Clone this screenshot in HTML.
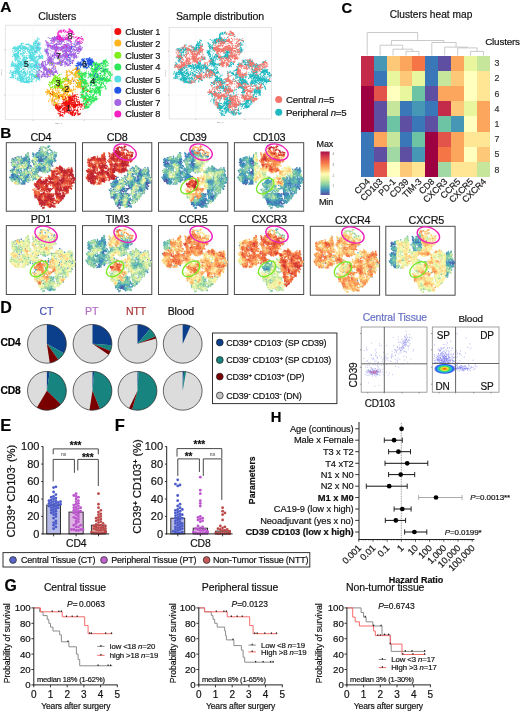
<!DOCTYPE html><html><head><meta charset="utf-8"><title>Figure</title><style>html,body{margin:0;padding:0;background:#fff}svg{display:block}text{font-family:"Liberation Sans",sans-serif;stroke-width:.18px}</style></head><body>
<svg width="520" height="712" viewBox="0 0 520 712">
<rect width="520" height="712" fill="#fff"/>
<text x="0.2" y="11.6" font-size="15.5" font-weight="bold" fill="#000" stroke="#000">A</text>
<text x="57.2" y="20" font-size="10.6" text-anchor="middle" letter-spacing="-0.1" fill="#111" stroke="#111">Clusters</text>
<text x="220" y="19.6" font-size="10.6" text-anchor="middle" letter-spacing="-0.1" fill="#111" stroke="#111">Sample distribution</text>
<rect x="5.3" y="25.2" width="106.7" height="94.5" fill="#fff" stroke="#dedede" stroke-width="0.8"/>
<line x1="33" y1="25.2" x2="33" y2="119.7" stroke="#f1f1f1" stroke-width="0.6"/>
<line x1="5.3" y1="49.8" x2="112.0" y2="49.8" stroke="#f1f1f1" stroke-width="0.6"/>
<line x1="58.6" y1="25.2" x2="58.6" y2="119.7" stroke="#f1f1f1" stroke-width="0.6"/>
<line x1="5.3" y1="72.5" x2="112.0" y2="72.5" stroke="#f1f1f1" stroke-width="0.6"/>
<line x1="84.3" y1="25.2" x2="84.3" y2="119.7" stroke="#f1f1f1" stroke-width="0.6"/>
<line x1="5.3" y1="95.1" x2="112.0" y2="95.1" stroke="#f1f1f1" stroke-width="0.6"/>
<line x1="33" y1="119.7" x2="33" y2="120.9" stroke="#999" stroke-width="0.5"/>
<line x1="4.1" y1="49.8" x2="5.3" y2="49.8" stroke="#999" stroke-width="0.5"/>
<line x1="84.3" y1="119.7" x2="84.3" y2="120.9" stroke="#999" stroke-width="0.5"/>
<line x1="4.1" y1="95.1" x2="5.3" y2="95.1" stroke="#999" stroke-width="0.5"/>
<text x="58.6" y="123.9" font-size="2.2" text-anchor="middle" fill="#777">tsne_1</text>
<text x="2.3" y="72.5" font-size="2.2" text-anchor="middle" transform="rotate(-90 2.3 72.5)" fill="#777">tsne_2</text>
<rect x="169.1" y="27.5" width="102.3" height="91.4" fill="#fff" stroke="#dedede" stroke-width="0.8"/>
<line x1="195.7" y1="27.5" x2="195.7" y2="118.9" stroke="#f1f1f1" stroke-width="0.6"/>
<line x1="169.1" y1="51.3" x2="271.4" y2="51.3" stroke="#f1f1f1" stroke-width="0.6"/>
<line x1="220.2" y1="27.5" x2="220.2" y2="118.9" stroke="#f1f1f1" stroke-width="0.6"/>
<line x1="169.1" y1="73.2" x2="271.4" y2="73.2" stroke="#f1f1f1" stroke-width="0.6"/>
<line x1="244.8" y1="27.5" x2="244.8" y2="118.9" stroke="#f1f1f1" stroke-width="0.6"/>
<line x1="169.1" y1="95.1" x2="271.4" y2="95.1" stroke="#f1f1f1" stroke-width="0.6"/>
<line x1="195.7" y1="118.9" x2="195.7" y2="120.10000000000001" stroke="#999" stroke-width="0.5"/>
<line x1="167.9" y1="51.3" x2="169.1" y2="51.3" stroke="#999" stroke-width="0.5"/>
<line x1="244.8" y1="118.9" x2="244.8" y2="120.10000000000001" stroke="#999" stroke-width="0.5"/>
<line x1="167.9" y1="95.1" x2="169.1" y2="95.1" stroke="#999" stroke-width="0.5"/>
<text x="220.2" y="123.1" font-size="2.2" text-anchor="middle" fill="#777">tsne_1</text>
<text x="166.1" y="73.2" font-size="2.2" text-anchor="middle" transform="rotate(-90 166.1 73.2)" fill="#777">tsne_2</text>
<g transform="scale(0.1)" fill="none" stroke-linecap="round" stroke-linejoin="round"><path d="M376 378zm6 8zm10 5zm-1-1zm-14 21zm-4-8zm0 7zm-1-16zm0 7zm-3 0zm-7 11zm-7 1zm-1-3zm-5-10zm-1 15zm-138 21zm6 1zm3 8zm0-13zm13 2zm27 14zm2-6zm8 2zm12 1zm0-8zm3 4zm8 5zm42-1zm1-8zm0 6zm1-13zm0 10zm3-15zm4 16zm0-6zm1 0zm0 1zm2-6zm5 5zm2-3zm3-10zm2 26zm1-8zm4-3zm2-12zm1-5zm8 13zm1 6zm1 10zm8-28zm2 20zm4 7zm2-7zm0 8zm0-1zm1-4zm6-9zm0-12zm0 4zm1 19zm1 3zm0 26zm-8-6zm-2-17zm-1 0zm-4 19zm0-20zm-2 2zm0 23zm-1-3zm0-5zm0 10zm-1-7zm-2-15zm0 11zm-1-9zm-1 3zm-2-1zm-2 18zm-1-24zm0 21zm-1-8zm-1-9zm-5 11zm0 1zm-3 8zm0 1zm-1-20zm-3 14zm-2-18zm-2 15zm-4-14zm-9 14zm0 5zm-1-17zm0 12zm-1-13zm-2 2zm-2 19zm-2-18zm-1 10zm-1 9zm-1-21zm-4 6zm-3 12zm-7-14zm0-1zm-1-1zm0 3zm-2 8zm-1 7zm-5-5zm0-18zm-1 9zm-1-13zm0 3zm-1 3zm-2 10zm-5-8zm-7 18zm-3-19zm-9 21zm-9-1zm-5-5zm-13-9zm0 7zm0 3zm-2 5zm0-13zm-1 5zm-7-8zm-3 11zm0-3zm-6 2zm-1 1zm0-10zm-1 4zm-1-4zm-2-6zm-1 20zm-6-9zm-1-11zm-11-8zm-1 8zm0 16zm-3-15zm-1 20zm-1-2zm-2-8zm0-4zm0 9zm-3-8zm-1-12zm-2 22zm-3-6zm0-10zm-5 0zm0 17zm0-3zm0 1zm-9 1zm-2-13zm-2 16zm-7-1zm-2-3zm-8-9zm-7 8zm-1-1zm-3 1zm-10-2zm-10 36zm1-24zm10 2zm0-5zm4 4zm4 14zm4-17zm0 1zm3-1zm3 4zm0 7zm2-3zm1 2zm3 15zm1-9zm0-12zm1 5zm2-2zm2-7zm1 7zm0-2zm2 18zm2-23zm1 1zm1 10zm4-8zm2 1zm1-6zm1 7zm0-1zm1 22zm0-15zm3-7zm6 17zm9-2zm1-19zm2 1zm0 16zm2 7zm1-11zm5-11zm7 6zm4-10zm1 6zm1 7zm7-10zm2 20zm5-15zm0-3zm7 19zm1-23zm4 7zm0 6zm8-6zm0-2zm1-2zm2 2zm0 1zm0 1zm1 2zm2 1zm0-6zm1 4zm2-2zm2-4zm2 3zm1 0zm2 14zm1-11zm0 12zm0-13zm2-7zm1 15zm1 13zm0-16zm1-4zm3 3zm2 1zm4 0zm0 0zm4 7zm5 4zm2-9zm0 8zm6-20zm1 19zm1-13zm0 0zm1 1zm0-4zm1 4zm0-8zm3 19zm1-2zm1 4zm4 6zm1-23zm1 1zm3 11zm0-12zm2-3zm6 15zm0-5zm1-9zm6-1zm2 16zm0-11zm2 5zm1 12zm9-23zm6 6zm2 20zm1-9zm0-8zm1-1zm2-7zm0 10zm2 5zm1-13zm2 22zm2-8zm0 3zm1-1zm1-15zm1-5zm3 4zm0 4zm5 13zm0-20zm1 4zm1-4zm1 12zm2-8zm1 0zm5 10zm0-4zm1 9zm1 8zm1-26zm2 10zm0-12zm1 8zm9-9zm46 14zm27 41zm-5-16zm-19 4zm-9-11zm-40 23zm-10-12zm-18-13zm-7 21zm-5-3zm-1-5zm-1-11zm-2 7zm-2 6zm0-15zm-3 2zm-2 8zm-5-7zm0 12zm0-11zm-1 16zm-1 1zm-3-20zm0 10zm-1-11zm0 10zm-1 7zm0-6zm0-3zm-3 0zm-1-3zm-3 14zm-5 2zm-6-6zm0-7zm-3 18zm-5-15zm-1 8zm-5-7zm-3 2zm0-1zm-5 5zm-1 7zm-1-3zm-2 5zm-2-6zm-1-12zm-1 1zm-1 14zm-1-23zm-5 13zm-2-10zm0 1zm-1 15zm-10-14zm-11 19zm-12-22zm0 7zm-8 0zm-5 11zm-5 4zm0-8zm-1 5zm-6-21zm0 14zm-6 6zm-1-18zm-9 24zm-7 0zm-1 0zm-2-2zm-1-20zm-6-5zm-10 28zm-1-14zm-1 8zm-1-10zm-1-11zm-1 3zm-3 19zm-2-20zm-3 10zm0 16zm-5-1zm-3-7zm-2 7zm-7-20zm-1-1zm-2 19zm-3 2zm-3-28zm-1 5zm-7 18zm-8-10zm-6 42zm4-16zm7 8zm5-9zm1-6zm1 16zm0 4zm3 0zm0-10zm3 6zm0-1zm2-5zm1 1zm0 1zm0 3zm1-11zm1 5zm0 10zm0-11zm0 2zm1-5zm1 12zm0-6zm0-3zm2-2zm0-1zm0 2zm2 2zm1-9zm1 8zm1 4zm0-6zm0 3zm1 3zm0-6zm0-7zm1 7zm0-1zm0 8zm1 1zm1-16zm0 9zm0 8zm2 4zm0-5zm2 2zm0-14zm1 16zm0-5zm1 8zm0-10zm2-12zm0 19zm1-13zm0 17zm0-13zm1 18zm1-17zm0 3zm2 11zm0-6zm1 1zm0-2zm1 4zm1-9zm2 3zm0 11zm1 0zm3-8zm1 3zm14-17zm2-6zm12 9zm3 12zm1 2zm4-5zm3-5zm2-13zm12 19zm17 0zm2-2zm18-4zm9 13zm1 0zm3-16zm0 5zm7-8zm0 1zm0-7zm0 22zm2-6zm0 1zm2 4zm1-19zm0 0zm0 8zm1-6zm0 11zm2 5zm5 2zm1-7zm0 9zm1 4zm0-6zm0-15zm0 13zm2 0zm0-1zm0 2zm0-11zm1 16zm0-24zm0 21zm2 3zm3-15zm1 17zm0-2zm2 2zm3 0zm1-3zm1 0zm0-10zm2-9zm3-5zm2 11zm0 10zm0-21zm11 2zm14 18zm10 3zm8 4zm6-18zm2 10zm5-11zm2-4zm3 22zm3-2zm1 0zm6 2zm3-15zm3 15zm2-11zm6 6zm2-6zm0 5zm62 26zm0 4zm-1 1zm-59-18zm0 5zm-4 2zm-3-8zm-7 0zm-4 8zm-3-9zm-2 0zm-4-2zm-2 13zm-3-12zm-2 14zm-1-6zm-11 7zm0 6zm-13 2zm-6-25zm-2 11zm-2-3zm-1-7zm-2 6zm-4 13zm-1 7zm-1-6zm-2-10zm-1 3zm0-8zm-1-6zm-3 9zm-2-1zm-3 20zm-3-2zm-1-9zm-2-17zm-1 14zm-2-13zm-1 24zm-1 4zm0-12zm-1 0zm0-12zm0 11zm-1-9zm0 3zm-1 5zm-1-10zm0 21zm0-19zm-1-1zm-2 21zm0-19zm0 10zm-1-8zm0-8zm0 19zm-1-9zm-2 14zm0-12zm0-6zm-3 5zm0-8zm0 10zm-1-15zm0 0zm-1 17zm0-12zm-2 1zm0-1zm0 1zm-1 13zm0-10zm-2-9zm-1 13zm0-8zm-1 15zm-3-3zm-2-17zm-1 3zm-4 12zm-3-9zm-2 1zm-3-2zm-13 11zm-2-8zm-3-5zm0 11zm-3 2zm-3 9zm0-15zm-5 16zm0-26zm-2 3zm-5 20zm-1 6zm-3-14zm-1-11zm-1 21zm-1-3zm-3 4zm-1-13zm0-7zm-2-1zm-3-4zm-1 22zm-1-8zm-1-1zm-1 11zm-1 1zm-9 3zm-16-10zm-2-4zm-3-4zm-10-5zm-2 7zm-6-8zm-2 24zm-9-26zm0 16zm-1 8zm-1-25zm0 5zm-5 20zm0-19zm-3 5zm0-13zm0 29zm-1-11zm0-13zm-2-4zm-1 23zm-3-20zm-4-2zm-2 17zm-2-1zm-23 24zm2 7zm7 9zm20-21zm3-6zm0 7zm20 6zm3 14zm2-14zm1-10zm2 1zm3 15zm6-19zm3 11zm2 2zm3 14zm0-17zm7 8zm5-6zm1 10zm0 2zm3-7zm11 0zm3-12zm1 6zm4 12zm0-17zm2 11zm0 0zm1 9zm3-5zm5 7zm1-24zm3 21zm1-13zm2 14zm2-10zm1-15zm0 2zm2 17zm4 6zm0-17zm1 11zm0-13zm9 14zm4-10zm4 13zm12-16zm10 0zm5-6zm8-1zm4 5zm6-4zm1 1zm6-3zm3 6zm2 2zm0-3zm2 10zm2-4zm2-10zm1 16zm1 0zm0-4zm1 1zm0-2zm1 2zm1 4zm0 3zm0-22zm1 8zm1 4zm1-2zm2 17zm1-8zm2 8zm2 0zm1-13zm0 14zm1-15zm3 16zm0-5zm0-11zm4 14zm1-2zm0-4zm2-14zm1 18zm4-3zm2-17zm2 22zm1-9zm0-17zm55 37zm-34 8zm-4-15zm-9 24zm-6-14zm-5 17zm-1-26zm-2 22zm-4-8zm0 11zm-1 0zm0-6zm-2 5zm-1-2zm0-18zm-1 18zm-2-6zm0-3zm-1 10zm0 1zm-1 2zm0-6zm0 7zm-1-18zm0 16zm-2 0zm0-8zm-1 5zm-2-11zm0 13zm-1-19zm0 22zm0-5zm0 4zm0-18zm-1 5zm-2 10zm0-3zm-2 4zm-2-11zm0 13zm-1-2zm0 2zm-2 0zm0-3zm-3-15zm-5 19zm0-4zm-1 2zm-5-12zm-1 11zm0-22zm-1 3zm-11-1zm-5 11zm-1-5zm-2 6zm-1 10zm-1-5zm0-2zm-2 4zm-2-2zm-1-9zm-2-4zm0-8zm0 19zm-4-21zm-8 21zm-3 8zm0-5zm-3-12zm-2 6zm-1-5zm-4 12zm-4-10zm-3-8zm0 10zm0 11zm-6-15zm-3 11zm-1-20zm-4-2zm-2 12zm-4 3zm-11-2zm-1-9zm-2 22zm-2-11zm-4-2zm-4 5zm-2-14zm-1-4zm-2 15zm-1-10zm-1 4zm0 5zm-1-8zm0 5zm0 4zm-1-10zm-1-4zm0 22zm0-17zm-1-2zm-2 6zm-3 14zm-1-14zm-1-4zm0-8zm0 29zm-1-14zm0-5zm-1-8zm0 17zm-3-12zm-2-5zm0 5zm0 8zm0-3zm-1 6zm-2-9zm0-9zm-1 19zm-1 3zm0-17zm0 8zm-2-7zm-1-3zm-3 22zm-1-13zm0 17zm-1-10zm0-10zm-2-8zm-1 13zm-1-6zm-2 14zm0-10zm0 4zm-1 12zm-1 0zm0-9zm0 0zm-2 6zm0 2zm-1-1zm-2 0zm-1-3zm-1 4zm-1-9zm0 7zm-1 1zm-2 3zm0-6zm-7-21zm-2 15zm-2 9zm-1-13zm-2 1zm0 5zm-12 3zm-1-16zm-2 2zm0-7zm-1 21zm-1-12zm-1 15zm-3-1zm-3-7zm-1-5zm-2 16zm-4-18zm-1-2zm0 5zm-2-7zm-1 9zm0 13zm-2-27zm0 28zm-3-12zm-3 18zm11-4zm19 0zm0 8zm5-5zm0-2zm5 26zm1-6zm1-18zm1 17zm1 2zm1 5zm4-20zm1-6zm2-2zm4 9zm0 1zm0 4zm0 0zm1-10zm0-2zm1 17zm1-1zm1 6zm1-2zm2-10zm0-7zm0 1zm0 23zm1-22zm1 11zm0 6zm2-14zm1 14zm1-21zm0 23zm1-24zm0 5zm1 7zm1 3zm0-11zm2-6zm2 17zm0-14zm1 22zm4-17zm1 11zm1 1zm3-1zm2 9zm1 0zm0-8zm3-16zm8-3zm0 11zm2-7zm4 12zm0 1zm10-12zm6 19zm6-23zm1 26zm4-19zm8 20zm5-28zm9-1zm12 14zm10 5zm1-19zm2 1zm2 14zm6-14zm6 20zm1-18zm2 19zm1-19zm1 5zm1-6zm0 0zm1 27zm2-15zm3-7zm1 1zm1 6zm2-12zm0 10zm0-3zm1 1zm0-9zm1 12zm1 5zm10-13zm1-3zm1 0zm1 22zm2-14zm1-2zm0 1zm2-9zm0 17zm3-13zm3 2zm0 10zm2-13zm1-1zm0 12zm2-12zm2 1zm1 10zm1-3zm3 3zm0-2zm5-1zm1-3zm1-1zm0-2zm1-1zm1 3zm1 22zm1-20zm1-6zm0 3zm1-5zm1 11zm1 9zm0-8zm1 10zm3-15zm4 22zm7-22zm0 8zm1-15zm1 28zm0-24zm1 12zm0-7zm1-6zm5 9zm9 13zm0-10zm2-12zm-16 31zm-2 6zm-2 0zm-3-5zm-2-2zm-1 10zm-2-12zm-12 26zm-2-5zm-7-7zm-5-14zm-10 3zm-6 24zm-3-27zm-10 20zm-4-12zm-9 8zm-10 5zm-4 6zm-8-1zm-2-23zm-16 14zm-1 9zm-23-14zm-2 8zm-6 7zm-5-24zm0 2zm0 20zm-2-3zm-3-19zm-3 1zm-10 10zm-1 1zm-2 13zm-2-3zm-4-3zm-1-5zm-1 5zm-9 6zm0 0zm-3-22zm-3 20zm-1 0zm-6-12zm-1-5zm0-5zm-1 22zm0-2zm-1-4zm-1-11zm0 14zm-1-11zm0-5zm0 4zm0 16zm-2-11zm-1 9zm0-26zm0 13zm0 5zm0-13zm-1 9zm0-2zm-1 1zm-2 9zm0-1zm-1-11zm0 14zm-1-23zm0-1zm0 22zm0-19zm-1 9zm-2-12zm0 27zm0-12zm-1 5zm-1-11zm-1 15zm-1-9zm-1-2zm-3-12zm-2 28zm-5-3zm-1-9zm-1-3zm0 14zm-2-27zm-2 27zm-1-4zm0 5zm-12-1zm-2-6zm-23-5zm-2 12zm-9 13zm18 10zm1-18zm3 0zm4 15zm1 10zm1-3zm1-22zm2 14zm2-4zm5-3zm2-1zm3 4zm10 4zm6-9zm0-3zm2 8zm3 7zm1 1zm6-17zm1-5zm0 3zm3 9zm0-12zm3 0zm2 6zm1 10zm1-4zm1-9zm2 21zm1-19zm0 11zm2-14zm0 4zm1 22zm1-1zm0-5zm1-3zm0-9zm0 5zm1 1zm0-7zm2 15zm2-13zm1 7zm3 9zm1-24zm1 14zm0-5zm4 9zm3 1zm3 2zm8-19zm2 24zm2-20zm2 20zm2-2zm3-7zm2-14zm1 10zm3-10zm0-3zm8 10zm3-3zm3-5zm1 22zm0-21zm1 3zm1-1zm2 4zm2 5zm0-13zm4 22zm0-8zm6 5zm9-15zm0 8zm2 2zm2 2zm0-9zm16 11zm1-17zm4 1zm2 18zm7-12zm3 6zm4 3zm1 4zm4 1zm0-2zm4-11zm5 8zm5 7zm8 1zm4-29zm12 9zm9 4zm1 15zm4-2zm2-20zm2 4zm13 7zm50-14zm-49 49zm-5 1zm-3 3zm-3-7zm0-3zm-2-9zm-1 2zm-1-2zm-2 5zm0 9zm-1-11zm-3-5zm-2-4zm-1 1zm0 19zm-3-12zm0 0zm-1 15zm0-16zm0 6zm-1-13zm0 23zm0-7zm-1 11zm0-7zm0 1zm0-1zm-1-10zm0-3zm-1 1zm0-3zm0 11zm0 10zm-1-5zm-1-10zm0-12zm0 10zm-1-8zm0 11zm0-9zm-2 1zm0 11zm0 7zm0-6zm0-13zm-1 20zm0-17zm0-4zm-1 14zm0-7zm0-8zm0 19zm-1-16zm0 9zm-1-8zm0 9zm0 13zm-1-13zm-1 8zm0-9zm0 8zm-1 4zm-3-1zm0-9zm-1-6zm-1 0zm-3 11zm-1-8zm-1 3zm-3-6zm-1-9zm0 3zm-1 5zm-3-5zm0 0zm-2 8zm-9 11zm0 3zm-2-25zm-1 8zm0 10zm0 9zm-1-28zm-1 2zm-14-2zm-4 21zm-1-17zm0-3zm-1 20zm-7-3zm-3 0zm-2 5zm-10 6zm-8-10zm-3-14zm-5 24zm-3-26zm-4 1zm-1 13zm-6-6zm-2 0zm-4-2zm-2 17zm-4-7zm-3 5zm-6 0zm-2-2zm0-8zm-2 11zm0-25zm-4 16zm0-15zm-1 25zm-3-18zm-1 4zm-1 14zm-1-17zm-1 5zm-1 1zm-1 2zm-1-14zm0 18zm-2 7zm-3-12zm-4 9zm-1-18zm-11 10zm-2 7zm-21-15zm-4 1zm-15-2zm0 12zm-1 7zm0-8zm0-17zm-1 25zm-1-3zm0-20zm0 3zm0-3zm-2 17zm-7 1zm-1 1zm-1-16zm-3 6zm0-10zm-2 25zm0-20zm-9 16zm-9-1zm54 11zm2-3zm13 9zm2-5zm5 14zm1-18zm0 15zm1 6zm3-11zm1-3zm9 14zm1-16zm4 17zm4-21zm0 23zm0-25zm2 8zm1 6zm0 14zm3-24zm1 23zm2-3zm0-18zm1 18zm0-22zm0 4zm0-6zm1 14zm1 5zm0-16zm0 19zm2-8zm1-9zm1 9zm0 2zm0 4zm1-9zm4 1zm0 4zm0 13zm0-26zm2 20zm0 0zm1-1zm1-19zm0 12zm1 14zm1-15zm0-5zm1 12zm0 6zm3-27zm3 10zm0 18zm0-21zm2-2zm4-2zm1 12zm1-15zm14 13zm0 16zm10-25zm0 13zm0-17zm4 6zm3 20zm1 2zm0-4zm1 4zm6 1zm4-15zm5-14zm1 18zm5-11zm2-6zm10 12zm4 13zm0-6zm0 5zm2-25zm7 7zm2 9zm5 4zm11-11zm0-4zm22 19zm1-24zm6 12zm2-11zm2 7zm0-8zm8 0zm0 5zm2-2zm1 6zm2-5zm0 9zm1-10zm1-3zm2 5zm2 14zm7 0zm-37 14zm-35 3zm-13-6zm0 9zm-11-4zm-5-2zm-6 8zm-1-6zm-1 3zm0-6zm0 1zm-1 0zm-1 16zm0-1zm-6-5zm-2-9zm-5 5zm-3 8zm-3-2zm-1-2zm-2-11zm-2-1zm-1 1zm0 11zm-2 2zm-6-13zm-3 12zm-4-11zm0 8zm-4-10zm-1 7zm-2 5zm-3 0zm-2-10zm-3 1zm0-4zm-2 4zm-2-1zm-2-3zm-1 2zm-1-1zm-4 2zm-1 7zm-2-9zm-9 12zm-4-10z" stroke="#55dde2" stroke-width="12"/><path d="M587 326zm43 33zm-27-1zm-11-1zm-10 2zm-100 16zm15 8zm14 0zm12-1zm3-8zm2 15zm1-2zm2-7zm2-2zm5 2zm0 1zm4-6zm3 9zm0-19zm0 9zm2 14zm2-11zm1 4zm0 3zm1 4zm1-4zm3-5zm0 8zm0-10zm1 3zm1 3zm0 6zm1-7zm1 7zm2-5zm1-13zm0-4zm1 8zm0 3zm1-13zm0 14zm0-1zm0-9zm1 16zm1-13zm0-4zm2 7zm1-1zm1-6zm0 18zm0-6zm1 8zm0-5zm1 4zm2-11zm0-10zm2 21zm0-27zm0 20zm0-20zm2 17zm0-11zm2 9zm1 12zm0-8zm3 4zm1 3zm0-21zm1 1zm1 10zm2 4zm1-6zm0 9zm1-9zm0 1zm2 6zm1-2zm0 8zm0-26zm2 26zm0-11zm0 10zm1-6zm3-9zm0 7zm1 8zm2-8zm1 11zm1-3zm1 0zm0-10zm2 9zm2-10zm0 4zm1 8zm3-9zm8 0zm10 3zm3 7zm0-6zm8-6zm8 9zm6-1zm1-3zm5-2zm9 7zm0-1zm7-2zm0-8zm5 0zm104 41zm-17-4zm-1-19zm-13 12zm-2 14zm-1-1zm-50-9zm-2 10zm-1-6zm-1-8zm-7-8zm-4 14zm-2-11zm-1-8zm-2 16zm-3-17zm0 4zm-6 6zm-4-3zm-2-6zm0 1zm-1 25zm-4-21zm-2-3zm-8-3zm0 4zm-3 1zm0-3zm-3 0zm-4 7zm-6-4zm-4 16zm-1-10zm-1 10zm0 2zm0-10zm-1-5zm0-4zm-1 11zm-2 1zm0-1zm-2 1zm-1-5zm0 5zm-1 0zm-1-8zm-1 13zm0 0zm0-2zm-1-15zm-1 12zm0-10zm0 2zm-1 10zm-2 8zm-1 2zm0-26zm-1 15zm-2-13zm0 0zm-1-2zm0 10zm-1 11zm-2-17zm0 4zm0-5zm0 2zm0-1zm-1 6zm-1-8zm-2 14zm0-8zm-1-1zm0-5zm-2 4zm0 19zm-4-18zm-1 6zm-3 1zm-1-9zm-2 17zm-2-1zm-2-4zm0-14zm-4-1zm-7 3zm-3 15zm-2-18zm0 17zm0-20zm0 1zm-7 6zm-2-5zm-5 4zm-1-5zm-3 7zm-2 10zm-1-16zm-4 8zm-1-6zm-1 9zm-3 7zm-1-21zm0 6zm-1 9zm-1-12zm-2 8zm-3 9zm0-19zm-1 17zm0-11zm-4 13zm-7-9zm-1 11zm0-4zm-2-4zm-4-6zm-5 4zm-3 3zm-44 10zm-2-8zm-4 1zm-73 24zm79 16zm1-18zm9-8zm3 14zm2 12zm7-2zm2-19zm4 16zm1-5zm16-4zm1-3zm10-12zm1 6zm2 8zm13 5zm7-16zm4 22zm10-3zm2 2zm6 0zm3-10zm1 15zm4-5zm1 4zm1-4zm1-4zm1-19zm6 22zm2-3zm5-19zm1 15zm2 3zm1 5zm1-17zm1 12zm1-11zm8-8zm3 19zm2 8zm8-10zm4-13zm19 21zm6-22zm4 21zm12 0zm1 5zm6-5zm3-8zm9 3zm1-3zm8 6zm3 6zm17-24zm2 11zm1 10zm10-9zm19 3zm1-19zm4 19zm14 6zm2-7zm1-2zm2-6zm0 19zm7-24zm2 7zm0 10zm7-14zm2 18zm1-16zm6 5zm4-11zm0 3zm1 20zm4-11zm0-1zm11-1zm4 1zm11 42zm-15 0zm-2-12zm-1 13zm-5-19zm-6 6zm-3-1zm-1 6zm-8 0zm-4 7zm-8 2zm-2-28zm-3 27zm-9-27zm-1 9zm-1 16zm-3-14zm-1 4zm-1 0zm-8 3zm-2-3zm-9 2zm-2-6zm0 1zm0 2zm-5 4zm-1 1zm-1 1zm-2-7zm-2 6zm-3-5zm-3-14zm-1 15zm-2-6zm-1 4zm0 11zm-2-9zm-2 1zm-5 12zm-1-10zm-2-8zm-3 16zm0-10zm-1 9zm-1-22zm-3 16zm0 3zm-1-21zm-5 8zm-2 13zm-5-18zm0-1zm-1 15zm0 0zm-1 6zm-1-11zm0 13zm-1-14zm0 9zm0-2zm-1-15zm-5 14zm0 7zm-3-22zm0 2zm-1 20zm-2-23zm-2 17zm-1-4zm-2-9zm-1 17zm0-5zm-1 7zm0-3zm-6-1zm-1 5zm-2-19zm-1-7zm-4 26zm-1-3zm-3 3zm-2-13zm0 4zm-3-16zm-6 13zm-1 8zm-5-8zm-1 3zm-2-2zm-1 8zm-1-8zm-6 11zm-1 1zm-4-3zm-11-4zm-6 4zm-3-6zm-5 7zm-3-2zm0 1zm-1-9zm-5 4zm0-20zm0 26zm-1-9zm0 6zm-2-16zm-1 11zm-2 7zm-1-17zm-1 9zm0 12zm-1-10zm-1-1zm0 11zm0-19zm0 9zm-5-8zm0 16zm-2 0zm0-19zm-2 20zm-1-2zm-2-25zm-2 12zm0-9zm0 14zm0-8zm-2 9zm-1 8zm-1-1zm-1-9zm-1 5zm-2-2zm-1-15zm-1 8zm0 12zm-1-6zm-2-6zm-1 12zm0-13zm0 5zm-1 10zm-2-20zm-1 7zm0-4zm-1 5zm0 4zm-2-3zm-1 3zm-2 9zm-1-14zm-2-2zm-1 10zm0-13zm-1 10zm-8-6zm-1 4zm-2 3zm-2 0zm-1 9zm-3-23zm-2-3zm-4 8zm-4-3zm0-2zm-2 11zm-1-14zm-5 26zm-3-18zm0 7zm-2-7zm0-4zm-96 20zm69 15zm2 17zm2 0zm10-7zm0 3zm1-3zm2 7zm0-15zm5-6zm0 17zm2 4zm2-15zm1 2zm9-1zm16 8zm12-17zm2 2zm13-6zm1 15zm2-9zm6 2zm4-6zm1 5zm1-2zm2 5zm5 2zm0-4zm0 18zm1-17zm4 8zm0-3zm1-15zm1 7zm1 12zm7-4zm0-14zm1 13zm0-5zm1 17zm3-16zm4 9zm0-12zm1 11zm1-12zm3 3zm0-10zm1 9zm1-7zm3 14zm5-12zm1 0zm4-3zm1 0zm4 17zm0-6zm2 2zm5 4zm4-14zm0 14zm3-10zm0-1zm1-5zm1 1zm1 16zm4-11zm1 0zm1-2zm2 22zm1-25zm1 1zm1 0zm2 14zm1-8zm4-8zm4 0zm2 25zm0-20zm2-3zm0 2zm2 21zm4 2zm2-17zm1 7zm4-18zm1 28zm2-29zm1 19zm5-9zm1 3zm1 12zm0 0zm0-24zm1 17zm0 10zm0-2zm1-22zm1 9zm1 15zm0-12zm1-15zm1 23zm0-24zm0 0zm1 3zm2 3zm1-1zm0 0zm2 20zm3-1zm2-21zm1 13zm1 12zm1-21zm1 1zm2 3zm5 16zm0-21zm3 15zm3 8zm1-13zm1-3zm1-8zm2 17zm0-13zm1 18zm1-11zm0 13zm2-12zm0-14zm1 2zm16 14zm2 2zm2-10zm8 1zm1-5zm2 16zm3-8zm3 2zm3 5zm1-8zm8 11zm7-16zm2 6zm6 2zm2 3zm2-7zm1 5zm2 9zm3 1zm3-11zm0-13zm2 6zm8-9zm3 16zm1-10zm3-3zm2 12zm1-9zm0 19zm0-21zm0-5zm1 23zm0-20zm0 3zm2-5zm3 9zm3 7zm0-7zm2 2zm-18 19zm-7 11zm-1-8zm-4 20zm-1-21zm-3-2zm-8 24zm-3-21zm-1-3zm-4-1zm-8 16zm-2 4zm-1-2zm-2 7zm0 3zm-4-4zm-8-18zm-1 21zm-4-15zm-2 17zm-6-6zm-1 6zm-7-25zm-1 1zm-3 3zm-1 17zm-2-9zm-2-6zm-4-6zm-5 18zm-1-11zm0 18zm-3-14zm-1 5zm-1 6zm-1 0zm-2-21zm-9 2zm-1-5zm0 1zm-10 25zm-1-25zm0 21zm0-21zm-7 6zm-1 14zm-1-20zm0 9zm0 10zm-9 3zm-1-23zm0 20zm-1 7zm-1-22zm0 0zm-2-2zm-11 15zm0-18zm-1 25zm-2-22zm-3-1zm-8 5zm-51 8zm-7-4zm-4 10zm-2-14zm-1-1zm-2 19zm-3-25zm-4 10zm-1-4zm-4 9zm-1 12zm-2-1zm-4-2zm-2-6zm-19-12zm-15 20zm-16-3zm-5-7zm0 10zm-5-24zm0-4zm-5 15zm-1 8zm0-16zm-1-4zm0 0zm-1 9zm0 8zm-1-15zm-1 15zm-2-15zm-1-5zm0 17zm-2 12zm-8-25zm-1-3zm-97-1zm35 52zm84-13zm3 19zm1-12zm4-4zm0-5zm13 18zm0 3zm1-4zm4 3zm8-15zm10 12zm1 0zm4-16zm1 8zm1-8zm0 16zm4-11zm3 7zm1-2zm7-18zm1 14zm1 14zm1-14zm0 14zm0-21zm0-3zm0 6zm1-10zm6 5zm0 11zm1-7zm1 5zm1-13zm8 9zm3 10zm1 5zm2-12zm0 2zm1 11zm0-8zm0-15zm2 9zm1 12zm0-6zm4 9zm0-6zm2 7zm2-8zm0-7zm1 11zm1-16zm0 18zm3-12zm0-3zm2 4zm1 8zm4-13zm1 19zm3-14zm4 9zm3-2zm3-10zm8 14zm4-12zm5-3zm4 13zm1-21zm3 20zm0-12zm1 4zm0 1zm5-2zm5 4zm0 8zm1 0zm1-11zm4 0zm0 10zm1-2zm0-23zm1 24zm2-21zm1 4zm1 5zm0 12zm1-18zm1-2zm1 19zm1-7zm0 11zm4-12zm0 6zm1-9zm0-7zm0-2zm2 14zm4-5zm1-10zm3 18zm1-5zm2-2zm0 2zm2 12zm1-21zm1 18zm1-18zm1 18zm1-23zm0 14zm1 3zm0-6zm0 9zm3-9zm1-7zm2 6zm5-7zm0 8zm3-6zm1-2zm1 1zm3 14zm2-8zm0 2zm0-7zm2 0zm4-2zm0 17zm1-1zm1-10zm1 9zm0 1zm2-10zm1-3zm0 1zm1 1zm2 9zm2-13zm0 8zm6-10zm0 0zm2 2zm1 22zm3-23zm0 8zm1-7zm0 12zm3 0zm5 0zm0-11zm1-4zm1 24zm0-6zm0 1zm1-14zm0-4zm1 2zm1 21zm1-6zm1-15zm0 19zm1-9zm1-7zm6 15zm2 0zm6-9zm14 14zm-14 3zm-1 9zm-4-7zm-7-3zm-4 2zm-5 11zm-5-6zm-1 21zm-3-18zm-5-6zm-17-4zm-9 26zm-10-23zm0 2zm-1 21zm0-14zm-14 11zm-1-21zm-6-1zm-2 15zm-1-5zm-1-9zm-2 1zm-1 0zm-1 14zm-1 11zm-2-8zm-3-5zm-3-9zm-1-5zm-1 2zm-2 4zm-3 2zm-3 14zm-4-3zm-1 2zm0-20zm-10 19zm-4-5zm-5-14zm-5 6zm0-7zm-6 25zm-4-26zm-2 6zm-4-1zm-1 1zm0 14zm-2 0zm-5-10zm-4-4zm-5-4zm-5 18zm-2-12zm-18 1zm-14-5zm-3-4zm-3 12zm-7 12zm-13-21zm0 11zm-1 10zm-2 5zm0-12zm-1-8zm-4 15zm-2-10zm-3 14zm0-1zm-2-22zm-1 12zm-1 1zm-1 3zm-1-4zm0 4zm0-13zm-1 19zm-1-3zm-1-24zm0 16zm-6-16zm0 2zm-1 21zm0 0zm0 0zm0-12zm-1 15zm-1-1zm0-8zm0-9zm-1 20zm0-26zm-1 26zm-3 0zm-2-26zm-5 24zm-6-10zm-49 43zm3-12zm0 12zm5-3zm3-9zm14 0zm8 2zm6-13zm16 3zm1 17zm6-7zm1-3zm2-16zm2 26zm0-22zm1 13zm1-15zm0 8zm1 8zm0-16zm0 1zm2 1zm1 12zm1-10zm0 15zm1-2zm0-11zm1 21zm0-28zm0 1zm1 17zm0 10zm0-9zm0-8zm0 0zm1 11zm1-12zm1 17zm0-5zm1-13zm1-7zm0 0zm1 12zm1 4zm1 5zm1-4zm0-8zm0 9zm1 2zm0 4zm1-3zm1 3zm1-21zm0-6zm3 28zm1-10zm1-4zm0 6zm2 7zm1-9zm1 8zm1-4zm0-21zm0 10zm1 11zm0 4zm0-2zm0-7zm7 5zm1 2zm1 2zm4-26zm1 21zm2 2zm0 3zm14 2zm16 1zm6-2zm5-3zm1 4zm2-4zm0-2zm7 4zm1 1zm5-8zm1-14zm4 22zm0-8zm2-8zm1 18zm1-1zm1 1zm1-12zm0-10zm4 5zm0 10zm0-4zm2 0zm0 6zm2-14zm1 11zm0 7zm2-4zm1 3zm1-16zm1-2zm4-1zm1 16zm0-4zm0 2zm2 0zm1-14zm1 12zm1 5zm4-18zm1-2zm1 6zm10 11zm3 5zm2-15zm3 1zm5 11zm0-4zm4 3zm7-21zm5 9zm7-5zm9 13zm0-3zm4 4zm0-17zm9 7zm7 9zm7 2zm2-19zm2 22zm2-1zm0-15zm1 12zm1-15zm0 2zm10 0zm2 4zm50 15zm-62 8zm-1-4zm0 2zm-3 0zm0-1zm-19 22zm-4-20zm-1-2zm0 18zm-1-13zm-11 8zm0 0zm-1 9zm-2-12zm-2 13zm-3-14zm-2 17zm-2-27zm-2 22zm0-2zm-6-6zm0-6zm-2-8zm0 15zm-5-14zm-2 5zm-3-2zm-3 14zm0-14zm-1-3zm0 11zm-2-6zm-20 12zm-7-3zm-2-9zm-1 9zm-2-12zm0 23zm-3-25zm-3 9zm0-10zm-1 3zm0-1zm-1 11zm-3-13zm0 24zm0-22zm-3 2zm0-2zm-1 1zm-1 1zm-3 3zm0-4zm0 3zm0 0zm-3 3zm-1 4zm-2-8zm-8-2zm0 2zm0-2zm-2 1zm-2 10zm0-14zm-1 3zm-2 0zm-1 0zm0 3zm-12 5zm-6-6zm-7 2zm-6 15zm-3 5zm-2-26zm-5 8zm-2-1zm-3 15zm-3-20zm-2-1zm0 12zm-4-3zm0-8zm0 0zm-3 12zm-1-7zm0-1zm-2-5zm0 11zm-2-11zm-1-2zm0 9zm0 16zm0-14zm-7-4zm0-2zm-1 2zm-3-7zm-4 19zm-9-17zm-8 5zm-1 1zm-8 8zm-5 4zm-10-3zm-1-15zm-4 27zm-11-17zm0 14zm-4-6zm-2 4zm-7-23zm0 20zm-2-13zm-1 19zm-1-6zm-2-9zm-1 16zm-1-9zm-1 2zm-1-5zm-1-6zm0-2zm0-1zm0 10zm-6 4zm-14 0zm-7-9zm-26 6zm7 30zm31-5zm4 4zm11-6zm7-5zm0 4zm5-9zm4 4zm1-5zm0 24zm3 1zm1-12zm3-3zm1 13zm1 0zm3-21zm1 11zm1 8zm0-12zm3-4zm0 16zm1 1zm1-19zm1 11zm0-12zm0 26zm0-24zm0 23zm2 1zm0-11zm0-14zm1 20zm1-5zm5 10zm4-9zm0 1zm2 3zm21 3zm2 3zm3-4zm24 4zm5-19zm3 14zm8-5zm1-12zm15 5zm5 14zm2-5zm93-19zm122 13zm-204 38zm-1-3zm-4 4zm-1 5zm-2-15zm-1-6zm-3 20zm-3-8zm-6 9zm-3-29zm-3 4zm-5 5zm-9 17zm-3-7zm-4 5zm-1-11zm-1 14zm-3-2zm0-15zm-1 10zm0 5zm-2-4zm-1-20zm-2 19zm0 5zm0-3zm-3-3zm-1 1zm-1-10zm-2-3zm0 8zm-2-1zm0 9zm-1-3zm-1 7zm0-14zm0-6zm-1 19zm0-16zm-2 13zm0-7zm0 10zm0 3zm-4-7zm-1-2zm0-14zm-1 15zm0-8zm-1 5zm-2-13zm-1 14zm0 7zm-1 0zm0-17zm-3 2zm0 8zm0-8zm-2 8zm-4 8zm0-13zm0 5zm-1-19zm-1 18zm-1-14zm-1 6zm-2 12zm-2-17zm-3 13zm-3-8zm-4 4zm-1-11zm-1 5zm-4-2zm-2 2zm-2-4zm-1 5zm-4 14zm-2-8zm-2-12zm0 25zm-20-1zm-5 2zm-2-6zm-11-10zm-4-3zm0 3zm-11 8zm-12 6zm-4 30zm11-9zm2 3zm5-10zm4 17zm7-3zm0-24zm27 24zm3-2zm2 2zm0-9zm1-9zm3 10zm4 2zm2-15zm2 14zm2 7zm3-7zm2 4zm3-4zm13-11zm1 7zm1 9zm0-13zm2-8zm3 3zm2 16zm1-3zm4-17zm1 20zm0-7zm5 9zm2-22zm1 27zm9-18zm0-2zm1-1zm1 11zm2-18zm3 26zm5-10zm0-14zm2 1zm1 16zm2-15zm2 1zm0 3zm3-4zm5 0zm0 23zm2-19zm1-6zm1 15zm1-12zm0 7zm2 8zm2 7zm3-27zm1 21zm1-3zm2 9zm3 0zm0-1zm1-19zm10-2zm7-1zm10-4zm4 14zm152-2zm-154 47zm-38-25zm-29 7zm-12 4zm-8-15zm-1 3zm-2 13zm-4-16zm-5 12zm0 11zm-2-23zm-1 1zm-11 18zm-3-6zm-2-13zm-3 8zm-5-5zm-2 13zm-12-7zm-1-4zm-2 4zm-2 3zm-7 6zm-4 5zm-3-23zm0 20zm-2-10zm-14 0zm-1 11zm-9-14zm0 1zm-1-7zm-1 18zm-10-9zm-1 4zm-4 3zm-1-11zm0 12zm-11 1zm39 16z" stroke="#a365e3" stroke-width="12"/><path d="M1061 592zm-163-1zm-48 35zm46-24zm35 24zm5-6zm0 8zm4-1zm9-1zm15-2zm65-12zm1 16zm0-19zm0 16zm4-1zm2 2zm0-16zm2 5zm1-7zm0-4zm4 3zm1 12zm4-15zm0 8zm3 4zm0-10zm1 5zm2-8zm1 4zm6 6zm3 6zm1-7zm5 16zm0-11zm6 3zm7 15zm-2 18zm-10-7zm-3 10zm-13-24zm-2 7zm0 8zm-2 6zm-1-15zm0 20zm-5-27zm-1 0zm-6 14zm-3-6zm-2 1zm-3 15zm-2-16zm-2 17zm-2 3zm-1-3zm-1 3zm-1-4zm-2-18zm-7 2zm-1 2zm-2-6zm-4 2zm-5 10zm-2 10zm-3-1zm-1-18zm0 8zm-1-1zm0-7zm-7 13zm0-6zm-1 13zm-1-8zm-2-11zm-2 17zm0 3zm0-15zm0 8zm-1 2zm-1-7zm-1 8zm-1-13zm0 15zm-2 0zm-1-18zm0-4zm0 16zm0-5zm-6 4zm-2-2zm-1 3zm-2-17zm-1 11zm-2 1zm-2-1zm0 1zm-2 1zm-1 3zm-1 9zm-1-23zm-3-3zm-2 23zm-1 1zm-1-22zm-2 10zm-3 1zm0-14zm-4 5zm0-5zm-5 1zm-1 17zm0-13zm-1 18zm-1-23zm-13 26zm-6-3zm-3-5zm-4 4zm0-14zm-11 5zm-26 2zm-3 12zm-8-23zm-57 53zm5-25zm31 12zm39 5zm12-17zm8 9zm15 15zm8 1zm1-10zm1 0zm0-8zm0 5zm1 3zm1-14zm6 20zm1-21zm0 23zm17 0zm4-1zm0-11zm1 8zm0-15zm2 5zm1 1zm1 1zm2-8zm0 14zm1-8zm0 7zm0-9zm3-8zm1 15zm1 1zm1 6zm0-8zm4-5zm1 8zm0-1zm1-11zm2 8zm1-3zm2-5zm2 5zm0-6zm6 22zm3-8zm6-5zm4 9zm2-4zm2-5zm0 5zm3-13zm2 13zm2-21zm3 1zm1 23zm6-6zm1 6zm3 2zm7-26zm1 20zm3-4zm2-14zm1-1zm1 21zm1 1zm0 6zm3-24zm11 23zm2-17zm6-2zm1 20zm3-28zm0 28zm7-29zm1 28zm13-1zm19 30zm-5 1zm-14-7zm-3-9zm0 11zm-4-11zm-2-3zm0-9zm0 17zm0 12zm-2-20zm-3-1zm-1-2zm-1-3zm-1 23zm-2-26zm0 1zm-4 13zm0 4zm-1-16zm-1 4zm-3 16zm-1-14zm-1 5zm-1-9zm-1 13zm-2 0zm-5-1zm0-13zm0 16zm-1-9zm-2 10zm-1 5zm-4-14zm-2 7zm0 8zm-1-14zm0-8zm-1 20zm0-9zm-2-7zm-1 16zm0-15zm0 20zm-3 0zm-4-11zm-6 4zm-10-5zm-1-4zm-5-13zm-1 0zm-1 5zm-12 7zm-1-3zm-5 13zm-3-21zm-5 5zm-1 8zm-2 10zm-2-19zm-1 21zm-2-26zm-2 16zm-1-3zm0-2zm0 17zm-1-26zm0 8zm-1 16zm-1-26zm-3 17zm-1 1zm-1 7zm0-13zm0 16zm-1 0zm0-2zm-3 2zm-2-6zm0-7zm-1-10zm-1 23zm-7-3zm-1-23zm-1 17zm-1 7zm-2 2zm-1-8zm0-10zm-1 14zm-2-12zm-3-3zm-5 17zm-5-8zm-29 11zm-22-8zm-62 6zm-1-18zm-2 18zm-3-8zm0-4zm-7 1zm-1-1zm-4 11zm-3 2zm-5-6zm-7 12zm1-4zm0 3zm5-1zm2-1zm2 11zm4-1zm3 16zm1-5zm4-2zm3-4zm3-6zm1 16zm2-7zm2-19zm2 17zm9-4zm1 15zm0-9zm2 0zm2-17zm0 21zm0 0zm1 5zm5-14zm0 3zm3 10zm1-7zm1 6zm2-11zm4 11zm0-1zm5-10zm0-4zm2 0zm1 14zm2-14zm2-4zm1 20zm4-22zm3 11zm2 11zm1-23zm2 16zm6-6zm15 1zm7 6zm4 4zm7-3zm3-1zm2 0zm0 6zm2-17zm8 12zm0 1zm9 0zm5-5zm0-13zm1 24zm3-26zm1 0zm2 9zm3-12zm0 18zm2 11zm0-13zm2-7zm0 2zm11 6zm2 10zm0-4zm3 2zm1-11zm5-5zm0-6zm1 11zm1-8zm0 8zm2 13zm2-3zm0-19zm8 13zm3-2zm24-6zm2 7zm6-17zm3 1zm22 26zm4-19zm0-7zm0 23zm1-7zm2-5zm1-11zm3 19zm1-10zm5 1zm3-2zm0 10zm23-4zm0-11zm1-4zm5 23zm4-7zm5-10zm3 1zm2-4zm0 22zm4-19zm1 6zm4 16zm10-7zm4 4zm-4 7zm-13 15zm-2-15zm-2 25zm-8-21zm-17 7zm-3-2zm-4 18zm-4-4zm-3-4zm-9-11zm-7 15zm-1-19zm-4 17zm-4 1zm0 4zm-6-4zm-2 0zm-1-18zm-3 3zm-1 5zm-2 0zm-1 1zm-5 13zm-3 1zm0-29zm-5 24zm-1 3zm-2-11zm-2 11zm0-23zm-2 22zm-4 0zm-6-8zm-2-8zm-2-8zm0 24zm0 0zm-1-10zm-1-8zm-5-5zm0 19zm-1-20zm-1 18zm-4-20zm-2 21zm-1 4zm-1-17zm0 8zm-4 11zm-3-15zm-4 10zm-2 1zm-1 4zm-1-3zm-3-19zm-1-5zm0 18zm-3-1zm-2-13zm-1 4zm0 18zm0-20zm-2 21zm-2-24zm-3 15zm0-7zm-1 5zm-1-8zm-1 15zm-2-10zm-1 9zm-4 6zm-1-4zm-1-22zm-1 8zm-5-5zm-2 0zm0 2zm-1 0zm-4-4zm-1 0zm-2-2zm0 12zm0 1zm0-2zm-2 17zm-5-12zm-2-10zm-3 10zm-9-10zm-3 15zm-24-13zm-9 7zm-2 6zm-1 0zm-3-16zm-1-6zm-1 19zm-13-15zm-3 14zm-1-16zm0 13zm-2-13zm0 23zm-2 0zm-1 0zm-4-17zm-1 6zm-1 15zm-1-2zm-1-16zm-1 7zm-3-1zm-1-3zm0-10zm0 11zm0-15zm-4 4zm-2 19zm-2-9zm-1-5zm-8 14zm-2-16zm-5-3zm-17 13zm-17-14zm35 34zm6 5zm0-2zm2-3zm1-3zm0 16zm1-17zm1 2zm4 7zm1 6zm3-5zm2 16zm3-1zm0-20zm1 5zm1 7zm3-11zm2 14zm1 5zm3-2zm1-13zm0-10zm1 26zm1-17zm0-11zm1 3zm1 7zm1-2zm1 13zm0 7zm3-10zm2-6zm1-1zm7 16zm1-14zm0 12zm7-12zm4 15zm1-8zm10 6zm14-27zm31 21zm3-19zm9 20zm1 6zm0-7zm2 2zm1 2zm0-10zm1 0zm0-8zm1 2zm1 3zm5 13zm3-23zm0 23zm2-1zm1 2zm5 1zm0-12zm4 0zm4-1zm0-8zm1 1zm0-1zm1 12zm1 2zm1 4zm1 5zm1-10zm5-19zm5 14zm1 4zm0 0zm2-7zm2 11zm0-11zm0 1zm1 3zm1-14zm0 8zm1 15zm1-13zm1-5zm2 0zm3 11zm1 6zm0 5zm0-20zm9 7zm2-5zm1 11zm0-19zm4 6zm0-5zm1 15zm2-3zm2-4zm1-10zm0 25zm2 1zm1-22zm1 19zm1 4zm2-7zm0-15zm0 10zm3-2zm1 12zm3-14zm1 14zm1-23zm1 19zm0-19zm0-2zm1 2zm2 5zm2 4zm0 17zm1-12zm0-10zm1 4zm1 4zm5-8zm2 10zm1-1zm0-12zm3 20zm4-11zm0 14zm1-12zm2 6zm0-4zm0 12zm0-26zm2 13zm2-4zm2-3zm0 17zm1-20zm3 13zm1-2zm2 12zm0-10zm1-7zm0 8zm2 9zm1-7zm2-8zm0 12zm0-3zm1-9zm3-8zm5 19zm5-11zm1-2zm0 13zm1 3zm1-2zm3-2zm1-13zm0 13zm2-6zm0 2zm4 9zm1-10zm3-15zm1 21zm1-3zm9 8zm-26 0zm-3 6zm-1-5zm-1 2zm-1-3zm-4 0zm-1 1zm-6 10zm0-11zm-6 3zm0 22zm-7-23zm-6 1zm-12 8zm-1 18zm-3-11zm-4 7zm-4-6zm-10 8zm0-13zm-1 13zm-2-12zm-11-5zm-5-3zm-1-1zm-2 20zm-1-11zm-4 12zm-8-9zm-8-6zm-2 3zm-6-5zm0-3zm0-2zm-2 4zm-4-4zm0 7zm-1-2zm-1-2zm-7 0zm0 10zm-1-3zm-2-14zm-2 22zm0-5zm-1-18zm0 22zm-9-5zm-1-8zm0 1zm-2 4zm-7 6zm0 3zm-3-12zm0 13zm-6-23zm-2 14zm-1 1zm-1-9zm-2 22zm0-18zm-1-11zm0 14zm-5 11zm-1-17zm-3 10zm-22 6zm-7 2zm-1-11zm-2 5zm-4 9zm-1-18zm-1 1zm-6-1zm0-1zm-1 13zm-1-6zm0-9zm0 19zm-1-25zm-1 4zm0 9zm0-3zm-1-11zm-6 11zm-1 7zm-1 3zm0-2zm-1-1zm-2-11zm-2-2zm-1 21zm-1-2zm-1-14zm-2 13zm0-13zm-3 9zm-1 1zm0 0zm-1-18zm0 8zm0 5zm-9-12zm-1 3zm-1 0zm-1 7zm0 12zm-1-11zm-1 1zm-4 5zm-1-11zm-3-8zm-1 26zm-1-28zm-4 29zm-2-11zm-1 4zm-1-10zm-5 16zm0-9zm-1 2zm0 3zm0-8zm-1 9zm-1-15zm-2 11zm-3-3zm-4 4zm-2-6zm-3 5zm-5 2zm6 12zm1 10zm1-1zm3 4zm1-6zm3 3zm5-2zm3-5zm2-2zm1 17zm0-19zm2-1zm0 1zm3 12zm1-5zm0 17zm1-18zm0 6zm2-6zm0-4zm1 5zm2-1zm0 14zm1-1zm1-7zm0-3zm0-2zm1-10zm1 21zm2-10zm0 15zm1-9zm2-2zm0-12zm1-1zm1 2zm4 16zm0 6zm2-7zm0 6zm2 1zm4-6zm2 4zm1 1zm9-4zm1-11zm4-7zm3 0zm3-4zm2 21zm4-4zm1 12zm3-2zm6-25zm3 16zm4-18zm5 22zm3 0zm1-12zm4 7zm16 3zm1-5zm2-11zm2 13zm1-17zm3 2zm9 18zm8-2zm8-3zm5-15zm2 9zm4 6zm2 4zm2-7zm4-10zm1 14zm4-12zm3 10zm7 11zm17 2zm0-4zm11 0zm0-23zm4 28zm1-8zm0-12zm1 10zm4-2zm4-9zm2 0zm14 22zm5-27zm9 13zm2 10zm1 0zm1-8zm4 6zm3 6zm5 23zm-4-12zm-3 3zm-24-9zm-5-3zm-11 8zm-1-8zm-1 4zm-1 2zm-7-6zm-1 8zm-1-2zm-2 13zm-1 0zm0-13zm-1 21zm-1-17zm-1 4zm-1 3zm0-2zm-1 1zm-1-5zm0-9zm-2 4zm0 3zm-1-8zm-1 19zm-2-4zm0 12zm-1-15zm0 1zm-1 2zm-1-9zm-2 18zm-1 0zm0-2zm-2-16zm-1 14zm-1 7zm0-28zm-1 12zm-2 12zm0-25zm-2 9zm-1 19zm0-13zm-1-14zm-2 10zm0-6zm-4 7zm0-12zm-1 14zm-1 0zm-7 9zm-1-15zm-4 20zm-8-9zm-9 4zm-5-8zm-2 1zm-2-1zm0 5zm-15-1zm-2-4zm-1-1zm-5-7zm-4 4zm-9 17zm-13-6zm-4 1zm-2 4zm-2-25zm-1 17zm-6 8zm-1-24zm-4 8zm-1 3zm-1-9zm-2-5zm-2 1zm-3 8zm-2-6zm-1 20zm0-3zm0 7zm0-8zm-1 2zm-1-19zm-1 27zm-1-20zm-2 14zm0-10zm-1 6zm0 9zm-1-17zm-2 18zm0-17zm-1 12zm-2 5zm-1-17zm0 12zm0-10zm-1 6zm-2-10zm-2-8zm0 14zm0-1zm-1 9zm-1-22zm0 4zm-1-5zm-13 52zm11-5zm3 5zm0-21zm0 18zm1 0zm0-13zm1-5zm0 21zm0-16zm0 16zm0-13zm2-3zm1 7zm0-11zm1 7zm0 10zm1-20zm0 25zm1-16zm1 5zm0 4zm0 2zm2-20zm1 27zm0-7zm1-15zm2 22zm1-3zm0-7zm1-12zm9-1zm1 8zm4-9zm4 26zm2-26zm7 22zm0 3zm2-24zm2-1zm3 5zm3 7zm3-11zm2 2zm1 6zm4-5zm7 7zm4 10zm1-17zm1 12zm2-19zm1 13zm0 14zm2-7zm6-16zm1 10zm2 9zm0-9zm1-6zm2 3zm0 17zm1-23zm10 16zm1-16zm2 5zm12-5zm0 22zm1-10zm3-11zm0 6zm3-8zm0 18zm0-15zm3 16zm0-1zm2 7zm0-13zm3 2zm2-9zm1-1zm1 19zm2-25zm2 4zm1 9zm2-6zm1-1zm2-7zm1 22zm1-4zm5 7zm2-3zm0-2zm1 6zm0-26zm2-1zm0 19zm1-13zm0 8zm1-4zm1 8zm1-5zm0-13zm0 9zm1 0zm0 5zm1 2zm0-6zm0 7zm1-11zm0 5zm0 8zm1-6zm0 7zm1-9zm2 9zm1-14zm1 3zm0 4zm4 15zm1 1zm2-16zm2 11zm0-3zm5-17zm-6 37zm-1 13zm-1-15zm0-9zm-1 9zm0-8zm-1 3zm-1 4zm-1-5zm-1 2zm-2 7zm-3-7zm-2 16zm-1-21zm-21 7zm-5 4zm-17-5zm-3 7zm-2 3zm-3 5zm-4-4zm-3 10zm-4 0zm-5-8zm-17 9zm-3-17zm-6 5zm-10 12zm-9-10zm-1 9zm-4 2zm-2-27zm-2 17zm-1-4zm-3 14zm-1-18zm-3 18zm-1-20zm-10 14zm-13-6zm-2 10zm0 2zm-3-5zm-3-3zm-5-21zm-2 2zm-3 21zm-1 0zm0-2zm-1-4zm-3 12zm-9-11zm3 29zm7-4zm0-12zm5 3zm3-4zm0 0zm2 8zm2-1zm1 15zm0-12zm1 9zm0-13zm1 8zm6-11zm2 15zm1 5zm1 1zm1-11zm1 16zm1-9zm1-7zm0 14zm0-10zm1 6zm0 2zm0-17zm1 0zm0 20zm4-18zm0 11zm2-2zm0-1zm1-14zm1 12zm4-15zm1 9zm1-7zm3 23zm1-9zm3 9zm1-26zm7 25zm1 2zm4-24zm1 25zm7-10zm1-14zm1 7zm1 15zm3-4zm0-5zm1 11zm6-21zm0 7zm8-3zm2-4zm0 22zm1-25zm1 18zm7-14zm2 4zm3 3zm0 9zm7-4zm1-15zm2 6zm2 17zm6-10zm7 6zm3 2zm1-19zm2-1zm3 16zm2 6zm2-24zm1 6zm1-2zm4 16zm11 5zm-13 10zm-2-7zm-1 8zm-9-1zm0 0zm-7 8zm-1-10zm-5-7zm-1 8zm0 0zm-1 14zm-2-21zm0 10zm-3-1zm0 4zm-2 0zm-1 7zm0-1zm-7-1zm0 0zm-2-1zm0-4zm-1-7zm0 3zm-9 16zm-2-14zm-1-4zm0 17zm-3-17zm-2-4zm-2-4zm-1 0zm-1 8zm0 15zm0-18zm-4 12zm-1-9zm-1-4zm0-4zm-1 8zm0 7zm-1-15zm-3 1zm-2 1zm-1 1zm0 3zm0 11zm0-3zm0 0zm-6 15zm-2-1zm-1-10zm0-10zm0 11zm-1 7zm-1-2zm-1 3zm0-3zm-1-16zm0 20zm-1-7zm-1-1zm0 2zm0-15zm-1 18zm0-7zm-3-15zm-2 11zm0-10zm0 1zm-3 22zm-1-15zm-1-9zm0 10zm-1-7zm-1-4zm0 19zm-3-13zm-1-2zm-3-6zm0 5zm-3 1zm0-2zm-1 6zm-1-2zm-1 1zm-1 1zm-3 5zm-2-13zm-1-2zm-1 10zm-1 8zm-1 8zm-13-1zm-46 0zm58 24zm8 2zm0-7zm4 7zm5-7zm0-11zm1 4zm3 10zm0-5zm1-6zm1-5zm2 17zm1-16zm2 11zm2 1zm0-10zm4-1zm2 20zm4-18zm3 1zm3 14zm4 1zm10 1zm10 1zm2-12zm1 18zm5-20zm7 4zm1-12zm18 0zm-45 37zm-3 13zm-1 2zm-6-10zm0 11zm-3-16zm0 4zm-2 7zm-4-6zm0 12zm-3-9zm0 12zm-3-1zm-2-10zm-1-16zm-1 21zm-1 0zm0-4zm0-7zm-1 3zm-1 3zm0-11zm-2 11zm-5 11zm0-11zm-2-8zm-1-9zm0 19zm-1 4zm-3 4zm-4-26zm1 31zm15 2zm14-4z" stroke="#2fe85a" stroke-width="12"/><path d="M557 664zm196 20zm9-8zm0 11zm1-8zm2 7zm3-9zm3 12zm0-14zm2 10zm3-4zm4-2zm14 31zm0-13zm-4 2zm-3 0zm-3 15zm-1-9zm0 14zm0-1zm-1-4zm0-17zm-4 10zm-1 5zm0-6zm0 0zm-1-5zm-1 13zm-2-22zm0 21zm0 1zm-1-7zm-1-2zm0 7zm0 7zm-2-27zm0 13zm0 12zm0-20zm-2 14zm0 8zm-1-6zm0-4zm-1 10zm-1-4zm0 0zm0 0zm-1-19zm0 10zm-1 12zm-2-4zm-5-23zm-4 4zm-4-2zm-10 5zm-8 6zm-3-2zm-9 13zm-2 4zm-14-4zm-7-6zm-6-9zm-8 16zm-12 3zm0-6zm-4-8zm-161-7zm-13 49zm173-21zm1-4zm1 19zm3-13zm4 2zm3 19zm23-29zm3 0zm7 26zm1-20zm1-2zm5 9zm2-13zm2 8zm5-1zm0 13zm7 0zm9 9zm3-4zm3-7zm4 4zm0-4zm0 0zm1-12zm0 20zm0-20zm1-6zm0 26zm1-8zm0-4zm1 6zm0-1zm1-5zm0 5zm2-5zm1 7zm1-6zm2-8zm0-4zm1 4zm1 12zm2-10zm0-2zm1-1zm2 13zm3-7zm0-8zm1 4zm0-5zm0 3zm5 5zm0-4zm3 17zm1-22zm6-1zm1 0zm30 21zm-16 33zm-6-12zm-1-1zm-6 13zm0-19zm-4 13zm-12-14zm-2 14zm-5-12zm-3 16zm-9-14zm-3-4zm0 22zm-1-9zm-1-18zm-1 3zm-1 25zm-23-1zm-32-25zm-5 5zm-11 11zm-2-2zm0 3zm-2-15zm0 13zm-1 1zm-1-7zm-6 9zm-4-18zm-5 27zm-12 13zm1-8zm0 9zm9 2zm0 12zm0-23zm0 25zm2-5zm4 5zm5-11zm1 7zm0-6zm1-18zm0 6zm0-1zm1 3zm1 2zm1-1zm1 0zm0-10zm0 28zm3-26zm0 14zm9 8zm2 4zm2-8zm0-2zm1 7zm0-19zm3 13zm1 10zm4-3zm7-2zm10 1zm1 3zm4-16zm8-4zm0 7zm5 13zm2-18zm14 15zm2-8zm1 7zm0 2zm0-26zm20 16zm3-1zm3 9zm7 0zm6 3zm25 2zm24-6zm43 34zm-59-5zm-15-20zm0 15zm-1-16zm-4 14zm-7-1zm-4 12zm-1-3zm0-6zm-3 9zm0-14zm-1 8zm-2-5zm-14-1zm-1 4zm-3 8zm-3-8zm-2-6zm0 2zm-4-9zm-19-4zm0 24zm-20-1zm-1-2zm-1-19zm-5 2zm-2 16zm-1-10zm-7 7zm-8-5zm-1-1zm-3 0zm0 13zm0-25zm-1 7zm-4 0zm-3 14zm0-16zm-3-3zm-26 1zm-8 4zm-4-1zm-9 19zm-2-24zm-50 26zm-36 29zm9-3zm17-1zm1 1zm12-23zm5 18zm2-4zm5 9zm6-6zm10-17zm18 28zm14-5zm1-1zm0 3zm2-6zm1-14zm1 14zm5-9zm5-6zm1-4zm3 11zm0-2zm2-8zm3 19zm8-18zm0 26zm4-14zm3 14zm10-4zm10-20zm3 0zm33 25zm21-17zm1 16zm5-1zm5 2zm1-3zm3-1zm5-22zm1 2zm1 4zm0 20zm4-3zm0-8zm4 4zm0-13zm5-9zm2 27zm1-16zm0 18zm0-16zm2-9zm2 3zm1-4zm0 0zm2 8zm1 7zm2-17zm0 10zm2 1zm0-7zm0 24zm52-9zm-12 11zm-14 24zm-20-15zm-8 2zm-1-11zm-3 3zm-14 1zm-10 5zm-3-10zm-19 22zm-13 6zm-5-9zm-3 10zm-17-6zm-15 5zm-1-3zm-2 0zm-1-6zm-2 2zm-1-9zm0-4zm-1 4zm-2 7zm-3-3zm-3 10zm-2-3zm-1 5zm-4-12zm0-4zm-1 9zm-1 7zm-5-1zm0-14zm-1 2zm-2-5zm0-4zm0 17zm-1 2zm0 3zm-1-10zm-2 5zm-1-5zm-1 2zm-1 3zm-2 6zm-3-21zm-1 15zm0-5zm-1 8zm-1-3zm-3 2zm0-16zm-1 9zm0-14zm0 22zm-2-8zm0 0zm-3 3zm0 8zm-2-14zm0 3zm-1 10zm-1-4zm-1-7zm0 7zm-1 2zm-1-4zm0 2zm-1-12zm-1 16zm-1-15zm-1 1zm0 0zm0 14zm-1-11zm-1 8zm0 2zm-4-9zm0 1zm-1 5zm-3-6zm0-3zm0 0zm-1-6zm-15 7zm-5-3zm-8-6zm-9-3zm-4 13zm-1-4zm-6 0zm-5-9zm-2 4zm0 0zm-11 9zm-3 2zm-1-12zm-1 10zm0 4zm-21-3zm-4 6zm-17-11zm-1 6zm-1-14zm-3 19zm-1 0zm-27 5zm-1-3zm-3-3zm-18 29zm7-6zm7 5zm2-2zm4 2zm0-8zm3 14zm0-3zm1 2zm2-16zm1 6zm4-3zm1 9zm0-1zm5-2zm0-13zm2 15zm2-12zm0 9zm0 6zm4 1zm3 2zm13-12zm4-2zm7 12zm0-15zm2-6zm3 25zm1-4zm1-14zm0 10zm6 8zm7-5zm11-20zm3 3zm7 17zm7-23zm6 12zm3 14zm1-1zm5-4zm1-18zm8 23zm15-19zm11-2zm1 0zm2 1zm1-7zm1 8zm1 1zm1-6zm4 7zm1 2zm1-8zm0 4zm0-1zm1 3zm1-6zm1 5zm0 2zm2 11zm0-4zm0-15zm3 1zm7 20zm1-16zm6 12zm0 0zm3-7zm1-13zm0 22zm1-16zm3 7zm3-13zm1 25zm2-20zm6 19zm0-13zm1-3zm4-6zm0-2zm0 8zm1 10zm1 8zm0-13zm1 5zm1-7zm1 2zm1-7zm0 1zm1-3zm7 0zm1-3zm1 9zm1-8zm1 8zm2 5zm1-5zm1 5zm1-6zm0-3zm1 11zm1-12zm2-3zm2 11zm2-13zm2 5zm7 19zm4-15zm24 11zm91-10zm41 5zm5-11zm-189 45zm-7-2zm-10 8zm-8-15zm-1 8zm-2-13zm-3 18zm-3-13zm-1 9zm-9 9zm-1-23zm-4 23zm-1-18zm-2 19zm0-29zm-12 11zm-2-10zm-1 23zm-2 5zm-6-12zm-1-2zm-1 4zm-2 2zm-2 8zm0-8zm-1-10zm0 17zm-8-4zm-2-8zm0-1zm-9 2zm0 8zm-3 2zm-3-6zm-3-16zm-13 8zm-4 3zm-1 5zm0-16zm-1 16zm-2 8zm-1-10zm-3-18zm0 8zm-8 1zm-3 12zm0-18zm-5 4zm-1 1zm0 16zm-4-19zm0 5zm0 16zm-1-12zm0-3zm-1 0zm-1 6zm0-5zm-1 15zm0-14zm0 4zm-1-17zm-1 13zm0 3zm0-12zm0 12zm-1 12zm0-6zm0-2zm-1-9zm0-2zm-1-5zm0 9zm-1 11zm-1-5zm-1-18zm0 6zm0 18zm0-12zm-1-5zm0 8zm0-14zm0 4zm-1 5zm0 7zm-1-15zm-1 18zm0-7zm0 10zm-1-12zm0 1zm-2 6zm-2-3zm-1 5zm0 0zm0-18zm0 22zm-4-9zm-2-12zm0 13zm-1-4zm0-1zm0-8zm0 11zm-1-8zm-2 2zm-2-2zm0-1zm-1 4zm-8 18zm-1-19zm-1 9zm0-19zm-1 18zm0-18zm-4 3zm-2 1zm-2 0zm-13 4zm-6-8zm-5 16zm37 15zm0 7zm19 18zm1-1zm5-11zm1 3zm1-15zm4-1zm1 3zm2 2zm0 0zm5-6zm10 3zm5 13zm0-12zm0 17zm2-20zm1 9zm0-6zm1-2zm1 8zm1-8zm4 19zm3-19zm5 5zm1 13zm1-13zm3-2zm1 19zm1-16zm0 2zm1 3zm0-6zm6 5zm0 11zm0 2zm3-23zm2-1zm2 12zm2-12zm0 27zm2-23zm10-2zm0-3zm3 0zm2 5zm5 21zm1-26zm1 5zm1-4zm0 10zm4-10zm0 17zm0 11zm5-5zm0-16zm5 1zm1 1zm0-6zm0-3zm1 10zm1 9zm8-20zm2 22zm4-6zm1-12zm3 19zm5-8zm1 4zm13-6zm7 14zm0-25zm2-2zm2 18zm4 5zm1-15zm1 12zm1 7zm3-17zm0 17zm0-18zm1 9zm12-6zm111 13zm33 11zm-151 2zm-12-6zm-1 5zm-1-6zm-2 1zm-2-1zm-5 24zm0-2zm0-5zm-1-18zm-7 20zm-2-9zm-5 6zm-4-9zm-2-3zm-5 15zm-9-17zm-9 5zm-4 3zm-7-7zm-40 6zm-5 1zm-2 11zm-12-21zm-1 2zm-15-1zm-8 3zm-2-4zm0 14zm-12 3zm-1 6zm-1-18zm-3 7zm0 0zm-2-6zm-6 14zm-1 2zm-4-14zm-14-7zm-10 21zm-3-4zm35 18zm0 6zm2 10zm16-14zm1 6zm1-9zm5 16zm3-17zm2-3zm3 18zm2-18zm1 21zm1 2zm0 4zm0-10zm1-9zm4 1zm6 12zm1-13zm0 7zm6-9zm5 12zm21-4zm47 1zm61 9zm55 3zm7 10zm-21-4zm-27 12zm-9-1zm-55 4zm-12-17zm-3-1zm-60 18zm0-16zm-14-1zm-4 5zm-5 9zm-2 2zm-1-17zm0 22zm-14-19z" stroke="#ffb41e" stroke-width="12"/><path d="M593 594zm-96 33zm108-2zm-4 13zm-75-1zm-23-1zm-18 53zm37 43zm74 12zm15-1zm132 6zm32-15zm3-8zm-114 51zm-2-1zm-69-2zm-1-23zm-7 5zm-9 19zm-1 4zm-1-12zm-3 9zm-6-2zm0 3zm0 1zm-4-3zm-1-7zm-1 7zm0-22zm-1 7zm-2 7zm-1 8zm-3 0zm-1-9zm0-7zm-3 3zm0 3zm0 0zm-1 13zm-6-19zm-2 1zm-2 18zm-172-12zm-5-7zm162 50zm3-7zm0-5zm5 6zm0 4zm3-9zm0-17zm1 17zm1-12zm4 2zm1 16zm0-21zm1 5zm6 11zm1-18zm7 23zm0-21zm1 11zm1-5zm2-7zm5 20zm3 2zm3-4zm2 6zm1 3zm1-9zm1-15zm1 6zm3-9zm0 16zm5 4zm3-1zm0 4zm1 3zm2-23zm1 15zm0-8zm2 15zm0-15zm0 1zm1 6zm0-2zm3 5zm0 3zm2-6zm1-9zm1 5zm1-15zm2 23zm1-9zm1 14zm3-4zm12-9zm2-1zm8-8zm6-5zm0 6zm9 11zm10-4zm3-12zm1 10zm1-2zm7 14zm14 0zm20 16zm-65 5zm0-13zm-8 3zm-4-1zm0 8zm-2-9zm-4 8zm-2 10zm-4-13zm0 9zm-1 2zm-3 10zm-5-17zm0 6zm-1-16zm0 9zm-5 9zm0 9zm-1-19zm-1 16zm-3-10zm-3-12zm-1 7zm0 8zm-1-14zm0 24zm-2-19zm-1 1zm-3 0zm-3 17zm0-28zm-5 17zm-3 0zm-5-16zm-2 9zm-4-3zm-8 5zm-1-1zm-1-3zm-1 19zm-3-2zm-2-16zm-3-6zm-9 16zm-1-18zm-3 19zm-2-7zm-1 16zm0-13zm-4-13zm-1 8zm-1 2zm0-11zm-1 6zm0 9zm-3-8zm0-3zm-1 7zm-1 0zm-1 5zm-1-3zm-1 0zm-5 4zm-3-2zm-3 2zm-3-8zm-4 0zm-6 22zm8 9zm5 10zm5-13zm13-9zm10 0zm0 26zm16-7zm11 1zm0-3zm1 2zm4-12zm1 21zm10-10zm4 8zm0-17zm9-9zm1 12zm0-7zm1 4zm0-1zm1-8zm0 15zm2 9zm1-12zm2-1zm3 8zm2-3zm1-16zm1 12zm0 11zm3-10zm1-13zm1 0zm0 18zm4-17zm1 28zm0-6zm5-7zm0-16zm7 18zm2-9zm1 10zm19 10zm40-13zm-39 37zm-1-2zm0-3zm-4-6zm-7 15zm0-16zm-1 4zm-1 13zm0-16zm-1 12zm-4-22zm-3 12zm-3-13zm0 7zm-2-1zm-2 1zm-2-4zm-1 5zm-6-4zm-1-4zm-2 2zm-9 2zm-19 0zm-22 2zm-10-7zm0 9zm-20-4zm-2-3zm-10 5zm112 26zm17 8zm103 48zm-48-6zm-110 3zm-48-21zm-12 9zm31 17zm20 14zm120 5zm13-10zm-17 20zm-35 17zm-110 41zm0-25zm158-1zm-131 28z" stroke="#7fee1c" stroke-width="12"/><path d="M584 863zm248 17zm0 8zm-158 2zm-40 0zm-8 1zm-100 29zm348-5zm-54 31zm-48-3zm-15 5zm-3 4zm-6-3zm-6 7zm-13 3zm-1-12zm0-12zm-18 23zm-69-18zm-56 19zm-62-15zm-18-9zm88 41zm27-10zm4 4zm29-2zm3 12zm6 8zm18-22zm4 16zm2-8zm3 5zm5-3zm1 11zm0 1zm2-25zm0 22zm4-5zm0-7zm0 0zm2 13zm2-9zm1 3zm1-1zm1-4zm0-13zm1 20zm2-11zm0 14zm0-21zm3 7zm5 16zm4-18zm3 1zm1 12zm0 3zm1-14zm7-6zm1-4zm4 2zm0 10zm1-8zm1 0zm0 0zm0 1zm1 18zm1-14zm2 15zm1-25zm1 27zm0-24zm2 20zm2 4zm8-20zm5 18zm3-15zm1-7zm15 10zm69 12zm-59 25zm-9 8zm-3-2zm-2-20zm-11 10zm-1-12zm-2 19zm0-13zm-17 9zm-3-4zm-3-10zm-1 16zm-2 1zm-4-6zm-4-6zm-2-5zm-3 10zm0-2zm-4-2zm0-6zm-2-4zm-1 27zm-2-23zm0-3zm-1 19zm0 3zm0-18zm-2 5zm-2 7zm-2-11zm-1 13zm-5-4zm-2-8zm-1 16zm0-17zm-1-1zm-1 22zm-1-9zm-1-3zm0 4zm-1-14zm-1 2zm-1 9zm-2 9zm0-9zm0-6zm-1 2zm0-7zm-2 14zm-1-13zm-5 20zm0-15zm-14 5zm0 12zm-1 0zm-4-9zm-2 3zm-1 1zm-1 5zm-1-9zm-6 7zm-1 0zm-3-19zm-7-2zm0 4zm-8-2zm-2-1zm-2 20zm0-2zm-88-4zm19 38zm7-4zm20-7zm25 10zm6-14zm8 0zm2 9zm3-19zm3 15zm1-9zm4-3zm4-6zm0 17zm5 2zm1-11zm1 0zm1 11zm1-15zm0 22zm3-24zm2 16zm1-16zm3 11zm0 12zm1-6zm0-5zm1 6zm3 8zm0-10zm0-8zm1 1zm0 13zm1 2zm0-4zm0-13zm0-8zm1 23zm0 2zm1-19zm1 16zm1-5zm1-1zm0-17zm1 5zm1 9zm1 1zm0 9zm0-5zm1 9zm1-22zm0 7zm0 5zm3 5zm1 1zm0 2zm3-14zm0-1zm0 7zm1 3zm3-10zm2 12zm1-10zm0-11zm3 20zm1-3zm1-11zm0-3zm1 7zm2-4zm2 1zm2-1zm3 4zm1-4zm1 17zm0-20zm1 17zm5-14zm2 18zm2-18zm0-2zm0-5zm1 16zm0 8zm0-7zm4 1zm3 6zm1 1zm1-23zm1 1zm0 13zm2 5zm2-4zm4 1zm2-19zm0 1zm1 14zm2-13zm0 15zm1 2zm2 5zm4-10zm0 12zm0-26zm2 23zm0-3zm0-8zm1-8zm4 22zm8-3zm1 3zm5-3zm0 5zm1-2zm2-25zm1 3zm0 17zm0 5zm11-4zm1-10zm0 11zm4 5zm1-5zm0-20zm3 12zm4 7zm1 5zm5-2zm5-10zm2 13zm3-5zm12 5zm3-14zm32 11zm16-24zm-36 48zm-2-4zm-20-11zm-2 4zm-1 3zm-2-11zm-1-1zm-2 22zm-9-3zm-12-11zm-11 16zm-2-19zm-3-3zm0 4zm-6-1zm-1 3zm-9-6zm-3 13zm-1-8zm0 4zm-3-6zm0 22zm-2-22zm0 4zm0-8zm-1 9zm-1-9zm0 11zm-1 0zm-1-1zm0 17zm0-8zm-1-17zm-1 1zm-1-2zm-1 4zm-1 8zm-1-12zm-1 1zm0 21zm-1-20zm0 4zm-2 0zm-2-3zm-2 2zm0 9zm0-9zm-1-1zm-1 14zm0-3zm-2-13zm0 12zm-3-3zm-2-13zm-3 15zm-3-15zm-4 3zm-1 0zm-9 17zm-5-12zm-3 20zm0 0zm-1-16zm-1-11zm-3 19zm-3-12zm0 4zm-3 17zm0-4zm0-25zm0 6zm-3 12zm-1-4zm-4-12zm-1 16zm-1-16zm0 25zm-5-27zm-1 16zm-2-10zm0-2zm-1 6zm-1 0zm0-3zm0 6zm0 1zm-1-9zm-1-4zm-1 10zm0-9zm0 2zm0-3zm-1 19zm-1 2zm-1 3zm0-24zm-1 7zm-1-2zm-2 3zm0 18zm-2-18zm-1-9zm0 27zm-1-16zm-5 16zm-2-26zm-2 22zm-2-2zm-1 0zm0 5zm-8-22zm-2 4zm-7 1zm-2 6zm-3-12zm-3 20zm-5-7zm-3 11zm-1-17zm-3 7zm-2 7zm0-6zm0 1zm-3 7zm-2-5zm-1 4zm0 2zm-1-17zm-3 17zm-1 0zm-1-1zm0 2zm-1-20zm-8 16zm-2-3zm0 5zm-1-13zm-2 12zm-1-14zm-2 7zm0-5zm-4-11zm0 3zm-2 23zm-5-18zm0 0zm-1 16zm-2-1zm-2-24zm0 2zm-1 13zm-2 5zm-16-19zm20 33zm10 6zm3-3zm3-8zm0 6zm2 3zm0-7zm1 1zm2 23zm0-9zm3-11zm4-1zm0 12zm1 4zm3 1zm4-7zm1-6zm0-8zm5 2zm4-3zm1 3zm0 5zm1-7zm0 8zm2-2zm3 21zm14-19zm3 7zm1 9zm1-19zm0-5zm7 15zm1-7zm7-9zm0 8zm1-8zm0 18zm2-18zm4 23zm0-23zm1 19zm6-15zm4 12zm1-9zm6 17zm0 3zm2-9zm0-6zm1-11zm1 19zm1-18zm2 8zm1-7zm2 8zm8 12zm3-22zm3 16zm16 12zm2-18zm0-10zm3 22zm3-3zm15 3zm2-23zm1 2zm5 15zm3 4zm0-5zm2 8zm5-3zm4-3zm12 6zm10-3zm0-11zm3 19zm25-15zm26-5zm-27 47zm-1-2zm-12 3zm-2 2zm-7-21zm-5 13zm-5-3zm-3-18zm-10 21zm-2 6zm0-3zm-2-7zm-2 6zm-8 6zm-6-12zm-4-13zm-4 12zm-1-15zm0 22zm-1 3zm-1-5zm0-18zm-3 8zm-3 7zm-1 5zm-2-12zm-1 6zm-7 0zm-2 12zm-1 0zm-1-2zm-4-19zm-1 18zm0 0zm0-10zm-3 9zm-3-19zm-9 15zm0-21zm-2 16zm-9-16zm-3 9zm-3 0zm0 6zm-7-14zm-10 3zm-1 13zm-4 2zm-2-18zm-3 18zm-2-8zm-4 2zm-13 1zm-13-8zm-1 4zm-2 3zm-8 11zm0-20zm-9 24zm-1-26zm-8 19zm18 22zm2-11zm0 20zm1-20zm5 13zm2-11zm3 10zm10 2zm3-11zm2 17zm5-1zm11-21zm66 4zm3-3zm6 3zm2 12zm0-14zm4 8zm0-10zm3 6zm0 4zm2 1zm1-2zm1 7zm0-11zm14 11zm1-6zm3-4zm4-2zm21-4zm7 11zm3-8zm1 1zm7 1zm6-1zm1-1z" stroke="#f01010" stroke-width="12"/><path d="M742 448zm40-26zm-64 45zm-5 12zm3 10zm-74 41zm43 26zm236 39zm-1-8zm-13 7zm-2-1zm-1 6zm-2-1zm-1-10zm0 1zm-4-13zm-3 16zm-2-11zm-2 9zm-3-2zm-1 1zm-2 10zm-4 0zm-7-13zm-4 9zm-2-8zm-3 5zm-15-5zm-1 1zm-13 2zm-12-1zm-5 7zm-3 2zm-113-16zm-14-8zm-9 23zm22 15zm80 6zm1 11zm18-7zm5 2zm7-6zm12-8zm0-10zm3 3zm2-3zm0 11zm3-10zm5 11zm0 6zm4-16zm6 9zm7 16zm3-14zm14-8zm2 11zm2-8zm1 18zm3-15zm2-6zm3 7zm2-3zm0 16zm1-18zm2 11zm3-9zm0-2zm0 10zm1-12zm3 18zm0-22zm1 11zm1-6zm1 2zm0 2zm0-4zm1 13zm0-6zm1 14zm1-7zm0-7zm1-5zm0 4zm2 9zm1-2zm1 7zm1-23zm0 22zm0-1zm0 1zm1 0zm0 4zm1-2zm0-12zm0 4zm0 8zm0-11zm1 11zm0-10zm0-5zm0 0zm0 6zm1-3zm1 12zm0 0zm0 2zm0-21zm1 6zm0 6zm0-1zm1 3zm0-18zm1 22zm1-23zm1 11zm1 14zm1-1zm1-15zm0 7zm0-16zm2 8zm4 12zm6-6zm0-6zm85 18zm-61 15zm-39-1zm0-12zm-1 18zm0-6zm-3-13zm-1 19zm-1-7zm0 0zm-1-9zm0 0zm-1 7zm-2 5zm-1-11zm0-2zm0 12zm-2-10zm-3-3zm-1 7zm-2 0zm-1-8zm0 16zm0-11zm-2-4zm0 1zm0 15zm-1-11zm0 2zm-1 11zm-1-15zm-1 8zm0 1zm-3 9zm-3-4zm-1-13zm-1 1zm0 6zm-5 16zm0-18zm-5-5zm-4 5zm-3-4zm-4 18zm0-15zm-3-2zm-2 3zm-2 10zm-3-12zm-1-5zm-1 10zm-1-9zm-5 23zm-4 2zm-2-26zm-9 14zm-8-1zm-1-16zm-3 23zm-2-11zm-4 6zm0 0zm0-6zm-4-8zm0 25zm-1-9zm0-13zm-4 3zm0 4zm-2-12zm0 7zm-2 8zm-1 3zm-2-18zm-2 9zm0 0zm0 8zm-6 8zm0-1zm0-11zm-1 5zm-1-4zm0-1zm-1 11zm0-13zm-1-1zm0 5zm0-7zm-1 3zm0 1zm-1 12zm0-1zm-4-16zm-1 15zm-3-23zm-3 27zm-3-1zm-1-21zm-9 19zm-52-21zm56 26zm6 3zm5 20zm3 4zm2-15zm1 5zm1 8zm26-13zm25-4zm4-6zm6 16zm10-3zm0-2zm3-6zm3 4zm0-1zm3 1zm2-1zm0 17zm4-12zm4 0zm4 2zm12-10zm4 1zm32-8zm52 19zm12-17zm28 22zm37 9zm-14 18zm-76-19zm-4 4zm-166-6zm-14 1zm-5-1zm-4 9zm19 21zm113 22zm42 7zm13-16zm23 10zm21-8zm-27 28zm-1 9zm-27-12zm-1 2zm-261 34zm268-2zm58-4zm21-2zm-98 33zm-194-10zm173 37z" stroke="#2456e6" stroke-width="12"/><path d="M702 297zm-5-1zm-3-8zm-3 2zm-3 1zm-47 8zm-62 27zm8-8zm0-4zm3 3zm3 2zm1-10zm11 11zm1-16zm1 6zm4-7zm1-1zm1 14zm0-5zm4 15zm12-16zm3-8zm1 11zm3-10zm0 9zm7-11zm6 22zm3-7zm6-7zm11 13zm5 4zm5-6zm3 2zm2-12zm8 11zm3-12zm6 4zm1-3zm0 7zm3-7zm3 3zm1 2zm1-12zm1 2zm2 3zm0 3zm3-6zm0 2zm2 15zm3-7zm0-1zm1-6zm0 16zm1-9zm1-3zm3 3zm4 13zm0-5zm12 17zm-8 5zm-11-7zm-10-7zm-9 3zm-12 1zm-7 0zm-13 13zm-6 2zm-4 6zm-70-5zm-6-12zm-7 8zm-1-8zm-1 11zm-1-13zm-10 45zm8 2zm1-15zm1-9zm9 0zm2 21zm1-17zm2 7zm1 1zm2 14zm0-23zm1 2zm0 8zm0 5zm10-15zm0 3zm3 21zm1-8zm2 8zm6-5zm1 4zm2-12zm30-5zm6 14zm5 3zm2 2zm3-10zm8-10zm4 17zm2-9zm22-10zm0-3zm3 0zm11 13zm17-13zm7 16zm13-9zm1 4zm13-5zm6 18zm3-4zm6-4zm1 2zm2-8zm1 2zm2 7zm4 7zm2-13zm13 8zm1-2zm9-16zm3 21zm7 0zm3 15zm-1-10zm-14-1zm-3 22zm-13-6zm-9 8zm-13-24zm0 24zm0-24zm-7 19zm-10-11zm-44-9zm-1 27zm-11-22zm-3 12zm-20-12zm-8-4zm-14-1zm-8 7zm-18 2zm-1-6zm-5-3zm-2 8zm-3-2zm-15-4zm-2-1zm-2 6zm-3 9zm-6-12zm-5 0zm-5-3zm-2 5zm-43 23zm-2-26zm-66 29zm180 25zm61 1zm88-28zm7 10zm17-6zm-120 54zm-40-12zm-25 0zm-6 5zm-68 1zm-1-1zm-58-12zm0-6zm56 48zm25 8zm19-7zm186-8zm-134 30zm-74 13zm-27-20zm20 38zm61-9zm34 19zm1-4z" stroke="#f51fc2" stroke-width="12"/></g>
<text x="26.3" y="67.3" font-size="9" text-anchor="middle" fill="#1a1a1a" stroke="#1a1a1a">5</text>
<text x="58.4" y="59.3" font-size="9" text-anchor="middle" fill="#1a1a1a" stroke="#1a1a1a">7</text>
<text x="70.2" y="39.4" font-size="9" text-anchor="middle" fill="#1a1a1a" stroke="#1a1a1a">8</text>
<text x="84.4" y="66.7" font-size="9" text-anchor="middle" fill="#1a1a1a" stroke="#1a1a1a">6</text>
<text x="92.8" y="83.9" font-size="9" text-anchor="middle" fill="#1a1a1a" stroke="#1a1a1a">4</text>
<text x="58.1" y="85.7" font-size="9" text-anchor="middle" fill="#1a1a1a" stroke="#1a1a1a">3</text>
<text x="66.8" y="91.7" font-size="9" text-anchor="middle" fill="#1a1a1a" stroke="#1a1a1a">2</text>
<text x="68.6" y="110.8" font-size="9" text-anchor="middle" fill="#1a1a1a" stroke="#1a1a1a">1</text>
<circle cx="117.8" cy="31.5" r="3.5" fill="#f01010"/>
<text x="125.2" y="34.9" font-size="9.3" letter-spacing="-0.25" fill="#111" stroke="#111">Cluster 1</text>
<circle cx="117.8" cy="43.1" r="3.5" fill="#ffb41e"/>
<text x="125.2" y="46.5" font-size="9.3" letter-spacing="-0.25" fill="#111" stroke="#111">Cluster 2</text>
<circle cx="117.8" cy="55.2" r="3.5" fill="#7fee1c"/>
<text x="125.2" y="58.6" font-size="9.3" letter-spacing="-0.25" fill="#111" stroke="#111">Cluster 3</text>
<circle cx="117.8" cy="67" r="3.5" fill="#2fe85a"/>
<text x="125.2" y="70.4" font-size="9.3" letter-spacing="-0.25" fill="#111" stroke="#111">Cluster 4</text>
<circle cx="117.8" cy="79.1" r="3.5" fill="#55dde2"/>
<text x="125.2" y="82.5" font-size="9.3" letter-spacing="-0.25" fill="#111" stroke="#111">Cluster 5</text>
<circle cx="117.8" cy="90.3" r="3.5" fill="#2456e6"/>
<text x="125.2" y="93.7" font-size="9.3" letter-spacing="-0.25" fill="#111" stroke="#111">Cluster 6</text>
<circle cx="117.8" cy="102.4" r="3.5" fill="#a365e3"/>
<text x="125.2" y="105.8" font-size="9.3" letter-spacing="-0.25" fill="#111" stroke="#111">Cluster 7</text>
<circle cx="117.8" cy="113.9" r="3.5" fill="#f51fc2"/>
<text x="125.2" y="117.3" font-size="9.3" letter-spacing="-0.25" fill="#111" stroke="#111">Cluster 8</text>
<g transform="scale(0.1)" fill="none" stroke-linecap="round" stroke-linejoin="round"><path d="M2221 325zm5-1zm1 0zm19-1zm4 1zm5-3zm86 27zm-9-12zm-19 2zm-10 3zm-40 3zm-13-11zm-3 1zm-4-3zm-11 16zm-4-10zm0-5zm-6-1zm-2 10zm-11-2zm0-8zm-3 7zm-3 21zm0-20zm0-4zm0 11zm-8 13zm0-13zm-1 11zm-31 27zm16 2zm2-2zm0 4zm2-1zm4 1zm3-3zm2 3zm1-9zm0 0zm0 0zm2 6zm0-15zm1-3zm3 11zm2 6zm1 2zm0-6zm3 3zm3-6zm1-6zm1 14zm0-2zm8-5zm2 4zm0 4zm43 2zm12-13zm70-10zm90 45zm-9-5zm-11-4zm-14-6zm-7-1zm-119 18zm-5-10zm-6 13zm0-3zm0 3zm-3-4zm-4-16zm0 23zm-6-4zm-2-13zm-3-2zm-1 18zm0-4zm-4-5zm-1 8zm-3 1zm0-20zm-1 16zm0 2zm-1 0zm-1-22zm-1 12zm-1-5zm-1 11zm-3 2zm0-16zm0 17zm-2-8zm0 0zm-1-8zm-1 17zm0-1zm0 3zm0-2zm0-17zm-1 16zm0-11zm0 7zm0-4zm-2-1zm0-10zm-1 10zm0 2zm-1-10zm0 18zm-2 2zm-1-12zm-1-15zm-1 28zm-2-12zm0-11zm0 4zm-1 5zm0-12zm0 4zm-1 1zm0 8zm-1 8zm0-13zm0 5zm-1-13zm0 24zm-1-23zm0 1zm0-4zm-1 11zm-1-3zm0-5zm-1 7zm-1-5zm-2 15zm-1-8zm-1 11zm-2-7zm0-8zm0-4zm-3 2zm-1 9zm-1-3zm0 14zm-2-21zm-2 12zm0-5zm0 8zm0-4zm0 6zm-1 2zm0-9zm-1-6zm-1-5zm0-1zm-2 8zm-1 3zm0-13zm-1 27zm0-21zm-1 1zm0-1zm-1-7zm0 22zm-1-10zm-3-1zm-1 1zm0 10zm0-5zm-1-11zm0 3zm-1-1zm0 7zm-2-2zm-2 4zm-1-8zm0-3zm-3 11zm-1-14zm-1 10zm0 11zm-2-20zm-2 15zm0 6zm-2-2zm0-14zm0 1zm-1 11zm-4-1zm0-13zm-1 19zm-1-17zm-2 7zm-1 2zm-1-15zm-4 8zm-8 16zm-3-16zm-13 1zm-15-8zm-86 16zm-1-1zm-9-4zm-6-8zm-3 16zm-1 6zm-2 0zm-19-1zm-125 31zm112-2zm3-5zm7 6zm1-16zm5 17zm1-22zm2 4zm0 8zm6-9zm3 12zm1-4zm7-17zm0 7zm4 0zm21 12zm0 4zm54-17zm4-1zm2 7zm1 15zm8-9zm1 1zm13 5zm19-21zm2 25zm1-28zm8 16zm1-14zm2-3zm0 11zm7-2zm4-2zm1 2zm3-9zm3 4zm0 13zm2-7zm2-7zm2-3zm6 7zm20 3zm14-2zm18-1zm2-6zm4 0zm3 5zm3 1zm4 1zm1-4zm2-4zm0 5zm5-1zm1 7zm136 18zm7-4zm3 2zm4-13zm6 7zm4-16zm2 13zm6 9zm5-16zm11 11zm6-22zm-15 32zm-4-1zm-8 24zm-3-22zm0-1zm-4 11zm-24 4zm-10-6zm-233 14zm-9 4zm0-27zm0 17zm-1 6zm-8-3zm-1-2zm-4 7zm-1-21zm-1 5zm-2 11zm-3-2zm-1-7zm-6 15zm-1-13zm-1 12zm-1-23zm0 19zm-12-8zm-60-13zm-7 6zm0 7zm-1 3zm-4 0zm-4-18zm-5 27zm-1-1zm-1-20zm-2 14zm0-20zm-2 24zm-8-20zm-1 21zm-2-18zm-1 7zm-1 7zm-6-19zm0 20zm-7-20zm0 1zm-1 5zm0-6zm-2 22zm-1-1zm-2 2zm-1-18zm-2-3zm0 8zm0-2zm-1 16zm-3-2zm-13 4zm0 0zm-1-2zm0 3zm-9-12zm-1 4zm-1 2zm-7 2zm-4-12zm-11-1zm0-8zm-48-3zm-3 24zm-20 0zm-2 0zm-13 1zm-4 0zm-50 12zm1 14zm0-5zm9-8zm3 9zm0 0zm0-9zm1 1zm5 12zm0 6zm2-3zm0 3zm0-26zm4 20zm3 2zm0-13zm2 6zm1-3zm0 10zm0-2zm4-4zm1 0zm1 10zm0-14zm3-2zm1 9zm2 0zm1-6zm1 7zm0-1zm3 0zm1-9zm0-2zm1 1zm4-5zm6-4zm3 3zm0 5zm1 7zm1-5zm1 7zm0-4zm4-5zm4 9zm6 6zm2-20zm2 11zm1 5zm3-8zm2-13zm1 4zm2 5zm0 1zm0 8zm7-8zm11 19zm1-29zm0 6zm6 15zm5 4zm1 1zm1-2zm3-2zm9-5zm2 11zm9 0zm0 0zm1-15zm15 5zm0-18zm2 24zm2-6zm3-4zm0-7zm7 15zm1 0zm1-11zm2 10zm2-3zm0-18zm4 15zm1 13zm1-22zm3 8zm3 5zm1-14zm1 1zm0 5zm2 17zm9-11zm5-9zm2 15zm2-10zm0 13zm3-22zm0 2zm6-3zm73 24zm8 2zm8 0zm5-6zm4 6zm3-25zm2 11zm7-12zm13 12zm2-10zm2 1zm2-3zm5 18zm2 3zm2-16zm3-8zm4 2zm2 3zm4-2zm1 21zm10-2zm94 1zm6-11zm3 15zm15 2zm3-1zm3-12zm3 5zm19 0zm43 1zm40-9zm11-8zm2-5zm2 16zm0-15zm4 21zm3-2zm3 2zm0-2zm0-5zm1-1zm0 5zm0 2zm1-20zm1 16zm1-4zm2 12zm2 0zm2 2zm8-15zm-10 20zm-7 6zm-2-7zm-6 14zm0-13zm-12 0zm-12 0zm-6-2zm-57 18zm-9 11zm-2-23zm-11 15zm-1-4zm0-4zm-3-4zm-4 1zm-3 8zm-1 0zm-2-9zm-1 4zm-1-12zm-2 2zm0 10zm-1 10zm0-14zm0 2zm0-1zm-1 16zm-1-9zm-5-13zm0 24zm-3-14zm-1 3zm-2 4zm0 1zm-1-3zm-1-15zm-2 10zm-4-2zm-4 5zm-6 2zm-8 4zm-55 4zm-6-4zm-32-21zm-10 20zm-16-14zm-16-8zm-6 23zm0-4zm-1-4zm-1-14zm-3 28zm0-15zm-2 4zm0-9zm0 8zm0 4zm-1 5zm-1-7zm-3-6zm0 6zm-1-4zm-1-8zm-1 0zm0 3zm-3 17zm-4-8zm-1-3zm-1-3zm-3 3zm0-3zm-65 2zm-8-11zm0 2zm-9 23zm-5-5zm-2-10zm-7 2zm-3 6zm-13-19zm-16 5zm-2-2zm-5 1zm-7-7zm-64 7zm-3 22zm-7-12zm-16-17zm-1 10zm-2-6zm0 16zm-3-14zm-3 8zm-6-6zm-5 20zm-1-2zm-2-14zm0 3zm-1 3zm-4-1zm-8-7zm-8-7zm0 8zm-13 44zm7-15zm1 14zm1 0zm1 2zm2-4zm2 2zm0-8zm1 7zm1-2zm1 0zm0-6zm0-3zm1-7zm0 16zm0 0zm0 7zm2 1zm1-15zm0 9zm3-6zm1 11zm1-15zm0 13zm2-11zm1 5zm1 5zm0 3zm1-22zm5 21zm1-21zm1 6zm17-4zm1 12zm0-9zm1 0zm7 0zm176 9zm61-7zm2-12zm3 3zm2 0zm1 2zm4 17zm4 6zm3-17zm1-3zm0-7zm1 24zm0-6zm3-11zm16 2zm5 14zm14-4zm2 8zm1-8zm4 6zm6-23zm2 6zm2 3zm1 14zm1-15zm1 15zm0-7zm0-6zm0 9zm1-11zm1-11zm4 17zm1 11zm1-7zm0 5zm1-12zm4-4zm4 12zm5 5zm1-2zm13-4zm3 6zm10 0zm11-2zm11 1zm5-3zm4-7zm3 7zm1 4zm0 1zm5-1zm1-9zm0-15zm0 7zm4-7zm2 24zm3 0zm1-14zm3 2zm1 5zm1-15zm0 7zm1 12zm0-16zm0 11zm2-3zm1 12zm4-1zm1-3zm0-7zm0-12zm0 10zm2-10zm4 9zm0 10zm4-14zm1 17zm8-14zm0 14zm2 1zm2-4zm14-13zm12-12zm175 48zm-46 11zm-148-5zm-10-23zm0 3zm-5 10zm-5-10zm0-1zm-1 11zm-3 1zm-4-15zm0 15zm-3-11zm-5 2zm-2 9zm0-1zm-1-7zm-1 12zm-4-14zm-1 2zm-5 2zm-1-8zm-14 6zm-4 7zm-19-9zm-3 2zm-11-1zm-3 9zm-3-6zm-1-3zm-3 5zm-1-8zm0 17zm-4-13zm-3 2zm-3-1zm-1-5zm-6 19zm-13-5zm-1-7zm-1 1zm-1 1zm-3 12zm-5-23zm-1 2zm-6 3zm-6 0zm-1 9zm0 12zm0-21zm-3 23zm-1-8zm-6 5zm-5-8zm0 11zm-2-20zm-1 12zm-3-8zm0-6zm0 21zm-1-21zm-1 4zm-4 2zm0 2zm-1 9zm-2 5zm0-9zm-1-5zm-5 0zm-3-4zm-48 6zm0 5zm-1-17zm-2 1zm-4 11zm-4-7zm-9 5zm-2-6zm-1-1zm-2 5zm-1-2zm-1 16zm-5 1zm-1-6zm-163-17zm-32-3zm-3 9zm0-11zm-1 11zm-3-9zm0 4zm-1 3zm0-7zm-3 9zm-1-4zm-2-4zm-1 2zm-1-2zm-1-2zm-1 14zm-1-11zm-1-4zm-1 14zm0 5zm-4 1zm-3 5zm-1-12zm-1 4zm-2-15zm-2 2zm-1 13zm0-17zm-3 0zm-1 15zm-5-10zm-6-5zm-11 8zm-4 46zm22-24zm2 1zm4 17zm3-6zm0 8zm1-14zm4-6zm1 11zm2-3zm7-7zm9 24zm3-9zm8-4zm60 16zm86 1zm1 0zm1-3zm2-15zm3 10zm7 4zm1-1zm3 0zm7-6zm7-2zm3 13zm98-19zm1 17zm2-18zm0 3zm2-6zm0-1zm0 11zm1-16zm0 29zm1-25zm0 10zm0-9zm0 17zm0-17zm0 10zm1 14zm0-16zm2 2zm0 12zm2-10zm1-5zm0 8zm1-7zm1-7zm0 17zm1-20zm0 6zm1 13zm0-19zm2 11zm0 7zm0-7zm0-14zm2 27zm1-18zm0 0zm2 15zm3-6zm0-12zm0 6zm4 17zm1-19zm0 15zm2-19zm0 23zm2-7zm1-10zm1 16zm10-22zm2 5zm56-5zm93 21zm11-3zm3-2zm73 7zm41-8zm0-20zm0 11zm3 3zm2-4zm0 11zm2-10zm3-10zm2 27zm5-15zm5 9zm1-23zm9 25zm6-22zm5 4zm2 9zm2 11zm6-5zm1-12zm0 6zm4 8zm1-4zm1-19zm1-1zm2 2zm2 18zm0-1zm1 9zm2-24zm1 9zm1 10zm0-10zm1-10zm1 16zm0 2zm0-4zm1 7zm1-24zm1 23zm0 1zm3-19zm3 9zm2 12zm0-2zm1 2zm0 2zm2-8zm1-4zm2-1zm1 10zm3-2zm0-16zm0 7zm104 9zm1-3zm5 1zm3 5zm0-7zm1-3zm11 6zm3-4zm7-14zm-41 43zm-8 5zm-5-4zm-11 8zm-1-1zm0-7zm-6 7zm-4-5zm-6 2zm-3-2zm0-5zm0 11zm-6 3zm-2-24zm0 23zm-4-3zm-1 1zm-2 0zm-2 1zm-6-20zm0 7zm-4 1zm-2 10zm-3 1zm0-14zm-3 5zm-1-8zm-4-2zm-1 22zm-2-16zm-7-13zm-1 8zm-1 15zm0-14zm-3-2zm-1-6zm0 1zm-1 5zm0 22zm0-19zm0 1zm-2 3zm0-7zm0 15zm-1-14zm-1-2zm0-6zm-1 6zm0-2zm-1 9zm0 12zm0-19zm-2 8zm0-12zm-3-1zm0 10zm0 9zm-1-2zm-1-18zm-1 18zm-1-8zm0 16zm-1-22zm-1 9zm0 5zm-2 11zm-1-7zm-6-16zm0 22zm-2-12zm0 6zm-5-2zm-3-13zm-2 9zm-7 1zm-2 10zm-1-8zm-5 2zm-4-4zm0-10zm-1 11zm-1-5zm-2-6zm0 7zm-10 0zm-18-4zm-12 5zm-1 2zm-2-12zm-2 15zm-2-1zm-1-16zm-1 24zm-5-6zm-7 4zm-2 2zm-1-4zm0-3zm-1-11zm-4 10zm-3-7zm-8 4zm-39-1zm-1-14zm0 10zm0 2zm-1-9zm-2 8zm0-7zm0 7zm-3-10zm-7-2zm-5 15zm-7-4zm0 3zm-1 15zm-1-13zm-2-15zm-4-1zm-4 24zm0 0zm-3-3zm-5-1zm-13 5zm-72-18zm0 0zm-6 7zm-1-9zm0-2zm-1 12zm-1-4zm-1 13zm0-10zm-3 0zm0-1zm-1-5zm0 9zm-7-8zm-4 12zm-6-6zm-5-6zm-2 8zm-10-6zm-1-8zm0 4zm-2-6zm-2 18zm-2-1zm-1-13zm0 2zm-2-4zm-2 11zm-1 4zm-2-5zm0 11zm-1-21zm0 2zm-1 2zm-1 14zm0-18zm0 4zm0 6zm-1 0zm-1-5zm-1 18zm-1-8zm0-1zm-1-16zm-1 11zm0 11zm0-14zm-2 3zm-1-2zm0 9zm0 2zm-1-13zm-1-3zm-1-1zm0 4zm-1-7zm0 1zm-1 3zm0-5zm-2 16zm0 1zm0-2zm-1 3zm-2-9zm0 1zm0-6zm-2-4zm0 10zm0-9zm0 3zm-1 6zm-1-2zm-1 21zm0-29zm-1 2zm-6 5zm-1 5zm-4-12zm-4 19zm0-1zm-2-11zm-7 19zm-29-3zm-4-5zm-10 0zm-3-8zm-1 12zm-2 7zm-2-11zm0 8zm-1-6zm0-2zm0 9zm-13-1zm-4-14zm-9 10zm-6-1zm-2-14zm-4-4zm0 9zm-4-6zm-1 20zm-2-20zm0-4zm-1 6zm0 9zm-4 11zm0-3zm0-20zm-1 23zm-2-7zm-1-12zm-1-1zm0 21zm-2-6zm0-15zm-1 9zm0-17zm0 21zm-1-13zm-1 17zm-4-25zm-1 25zm-6-5zm-10 5zm-1-11zm-2 4zm-14 9zm-2-5zm-1 6zm-7-3zm-2-5zm0-7zm-4-2zm-13 11zm-2 6zm-1-4zm-8 1zm-2 2zm-1-9zm-5 5zm-5-9zm-5 10zm-4 3zm-10-2zm-9 0zm-4 4zm-3-17zm-1 15zm-4-4zm0 4zm-5-5zm-4-3zm-2 1zm-26 9zm-38-18zm-2 9zm-4-11zm-6-9zm-3 20zm-1-1zm-1-3zm-2 10zm-5 1zm3 11zm20-6zm8 10zm11-7zm10 14zm1 9zm1-1zm1-23zm3 11zm2 12zm2-8zm3 4zm1-7zm1 10zm4 0zm5 2zm0-10zm1 11zm3-1zm6-15zm7-2zm0 10zm2-6zm2-11zm2 22zm0 1zm10-12zm11-4zm5 7zm13-8zm2-6zm6 6zm3-3zm7-2zm2 18zm7-15zm1-5zm2-2zm0 9zm0 18zm2-17zm2 13zm6-14zm2-9zm3 2zm1 9zm1-7zm1-4zm1 2zm0 5zm1 9zm0-5zm1 0zm0 0zm3 11zm3-6zm1 1zm1 5zm2-11zm0 9zm0-3zm1 1zm0-8zm1 16zm0-4zm7-17zm3 8zm1-3zm1 1zm1-4zm0-1zm1-2zm1 14zm1-2zm1 2zm1-9zm0 16zm3-18zm0 5zm0-9zm2 2zm0 1zm1 9zm0-8zm0 17zm1-13zm1-6zm1 6zm0-7zm0 18zm1-21zm1 9zm1-7zm1 5zm0 13zm0-10zm0-5zm1-2zm0 14zm1-15zm2 2zm1 16zm0-1zm0-15zm1 2zm0-6zm0 7zm1-4zm0 1zm2 13zm1-2zm0-13zm1-1zm0 10zm1-1zm0 3zm0-9zm1 9zm1 12zm0-20zm0 10zm0-16zm1 6zm1 5zm0 3zm1-6zm1 11zm0 9zm1-25zm0 18zm2-15zm2 10zm9-12zm1 12zm0 7zm1-14zm1 4zm1 11zm0-7zm1-5zm2-12zm2 20zm3 1zm4 4zm3-2zm1-12zm0-11zm7 19zm1-19zm2 7zm3 7zm0 5zm3-19zm1 9zm5-1zm0 5zm1-11zm2-3zm1 22zm3-16zm0 14zm5-8zm1 7zm0 3zm4-14zm0 7zm1-2zm1-1zm1 11zm0-10zm1 13zm0-13zm3 14zm8 1zm0-28zm0 29zm45-24zm10 14zm6-16zm4 25zm1-11zm7-10zm3-5zm5 19zm7-7zm111-12zm3 5zm5-3zm4-2zm17 1zm53 2zm3 20zm1-15zm1 18zm4-16zm1 14zm3-2zm0-16zm10-2zm6 0zm82 20zm5-18zm7 9zm2-15zm2 16zm11-14zm7 1zm6 23zm1 0zm0-3zm1-5zm5-10zm6-5zm16 2zm1 17zm1-6zm3 5zm1 1zm1-15zm1-9zm1 22zm2-10zm7 9zm0-20zm2 28zm0-1zm5-10zm1-17zm1 6zm0 9zm3-11zm2-1zm1 2zm0-4zm4 5zm2 5zm38 17zm23-9zm0-12zm30 51zm0-23zm-3 14zm-4 0zm-2-3zm0-8zm0 16zm-2-7zm-1-11zm-2 9zm-1-2zm-1-2zm-2-3zm-1 1zm-1-2zm-2 14zm0 4zm-1-15zm0-4zm-1 8zm-4 1zm-1-4zm0 9zm-1-9zm-1 13zm-1-18zm-1 18zm-4-13zm-1 12zm0 3zm-1-9zm-1 9zm-2 2zm-3-21zm0 11zm-1-17zm0-1zm-1 26zm-1-15zm-1 8zm0 3zm-2-6zm-1 1zm-7 8zm-2-21zm-3-2zm-17-3zm-1 14zm-1-14zm-11 0zm-14 22zm-3-9zm-4-3zm-1 14zm-2-13zm0 7zm-7 2zm-3-18zm-4 11zm-9-3zm-4 8zm-4-12zm-1-2zm-11 22zm-6-19zm-126-1zm-4 17zm-3-13zm-3-5zm-3 0zm0 9zm-7-4zm-2-7zm-2 11zm-4-3zm-9 5zm-8 6zm-2-2zm-32 7zm-5-9zm-24 5zm-93 5zm-7-5zm-3-23zm-2 5zm-1 23zm-9-19zm-3 3zm-5 5zm-10-14zm-2 24zm-4-6zm-1-13zm-3 10zm-1 10zm-2-19zm0 20zm-3-1zm-3-1zm-1 1zm0-10zm-1-2zm-1-1zm-2 7zm-1 6zm-1-6zm0-6zm-1 3zm-2 5zm-1-20zm-3 4zm-1 6zm-1-9zm-1 21zm-2-19zm-2 11zm-2 1zm-1 0zm-2 8zm-3-5zm-1-13zm-1 17zm-1-13zm-1 5zm-3-16zm-4 24zm-7-14zm-1-5zm-1 9zm-2-10zm-1-5zm0 14zm-1-15zm-1 17zm-2-17zm-5 1zm-1 1zm-1 21zm-2-12zm-2-7zm-2-1zm-25 1zm-8 17zm-3-2zm0 2zm-2-8zm-2 5zm0-11zm-1 12zm-4-5zm-2 7zm0 8zm-2-19zm0-2zm-6-7zm-6 6zm-9 16zm-4-13zm-10 3zm-9-3zm0-7zm-10 26zm-3-12zm-8 8zm-3-18zm-3-6zm-3-1zm-15 13zm-15 13zm-21-18zm-2 14zm-2 7zm-8-23zm-2 8zm-1-2zm-3-9zm-1 10zm-3 1zm-9 9zm-2 1zm-9 2zm-8-19zm-1 0zm-3 8zm-8-12zm-2 20zm0-5zm0-4zm-3 15zm-1-8zm0-3zm0 2zm-1-3zm-1 8zm0-20zm0-2zm-1 6zm0 12zm-1 1zm0-2zm0 6zm-1-24zm0 19zm-2-13zm0 21zm-1-11zm-1-8zm0-2zm0-7zm0 11zm-1-9zm0 17zm-1 3zm-1 5zm0-19zm-2 8zm-1 6zm-2-2zm-3-12zm-4-2zm-1-5zm-2 23zm-1-3zm0-21zm-2 8zm-39 16zm-10 24zm9-12zm9 22zm0-18zm3 1zm4 14zm3-14zm2 13zm2-4zm1-21zm2 6zm1 12zm3 0zm3 4zm4-20zm0 5zm1-1zm4 0zm0 19zm2-21zm4 13zm0-4zm1-7zm0 15zm4 7zm1 1zm2-27zm2 3zm1 8zm1-5zm0 2zm1-10zm1 2zm1 18zm0-12zm0-8zm3 8zm1-4zm1 10zm1 9zm1-4zm0-14zm1-3zm0 9zm2 2zm0-8zm0-2zm1 20zm2-14zm0 5zm1 15zm1-3zm0-9zm1-1zm0 6zm1 2zm1-19zm0 0zm2 13zm1 7zm3-18zm0-1zm1 5zm1 13zm0-5zm4 9zm3 0zm0-27zm1 0zm4 3zm3 3zm3 5zm3 4zm6 11zm3-4zm0-10zm2-12zm1 10zm1 2zm1-9zm4 1zm2 16zm3-4zm3-5zm1 2zm1 2zm1-1zm1 4zm2-7zm1 12zm3 1zm12-20zm3 10zm0 8zm1 2zm3 2zm0-9zm11-13zm4 24zm1-16zm3-7zm1 7zm2-13zm7 19zm3 6zm3 3zm9-8zm5 8zm8-23zm8 3zm20 12zm1-15zm3 0zm3 8zm1 5zm32-17zm3 5zm4-1zm16 19zm5-12zm2-11zm5 24zm21-15zm0-10zm6 25zm4-16zm5-5zm12-1zm0 14zm0-1zm3-8zm0-7zm8 22zm0-13zm0-10zm2 10zm3-7zm0 8zm1-8zm1 12zm2-11zm1 7zm1-9zm4 10zm3-2zm0-6zm1 15zm1-7zm1 15zm5-20zm1 21zm1-3zm6-10zm3-9zm7 6zm1-7zm5 6zm1-5zm1-4zm5-1zm3 6zm4 14zm85-7zm1-4zm3-4zm13-2zm17 3zm2 1zm0-6zm8 12zm1-3zm4-4zm1 14zm1-14zm1-5zm1 14zm6-2zm0 13zm1-8zm5 8zm15-2zm3 0zm0 0zm1-12zm0 16zm0-16zm1-5zm2 17zm0-4zm0 6zm0-1zm1-5zm0 5zm2-5zm1 7zm1-6zm1-21zm1 14zm0-4zm2 15zm1-23zm0 12zm0-12zm2-2zm2 10zm0 15zm1-19zm1 0zm1 12zm0-19zm1 2zm2-1zm0 20zm76 2zm5 4zm19-5zm6-15zm2 21zm10 1zm2 0zm1-1zm2 0zm2-11zm7 12zm6-25zm3 25zm5-4zm0-12zm4-2zm0-5zm1 4zm1 9zm0-15zm2-1zm1 5zm0 17zm2-2zm3-6zm0 1zm1-12zm4 0zm3 0zm0-3zm1 0zm0 2zm1 19zm5-20zm2 1zm4 16zm0-10zm1-7zm0 17zm2-19zm10 23zm1-25zm2 23zm18-1zm4-5zm3 7zm5-16zm2-8zm1 9zm9-3zm2-4zm0 5zm3-6zm3 2zm5 0zm3 13zm0-7zm1 15zm2-5zm1-10zm3 18zm1-10zm4-17zm1 18zm3-2zm0 10zm7-22zm7 2zm6-5zm1 21zm0-10zm2-4zm8 15zm5-17zm0 7zm3 2zm2-11zm0 7zm4 2zm1 6zm13 9zm0 10zm-9-4zm-4 19zm-1-14zm-5-7zm-5 11zm-8-13zm-9 20zm-2-2zm-11 9zm-8-10zm-8-5zm-4 16zm-1-27zm-3 28zm-1-25zm-4 25zm-3-16zm-3 2zm-1 5zm-2 0zm-1 1zm-8-14zm-7 15zm-2-11zm-12 13zm-2-8zm-2-7zm0 13zm-2-8zm-4-5zm0 19zm-1-19zm-2 17zm0-26zm-3 6zm-2 21zm-1-13zm0 5zm-1 3zm0 6zm-4-24zm-2 15zm-4 9zm-3 1zm0-27zm-3-2zm-1 3zm0 9zm-1-5zm0 17zm-3-1zm-2-13zm-1 4zm0-2zm-2 5zm-1 1zm-1-12zm0 3zm-3-3zm0 19zm0-3zm0-5zm-1-2zm-2 14zm-2-9zm-1 8zm-4-22zm-1 2zm-1 9zm-4-6zm-2 1zm-1 1zm-1 0zm-4-4zm-1 0zm0-9zm-1 19zm-1-11zm0 13zm0-3zm-6 5zm-1-20zm-1 10zm-3 10zm-7-21zm-1 11zm-3 15zm-23-13zm-9 7zm-2 6zm-1 0zm-3-22zm0 6zm-2 13zm-4-23zm-7 1zm-1 8zm-12 4zm-2 5zm-2-2zm0-18zm-5 23zm0-3zm-6 9zm-3-13zm-6 3zm-1 0zm-1 10zm-7-18zm-1 14zm-11-14zm-2 14zm-2-2zm-3-10zm-4 16zm-8-14zm-1-5zm-1-8zm-1 10zm-1 12zm-1-18zm-1 4zm-4-4zm-1-5zm-2 5zm-31-3zm-34 7zm-1 14zm-11-16zm-47-8zm-14 1zm-4 7zm-7 5zm-10 10zm-14 1zm-1-14zm-1 6zm-1 7zm-5-1zm-1-6zm-2 5zm-1-3zm0 3zm-5-18zm-1 0zm0 13zm-2-12zm0 12zm-5-5zm-10-8zm-20 0zm-9 18zm-3-17zm-6-4zm-2 22zm-8 7zm-7-29zm-14 15zm-7 7zm-1-21zm-26 28zm-4-12zm-24-3zm-2 11zm-5 0zm0-3zm-1-9zm-2 1zm-2 13zm-1-9zm0-2zm-3 7zm-1-10zm-4 2zm-1 1zm-1-1zm0 8zm0-3zm-1-12zm0 19zm0 0zm-1-10zm0 11zm-1-13zm-1 0zm0 8zm0 2zm-1-18zm-1 12zm0-9zm-1-2zm-1 15zm-1-12zm0 11zm0-9zm-1 4zm0 10zm-1-15zm0-4zm-1 13zm0-8zm0 8zm-2-1zm0 8zm-4-6zm-1-5zm-4 10zm-2-5zm-3-12zm-1-3zm-4 3zm0 1zm-1 7zm-6-16zm0-1zm-4 1zm-1 6zm-1 7zm-1-9zm-1 2zm-13-1zm-4 20zm-1-17zm0-2zm-1 19zm-7-3zm-2 0zm-3 5zm-13-29zm-3 25zm-3-14zm0-8zm-8 6zm-2-5zm-2 7zm-1 12zm-6-5zm-2-1zm-4-1zm-6 9zm-2-21zm-2 2zm-4 0zm-2 22zm0-8zm-2-14zm-3 16zm0-14zm-3-7zm-1 13zm-1 5zm-2-4zm-1 6zm-1 1zm-1 1zm-1-13zm0 17zm-3-23zm-2 18zm-4-22zm-1 14zm-2-11zm-2 1zm-3-3zm-3 22zm-2 6zm-20-14zm-4 2zm-14 9zm-1-12zm0 11zm0-16zm-2 20zm0-18zm0 2zm0-3zm-2 17zm-7 1zm0-25zm-1 26zm0-24zm-1 9zm-2-5zm-1 10zm-2-5zm-8 15zm-9 0zm18 5zm16-1zm1 0zm17 7zm2-3zm12 8zm2-4zm4 13zm2 3zm0-21zm0 15zm3-5zm2-2zm8-13zm1 10zm0 16zm4 1zm2-24zm2 4zm0-3zm2 14zm0-6zm2-11zm1 7zm3 20zm1-24zm0 7zm1 17zm0-10zm0-12zm0-5zm0 10zm1 15zm1-3zm0-16zm1 12zm1-10zm1 9zm0-18zm0 24zm1-4zm0-5zm2-16zm2 18zm0 3zm0-12zm2 19zm0 0zm1-1zm1-19zm0-8zm0 20zm1-6zm1 5zm0 7zm4-20zm1-4zm2 13zm0-2zm2-2zm3-3zm1 12zm1-14zm12-2zm2 14zm9-9zm0 13zm0-16zm4 5zm0-7zm4 25zm10-10zm5-13zm6 6zm1-6zm10 13zm4 6zm2-20zm0-1zm3-2zm10 23zm15-24zm3 0zm11 2zm2 1zm1-4zm1 0zm0 29zm1-23zm7 1zm2 7zm0-8zm7-1zm2 4zm1-7zm2 8zm0 8zm2-12zm2 5zm2 13zm7 0zm121-2zm7 1zm0-17zm1 17zm1-12zm2-8zm2 10zm1 16zm0-20zm1 5zm6-10zm0 20zm1-18zm4-5zm2 28zm0-21zm0-7zm1 18zm1-5zm2-13zm0 6zm2-6zm3 26zm1-27zm0 3zm0 1zm2 24zm3-3zm1-23zm1 3zm1 20zm1-14zm1 6zm0-13zm1-4zm2 7zm0 16zm5 4zm3-1zm3-15zm1 14zm0-8zm1-17zm0 17zm1 1zm1 6zm0-1zm3 4zm1-2zm1-10zm2-9zm0 14zm2 8zm1-9zm4 10zm11-9zm2-1zm20 0zm1-10zm2 14zm6-2zm6-13zm6 16zm4-9zm16 8zm29-6zm15-2zm15-11zm1 25zm1-24zm1-3zm17 20zm4-1zm9 8zm5-17zm1-11zm5 17zm0-2zm2-4zm1-2zm0 15zm2-15zm0-2zm3-8zm1 17zm1 6zm3-5zm5 0zm0-5zm2 12zm3-11zm0-11zm1 2zm5-4zm1 0zm0 17zm0-10zm1 10zm0-11zm1 2zm0-8zm1 16zm1-3zm1 13zm3-3zm2-6zm1-1zm1 11zm6-9zm7 0zm5 7zm23-20zm28-2zm2 22zm2-18zm9 19zm1-1zm2 2zm1 1zm0-9zm1 0zm0-20zm0 13zm1-9zm0 10zm1 4zm8-11zm1 21zm4-25zm2-2zm0 19zm4-1zm0 2zm4-9zm0 0zm0 7zm0-7zm1 11zm1-23zm0 2zm1 27zm0-4zm3-1zm4-18zm2-3zm3 17zm1 3zm1-22zm0 22zm1-7zm2 11zm0-11zm0 1zm1 3zm1-14zm0 8zm1 15zm1-12zm1-6zm2 0zm2 11zm1 6zm1-15zm1-11zm1 0zm6 18zm2-5zm1 11zm0-19zm0-5zm3 0zm1 12zm0-6zm0 15zm1-20zm1 17zm3-5zm0 1zm1-9zm0-4zm1-3zm2 11zm1 18zm2-3zm0-21zm0 16zm1-10zm1-7zm2 15zm3-1zm2-9zm1 18zm0-19zm0-2zm1 2zm2 6zm1-1zm1 4zm0 5zm0-22zm1 16zm0-4zm1 8zm5-8zm1-9zm2 19zm0-13zm1 13zm2 7zm3-28zm1 17zm1 2zm1 2zm1 4zm0-17zm2 12zm1-3zm3-6zm0 2zm3 10zm1-1zm2 2zm1-7zm1-17zm0 24zm3 2zm1-7zm0-16zm0 24zm1-8zm3-9zm10 8zm0-2zm5 12zm1-13zm0 13zm2-6zm0 2zm10 2zm9 7zm-10-4zm-5 4zm-10-3zm-1 1zm0 3zm-1-5zm-1 10zm-2-4zm-1-1zm0 2zm-1-7zm-3 5zm-1 1zm-5-6zm-1 15zm0-11zm-1 0zm-4 0zm0 4zm0 21zm-6-28zm-1 6zm-5-3zm-1 4zm-2-6zm-9 13zm-4 7zm-4 6zm-1-24zm-3 19zm-3-22zm-4 0zm-3 17zm-3 1zm0-17zm-2 0zm-2-1zm-6 13zm-5-2zm-1-2zm-2 10zm-7-17zm-5 19zm-8-5zm-1 2zm-7-5zm0-3zm0-2zm-2 5zm-3-4zm0-6zm0 12zm-1-2zm-1-1zm-7 0zm0 9zm-1-3zm-1-13zm-2-5zm-1 25zm0-4zm-1-17zm0 21zm-2-25zm-3-1zm-3 21zm0-21zm-1 14zm-1-1zm-2 5zm0-2zm-6 8zm0 3zm-1-24zm-2 12zm0 13zm-5-22zm-2 13zm-2-8zm0 9zm-2-4zm-1-11zm0 13zm-5 11zm-1-17zm-3 10zm-21 6zm-8-9zm-2 5zm-1-22zm-4 13zm-1 1zm-5-1zm0 0zm-1-11zm-1 17zm0-9zm-1-5zm0 12zm-1-9zm0 6zm-1-10zm-5 10zm-1 7zm0-22zm-1 25zm0-23zm-1 20zm-3-11zm-1-1zm-3 18zm0-13zm-2 0zm-3-12zm-1 21zm0 0zm-1-18zm0 8zm0 5zm-3-16zm-2-3zm-2 25zm-1-23zm-1 8zm0-2zm-2 2zm0 8zm-2 0zm-1 1zm0-17zm-1 0zm-3 22zm0-11zm-1-11zm-2 4zm0-1zm0 15zm-1-16zm-1 0zm-3 14zm-3 3zm-2-5zm-2 1zm-2 5zm-1 2zm0-4zm-1 8zm0-8zm-1-7zm0 13zm0-25zm-2 23zm0-9zm-1 8zm-2-2zm-6-2zm-7-2zm-7 4zm-13-21zm-3-1zm-8 5zm-7-2zm-76 4zm-8 5zm-5 7zm-7 9zm-1-19zm0-4zm-4 4zm0 7zm-2-9zm-5 18zm-4-13zm0 9zm-1 2zm-6-20zm-2 13zm0 6zm-1-16zm0 9zm-5 0zm0-15zm-5 20zm-2-11zm-1 6zm-1-13zm-1-2zm-2 15zm-6-10zm-7-5zm0 21zm-7-7zm-4-3zm-10 1zm-6 2zm-11 9zm-1-18zm0-3zm-5 19zm0-4zm-3-14zm-2 5zm0 7zm-1 2zm0-10zm-2 15zm-2-9zm0-3zm-1 7zm-4 2zm-5 4zm-2-2zm-4 2zm-3-8zm-4 0zm-124-7zm-33 2zm-12-6zm-2-4zm-21 9zm0-2zm-1 0zm-7 10zm-3-8zm-3-6zm-1 0zm-1 11zm0-13zm-2 20zm-4-3zm-2-11zm-2 0zm0-2zm0 12zm-3 2zm-5-12zm-3 11zm-4-10zm0 8zm-4-10zm-1 7zm-2 4zm-3 0zm-2-10zm-1-4zm-1 6zm0-4zm-2 4zm-2-7zm-1 6zm-1-4zm0 1zm-1 2zm-1-1zm-3-2zm-1 4zm-1 6zm-2-9zm-8 13zm-2-16zm-3 1zm-3-3zm274 36zm29-2zm7-1zm3 0zm0 26zm26-9zm4-10zm14 19zm4-28zm3 3zm3 22zm1-14zm0-1zm1 7zm0 3zm2 6zm0-10zm5 5zm0 4zm2-26zm1 3zm1 12zm1 5zm0 6zm3-23zm1 1zm0 17zm4-17zm1 22zm1-23zm0 1zm4 15zm6 2zm2-8zm2 9zm17 4zm1-1zm0 3zm1-6zm2 0zm14-8zm5 9zm110-1zm1-7zm2 14zm1-11zm1-18zm2 25zm0-12zm3-13zm1 2zm1 1zm1 6zm1 17zm0-12zm0 3zm1-9zm1-1zm0 1zm0-1zm3-5zm0 5zm0 4zm1 3zm1 0zm1 5zm1-6zm0-4zm1 5zm0-13zm0 4zm0 9zm1 13zm1-12zm0-7zm1 18zm1-10zm0-1zm1-10zm1 20zm1 4zm1-14zm0 6zm2-2zm0-19zm1 7zm0 1zm5 16zm4 5zm4-5zm1 4zm2 1zm3-28zm7 14zm20-12zm6-3zm5 4zm4-3zm25 17zm2-11zm2-4zm0 8zm3-6zm9 18zm20-20zm2 9zm8 3zm4-9zm4 2zm25-7zm2 25zm15-4zm8-12zm1-9zm20 2zm0 3zm9 12zm1 10zm1 0zm1-8zm3 6zm9 28zm-4-12zm-1-10zm-2 13zm-23-13zm0 4zm-15 5zm-2-4zm-13 15zm-2-9zm-1 5zm-1 2zm0-2zm-4-9zm0 3zm0-8zm-1-4zm-1 23zm-1-4zm-1-2zm-1 2zm0-3zm-1-5zm-2 16zm-1 1zm0-2zm-7 1zm-3 2zm0-12zm-3-4zm-3-11zm-1 12zm-1 3zm-7 8zm-1-15zm-12 11zm-87-18zm-7 2zm0 16zm-1 4zm0-3zm0 1zm0 6zm-5-4zm-1-4zm-3 6zm0-12zm-1-3zm0 8zm0 6zm-3-12zm0 12zm0-10zm-1 7zm-2-11zm-1 5zm-1 8zm0-6zm-1-10zm-1-5zm0 1zm0-5zm-8 12zm-6-10zm-2 13zm-1-11zm-2-4zm-1 6zm-6-4zm0-2zm-7 7zm-8-6zm-2 11zm-3-9zm-18 21zm-73-9zm-6-14zm-4 24zm-1-5zm-6 5zm-4-15zm0 15zm-1-5zm-1 8zm-3-17zm-1-5zm0 21zm-1 1zm-1-8zm0 0zm-3 3zm-2 2zm0-8zm-1 3zm-2-1zm0 7zm0-1zm-1 3zm-1-2zm-1-2zm-2-9zm-1 7zm0-5zm0-1zm-1 3zm-1 8zm-1 2zm0-16zm-1 16zm0-12zm-1-2zm-1 11zm0-6zm0 1zm-1-20zm-1 22zm-1-3zm0-2zm0 0zm-1-13zm0 7zm-2 4zm-3-12zm-1 6zm-1 0zm-3 1zm-1-4zm-1 5zm-3 6zm-3-10zm-2 8zm-7-7zm-2-2zm-7-1zm-4 13zm-1-4zm-6 0zm-4-8zm-13 12zm-4-10zm0 14zm-80 29zm8 5zm8-12zm1 8zm37-2zm1-9zm1 14zm6-14zm0 10zm33 3zm15 3zm1-1zm5-4zm1-18zm22 5zm7-5zm3 3zm3 1zm1-8zm2 10zm1-7zm3-4zm1 11zm1 2zm1-7zm0 4zm0-2zm2-2zm1-6zm0 10zm0 3zm1 6zm1 4zm0-18zm1-5zm1 6zm14-5zm5 7zm3 7zm3-13zm2 5zm6 18zm3-25zm3 19zm1-5zm4-6zm15 9zm1-6zm2-4zm14 18zm4-15zm5-10zm8 0zm10 21zm53 3zm10-5zm3 5zm0-20zm1 17zm0-12zm0 12zm1-17zm0 20zm0-16zm0 16zm2-16zm1 8zm0-11zm1 6zm0 10zm1-20zm0 25zm1-15zm0-10zm1 14zm0 4zm0 2zm2-21zm0 2zm0 19zm1-14zm0 21zm2-28zm1 28zm1-3zm0-7zm5-6zm4-7zm49 15zm3 8zm10-13zm1 9zm2-12zm11 10zm3-11zm11-5zm0 22zm2-10zm2-10zm0 6zm3 9zm0-15zm1-2zm0-6zm2 24zm0-1zm2-6zm3 2zm2-9zm1 0zm0 18zm3-24zm1 4zm1 8zm2-6zm2 0zm1-8zm1 22zm1-4zm3-20zm2 27zm2-3zm0-2zm1 6zm0-25zm2-1zm0 19zm0-6zm1-8zm0 5zm2 7zm1-9zm0-9zm0 13zm0-12zm0 9zm1 4zm0-4zm0 7zm1-1zm0-4zm1 1zm0-7zm0 13zm1-8zm0 9zm2 1zm1-15zm1 4zm0 3zm2-14zm2 29zm3-15zm2 11zm0-3zm4-16zm-5 36zm-1 12zm-1-23zm-1-1zm0 2zm0 7zm-1 1zm0-6zm-1 5zm-1-6zm-1 3zm-2 6zm-3-6zm-2-5zm0 20zm-20-14zm-5 5zm-9-12zm-8 6zm-3 7zm-2 3zm-2 5zm-5-4zm-2 10zm-4 0zm-92-3zm-3-3zm-5-20zm-1 2zm-2 13zm-2 7zm0 0zm-58-5zm-3 4zm-25-4zm0-13zm-26 14zm-7-2zm-17-7zm-1 9zm-5 4zm-12 5zm-6-18zm-2 19zm-36-5zm-36-19zm-3 24zm-15-25zm-6 5zm0 16zm-4-10zm-2-2zm-1 15zm-2-22zm0 11zm0-16zm-2 4zm0 7zm-1 13zm-2 1zm-1-9zm0-15zm0 12zm-1-5zm0 10zm0-11zm-1 4zm-1 10zm0 3zm-1-10zm-1-1zm-2 6zm-2 2zm-1-8zm0 8zm-6-9zm0-7zm0 11zm-1-9zm-4 0zm-1 3zm-5-5zm-3 23zm0-18zm-1 8zm0-19zm-2 19zm-3-15zm-2 0zm-2 1zm-12 3zm-11 8zm35 15zm1 7zm18 17zm0-1zm5-11zm3-12zm6 5zm5-6zm14 3zm2-2zm1 9zm31-8zm4 11zm2-12zm0 26zm22-22zm5 22zm5-4zm8-4zm9 2zm4-5zm1 3zm3 3zm3 5zm2-12zm1 3zm13-6zm1-6zm5 20zm4-9zm0 1zm2 10zm2-6zm0-14zm1 11zm0 7zm0-7zm0 8zm2-24zm2 23zm2-7zm5 1zm0-4zm2-1zm0-13zm0 7zm3-5zm24-4zm82 0zm1 0zm3 7zm9-4zm10 24zm12-18zm4 16zm31 2zm6 1zm1 1zm7-23zm3 15zm18-2zm1-14zm2 5zm18-4zm2-1zm6-1zm1 6zm1-2zm-23 42zm-7-7zm-8 4zm-11 7zm-2-14zm-1 13zm-1-17zm-8 1zm0 14zm0-18zm-4 12zm0-9zm-2-3zm-1 11zm-6-12zm-1 14zm0-4zm0 0zm-5 15zm-2-1zm-1-10zm0-9zm0 10zm-1 7zm-1 1zm0-3zm0 0zm-2-15zm0 19zm-1-7zm-1-1zm0-2zm0 5zm-1 2zm-3-22zm-2 11zm-2 13zm-1-15zm-1 2zm-1-8zm-1-4zm0 19zm-1 10zm-1-25zm-2 2zm0-1zm-6 0zm0-3zm-1 4zm0 3zm-10 7zm-1 8zm-112-21zm-1 2zm-4 11zm-2-10zm-1 12zm-7 4zm0-16zm-1 0zm-3 12zm-1 0zm-2-3zm-2-14zm0 14zm-1-9zm0 18zm0-13zm0-6zm0 5zm-2 8zm-1-17zm0 5zm-3-6zm-2 25zm0-14zm-1 10zm-1-5zm-8 2zm-2-9zm-2 6zm0 12zm-1 0zm-2-12zm-1 3zm-2-12zm0 15zm-1 1zm-1-18zm0 23zm-1-9zm-4 0zm0-3zm-2 10zm-1-1zm-3-17zm-2-5zm-2 27zm-2-24zm0 3zm-5-2zm-3 1zm-1 2zm-2 14zm-1 2zm-47-15zm-2 10zm-28 9zm-6-26zm-14 13zm-4-4zm0-1zm-3-6zm-5 15zm-1 1zm-4-13zm-13-7zm-10 20zm-3-4zm33 23zm1-6zm2 16zm22 5zm2-22zm6 14zm2 11zm6-19zm0 17zm6-6zm0 9zm1-14zm0 7zm1 7zm3-2zm1-21zm5 11zm9-2zm11-1zm13 11zm5-14zm8 0zm2 9zm3-18zm3 14zm1-8zm3-3zm4 23zm0-12zm0 12zm3-13zm3 3zm1-11zm0 0zm1 20zm0-10zm1-15zm0 22zm3-23zm2 15zm1-16zm0 28zm2 0zm1-16zm0 16zm0-11zm0 6zm1 5zm0-16zm1 6zm2-2zm1 9zm0-3zm0-14zm1 16zm0-4zm0-11zm0-9zm1 24zm0-17zm1 15zm0 5zm0-22zm2 11zm0 5zm2-6zm0 13zm1-25zm0 10zm1 1zm0 3zm1 5zm0 4zm1-21zm0 7zm0 4zm3 5zm1 1zm2 5zm1-17zm0 7zm1 2zm2-9zm3 1zm0 10zm1 7zm0-28zm4 17zm0-14zm3 3zm3 1zm1 0zm5 13zm11 3zm30-5zm18 8zm1-5zm3-2zm12 2zm4 0zm0 5zm3-13zm5 11zm5-1zm5-10zm2 13zm1 1zm2 1zm0-7zm11 5zm3-13zm2 3zm7-4zm1 6zm0 10zm3-10zm5 8zm0-15zm0-11zm1 4zm3 10zm0-4zm1-7zm3 12zm1-15zm1 10zm2 1zm0-10zm0 22zm1 5zm4-27zm1 19zm4-17zm3 1zm3-4zm0 17zm4 1zm10 1zm9 1zm2-11zm1 16zm4-19zm7 4zm-25 24zm-3 15zm0-2zm-6 3zm-1-10zm-2-5zm0 4zm-2 6zm-4-6zm0 12zm-1 4zm-2-12zm0 11zm-3-1zm-2-10zm-1 5zm-1 0zm0-4zm0-6zm-2 2zm0 4zm0-11zm-2 10zm0 16zm-5-5zm0-11zm-2-8zm-1 10zm-1 4zm-3 4zm-3 5zm0-11zm-2-5zm-19-10zm-2 4zm-1 3zm-4 9zm-9-2zm-11-11zm-11 15zm-2-18zm-3 0zm-6 4zm-17 0zm-2 1zm-1 1zm-2 15zm-7-3zm-6-8zm-2 1zm-41-8zm-7 5zm-5 4zm-5 12zm-4-20zm0-6zm-1 7zm0-3zm0 5zm-1 2zm-1-9zm-1 5zm0-6zm-1 15zm-1 2zm-1 3zm-1-16zm0 11zm-1 13zm0-26zm-2 3zm0 17zm-2-18zm0 18zm-2-16zm-1 18zm-3-25zm-1 23zm0 3zm-1-1zm-1 1zm-1-7zm-2-2zm-1 0zm0 5zm-8-22zm-1 5zm-2 22zm-5-21zm-2 5zm-3-11zm-3 19zm-5-6zm-2 10zm-2 4zm0-20zm-2 21zm-1-14zm0 11zm-1-5zm0-6zm0 1zm-3 14zm0-7zm-2-5zm-1 4zm0 2zm-1 4zm-1-20zm-2 16zm-1 0zm-1-1zm0 2zm-1-20zm-4 12zm0-15zm-4 19zm-2-2zm0 4zm0-13zm-2 12zm0 8zm-1-1zm-1-2zm0-18zm-1 2zm-1 4zm-3-13zm-3 23zm-4-17zm-2 8zm-1 6zm-3-8zm-1 4zm3 14zm10 6zm3-4zm2-1zm2 2zm3 17zm3-19zm4-1zm0 11zm1 4zm3 11zm4-17zm1-5zm4 24zm6-26zm0 1zm2-2zm3 21zm14-18zm2 6zm1 9zm1-18zm7 9zm1-7zm7 0zm1 9zm0 13zm6-8zm0 11zm1-15zm9 12zm0-15zm1-9zm5 20zm1-3zm2-6zm0-6zm1 8zm2 10zm1-19zm3 0zm13 6zm33 15zm5-9zm2 11zm9-18zm2 8zm8-6zm14 12zm7-9zm0-11zm3 19zm24-15zm25-5zm-26 44zm-3 8zm-2 2zm-6 1zm-1-8zm-3 2zm-2 4zm-1 0zm-3-25zm-5 14zm-1 8zm-3-11zm-13 2zm-2 3zm-2-7zm-1 17zm-1-11zm-8 5zm-5-11zm-7 17zm-3-13zm0 5zm-1 9zm-2-24zm0 19zm-4-7zm0-4zm0 12zm-2-20zm-1 22zm0-16zm-5 14zm-2-14zm-1 17zm-1-5zm-1 0zm-1-2zm-3-18zm-2 17zm0-9zm-2 8zm-4-19zm-8 15zm-2-5zm-12-7zm-2 0zm-1 7zm-16 1zm-5 2zm-3 11zm-1-11zm-2-8zm-4 2zm-10 21zm-3-20zm-12-7zm0 26zm-1-22zm-2 3zm-5 18zm-1 0zm-1-8zm-9 4zm-9-7zm17 22zm3 8zm5-6zm5-2zm10 3zm4 5zm5-1zm84-4zm4-6zm3 0zm2 0zm1-1zm1 7zm13-1zm1-6zm34 2z" stroke="#1fb9c1" stroke-width="11.5"/><path d="M2257 323zm42-11zm3 0zm4-2zm2 8zm6 0zm7 6zm1 2zm5 0zm0 2zm5 1zm9 14zm-4-8zm-3-2zm0 26zm-1-23zm-1 9zm-1-10zm-3 8zm-3 9zm-1-22zm-1 2zm-3 4zm-1-2zm-3-3zm0 24zm-3-24zm-1 3zm-5-4zm-2 25zm-7 1zm-2-25zm-2 12zm-3-3zm-4 6zm-5-3zm-11-13zm-6 7zm-55 43zm34-1zm36-10zm5-1zm1 20zm27-3zm0-3zm3 0zm27 0zm10-21zm22 27zm49-2zm9 19zm-11 5zm-8-7zm-15 4zm-3-6zm-4-9zm-1 8zm-1-2zm-5 12zm0 0zm-1-8zm-3 4zm-3 6zm-9 5zm-6-24zm-1-3zm-13 8zm-22 11zm0-14zm-11 19zm-12 1zm-5 3zm-1-7zm-2-17zm-3 15zm0 5zm0-1zm-1-11zm0-8zm0 1zm-2 8zm-2 16zm-2-10zm-2 7zm0-11zm0-2zm-2 7zm-1 1zm-3-14zm-1 19zm-1-18zm0 8zm-2-1zm-2 4zm-1-9zm-2 1zm-2 9zm0 3zm-3-9zm-15 3zm-2 10zm-1-6zm-12 6zm-7-5zm-2-18zm-1 25zm-3-9zm0 9zm-1-1zm0-5zm-5-16zm-10 15zm-2 2zm-2-10zm-3 10zm-6-15zm-12-5zm-4 14zm-2 8zm-4 2zm-3-5zm0-10zm-159 35zm130 6zm1-18zm20 15zm28-11zm4 8zm13 1zm1-7zm2 1zm2 11zm1 1zm0-20zm3-1zm3 0zm1 11zm2 2zm7-5zm5 4zm1-1zm2 6zm1-16zm1 5zm0 0zm4-5zm3-1zm0 0zm3 6zm0-8zm1-2zm1 10zm11 10zm21-4zm16-10zm5 3zm10-6zm1 7zm0-5zm1 11zm2-9zm5 14zm6-6zm26 2zm11-1zm1 0zm2-13zm8 24zm4-19zm2 2zm1 13zm4-10zm5 6zm8-7zm3 12zm-3 8zm-7 10zm-9-3zm-8 6zm-3-10zm0-2zm-4 14zm-1 9zm-4 2zm-7-22zm-4 0zm0 8zm-11 14zm0 1zm-8-26zm-8 15zm-1-6zm0 2zm-2-12zm0 24zm-12 1zm-5-12zm0 6zm-4-12zm0 9zm-5 8zm-2-23zm-1 3zm-4 16zm0-2zm-3 9zm-1-26zm-1 18zm-2-10zm-5 9zm0 3zm-1-7zm-1-6zm-1 10zm-5 4zm-4-10zm-1-3zm-5 13zm-2-7zm-3-5zm-9 7zm-14-15zm-6 9zm-2-7zm-12 0zm-2 4zm-1-4zm-2-3zm-6 4zm-2 3zm-7-3zm0 4zm-1 3zm-1-3zm-4 5zm0-1zm-1-14zm-1 22zm-2-13zm-2 14zm-3 3zm-1-17zm-1-1zm-2 18zm-2-2zm-5-8zm-1-5zm-1 8zm-1 9zm0-2zm-8-5zm0 7zm-1-23zm-3 23zm0-1zm-4-5zm-1 3zm-4-25zm-4 27zm-28-4zm-83-9zm-2-3zm-6-1zm-1 4zm-2 0zm0 3zm-3-10zm-3 11zm-3 4zm-2 1zm-3-8zm-64 5zm-19 3zm-5-16zm-14 3zm-7-2zm-3 6zm-16 14zm-21-5zm-1-13zm-2-7zm-6-1zm-1 13zm-12 4zm-20 9zm-48 20zm14 1zm11-2zm10 9zm20 1zm11-17zm6-10zm23 27zm6-28zm7 23zm0-2zm1-14zm7 9zm2-9zm1 8zm0-13zm1 22zm1-14zm6 13zm2-3zm1 1zm1 2zm0 0zm2-14zm1 12zm4-3zm0-4zm2 7zm1 0zm2 2zm1 1zm3-9zm2 9zm3 3zm1 2zm16-26zm6 6zm1 16zm0 0zm1 1zm0-4zm23-3zm7 4zm13-17zm7 9zm1 11zm2-7zm0 9zm3-8zm4-9zm1 2zm1 9zm0-5zm3 7zm0-11zm1 8zm0-18zm2 4zm1-3zm0 9zm1 4zm0-6zm0-2zm1 12zm1-4zm0-10zm1 22zm2-7zm1-1zm3-16zm2 22zm3-8zm1-2zm1 11zm1-17zm0 13zm8-9zm101-10zm4 9zm3-9zm3-4zm0-1zm1 17zm3-6zm0 2zm3-8zm1 6zm2-5zm0 20zm2-19zm1-4zm1 8zm0 8zm1-6zm0 11zm1-19zm2-1zm0 23zm3-16zm2 2zm0 16zm0-4zm0 1zm2-13zm2-1zm1 5zm1 6zm2-19zm0 0zm1 10zm0-9zm1-2zm0 11zm2-3zm2-7zm0 2zm0 11zm1-10zm0 18zm1-16zm1-3zm0-3zm1 24zm0-15zm4 11zm1-13zm0-8zm1 8zm1 12zm2 3zm0-13zm0 3zm1 9zm1-7zm2-12zm3 6zm3 8zm1 0zm2-12zm1 9zm2 1zm4 11zm1 1zm3-18zm3 3zm1-2zm2 8zm3 4zm0-2zm1-4zm0-16zm1 7zm0 9zm1-16zm2 2zm1-3zm1 22zm1 0zm1-2zm1-13zm1-7zm0 17zm2 1zm0 1zm3 5zm4-25zm0 4zm0 14zm0-11zm2 6zm2 5zm1-5zm0-4zm1-7zm2 18zm0 1zm5-13zm6 3zm1-1zm0-5zm0 11zm0-7zm3 6zm0-13zm1 4zm4 6zm1 13zm1-23zm1 15zm1-12zm0 6zm1 9zm3-3zm1 1zm0-3zm1-2zm0-5zm0-2zm1-6zm1 5zm0 16zm0-1zm0-10zm1-5zm5 4zm1 9zm3 5zm0 0zm3 3zm1-20zm0 3zm3 3zm1 0zm0-9zm6 12zm0-10zm1 23zm2-8zm1-6zm0 11zm1-23zm2 0zm1 16zm1-18zm0 20zm0-10zm3-8zm1 13zm3 9zm0-23zm2 2zm1 3zm1-6zm2 7zm1-1zm1-1zm4 21zm1-25zm2 3zm5 23zm4-25zm1 2zm7 25zm2-27zm0 0zm4 10zm9 12zm1-10zm6 1zm4 13zm7-23zm1 14zm3 6zm4 4zm13 12zm-13 15zm-2-7zm-4-2zm-3-4zm0 3zm-3-4zm-1-9zm-4 2zm-3 10zm0 4zm-4-4zm-9-5zm-9-3zm-3-5zm-3-2zm0 21zm-2-14zm-4 20zm-8-22zm-2-1zm-4 14zm-1 1zm-4 3zm-4 2zm-4-22zm-1 11zm-1-12zm-1 11zm0-6zm-3 19zm-2-24zm-1 12zm-5 6zm-1-7zm-8 5zm-1-16zm-42 11zm-3 7zm-8-16zm-5 10zm-7-9zm-6-1zm-3 4zm-1-4zm-7 0zm-10 11zm-3-13zm-9 3zm-1 1zm-7 6zm-1-11zm-1 1zm-2 5zm-2 17zm-3-2zm0-17zm-2 0zm0 12zm-1-15zm-2 25zm-1-4zm-1-9zm-143 14zm-3-13zm-1-8zm-1-5zm-11 6zm-9-1zm-3 6zm-2 15zm-1-11zm0-13zm-2 20zm-2-9zm-1-10zm0 8zm-2 5zm-6 0zm0 12zm-1-11zm-4 7zm-1-11zm0 11zm-1 0zm-2-16zm-1 14zm-1-3zm-1-16zm-12 18zm-1 7zm-3-26zm-4 23zm-1-13zm-5-9zm0 22zm-2 1zm-1 1zm-10-20zm-1 16zm-1 0zm0-16zm-2 7zm-3-11zm-1 24zm-2-9zm-1-1zm-9-5zm-1-12zm0 19zm-3-14zm-1-1zm-18 12zm-1 7zm-7 1zm-2-16zm-14 7zm-54 11zm-16-5zm-1-1zm-8-6zm-1 4zm-3-15zm-11 23zm-7-14zm5 39zm9-15zm2 14zm1-6zm8-3zm1 13zm1 1zm0 1zm1-8zm1 4zm0 2zm1-5zm2 1zm1 0zm4 6zm0-3zm1 3zm4-15zm1 17zm7-5zm29-10zm11 9zm5-18zm6 21zm2-12zm4-8zm0 2zm0-7zm5 4zm25 4zm13 17zm6-22zm6 19zm0 5zm3-20zm3 12zm0-16zm0 10zm1 7zm1-11zm1-4zm1 3zm1 15zm1-7zm0 0zm0-15zm1 16zm0 11zm7 0zm1-8zm2 3zm1-8zm0-13zm4 22zm1-15zm8 19zm1-9zm1-15zm2 11zm2 11zm0-24zm0 12zm7-14zm3 16zm1-12zm2-1zm16-3zm5 4zm13 19zm7-1zm13-15zm4 19zm124-10zm19-10zm6 10zm2 8zm3-24zm2 27zm3-2zm5-2zm0-13zm2 17zm5-5zm78-15zm2 18zm0 2zm3-9zm2 0zm3 6zm4-7zm2 6zm4-6zm0 8zm1-17zm2 1zm0-6zm1 13zm0 2zm1 0zm4-14zm1 20zm0-5zm1 6zm1-7zm4-1zm2 6zm2-1zm1-14zm0 12zm1-1zm1 2zm3-3zm0 7zm6-13zm0 3zm0 0zm1-9zm1 11zm4 0zm0-1zm0 8zm1-13zm6-2zm2 9zm1-4zm1 5zm0-4zm1 2zm3 0zm0-10zm1 20zm1-7zm2-12zm0 2zm2-9zm1 2zm2-4zm6 27zm9-18zm12-2zm127 52zm-26-6zm-18 5zm-7 1zm-83-18zm-13 2zm-1 9zm-5-6zm0-11zm-2 1zm-4 7zm-4-10zm0 11zm0-8zm-2 3zm-2-5zm0 21zm-1-17zm0-5zm-1-3zm-4 19zm-1-19zm-2 22zm-2-22zm-3 10zm0 6zm-11-15zm-5 2zm-1-2zm0 12zm-1-10zm-1 1zm-7-3zm-2 24zm-6-10zm0 2zm-8-1zm-5-9zm-1 0zm-3 3zm-6 18zm0-20zm-1 15zm-3-7zm-2 13zm-6-2zm-1-17zm-2 9zm-6 3zm0-15zm-7 2zm-1 5zm-9-9zm-5 23zm-9-8zm0-6zm-3-5zm-7 4zm-1 5zm-5 0zm0 0zm-7-6zm0 10zm-4-3zm-9-16zm-4 6zm-3-8zm-3 0zm-66 28zm-29 0zm-41-29zm-3 24zm-5-24zm-4 16zm-4 8zm0-13zm-4 5zm-9-1zm-6-10zm0-1zm-7 8zm-1 17zm-8-21zm-9-3zm-1 7zm-2 12zm-2-4zm0-6zm-3 6zm-7 3zm-1 3zm0-8zm-1-6zm-3 9zm-2-1zm-2-15zm-5 24zm-1-16zm0-4zm-1 17zm-1-14zm0-3zm-2 5zm-1 15zm0-17zm-1 17zm0-12zm0 11zm-1-16zm0-2zm-1 17zm0-8zm0 4zm-1-4zm-1-2zm0 1zm-1-9zm-1 12zm-1-11zm0-3zm0 15zm0-7zm-1-11zm0 20zm0-21zm0 2zm-2 6zm0-5zm0 20zm0-6zm0-16zm-1 2zm0 2zm-1 17zm-1-12zm0 4zm0 10zm-1-14zm-1 16zm0-12zm-1 1zm0-15zm0 15zm-1 0zm-1 3zm-2-8zm0 4zm0-13zm-1 21zm-1-25zm0 1zm-2 5zm-1 23zm-1-16zm-2 2zm-3 12zm-3-18zm0 10zm-1 1zm0-11zm-4 9zm-12 10zm-2-8zm-3-4zm0 11zm-3 1zm-2-28zm-1 23zm-1-21zm-4 11zm-1 3zm-9 11zm-1-11zm-1-14zm-5 24zm0-8zm-1-1zm-3-3zm-2 13zm-1-1zm-5-26zm-4 4zm-20 23zm-2-4zm-7-17zm-3 12zm-1 8zm-5-22zm-1 13zm-24-3zm-6-13zm-3 4zm-3-4zm24 38zm5 16zm4-15zm2 6zm13 7zm2 2zm3-3zm4-21zm7 23zm5 5zm4-18zm6 18zm2-21zm1 9zm1 6zm0-16zm3-2zm0 13zm2 11zm0 0zm5-22zm2-3zm1 3zm2 9zm3-5zm0-6zm1 20zm4-10zm1-2zm1-6zm5 0zm0 14zm0-2zm12 4zm16-3zm9 0zm4-19zm2 14zm2-14zm5 12zm2-5zm2 11zm1-17zm1 6zm0-8zm3 8zm1 7zm1 1zm2-6zm1-3zm3 5zm2 7zm1-11zm1 12zm1-3zm1-7zm1 17zm1-4zm2-10zm2 12zm1-1zm1 2zm2-6zm1 4zm1-21zm1 5zm1-7zm16 5zm9 7zm3-8zm40 23zm8 0zm13 0zm14-11zm14-9zm0 12zm11-10zm2-6zm0 4zm9 15zm78-21zm15 15zm3-15zm2 0zm1 21zm4 5zm0-10zm4 5zm0 6zm1-21zm1 21zm2-8zm5 1zm1-2zm4-1zm3 0zm3-16zm3 15zm1-1zm1 5zm5-18zm0-2zm4 3zm5 18zm4 1zm7-22zm2 8zm5 4zm5 8zm4-14zm1-3zm2 13zm11-10zm1 6zm10-7zm15 7zm3 5zm2-1zm1-2zm9 2zm1 4zm2-12zm70 19zm2-19zm3-2zm18 15zm37-4zm9-8zm3 8zm2 10zm3-12zm5 0zm3-16zm1 9zm1 10zm1-9zm2-5zm4 21zm1-4zm0 6zm2-4zm10-3zm9 6zm0-6zm105-4zm5-2zm0 8zm3 3zm0-9zm3-3zm6 9zm4-1zm5 5zm13 18zm-7-15zm-5 25zm-1-18zm-6-8zm-9 12zm-1 8zm-1 7zm-2-9zm-5-6zm-1-1zm0-11zm-6 25zm-1-18zm-2 12zm0-14zm-1 15zm-3-14zm-1 3zm-1 10zm-10-10zm-6 11zm-2-5zm-9 12zm-6-8zm-13 5zm-2 3zm-15-13zm-5 11zm0 0zm-5-9zm-12-9zm-3-6zm0 12zm-6 5zm0-5zm-3-9zm-8 7zm-1 12zm-1 6zm-2-29zm-2 8zm-1 14zm0-9zm-1-5zm0 12zm-1-10zm-2 4zm0-8zm0 18zm-2-24zm-4 7zm-3 9zm-2 1zm0-6zm0 16zm-2-13zm-1 9zm-1 2zm-6-9zm-14 4zm-10-3zm-9 6zm-20 4zm-8-1zm-5-4zm-4 6zm-1 0zm0-6zm-8 3zm-2-12zm-4-1zm-2 9zm0 8zm-6-4zm0-19zm-3 20zm0-3zm-1-1zm-1 2zm-105-13zm-1 18zm-6-5zm0-6zm-2-7zm-1-7zm-4 1zm0 6zm0-10zm-1 16zm-4-2zm-2 13zm-1-14zm-1-2zm0 10zm0-14zm-2 9zm-1-14zm-16 3zm-1-5zm-1 27zm0-25zm-2 2zm0-2zm-1-2zm-3 25zm-3-19zm0 9zm0 10zm-1-21zm-1 8zm-1-4zm-1-7zm-1 10zm-1-7zm-2 16zm0-19zm0 8zm-1 4zm0-1zm-1 10zm-2-17zm-1 5zm0-1zm0 3zm-1-4zm-1 5zm0-4zm-1 3zm0 0zm-1 1zm0 4zm-1-10zm0-8zm-2 17zm0 0zm-1-3zm0 2zm-2 4zm0-20zm-1 23zm-2-7zm-8-3zm0 2zm-3-6zm-1-4zm-119-5zm0 27zm-1-14zm-24-7zm-2 6zm-2-2zm-59 0zm-14-7zm-30 13zm-35-10zm-8-4zm-9 6zm0-6zm-4 0zm-4 11zm-1-6zm-3 0zm-4 2zm-5-6zm-3 4zm-1 10zm-1-13zm-4 23zm-9-10zm-4 0zm-1 4zm0 5zm-1-8zm0 0zm-1-5zm-1 5zm0-2zm-1-13zm0 3zm-5 17zm-1-23zm0 10zm-2 16zm0-14zm0 17zm-3-11zm-1-9zm-1 4zm0 4zm0 8zm0-3zm-1 6zm-2-9zm0-9zm-1 19zm-1-13zm0 7zm-1-6zm-2-4zm-4 9zm0 7zm-1-28zm0 18zm-2-7zm-1 12zm-1-6zm-1 4zm0 4zm-2-17zm0 20zm-8-1zm-10-16zm-2 15zm-2-3zm-2 0zm0 5zm-12-12zm-2 1zm-9 9zm-1-5zm-7 1zm-5-11zm-6 33zm8-7zm3 3zm5-3zm6-5zm2 2zm5 5zm0 8zm2-16zm3 12zm7 0zm6 3zm1-5zm2-2zm4 8zm0 5zm0 0zm1-14zm0-6zm0 9zm1 1zm1-7zm2 1zm1-4zm1 3zm0 9zm1 6zm0-5zm1-10zm1-1zm0 2zm2 1zm0 0zm1 3zm0 1zm1-10zm0 14zm4-6zm2-1zm0 3zm2-8zm5-2zm5 27zm7-21zm1-2zm25 2zm181-7zm1 6zm175-4zm10 3zm31 5zm115-4zm2 17zm6-20zm2 23zm0-5zm1 6zm2-23zm3 1zm2-6zm1 6zm10-6zm3 13zm4 8zm1-21zm1 9zm10-7zm12 16zm2 7zm2-14zm5 16zm1-18zm3-2zm6 16zm1 1zm2-8zm2-16zm0 21zm1-2zm3 1zm2-1zm0-10zm1-5zm3 20zm3 0zm14-10zm8 8zm13-22zm9 8zm2 20zm1-13zm7-1zm21-8zm2 16zm4-5zm1 12zm0-8zm4 6zm1 1zm1-2zm6-9zm1 8zm2-3zm3 1zm0 5zm2-21zm4 2zm3-9zm3 1zm2 24zm6-19zm2 19zm1-19zm2 11zm3-8zm4 1zm6 17zm7-23zm1 4zm1-2zm1 3zm1 1zm1-4zm3 19zm1-20zm1 6zm1 0zm5 3zm13-11zm4 15zm4-7zm7-2zm1-3zm12-3zm-63 29zm-7 0zm-3 23zm-1-4zm-1-21zm-4 9zm-1 0zm-4-5zm-8 16zm-1-2zm-3-10zm-5 2zm-5 5zm-7-6zm-1-5zm-2 18zm-1-3zm-1-5zm-1-5zm-2-9zm-1 25zm-1 1zm-5-21zm-1 18zm-1 6zm-2-23zm-8 21zm-4 1zm-3-8zm-3-2zm-9-11zm-40-7zm-10 29zm0-23zm-60 11zm-3-9zm-1 19zm-1-4zm0 5zm0-12zm-3-7zm-2 8zm-1 7zm-1-1zm0-5zm-4 5zm-1-8zm-2-11zm-2 21zm-1-16zm0 15zm0 0zm0-24zm-1 19zm-3-11zm0-6zm0 23zm0-14zm0-7zm-1 3zm-2 16zm-1-8zm-1 2zm0 12zm-1-2zm-3-3zm-197-7zm-54 6zm-12 5zm-1 1zm0-8zm-3-7zm-1 13zm-4 0zm-5 0zm-8-13zm-5-7zm-1 11zm-4-16zm0 21zm-4-16zm-5 5zm-1 5zm-59-6zm-198 2zm-23-13zm-3 6zm201 41zm7-17zm12 25zm1 2zm5-9zm4 6zm7-15zm31 6zm0 8zm7-17zm0 20zm3-15zm1 14zm7 4zm2-3zm13-11zm1 6zm1-4zm4-5zm2 16zm1-24zm5 24zm1-7zm3-17zm3 5zm4-9zm3 4zm1-3zm0 5zm3-2zm0 10zm1 12zm9-23zm3 23zm4-14zm7 7zm3-4zm2 9zm132 4zm3-12zm0-15zm4 17zm85-13zm1 10zm1-12zm2 10zm0-6zm0 10zm2-10zm2 4zm0-6zm1 7zm1 3zm0-4zm1 3zm1-4zm0-9zm1-1zm2 9zm0-9zm0 19zm0-5zm1 5zm0-6zm2-8zm1 5zm1 8zm0-17zm1 3zm0 2zm0-5zm0 5zm2 22zm2-20zm0 0zm0 1zm3 18zm2-4zm4-6zm2-13zm0 22zm2-19zm0-2zm2 19zm8-3zm2 5zm1 0zm3-16zm1 19zm4-8zm0 3zm4 3zm3-4zm8 0zm1-4zm2 0zm2-1zm2-4zm5-2zm6-1zm7 10zm62-19zm25 18zm3 1zm5-5zm1-3zm4 0zm147 19zm-147-1zm-108 3zm-9 0zm-12-2zm-4 22zm-1-16zm0 13zm-1-18zm0 6zm-2-6zm-7 1zm-2-4zm-2 24zm-1-19zm-2 6zm-1 10zm0-14zm-3 3zm-4 11zm-5-19zm-5 12zm-4-1zm-3-9zm-5-3zm-28 2zm-56 6zm-5 4zm-11 11zm-1 1zm0-19zm-1 16zm-2 2zm-2-7zm-6 9zm-126-22zm-26 13zm-17-13zm-2 3zm-1 3zm-6-3zm-4 11zm-2-12zm-1 1zm-11 18zm-3-6zm-1-12zm-8 3zm-14 2zm0 3zm-2 0zm0-13zm-3 17zm0-19zm-2 2zm-4 23zm-7-18zm0 19zm-15-10zm-1-14zm0 25zm-5 1zm-1-23zm-3 10zm-1 14zm0-22zm-8 8zm-2 1zm-1 4zm-1-17zm-4 8zm0-6zm0 19zm-1-17zm0-3zm-1 4zm0 19zm-2-5zm-5-7zm0-2zm-2 15zm0-11zm-1 2zm-2 10zm0-18zm-1-2zm-2 15zm-2-3zm-1 8zm-5-23zm-1 10zm-4 3zm-2-14zm-1 12zm-3-1zm-13 13zm-2-4zm-13-24zm-10 53zm29-12zm2 9zm15-7zm1-3zm8-7zm4-4zm15 17zm12-6zm2 3zm3-6zm10 3zm122 16zm5 1zm97-17zm6-4zm0 5zm6 5zm9-8zm2-4zm0 24zm2-10zm3-1zm1-3zm1-13zm2 1zm0 20zm1-17zm1 7zm0-2zm1 3zm1 15zm0-12zm1-1zm0-10zm3 15zm1-13zm8 21zm0-8zm1 8zm3-4zm1 4zm0-17zm3 12zm11 5zm21-26zm1 10zm0 7zm22 2zm26 6zm43 0zm267-4zm3-14zm1-7zm-237 54zm-11-3zm-10 4zm-3-4zm-32 2zm-7 2zm-6-9zm-4 7zm-5-1zm-4 2zm-1-5zm-8-3zm-1-3zm-3-7zm-18-4zm0 24zm-19-1zm-1-2zm-1-19zm-2-4zm-2-3zm-1 10zm-2 15zm-1-10zm-5-1zm-1 8zm-6-21zm-2 16zm-1-13zm-1 12zm-2 0zm0 13zm0-24zm-1 6zm-3-9zm-1 9zm-3 14zm0-16zm-3-2zm-7-4zm-4-3zm-6 4zm-5-2zm-1 2zm-14 7zm-1-5zm-17 9zm-21 9zm-4-22zm-4 21zm-1-14zm-2 5zm-4 1zm-8 6zm0-18zm-7 3zm-14 10zm-1 0zm-4 12zm-5-20zm-13 16zm-9-12zm-5 5zm-1 5zm-1-3zm-189-18zm0 13zm-10-4zm-5-2zm-6 7zm-2-3zm-1-4zm-1 15zm0 0zm-5-20zm-13 16zm-12-15zm-50 4zm278 37zm4 10zm5-12zm37 16zm1-7zm6-21zm1 25zm3-3zm1-1zm13 3zm1 1zm1-5zm4-9zm4-10zm4 2zm1 12zm0-7zm2-5zm2-2zm1 13zm2 0zm5 5zm2-18zm2 14zm12-12zm31 5zm5 4zm5-5zm1-4zm3 9zm2-8zm11 1zm4 12zm4 2zm7 7zm10-19zm3-1zm52 9zm7-16zm4 29zm4-1zm2-20zm1 10zm1-1zm0-10zm1 2zm1 3zm4 9zm6-5zm3-5zm7 9zm1-14zm2 15zm0-7zm4-1zm1 6zm9-11zm6 15zm0 6zm18-4zm4-18zm4 0zm2-4zm1-2zm1 23zm4-1zm0-3zm10-15zm3 16zm8 4zm2 0zm2-12zm3 7zm16 3zm4-3zm2-16zm19 17zm7-3zm11 0zm2 4zm6-3zm7-2zm7 11zm20-28zm7 26zm0-22zm5 19zm0-11zm4 7zm5-18zm1 9zm8 23zm-12 1zm-1 5zm-6-8zm-1 3zm-1 8zm-1-3zm-2 13zm-1-13zm-5 10zm0-4zm0-10zm-15 19zm0-14zm-1-6zm-1 11zm-2-12zm-2 8zm-2-8zm-1 5zm-6 8zm-29 9zm-4-8zm-2 1zm-1-1zm-1 5zm-15-1zm-1-4zm-1-1zm-5-7zm-4 4zm-21 11zm-4 1zm-2 4zm-2-25zm-1 17zm-3-21zm-2 2zm0 27zm-2-23zm-3 8zm-1 2zm-1-9zm-4-3zm-2 0zm-1 7zm-5-7zm-1 7zm-3 4zm-1-1zm-11-9zm-53-3zm-5-2zm-5 1zm-20 20zm-1-19zm-18 23zm-15 4zm-1-2zm-2 0zm-1-6zm-1 2zm-1-13zm-1 5zm0-1zm-3 7zm-2-3zm-3 10zm-2-3zm-4-24zm-1 22zm0-5zm-5 4zm-1-7zm-1 14zm0-11zm-2-9zm-1 4zm-1 14zm0 2zm-2-4zm-1-4zm-1 1zm-9 3zm-3-5zm-7 0zm-1 3zm0-21zm-4 12zm-1 0zm-5 15zm-4-3zm-19-24zm-4 1zm-1 3zm-27 2zm-6 2zm0 0zm-7-9zm-7 21zm-1-13zm-1 10zm-9-16zm0 9zm-10 8zm-5 6zm-4-19zm-2-2zm-10 5zm0 5zm-1 6zm0-14zm-4 19zm-1 0zm-27 2zm-2-3zm-17 28zm6-6zm9 3zm3 2zm1-8zm2-13zm1 26zm0-2zm2-13zm1 6zm5 4zm5-2zm0-12zm1 14zm3-12zm0 9zm0 6zm3 1zm3 2zm13-12zm4-1zm9-9zm3 20zm13-1zm11-20zm3 3zm13-5zm7 12zm16 13zm26-20zm4 1zm6-9zm3 12zm0-1zm13 14zm2-16zm5 12zm0 0zm3-7zm1-12zm0 21zm7 3zm5-26zm3 12zm2-3zm3-5zm0-2zm0 7zm2 17zm1-7zm1-7zm1 3zm0-7zm1-2zm8 0zm0-3zm1 9zm2-1zm0-7zm2 12zm1-4zm2-5zm1 11zm3-14zm2 11zm1-13zm3 5zm102 5zm14-12zm0 7zm10 6zm3-9zm4 25zm2-25zm7 22zm0 3zm1-23zm2-2zm3 5zm1 8zm2-1zm3-10zm2 8zm0-6zm3 8zm1-7zm3-9zm1 6zm4 10zm3 9zm1-17zm3-6zm1 12zm2 7zm6-15zm1 9zm3-5zm2 18zm0-21zm11 0zm-6 42zm-16 9zm-3-17zm-6 5zm-10 12zm-8-10zm-1 9zm-3 2zm-3-26zm-2 16zm0-4zm-4 14zm0-18zm-4-2zm0 19zm-9-5zm-13-5zm-2 8zm0 3zm-16-8zm-2-3zm-2 11zm-9-10zm-30-6zm-24 6zm-5 10zm0-3zm-13 3zm-18-1zm-16-5zm-9 2zm-11-19zm-5 4zm-1 9zm-10-13zm-4 22zm-2-27zm-8 9zm-4 1zm-2-9zm-1 22zm-2 5zm-6-11zm-1-3zm0 4zm-2 2zm-2 0zm-1 7zm0 0zm-1-17zm-7 18zm-2-12zm0-2zm-9 2zm0 8zm-3 2zm-2-6zm-3-15zm-6 23zm-1-3zm-6-13zm-4 8zm0-5zm-1 5zm-3-2zm-3-10zm-1-7zm-7 8zm-2 12zm-5-14zm-5-1zm0 4zm-1 2zm0 13zm-2-14zm-1 6zm0-4zm0 4zm-1-18zm-1 14zm0 3zm-1 12zm0-6zm0-13zm0 11zm-2-15zm0 8zm-2 6zm-1-12zm-1-8zm0 3zm-2 2zm-1 8zm-4 1zm0 3zm-1-12zm0 21zm-4-9zm-2-11zm0 12zm-1-4zm-3-4zm-2-1zm-11-8zm-26 0zm55 45zm5-15zm1 3zm2 1zm14-2zm2-2zm3 15zm0 4zm3-16zm1-2zm1 7zm1-7zm4 18zm2-18zm4 13zm1-8zm1 12zm1-12zm3-2zm1 18zm1-15zm0 1zm1 4zm0-7zm6 5zm0 11zm0 2zm2-9zm3-14zm5 4zm10-3zm3-2zm2 5zm4 1zm1-6zm0 25zm2-24zm0 10zm1-1zm3-9zm0 16zm5-9zm5 1zm0-5zm1 5zm0-8zm1 9zm9-10zm4 8zm2-4zm24 25zm3-7zm1-21zm1 12zm1-13zm7 15zm2 11zm0-2zm2-14zm1 7zm0-9zm1 4zm0 0zm2 13zm4-7zm2 3zm2-11zm0 14zm1-12zm1-1zm6 15zm3-17zm3 0zm1 12zm0 3zm1-14zm7-5zm4-3zm1 2zm0 8zm2-7zm0 0zm0 1zm0 17zm2-13zm1 14zm1-24zm1 26zm0-23zm2 19zm2 4zm7-19zm5 17zm3-15zm1-6zm15 9zm22 4zm7-4zm0-11zm5 2zm3 21zm1-17zm3 14zm0-11zm1 8zm0-13zm1 9zm7 3zm1 5zm0 7zm2-6zm0-10zm1 15zm2-16zm0 14zm0-6zm1 2zm0-6zm1 8zm0-17zm0 0zm4 3zm0 10zm2 9zm0-10zm0-2zm1-13zm1 20zm0-8zm4-15zm2 1zm3 14zm4 9zm1-25zm6 24zm1 2zm4-23zm1 23zm6-8zm2-8zm0-7zm1 22zm2 3zm1-11zm1 4zm0 8zm6-22zm0 7zm8-3zm2 16zm1-23zm8 4zm1 4zm3 2zm0 9zm12 4zm4 2zm1-11zm7 5zm3 2zm6-4zm2 6zm7-4zm11 5zm-13 9zm-2 1zm0-7zm-9 7zm0-1zm-7 8zm-1-9zm-6 0zm0 1zm-2 22zm0-29zm0 9zm-3 4zm-1-4zm-2 10zm0-1zm-7-1zm-2-1zm0-4zm-1-6zm0 2zm-1 21zm-13-22zm-3-5zm-10 5zm-3-7zm-3 5zm0-4zm-14 4zm-6-2zm-1 1zm-5-2zm-8 2zm-6 3zm-1 1zm-3 5zm-1-12zm-2 8zm-15 14zm-26-5zm-9 8zm-3-2zm-2-19zm-4 18zm-7-9zm0-11zm-2 5zm-1 13zm-13 8zm-3-12zm-3-3zm-2-10zm-1 25zm-1-10zm-2 1zm-3-5zm-4-6zm-2-5zm-3 10zm0-3zm-3-2zm-1-5zm-2-4zm0 26zm-2-25zm-2 18zm0 3zm-1-12zm-9-3zm-1 7zm-3-9zm-1 21zm-2-11zm-1-10zm-1 2zm-5-7zm-9 23zm-7 6zm-40-24zm-6-2zm-38 6zm-18-9zm-1 1zm-14-1zm-9 19zm-1-19zm0 13zm-13 9zm-1-17zm9 54zm1-22zm1 6zm1-9zm5 15zm1-18zm8-1zm1 20zm1 2zm0 4zm0-10zm1-8zm0 21zm11-21zm104 21zm6-5zm3-14zm9 10zm2-14zm2 4zm3-10zm5 23zm0-13zm1-3zm1 16zm0-20zm5 3zm2 21zm1-3zm1-18zm1 9zm0-10zm0-5zm1 17zm2 10zm1-10zm3 6zm1 1zm1-23zm1 1zm0 13zm2 5zm1-4zm4 2zm1 11zm1-29zm1 29zm1-16zm1-12zm0 15zm1 1zm0 12zm2-7zm2 6zm2-16zm0 12zm1 3zm1-6zm0-10zm1-8zm4 21zm2 5zm2-3zm4-5zm1 3zm5 0zm2-24zm1 29zm0-26zm0 20zm11-3zm1-9zm4-9zm7 18zm-29 11zm0 4zm-12 6zm-1-8zm0 4zm-2 16zm-1-22zm-2 1zm-1 7zm0-7zm-2 14zm-1-9zm-1-6zm0-1zm-2 2zm-2 9zm-3-10zm0 3zm-1 1zm-2-3zm-1 26zm-1-3zm0-22zm0 1zm-1-1zm-1 13zm-2-16zm0 12zm-2-3zm-4 5zm-1-3zm-7-11zm-1 12zm-1-12zm-2 27zm-6-11zm-5-11zm-2 19zm-1 0zm-1-15zm-4 7zm-1 11zm-1-19zm-3 17zm0-4zm0-19zm-3 13zm-5 14zm-1-6zm-3 5zm-3-16zm-3-9zm-97 2zm-5 9zm0-8zm0 16zm-3-2zm-2-20zm-11 2zm32 40zm11 5zm93 8zm1-7zm21 6zm2-18zm2 12zm4-3zm11 11zm11-14zm3 4zm6 0zm16 3zm35 31zm-45 1zm-25-10zm-1 6zm-27 3zm46 10z" stroke="#f4756b" stroke-width="11.5"/></g>
<circle cx="278.7" cy="99.5" r="3.5" fill="#f4756b"/><circle cx="278.7" cy="112.3" r="3.5" fill="#1fb9c1"/>
<text x="286" y="103" font-size="9.7" letter-spacing="-0.2" fill="#111" stroke="#111">Central <tspan font-style="italic">n</tspan>=5</text>
<text x="286" y="115.8" font-size="9.7" letter-spacing="-0.2" fill="#111" stroke="#111">Peripheral <tspan font-style="italic">n</tspan>=5</text>
<text x="341.4" y="12.9" font-size="14.8" font-weight="bold" fill="#000" stroke="#000">C</text>
<text x="431" y="18.3" font-size="10.2" text-anchor="middle" fill="#111" stroke="#111">Clusters heat map</text>
<text x="485.2" y="45.4" font-size="9.9" letter-spacing="-0.2" fill="#111" stroke="#111">Clusters</text>
<g shape-rendering="crispEdges">
<rect x="360.7" y="55.5" width="13.2" height="15.5" fill="#c42b4b"/>
<rect x="373.6" y="55.5" width="13.2" height="15.5" fill="#4697b6"/>
<rect x="386.6" y="55.5" width="13.2" height="15.5" fill="#fdc877"/>
<rect x="399.5" y="55.5" width="13.2" height="15.5" fill="#fca55d"/>
<rect x="412.4" y="55.5" width="13.2" height="15.5" fill="#f57547"/>
<rect x="425.4" y="55.5" width="13.2" height="15.5" fill="#3a77b8"/>
<rect x="438.3" y="55.5" width="13.2" height="15.5" fill="#5e4fa2"/>
<rect x="451.2" y="55.5" width="13.2" height="15.5" fill="#fca55d"/>
<rect x="464.1" y="55.5" width="13.2" height="15.5" fill="#e9f69d"/>
<rect x="477.1" y="55.5" width="13.2" height="15.5" fill="#c6e79b"/>
<rect x="360.7" y="70.7" width="13.2" height="15.5" fill="#c42b4b"/>
<rect x="373.6" y="70.7" width="13.2" height="15.5" fill="#3a77b8"/>
<rect x="386.6" y="70.7" width="13.2" height="15.5" fill="#e9f69d"/>
<rect x="399.5" y="70.7" width="13.2" height="15.5" fill="#fdc877"/>
<rect x="412.4" y="70.7" width="13.2" height="15.5" fill="#e9f69d"/>
<rect x="425.4" y="70.7" width="13.2" height="15.5" fill="#3a77b8"/>
<rect x="438.3" y="70.7" width="13.2" height="15.5" fill="#c6e79b"/>
<rect x="451.2" y="70.7" width="13.2" height="15.5" fill="#fdc877"/>
<rect x="464.1" y="70.7" width="13.2" height="15.5" fill="#ffffbe"/>
<rect x="477.1" y="70.7" width="13.2" height="15.5" fill="#fee695"/>
<rect x="360.7" y="85.9" width="13.2" height="15.5" fill="#9e0142"/>
<rect x="373.6" y="85.9" width="13.2" height="15.5" fill="#e2534a"/>
<rect x="386.6" y="85.9" width="13.2" height="15.5" fill="#ffffbe"/>
<rect x="399.5" y="85.9" width="13.2" height="15.5" fill="#e9f69d"/>
<rect x="412.4" y="85.9" width="13.2" height="15.5" fill="#6cc4a4"/>
<rect x="425.4" y="85.9" width="13.2" height="15.5" fill="#5e4fa2"/>
<rect x="438.3" y="85.9" width="13.2" height="15.5" fill="#fca55d"/>
<rect x="451.2" y="85.9" width="13.2" height="15.5" fill="#fca55d"/>
<rect x="464.1" y="85.9" width="13.2" height="15.5" fill="#ffffbe"/>
<rect x="477.1" y="85.9" width="13.2" height="15.5" fill="#fee695"/>
<rect x="360.7" y="101.1" width="13.2" height="15.5" fill="#9e0142"/>
<rect x="373.6" y="101.1" width="13.2" height="15.5" fill="#5e4fa2"/>
<rect x="386.6" y="101.1" width="13.2" height="15.5" fill="#c6e79b"/>
<rect x="399.5" y="101.1" width="13.2" height="15.5" fill="#3a77b8"/>
<rect x="412.4" y="101.1" width="13.2" height="15.5" fill="#4697b6"/>
<rect x="425.4" y="101.1" width="13.2" height="15.5" fill="#3a77b8"/>
<rect x="438.3" y="101.1" width="13.2" height="15.5" fill="#c42b4b"/>
<rect x="451.2" y="101.1" width="13.2" height="15.5" fill="#fdc877"/>
<rect x="464.1" y="101.1" width="13.2" height="15.5" fill="#e9f69d"/>
<rect x="477.1" y="101.1" width="13.2" height="15.5" fill="#fca55d"/>
<rect x="360.7" y="116.3" width="13.2" height="15.5" fill="#9e0142"/>
<rect x="373.6" y="116.3" width="13.2" height="15.5" fill="#5e4fa2"/>
<rect x="386.6" y="116.3" width="13.2" height="15.5" fill="#6cc4a4"/>
<rect x="399.5" y="116.3" width="13.2" height="15.5" fill="#5e4fa2"/>
<rect x="412.4" y="116.3" width="13.2" height="15.5" fill="#3a77b8"/>
<rect x="425.4" y="116.3" width="13.2" height="15.5" fill="#5e4fa2"/>
<rect x="438.3" y="116.3" width="13.2" height="15.5" fill="#6cc4a4"/>
<rect x="451.2" y="116.3" width="13.2" height="15.5" fill="#4697b6"/>
<rect x="464.1" y="116.3" width="13.2" height="15.5" fill="#ffffbe"/>
<rect x="477.1" y="116.3" width="13.2" height="15.5" fill="#fca55d"/>
<rect x="360.7" y="131.5" width="13.2" height="15.5" fill="#3a77b8"/>
<rect x="373.6" y="131.5" width="13.2" height="15.5" fill="#fca55d"/>
<rect x="386.6" y="131.5" width="13.2" height="15.5" fill="#c6e79b"/>
<rect x="399.5" y="131.5" width="13.2" height="15.5" fill="#3a77b8"/>
<rect x="412.4" y="131.5" width="13.2" height="15.5" fill="#6cc4a4"/>
<rect x="425.4" y="131.5" width="13.2" height="15.5" fill="#9e0142"/>
<rect x="438.3" y="131.5" width="13.2" height="15.5" fill="#e2534a"/>
<rect x="451.2" y="131.5" width="13.2" height="15.5" fill="#fca55d"/>
<rect x="464.1" y="131.5" width="13.2" height="15.5" fill="#fee695"/>
<rect x="477.1" y="131.5" width="13.2" height="15.5" fill="#fee695"/>
<rect x="360.7" y="146.7" width="13.2" height="15.5" fill="#3a77b8"/>
<rect x="373.6" y="146.7" width="13.2" height="15.5" fill="#5e4fa2"/>
<rect x="386.6" y="146.7" width="13.2" height="15.5" fill="#a1d9a4"/>
<rect x="399.5" y="146.7" width="13.2" height="15.5" fill="#5e4fa2"/>
<rect x="412.4" y="146.7" width="13.2" height="15.5" fill="#4697b6"/>
<rect x="425.4" y="146.7" width="13.2" height="15.5" fill="#9e0142"/>
<rect x="438.3" y="146.7" width="13.2" height="15.5" fill="#f57547"/>
<rect x="451.2" y="146.7" width="13.2" height="15.5" fill="#fca55d"/>
<rect x="464.1" y="146.7" width="13.2" height="15.5" fill="#ffffbe"/>
<rect x="477.1" y="146.7" width="13.2" height="15.5" fill="#fdc877"/>
<rect x="360.7" y="161.9" width="13.2" height="15.5" fill="#3a77b8"/>
<rect x="373.6" y="161.9" width="13.2" height="15.5" fill="#e2534a"/>
<rect x="386.6" y="161.9" width="13.2" height="15.5" fill="#ffffbe"/>
<rect x="399.5" y="161.9" width="13.2" height="15.5" fill="#fdc877"/>
<rect x="412.4" y="161.9" width="13.2" height="15.5" fill="#fee695"/>
<rect x="425.4" y="161.9" width="13.2" height="15.5" fill="#9e0142"/>
<rect x="438.3" y="161.9" width="13.2" height="15.5" fill="#a1d9a4"/>
<rect x="451.2" y="161.9" width="13.2" height="15.5" fill="#fee695"/>
<rect x="464.1" y="161.9" width="13.2" height="15.5" fill="#fee695"/>
<rect x="477.1" y="161.9" width="13.2" height="15.5" fill="#c6e79b"/>
</g>
<text x="494.4" y="66.2" font-size="8.8" fill="#333" stroke="#333">3</text>
<text x="494.4" y="81.4" font-size="8.8" fill="#333" stroke="#333">2</text>
<text x="494.4" y="96.6" font-size="8.8" fill="#333" stroke="#333">6</text>
<text x="494.4" y="111.8" font-size="8.8" fill="#333" stroke="#333">4</text>
<text x="494.4" y="127" font-size="8.8" fill="#333" stroke="#333">1</text>
<text x="494.4" y="142.2" font-size="8.8" fill="#333" stroke="#333">7</text>
<text x="494.4" y="157.4" font-size="8.8" fill="#333" stroke="#333">5</text>
<text x="494.4" y="172.6" font-size="8.8" fill="#333" stroke="#333">8</text>
<path d="M406 55.5V51.4H418.9V55.5M393 55.5V49.2H412.4V51.4M380.1 55.5V45.2H402.7V49.2M470.6 55.5V51.4H483.5V55.5M457.7 55.5V47.9H477.1V51.4M444.7 55.5V47.1H467.4V47.9M431.8 55.5V42.5H456.1V47.1M391.4 45.2V40.5H443.9V42.5M367.2 55.5V32.5H417.7V40.5" fill="none" stroke="#bdbdbd" stroke-width="0.8"/>
<text x="370.4" y="182.3" font-size="9" text-anchor="end" transform="rotate(-45 370.4 182.3)" letter-spacing="-0.15" fill="#1a1a1a" stroke="#1a1a1a">CD4</text>
<text x="383.3" y="182.3" font-size="9" text-anchor="end" transform="rotate(-45 383.3 182.3)" letter-spacing="-0.15" fill="#1a1a1a" stroke="#1a1a1a">CD103</text>
<text x="396.2" y="182.3" font-size="9" text-anchor="end" transform="rotate(-45 396.2 182.3)" letter-spacing="-0.15" fill="#1a1a1a" stroke="#1a1a1a">PD-1</text>
<text x="409.2" y="182.3" font-size="9" text-anchor="end" transform="rotate(-45 409.2 182.3)" letter-spacing="-0.15" fill="#1a1a1a" stroke="#1a1a1a">CD39</text>
<text x="422.1" y="182.3" font-size="9" text-anchor="end" transform="rotate(-45 422.1 182.3)" letter-spacing="-0.15" fill="#1a1a1a" stroke="#1a1a1a">TIM-3</text>
<text x="435" y="182.3" font-size="9" text-anchor="end" transform="rotate(-45 435 182.3)" letter-spacing="-0.15" fill="#1a1a1a" stroke="#1a1a1a">CD8</text>
<text x="447.9" y="182.3" font-size="9" text-anchor="end" transform="rotate(-45 447.9 182.3)" letter-spacing="-0.15" fill="#1a1a1a" stroke="#1a1a1a">CXCR3</text>
<text x="460.9" y="182.3" font-size="9" text-anchor="end" transform="rotate(-45 460.9 182.3)" letter-spacing="-0.15" fill="#1a1a1a" stroke="#1a1a1a">CCR5</text>
<text x="473.8" y="182.3" font-size="9" text-anchor="end" transform="rotate(-45 473.8 182.3)" letter-spacing="-0.15" fill="#1a1a1a" stroke="#1a1a1a">CXCR5</text>
<text x="486.7" y="182.3" font-size="9" text-anchor="end" transform="rotate(-45 486.7 182.3)" letter-spacing="-0.15" fill="#1a1a1a" stroke="#1a1a1a">CXCR4</text>
<text x="0.2" y="138" font-size="15.3" font-weight="bold" fill="#000" stroke="#000">B</text>
<text x="40.9" y="140.5" font-size="10.8" text-anchor="middle" letter-spacing="-0.25" fill="#111" stroke="#111">CD4</text>
<rect x="6.3" y="142.7" width="69.3" height="68.5" fill="#fff" stroke="#4a4a4a" stroke-width="1"/>
<g transform="scale(0.1)" fill="none" stroke-linecap="round" stroke-linejoin="round"><path d="M386 1525zm86-3zm88 32zm-107-2zm-4-8zm-22 5zm-11-17zm-1 12zm-6-12zm-73 6zm-185 40zm98-1zm8-2zm11 11zm3-4zm20 5zm83-4zm1-18zm5 20zm7-13zm6 16zm17-2zm0 2zm4-17zm5-10zm1 15zm35 2zm4 5zm25 5zm69-23zm-3 36zm-51-11zm-4 23zm-2-11zm-2 0zm-38 3zm-25-11zm-7-1zm-2 9zm-2 5zm-1 5zm-1 0zm-1-20zm-1-2zm-2 1zm-2 12zm0 2zm-1-1zm-2-1zm-2-2zm0-1zm-2 10zm-4-14zm-2 18zm0-22zm-3 4zm-2-3zm0 5zm0-6zm-7 9zm-55 7zm-4 11zm-35-8zm-8-18zm-20 1zm-3 8zm-10-11zm0 16zm-3 12zm-5-19zm-3 11zm-6-15zm-2-5zm-3-1zm0 17zm-2 12zm-1-14zm-3 1zm-2 3zm-1 5zm-3 4zm-2-21zm-3-2zm-4-1zm-10 20zm-19-14zm-40-7zm15 55zm19-6zm46-18zm9-4zm3 20zm18-18zm91 18zm139-19zm9 6zm1 12zm26 4zm5-2zm9 19zm-15-9zm0 3zm-77 25zm-24-18zm-19 16zm-88-22zm-9 1zm-10 18zm-1-12zm-10 9zm-1-18zm-20 18zm-108-11zm-41 46zm39-17zm3 6zm128-13zm92 21zm3-9zm1 15zm3-8zm8-10zm7 18zm7-13zm8 2zm3 6zm9-11zm5 4zm0-6zm40 12zm34-12zm12 14zm-60 14zm-8-8zm-16 0zm-34-1zm-7 4zm-3 1zm-1-2zm-5 10zm-3-6zm-3-5zm-38 23zm-16 2zm-26-17zm-51 7zm-41 6zm-20-22zm-27 19zm-4 6zm-16-13zm-12 34zm10 8zm3-15zm8-3zm6 19zm0-10zm0 8zm2-7zm0-14zm2 20zm1-5zm3-2zm6 3zm0 10zm1-4zm5 4zm3-5zm2-5zm1-12zm4 22zm2-28zm5 28zm1-8zm84-21zm2 22zm9-7zm67 11zm-64 18zm-3 15zm-5 0zm-2-8zm0 7zm-2-18zm-2 16zm-1-9zm-1-17zm0 29zm-2-3zm-10-17zm-2 11zm0-6zm-4-2zm-4 15zm-1-3zm-28-17zm-32 3zm-14 9zm-4-9zm-2 1zm-4-4zm-2-3zm-2 8zm-1 2zm-1-2zm-22 6zm-9-16zm-9 15zm73 21zm54-7zm4 26zm10-26zm1 10zm6-10zm3-1zm2 1zm0 7zm0 1zm6-7zm2 3zm-22 34zm-23-5zm-39 1z" stroke="#54509f" stroke-width="16"/><path d="M400 1485zm-121 42zm103 2zm7-1zm3-19zm6 11zm4-20zm47 27zm98 25zm-98-17zm0 7zm-1-4zm-5 5zm-5 9zm-32 4zm-4-26zm-15 1zm-20 14zm-6 10zm-23-6zm-8-6zm-64 14zm-9-1zm-132 30zm113 1zm23-3zm19-13zm92 15zm0-10zm2-9zm6 7zm2 1zm7 13zm16-8zm5-2zm13 7zm2-4zm5-4zm0-12zm33 3zm6 3zm7 18zm32-12zm39 7zm11 23zm-11-3zm-7 2zm-15 4zm-5-10zm-6-6zm-2 17zm-11-8zm-1 4zm-10 2zm-5-15zm-6 21zm-2 3zm-26-26zm-3 2zm-19 22zm-1-19zm-19 13zm-24-7zm-1 1zm-47 4zm-42-12zm-7 19zm-6-10zm-11-2zm-24-3zm-17 4zm-3 12zm-1-18zm-5-8zm-7 8zm-12 0zm-1 8zm-6-4zm-1-10zm-9 10zm-66-5zm-1 3zm-4 26zm17 21zm7 2zm0-1zm14-21zm8 10zm19-16zm42 12zm3-7zm1-1zm1-3zm66 14zm99-2zm67-10zm4 7zm6 5zm15-5zm0 3zm38-7zm-16 32zm-10-8zm-49 12zm-10 14zm-8-6zm-4 0zm0-8zm-17 15zm-15-10zm-33 6zm-48-10zm-22 14zm-123-4zm-3-5zm-4-3zm-11 7zm-4-11zm-5 9zm-1-19zm-22 50zm15-9zm28 12zm19 0zm4 2zm29-1zm39-10zm13-4zm0 13zm11-5zm77-8zm1 2zm2 11zm4-7zm6 7zm4 1zm1-20zm5 0zm5 21zm1-18zm15 0zm3 13zm10-17zm5-3zm5 25zm3-25zm10 12zm1 6zm9 0zm11-5zm32 5zm-6 20zm-52-2zm-51-2zm-1 1zm-6 14zm-3-20zm-99 28zm-13-15zm-34-1zm-40 0zm-13-12zm-4 22zm-7 2zm-1 4zm-4-14zm-14-8zm-7 13zm-2 7zm-5-18zm-8-8zm4 56zm9-18zm2-8zm19 3zm3 16zm0 3zm4-2zm0 0zm1 6zm41-2zm56-11zm11 13zm9-1zm13-19zm0 2zm2 14zm32-8zm22 3zm13 32zm-15-20zm-1 0zm-8 6zm-35 1zm-19 7zm-1 5zm-5-17zm-6 18zm-6 5zm-5-1zm-6 0zm-9-14zm-45-2zm-3 7zm-1 4zm-14-14zm-14 15zm-18 6zm-1-24zm-4 11zm0-9zm-12 2zm-29-4zm92 44zm9 6zm36-3zm7-7zm10 3zm4-9zm6 5zm4-9zm-33 38zm-5-2zm-15 1zm-35-4zm-6-3z" stroke="#3f6fb2" stroke-width="16"/><path d="M484 1466zm4 1zm-5 5zm-3-2zm-61 27zm-26 27zm5-4zm4 6zm20-3zm94-15zm1 11zm35 24zm-1 15zm-11 0zm-14-9zm-4 3zm-41-6zm-11-9zm-7 0zm-4 8zm-16-8zm-2 18zm0-24zm-2 16zm-7-14zm0 19zm0-9zm-1 5zm-1-5zm-2 0zm-6-11zm-16 20zm-1-21zm-3 17zm-1-5zm-7 10zm-15-22zm-2 22zm-10-23zm-4 23zm-7-10zm-24-4zm-59 11zm-3 3zm-1-10zm-108 39zm6-7zm15-5zm3 19zm6-18zm22 8zm19 1zm35-11zm4 1zm2 0zm4 1zm9 10zm101 5zm2 2zm3-23zm16 1zm15 0zm17 20zm15-3zm6-15zm19 21zm3-16zm67-4zm2 38zm-11 3zm-5-6zm-17 7zm-6 3zm-9 0zm-8-15zm-7-6zm-6 15zm-8-18zm-12 28zm-9-14zm-16 14zm-27-20zm-16-7zm-15 21zm-10-15zm-15 15zm-20-6zm-5 10zm-40-4zm-1-22zm-2 7zm-10 8zm-1 3zm-1-1zm-10-3zm0 1zm-11 7zm-2-9zm-8-4zm-2 4zm-3-13zm-5 23zm-9-13zm-1-8zm-5 10zm-3 7zm-8-2zm-2 3zm-13-14zm-6 0zm-9 3zm-4-4zm-7-5zm-10 2zm-5 3zm-3 7zm-7-3zm-8 7zm-2 18zm5 20zm3 2zm4 3zm0-3zm2-8zm41-8zm12 1zm4 0zm9 1zm13 16zm26-23zm16-1zm15-2zm17 0zm37 3zm4 13zm2-15zm53 16zm5-18zm5 25zm6-10zm4 6zm5-7zm33 13zm4-21zm1 0zm4 11zm4 7zm0-13zm6-11zm0 11zm19 10zm1 2zm5-15zm11 4zm15-5zm-20 25zm-10 2zm-5 3zm-23-8zm-5 5zm-3-5zm-8 23zm-9-5zm-7-9zm-5 14zm-27-22zm-13 21zm-3-19zm-1 16zm-3-17zm-25 9zm-6 17zm-54-5zm-14-10zm-32 5zm-2 9zm-4-16zm-1 9zm-8-16zm-56 21zm-10-19zm-4 9zm-2-5zm-13-10zm-11 12zm-8-8zm-2 5zm-9 45zm1 5zm4-1zm1-11zm12-1zm2 11zm6-1zm16-2zm12-12zm2 16zm1-22zm8 13zm0-12zm3 16zm54-16zm1 16zm12-4zm12-18zm31 3zm1 2zm18 16zm27-13zm4-2zm1 0zm1 7zm4-10zm3 0zm5 25zm0-21zm3 15zm1-1zm2-1zm4 3zm6-20zm6-3zm8 19zm13-14zm9 20zm9-17zm11 17zm1-2zm16-20zm3 21zm1-21zm29 11zm5 14zm4-9zm4-20zm5 26zm-27 10zm-46-6zm-48 3zm-10 0zm-24 12zm-24 0zm-13 4zm0-2zm-3-7zm-11 14zm-29-19zm-4-3zm0 6zm-2 5zm-4-10zm-18 8zm-1 7zm-2-2zm-23-4zm-21-4zm-19-6zm-1 12zm-9 9zm-7-9zm0 9zm-4-14zm-9 6zm-1-12zm-11 2zm-1 12zm-7-5zm-1-7zm-9 6zm1 28zm1 19zm24-18zm2 13zm4-23zm3 0zm5 7zm5-7zm3 17zm2-16zm6 19zm6-2zm6-1zm23 7zm0-1zm3-14zm21-9zm7 23zm29-10zm10 8zm2-3zm33-8zm5 3zm12 0zm1 10zm11-9zm0 6zm2 2zm2-3zm1 8zm16-16zm9 9zm-1 30zm-80 6zm-5 3zm-3-20zm-2 5zm-12 9zm-2 4zm-5-1zm-1-5zm-3-16zm-4 13zm-6 4zm-10-12zm-19 19zm-3-9zm-5-12zm-8-7zm-9 23zm-22-1zm-3-3zm-8-4zm-1 6zm-10-17zm-17 9zm-2-12zm-1 0zm-3 25zm-1 0zm-1-16zm-7-10zm-6 2zm69 51zm9-12zm6 9zm1-12zm32 2zm10 9zm12 2zm6-12zm7-5zm5 9zm2-6zm13 15zm9-17zm-48 24zm-21 7zm-47-1z" stroke="#3a8dbb" stroke-width="16"/><path d="M496 1463zm1 29zm-39-10zm-21-10zm-28-2zm-28 58zm9-1zm1-1zm6-8zm0 5zm3 1zm3 3zm5-8zm3 9zm5-7zm10 3zm7-5zm40 6zm32-23zm39 19zm18 27zm-5 5zm-29-13zm-26-8zm-11 23zm-10-21zm-4-2zm-4 14zm-27 0zm-1-3zm-7-9zm0 7zm-2 9zm-4 5zm-3-18zm-7 19zm-2-13zm0-5zm-3-4zm-1 1zm0 20zm-20 0zm-6-25zm-9 9zm-1 2zm-5 18zm-1-20zm-39 18zm-70-6zm-8 2zm-99 31zm8-3zm9 2zm1-13zm36-7zm6 26zm19-1zm20-18zm11-3zm5 7zm12-10zm3 22zm43-22zm9 5zm16 10zm10-7zm2-2zm1-6zm16-1zm33 19zm4-17zm0-3zm2 7zm20 15zm0 4zm2 0zm14 0zm10-1zm1-2zm12-21zm7 7zm14 17zm10-13zm24 11zm23-22zm-11 49zm-10-14zm-2 4zm-10-2zm-6 3zm-3 15zm-10-21zm-1 17zm-1-7zm-5-9zm-5 20zm-2-23zm0-3zm-4-2zm-1 8zm-2 10zm-2-13zm0 22zm-13-8zm-1-11zm-3-1zm-1 1zm-3 12zm-2-2zm-6 1zm-12-14zm-5-3zm-4 15zm-3-7zm-59-2zm-7-8zm-4-1zm-84 17zm-1-15zm-1 5zm-8 14zm-6-14zm-4-6zm-10 19zm-25-10zm-38 6zm-10-11zm-13 12zm-7 1zm-4-2zm-2 2zm-2-7zm-2-5zm-4 15zm-12 38zm0-9zm1-19zm2 27zm1-13zm1 12zm1-6zm4 1zm3 5zm3-6zm2-1zm1-4zm39 10zm19-14zm11-7zm6 16zm6 3zm0-7zm11-2zm10-5zm10 5zm3-13zm0 9zm0 1zm11 2zm8 9zm53-16zm3 20zm5-23zm12 10zm2 13zm1-20zm32-4zm3 17zm14 7zm2-9zm32 6zm9-6zm6 5zm0-14zm4-5zm0-4zm1 3zm1 17zm3 6zm4-2zm1-11zm1-3zm1 14zm5 3zm1-23zm2 13zm13-12zm7 21zm14-21zm2 30zm-21-2zm-23 20zm-5-17zm-1 5zm-7-8zm-1 0zm-8 6zm-2-3zm-13-2zm-2 9zm-1-5zm-2-7zm-10 8zm-4 9zm-10-18zm-3 1zm-4 21zm-17-4zm-38 5zm-2-22zm-46 3zm-7-2zm-2 26zm-8-20zm-23 7zm-11 8zm-5-5zm-1-9zm-2 4zm-1-7zm-4 18zm0-8zm-35 12zm-31-15zm-2-8zm-3 17zm-10-18zm-8 6zm-2-8zm0 12zm-7-14zm-5 5zm0-5zm-2 8zm-16 50zm23-2zm34 1zm0-1zm1-23zm0-1zm1 19zm10-1zm1-2zm3-6zm0 2zm23 10zm34-16zm10 19zm2-17zm17-2zm21-4zm13-2zm17-1zm7 6zm14 7zm1-10zm1 3zm3-4zm1 14zm2-8zm0 8zm2 7zm1-14zm2 3zm2-13zm6 14zm53 1zm6 0zm7 6zm6-8zm8 2zm16 0zm12 13zm6 0zm9-5zm3 0zm5-5zm1-13zm-53 39zm-17-6zm-17-8zm-46 16zm-5-15zm-6 11zm0-1zm-2 17zm-8-21zm-2-1zm-29 5zm-3 3zm-9-10zm-2 6zm-22 14zm-1-20zm-1 16zm-1 2zm-1-7zm-5-12zm-1 19zm-1-14zm0 17zm0-12zm-2 10zm-2-5zm-3 0zm-2-7zm-1 1zm-2 9zm-7-1zm0 6zm-6-11zm-2-3zm-2-2zm-21 9zm-8 5zm-32-18zm-12 5zm-6 2zm-2 0zm-2 7zm0 5zm-5-6zm-1-18zm-2 23zm-4-16zm-7 11zm0-13zm16 44zm2-4zm28 4zm20 5zm12-5zm8-8zm8 0zm17 15zm6-15zm14 0zm2-10zm0-2zm2 6zm2-2zm31-4zm19 22zm7-13zm2-4zm5 5zm3 7zm3 1zm2 3zm0 2zm1-23zm3 24zm2-8zm0 4zm5-10zm4-3zm3 19zm10 0zm-14 15zm-6-1zm-11 11zm-5-1zm0 4zm-5-19zm-10-1zm-8-1zm-43 17zm-1-20zm-28 19zm-7-12zm-26-5zm-1 17zm-33-2zm-8 2zm-6-15zm-13 2zm-6 23zm-12-4zm-12-24zm-9 9zm64 45zm6 1zm12-21zm32 21zm17-20zm9 12zm7-7zm8-9zm1 4zm3-3zm8-2zm33-1zm-118 35zm-8-5zm-1 3zm-3 1zm-2 4z" stroke="#4fa6b4" stroke-width="16"/><path d="M484 1461zm3 37zm-6-2zm-14-16zm-48-1zm-7 12zm-85 38zm70-10zm1 3zm2-3zm6 10zm10-10zm1 8zm0-10zm7-12zm3 22zm13-4zm18 2zm1-13zm16-7zm52 17zm21 4zm18 3zm-24 28zm-7 2zm-3-3zm-5-6zm-5-19zm-5 21zm-4-4zm-2 4zm-5-8zm-6 10zm-18-4zm-9-11zm-10-3zm0 3zm-4-4zm-3 6zm-8-5zm-2 2zm-8-2zm-19 8zm-10-7zm-8 18zm-12-13zm-14 6zm-16 9zm-74-20zm-5 12zm-22-1zm-83 36zm10-14zm31 19zm0-3zm1 3zm35-21zm35-3zm0 17zm64 3zm4-23zm12 24zm5 1zm71-26zm34 0zm3 20zm0-20zm2 26zm15-3zm9-7zm3 9zm1-13zm3-2zm21 1zm-1 32zm-12-11zm-6 4zm-4-2zm-18-2zm-7 1zm-6 1zm0-3zm-4 1zm-11 19zm-5-14zm-3 6zm-1-2zm-82-7zm-4 12zm-2-14zm-5-2zm0 7zm-18 13zm-14 5zm-16-8zm-32-6zm-2-2zm-57 6zm-1 8zm-3-19zm-9-5zm-1 20zm-3 2zm-10-14zm-30-6zm-28 16zm-12-3zm-7 43zm13-24zm5 23zm20 1zm6-7zm14 4zm19-11zm12 8zm25-3zm16-16zm8 23zm20-6zm62-14zm5 22zm4-12zm7 11zm24 1zm27-19zm28 14zm0-4zm12-8zm6 7zm2 7zm0-15zm5 19zm2 0zm13-18zm4 9zm16 3zm4 1zm-8 33zm-11-22zm-3 5zm-5-2zm-8-6zm-2-1zm-12 3zm-19 2zm-5 8zm-16-1zm-1-4zm-4-5zm-7-2zm-9-1zm-11-1zm-9 16zm-14 10zm-1-5zm-2-17zm-2 3zm-81 6zm-2 4zm-7 11zm-12-12zm-1-7zm-3 17zm-1-4zm-7-21zm-3 8zm-4 8zm-28 7zm0-13zm-5-4zm-5 17zm-8-3zm-1-9zm-13 14zm-18-21zm-3-5zm-12 2zm-2 1zm-5 9zm-1-9zm-5 1zm-2 0zm0 37zm26 11zm6 1zm3 2zm8-25zm6 7zm7 3zm8-2zm23 1zm5 0zm30-7zm8 27zm2-23zm3 15zm12 8zm7-3zm0 0zm64-9zm5-5zm1-5zm1 0zm0 17zm2-6zm8-9zm3 18zm20-13zm38-2zm9 2zm34-8zm8-3zm3 7zm3-3zm1-5zm3 16zm0-2zm2 3zm8 2zm3-19zm3 0zm12 15zm-19 13zm-16 2zm-23 7zm-16-5zm-7-4zm-42 13zm-23 11zm-2-5zm-10 1zm-21 3zm-8 5zm-8-8zm-1-8zm-3-1zm-2 13zm-3-19zm-10 6zm-6 12zm-6-5zm-2-1zm-1 0zm-8-2zm-1 2zm0-3zm-3-1zm-1 3zm-1-7zm-1-8zm-2 14zm-4-3zm-2-2zm0-9zm-11 18zm0-1zm-10-10zm-7 11zm-9 7zm-6-4zm-9 1zm-9-6zm-33 0zm-5 0zm-1 5zm-1-8zm-4 0zm-4 5zm-3-14zm-7 9zm-4 4zm-10-16zm-8 1zm74 56zm4-5zm6 1zm21-22zm5 6zm4 14zm1-13zm16-10zm13 15zm2-5zm0-8zm5 8zm25 19zm37-15zm13 3zm14 3zm5-10zm3-4zm14 1zm7 11zm10 7zm-18 27zm-16-17zm-15-4zm-14 20zm-44-6zm-37-7zm-9 20zm-9-16zm-8-1zm-8-6zm-4-5zm-10 16zm-42-2zm-27 7zm-5 0zm-11 8zm-10-14zm18 30zm21-10zm8 3zm7 6zm4 11zm3-18zm3 3zm1 17zm2-21zm3 19zm5-1zm4-19zm86 3zm4-7zm12 7zm-109 24zm-20 6z" stroke="#74c4a8" stroke-width="16"/><path d="M430 1469zm24 5zm-11 3zm-20 3zm-4 13zm-6-7zm-135 43zm128-18zm17 0zm1 10zm1-7zm10 4zm82-6zm41 14zm-21 4zm-4 17zm-27 6zm0-2zm-1 0zm-15 7zm-28-7zm-7 2zm-22-23zm-9 3zm-49 13zm-93-5zm-5 5zm-1 6zm-3-6zm-8 3zm-93 32zm24 4zm81 1zm70-2zm3-13zm9 16zm68-11zm44 12zm25-25zm0 21zm4-14zm34 32zm-7-12zm-16 0zm-33 13zm-6-13zm-8 26zm-11-8zm-4 0zm0 6zm-83-23zm-9 9zm-23 17zm-6-24zm-119 5zm-19 0zm-2-7zm-5 12zm-8-1zm-20-1zm-2-4zm-32 20zm-1-14zm0-9zm5 33zm2 6zm8 2zm4 4zm0 0zm15 3zm7-8zm2 3zm22 11zm5-2zm8-5zm0-21zm33 24zm20-12zm1-11zm15 28zm3-22zm88 10zm2 12zm37-5zm29 1zm14-5zm14-12zm12 21zm8-8zm2-2zm3-2zm64-17zm-39 36zm-6 13zm-17-12zm-2-3zm-10 3zm-1-5zm-5 13zm-3-14zm-4 2zm-10 0zm-23 8zm-73-5zm-1 16zm-81-22zm-17 8zm-1 17zm-3-4zm-7 4zm-4-8zm-1-8zm-6-2zm-2 5zm-10-9zm-23 12zm-15 12zm-11-8zm-7-12zm-32-5zm15 56zm14-1zm11-21zm63-3zm7-3zm5 3zm13 19zm62-10zm5 16zm17-27zm1 22zm12-20zm104 24zm1-7zm8-15zm5 15zm3 2zm5-19zm1 23zm2-14zm0 8zm1 9zm-25 10zm-5 9zm-79-17zm-62 8zm-15 12zm-8-11zm-3-3zm-25 14zm-10 8zm-30-5zm-4 4zm-34-11zm-9-10zm-6 22zm-8-15zm-7 4zm-1-4zm-6-5zm-7-1zm-23 9zm-7-13zm57 33zm47 22zm0-1zm18-4zm9-16zm23-7zm53 3zm1-3zm0 12zm8 16zm27-12zm8 11zm6-7zm1-19zm1 22zm4 5zm7-2zm21-2zm-16 18zm-8-4zm-1 14zm-45-14zm-41-2zm-3 7zm-9 3zm-5 8zm-34-6zm-28-18zm-4 3zm-35 22zm-47 11zm37 9zm0-4zm2-4zm6 13zm1-15zm3 12zm9 6zm6 1zm139-19zm-119 37zm-29-13zm-4 3zm-9 1zm-9-4z" stroke="#a4d9a4" stroke-width="16"/><path d="M482 1493zm-65-13zm35 48zm11-28zm63 54zm-6 1zm-72-12zm-267 40zm23 6zm137-11zm14 8zm20 3zm123-20zm2 13zm4-4zm-152 15zm-11 16zm-1-12zm-150 4zm-56 34zm3 2zm3 3zm11-8zm78 15zm28-9zm0-12zm99 23zm19-8zm8 6zm15-7zm48-5zm27 12zm1 21zm-2-5zm-59-6zm-62-3zm-3 13zm-2 3zm-48 9zm-32-25zm0 11zm-17 5zm-7 5zm-11-4zm-9 1zm-16-5zm-6 8zm-10 3zm-33-24zm-29 0zm26 49zm20-20zm14-3zm138 17zm2-12zm15 17zm128-10zm-31 30zm-8 5zm-129-9zm-6 7zm-21 3zm-5 4zm-13-5zm-5-6zm-19 5zm-4-6zm-77 9zm57 39zm106-19zm23 5zm7 13zm23-8zm4 1zm9 23zm-1 5zm-11-1zm-1-13zm-46-3zm-19 8zm-1 19zm-75-4zm-82 33zm32 18zm0-10zm-10-3zm-3-1z" stroke="#d2ec9e" stroke-width="16"/><path d="M453 1500zm-281 80zm166 4zm145-14zm-130 35zm-5 21zm118 40zm-215 7zm-16-23zm-27 19zm-1 6zm-18-17zm151 44zm135-17zm-213 26zm-119 10zm240 66zm-4-8zm-158-3zm-82 38zm3 1zm5 13zm22-1zm110-11zm98 113z" stroke="#f5fab0" stroke-width="16"/><path d="M192 1619zm124 115zm-10-7zm62 37zm-2 6zm-215 64zm219 100zm18-8z" stroke="#fee999" stroke-width="16"/><path d="M561 1673zm-339-5zm311 107zm-384 54zm397-15zm-120 69zm12 2zm-9 5zm-45 24zm-7 2zm-14 10zm3 2zm1-2zm0-4zm1 11zm6-13zm1 28zm6-25zm1 18zm7-16zm62 57zm132 8z" stroke="#fdc877" stroke-width="16"/><path d="M540 1690zm166 10zm-26 11zm-78 26zm-80-27zm-4 13zm-1 25zm13 8zm95 8zm18-5zm16-6zm14 9zm5-5zm8 38zm-24-25zm-6 4zm-105 14zm-21-17zm-1 16zm-12-15zm16 46zm11-17zm4 22zm2-1zm1-5zm4 10zm9-18zm82-9zm29 13zm14-10zm14 33zm-60 6zm-5 1zm-93 1zm-12-4zm-119 8zm-48-4zm50 45zm4-19zm1 8zm3-5zm1 9zm1-16zm1 23zm1-3zm0-4zm3-7zm1-4zm9 13zm0-16zm2-1zm8 20zm81-21zm3 0zm6 5zm8-8zm174-1zm-71 52zm-214-21zm-1-2zm-5 3zm-2 4zm-49 20zm-1 1zm-4-2zm-14-1zm-9-5zm-3-6zm5 20zm6-3zm0 9zm2 1zm3-6zm1 5zm0-5zm1 10zm1-10zm1-5zm1 15zm0-9zm0-6zm3 11zm1-5zm3 2zm7-9zm10 15zm177 38zm-180 28zm54 1zm29-3zm30 9zm24-3zm37-5zm1-16zm16 2zm2 8zm9-5zm-32 22zm-51-1zm-16 24zm-11-10zm-10 1zm0 17zm18 17z" stroke="#fba25c" stroke-width="16"/><path d="M688 1678zm-162 30zm15-3zm16-19zm3 6zm13 13zm17-2zm7-14zm10 8zm11 5zm80-2zm11-1zm3 9zm-8 6zm-4-4zm-88 8zm-4 13zm-13 0zm-1-13zm-10-1zm-18-5zm-20 6zm-13-3zm-1 2zm0-3zm-6 5zm-14 42zm4-20zm6 21zm2-3zm1 9zm5-24zm0-3zm5 28zm2-6zm11 4zm17-18zm21 18zm14-9zm4-13zm17 15zm8-3zm2 10zm2 2zm7-7zm15-2zm3 9zm2-16zm13-5zm32 7zm-11 17zm-4 11zm-5 12zm-8 3zm-2 1zm-9-29zm-20 10zm-1 8zm-6-16zm-5 1zm-57 2zm-6 15zm-1 2zm-3 2zm-10-12zm0-6zm-5 7zm-3 9zm-1-8zm-8-13zm-3 9zm-3-1zm-1 12zm-2 1zm0-16zm-8 12zm-4 0zm-1-1zm-12 9zm-41-8zm-3 2zm-6-12zm-53 1zm49 36zm2-11zm38 19zm12-3zm22-1zm22-7zm10 4zm8 3zm2-17zm2-1zm73 13zm2 15zm4-5zm2 2zm6-4zm0-14zm2-8zm4 21zm2-12zm2-5zm2-4zm0 18zm7 2zm2 5zm1-24zm1 20zm0-13zm7 3zm11-11zm2 26zm21-4zm-8 21zm-23-4zm-2 2zm-15-8zm-3 9zm-2-9zm-11-3zm-3 5zm-7-4zm-1 19zm-3-11zm-14 15zm-1-15zm-14-3zm-37 19zm-5-4zm-19-19zm-1 14zm-7-7zm-4-8zm-4 18zm-4-6zm0 7zm-1 2zm0 7zm-3-22zm-3-3zm-4 2zm-1-6zm-24 11zm-38 3zm-25 1zm-21 10zm-9 1zm-4-8zm-11 7zm-2-15zm-6 5zm-22 7zm-3-4zm-10-14zm1 54zm51-18zm16 8zm2-9zm0 17zm1-24zm0 22zm5-16zm1 21zm3-27zm1 8zm3 19zm0-1zm2-5zm2-14zm0 15zm1 5zm1-7zm1-17zm1 20zm6-13zm3 1zm1-4zm0 16zm2 2zm10-20zm64-6zm3-1zm13 4zm1-1zm2 8zm4 2zm3-1zm1-6zm1 2zm6 11zm15 5zm2-9zm29-10zm5-5zm15 13zm36-10zm0 7zm22 8zm2-1zm30 15zm-52 13zm-6 3zm-2 4zm-5-18zm-1 17zm-9-6zm-73 4zm-5 0zm-2 2zm0-2zm-1-3zm-109-12zm0 6zm-3-5zm-5-5zm-1 9zm-1-4zm-2 3zm-3-1zm-4-3zm0-3zm-27 11zm-14-5zm-10 18zm-17-15zm-3 10zm-25-7zm-4-7zm20 28zm2-4zm1 8zm1 10zm3-13zm5 6zm1-9zm5 5zm2 1zm3 2zm9 14zm0-20zm3 0zm1 10zm7-6zm44 14zm17 5zm22-15zm2 13zm0-4zm5 1zm49 6zm31-28zm67 8zm23 12zm27-10zm-78 44zm-3 4zm-3 1zm-20-6zm-72-19zm-34 10zm-2 13zm-11-12zm-9-2zm-11-9zm-6 16zm-3 1zm-29-17zm0 50zm3-13zm7 18zm1-16zm8 9zm10 2zm4-1zm14-14zm1 1zm5 11zm10-7zm0 8zm9-5zm0-13zm3 6zm29 0zm8 11zm7 4zm10 0zm4 3zm8-10zm1-7zm6 6zm38-5zm1 0zm3 4zm12 10zm0-20zm5 16zm-14 19zm-11 5zm-7-4zm-10-11zm-5 22zm-38-19zm-1 2zm-11 5zm-1 3zm-11 13zm-3-23zm-4 1zm-8 15zm-8 4zm-10-13zm-68 11zm63 20zm4-1zm19-6zm2 13zm2-9zm4 7z" stroke="#f57d49" stroke-width="16"/><path d="M717 1677zm-103-5zm-7-2zm-6-3zm0-2zm-3-7zm-1 21zm-28 0zm-9 28zm9-24zm8 2zm8 4zm13 11zm12-17zm7 21zm0-5zm2 4zm4-11zm4-7zm46 23zm6-13zm0-5zm3 9zm8-2zm5-5zm14 10zm2 3zm2-23zm1 25zm11 0zm-13 26zm-6-23zm-3 17zm-4-11zm-9 5zm-3-10zm-3 18zm-1-18zm0 13zm-1-13zm-2 9zm-5 18zm-1-18zm-3 9zm-5-3zm0 12zm-2-13zm-15 13zm-14-1zm-10-3zm-1-5zm-6-18zm-1 7zm-2 6zm-2-7zm-7 11zm0-17zm0 14zm-8 0zm-3-14zm-1 4zm-5 13zm-8 7zm-7-21zm-20 9zm-3-6zm-3 0zm-2-3zm-7 8zm-1 5zm-3-2zm-1-15zm-3 27zm-2-3zm-2-10zm-1-6zm-2 4zm-4 10zm-1 4zm-2-21zm-31 43zm30 8zm4-16zm2 15zm0-25zm5 18zm1 11zm1-10zm3 10zm0-13zm2 0zm1 10zm0-24zm0 1zm1 2zm1-2zm0 14zm2 12zm0-25zm3 4zm2 5zm1 10zm24-23zm4 29zm20-29zm19 22zm2-9zm14-1zm1-3zm1 8zm2-4zm1 9zm12-9zm2-5zm3 1zm3-4zm1-2zm18 4zm2 17zm6-20zm0 12zm7-1zm7 9zm4-8zm20-13zm10 19zm2 2zm17 29zm-44-5zm-6-6zm-10 12zm-1 4zm-1-4zm-7-1zm-3 1zm-5-19zm-15 21zm-1-10zm-6 2zm-4-3zm-2 1zm-5-13zm-1 18zm0-7zm0-9zm-3-5zm-40 12zm-1-5zm-15 3zm-11 6zm0-11zm-1 8zm-2 4zm-2-1zm-2-4zm-8-1zm-2-4zm-4 22zm0-13zm-1-10zm-2-1zm-10 5zm-1-4zm-4-1zm0-5zm-3 17zm-3-16zm0 23zm-5-24zm-4 20zm-4-8zm-22-5zm-15 3zm-12 17zm-25 1zm-17-25zm-41 50zm2-7zm13-3zm6 11zm10 4zm11-16zm11 0zm26 12zm8 4zm5-13zm6-13zm29 15zm2 7zm0-14zm10 14zm11 2zm9-1zm13-10zm2-14zm0 20zm4-21zm0 13zm4 12zm11-19zm5-3zm15 26zm36-7zm0 3zm7-1zm1 5zm1-3zm4-11zm10 1zm3 12zm3-10zm1-11zm1 21zm9-6zm7-1zm0-2zm1 8zm2-18zm3 20zm0-29zm4 3zm0 1zm1 6zm2-7zm14 25zm12-6zm1-19zm2 14zm28 11zm-16 4zm-6-1zm-1 3zm-5 4zm-1-6zm-2 14zm-13 7zm-21-7zm0 9zm-12-20zm-2-4zm-2 27zm-12-13zm-1-8zm-2-5zm-19 0zm-11 18zm-14 6zm-8-12zm-1-1zm-9 15zm-2-9zm-4-17zm-2 1zm-8-1zm-2 8zm-1 10zm-2-19zm-1 9zm0 18zm-1-21zm0 18zm-1-19zm-3-6zm-3 10zm0 6zm-1 6zm-1-18zm-1 16zm-3-9zm-1 18zm-2-6zm-1 0zm0-7zm-1 10zm-3-3zm-5-4zm-22-16zm-2 3zm-4 18zm-4-24zm-3 4zm-4 7zm-6-5zm-5 6zm-53 16zm-1-1zm0-1zm-1-1zm-1 4zm-1-15zm-10 15zm-1-12zm-1 0zm-8-14zm0 18zm-9 3zm-9 1zm-2-8zm-2 0zm-3-16zm0 12zm-15-2zm-1-6zm-2 6zm-4 8zm-6-8zm-7 2zm-4 0zm37 21zm9 10zm7-2zm12-1zm2-7zm11-4zm0 25zm9 4zm0-12zm4-6zm1 10zm8-5zm1-1zm5-8zm1 17zm0-14zm6 14zm6-13zm0 15zm12-7zm1-14zm52 21zm5-9zm0 2zm3-19zm1 11zm7-9zm1 13zm6 5zm0 7zm6-20zm7 1zm3 4zm0-2zm5 17zm3-10zm2-14zm0 21zm6-9zm17-13zm10 26zm0-19zm17-8zm13 7zm0 18zm11-22zm1 18zm2-5zm5 6zm2 0zm3-11zm5 8zm2 3zm6-19zm6 2zm9-6zm6 16zm1-8zm3 17zm-18 14zm-5 11zm0 2zm-2-8zm-1-6zm-2 16zm-6 0zm-6-17zm-1 1zm-2 1zm-5 0zm-9 10zm0-6zm-1-9zm-9-3zm-1 4zm-12 5zm-2 18zm-3-16zm-18-11zm-32 14zm-3-2zm-4-10zm-9 4zm-55 21zm-20 0zm-12-28zm0 3zm-1 3zm0-2zm-2-2zm-6 11zm-4-12zm-2 11zm0 2zm-2 1zm-6-4zm-6-10zm0 14zm-3-14zm-3 13zm-11-9zm0 21zm-15-6zm-16 8zm-15-23zm-13 23zm-12 0zm-2-8zm-2 21zm11 10zm7 2zm3-2zm24-16zm0 22zm3-15zm3 13zm9 3zm20-3zm10-8zm2-4zm2-8zm5 23zm3-19zm1 15zm4 2zm2-13zm1 3zm1 10zm14-10zm10 2zm4-7zm17 2zm15 4zm14 6zm27-8zm19-1zm9-4zm55 2zm29-12zm5 2zm3 2zm6 0zm-38 29zm-21 13zm-3 10zm-17-4zm0-9zm-2 5zm-1-6zm-11 9zm-2-7zm-3 13zm-5 1zm-1-26zm-2 5zm0-5zm-2 3zm0 18zm-1-10zm0-9zm-2 1zm-1 16zm-1-2zm-1 9zm0-28zm-1 6zm-30-3zm-20 8zm-1-8zm-5 12zm-9-11zm-10 0zm-1 3zm-3-1zm0-4zm-7 17zm-2-14zm-3 12zm-4 7zm-1-3zm-2-16zm-9 20zm-5-10zm0 5zm-1-3zm-4-11zm0 11zm-3-16zm-1 9zm-17-8zm-2 19zm-12 7zm0-25zm-10 5zm-7 5zm-3 0zm-1-11zm-1 17zm-1-10zm-16-8zm-7 20zm-15-10zm-6-11zm33 33zm11 14zm2 7zm1-6zm10-2zm18-5zm13 10zm5-11zm2-4zm3-4zm1 24zm8 1zm1-10zm6-12zm1 23zm1-6zm2 6zm1-18zm2 16zm3-2zm2-21zm1 2zm3-5zm4 12zm8-2zm6-2zm1 8zm1-1zm1 2zm3 6zm5-4zm3 9zm12-4zm0-6zm1 11zm13-3zm7-7zm10 4zm0 4zm2-2zm19 0zm15-16zm30-9zm-27 31zm-16-1zm-12 14zm-6 14zm-21-3zm-19-8zm-4 10zm0-21zm-22 21zm-10-14zm-3-8zm-1 8zm-2 14zm-4-25zm-1 18zm-8 7zm-2-11zm-2-9zm-48 21zm-3-12zm-12 0zm0 0zm-7-16zm38 32zm41 5zm5-7zm2 18zm5-16zm7 6zm2 9zm2 8zm0 0zm1-1zm1 1zm1-17zm11 7zm26 1zm19 5zm-54 11zm-3 1zm-63 11z" stroke="#e85a3c" stroke-width="16"/><path d="M607 1677zm-3-2zm-9-8zm0 12zm-27-3zm-54 30zm59-6zm5-20zm17 12zm2 4zm6-11zm3 3zm3-1zm0-4zm1 19zm0-11zm3 10zm1 6zm2 1zm2-9zm1 5zm1-14zm0 11zm3-5zm1 13zm6-1zm40-14zm2 15zm19-14zm21 9zm3-17zm3 11zm9 18zm-11-4zm-10 14zm-11 0zm-10-13zm-2-1zm-7 1zm-3 17zm-4-7zm0-4zm-2 5zm-2 1zm0-15zm-3 9zm0-1zm-5-4zm0 22zm-2-1zm0-17zm-2 11zm-7 6zm-4-9zm0 3zm-5 2zm-2-13zm-4-3zm-10-4zm-6 0zm-23 22zm-14-2zm-12-15zm-6 21zm-22-22zm-2 10zm-5 0zm-4-3zm-2 3zm-32 39zm30 4zm2-18zm5-10zm3 26zm1 2zm4-23zm3 7zm0-5zm0-5zm4-1zm2 13zm20 14zm1-27zm64 19zm6-20zm0 11zm1-9zm2 3zm1-3zm8 17zm6-1zm30-10zm1 0zm4 16zm4-8zm18-5zm3-7zm3 6zm4-1zm6 9zm2 9zm15 22zm-16-19zm-9 19zm-9 1zm-2-9zm-36-2zm-11 4zm-24 8zm-1-1zm-2-4zm-2-11zm-4 24zm0-23zm-1 14zm-2-10zm-10 19zm-36-4zm-1-13zm-3 0zm-18-4zm-20-4zm-8 18zm-3-18zm0 23zm-1 1zm-9-5zm0-7zm-9 5zm-3-1zm-6-14zm-98 22zm-35 24zm3 1zm7-13zm6 5zm2 0zm4-5zm0 14zm1-22zm1 14zm6-2zm0-11zm0 13zm3 4zm4 7zm2-10zm0-8zm10 6zm14 3zm5 1zm4-2zm6 0zm8-5zm6 4zm6 10zm4-25zm19 15zm9 12zm2-8zm9 7zm22-26zm4 19zm15 8zm20-3zm4 3zm4-19zm6 8zm11 5zm32-20zm3 10zm4 8zm0-7zm2-12zm2 12zm2 8zm0-1zm2-20zm1 22zm29-3zm1-5zm17-7zm1 3zm3 13zm7-16zm0 4zm1 9zm6-7zm7 16zm22-18zm-18 47zm-18-12zm-7-14zm-86 15zm-3-10zm-1 21zm-6-27zm-19 17zm-1 2zm-8-12zm-2 4zm-6 17zm-11-18zm-3 9zm-2-3zm0-1zm-6 0zm-2 4zm-2-6zm-2 14zm-7-25zm-2 6zm-10-7zm-30 3zm-3 5zm-3 19zm-6-19zm-3-8zm-4 5zm0 21zm-1-6zm-8 4zm-15-16zm-3 1zm-3 4zm-11-6zm-5-2zm-4 3zm-3-7zm-5 15zm0-14zm-11 4zm-10 12zm-2 1zm-6-15zm-2 6zm-3-1zm-8 14zm-11-17zm-5 14zm6 15zm40-1zm0 4zm21-8zm3 11zm16 13zm19 2zm0 0zm3-13zm5 12zm61-1zm31-26zm6 4zm3 20zm7-9zm6 14zm0-13zm3 13zm27-16zm0 6zm5 2zm3-2zm2-2zm26 4zm5-11zm4 1zm15-5zm0 22zm1-16zm1 7zm5 7zm1-6zm5 7zm3-17zm2-1zm3 14zm14-20zm6 5zm1 12zm5 4zm-29 24zm-7 3zm-1 4zm-4-7zm-2-4zm0-14zm0 10zm-3-4zm-1 1zm-2 4zm-2 16zm-1-20zm-1 2zm-6 5zm-17 4zm0-5zm-25-5zm-7-6zm-3 1zm-13 17zm-6-13zm-8 0zm-1 6zm-1 3zm-1 9zm-2 1zm-1-13zm-2 16zm0-9zm0 0zm0-8zm-1-4zm-1-1zm-3 1zm-4 9zm-1-14zm-1 21zm-58-14zm-1 16zm-3-4zm-5-8zm-6-6zm-9-8zm-1 26zm-1-23zm-6-3zm-3 14zm-1 5zm-3-19zm-2 0zm-13 29zm-1-16zm-14-9zm-28 47zm11-1zm4-3zm2 6zm1 1zm12-6zm1 3zm3 0zm1-7zm4-9zm13 19zm12-6zm12 10zm8-5zm8-1zm0 2zm7-1zm19 6zm16-9zm16 1zm2-4zm4 2zm4 6zm1-1zm2-20zm1 16zm2 8zm2-2zm1-4zm0-4zm14-6zm3 7zm6-2zm5 5zm27-11zm4 12zm12-2zm18-3zm6-12zm9 0zm1 1zm-31 31zm-1-2zm-12 9zm0-5zm-5-5zm0 15zm-2-1zm-1 0zm-1-8zm-1 16zm-10-9zm-6 1zm-2 3zm-1-8zm-11-12zm0 15zm-6-14zm-5 12zm-1-13zm-5 1zm0-2zm-3 1zm-1 23zm-3-17zm-4 1zm-29 8zm-1-12zm-22 10zm-9 6zm-2 7zm-3-14zm-7-6zm-4 4zm-2-10zm-3 7zm-2 13zm-2-1zm-6-4zm-5 0zm-2-1zm-7-8zm-4-8zm0 24zm-4-3zm0-9zm-1-6zm-3 12zm-24-6zm-8 10zm-4-3zm0 5zm-2-19zm-5 14zm-3-1zm-8 2zm-1 4zm-10-12zm-11 15zm-1 1zm-1-15zm-4-4zm-14-6zm30 42zm6-10zm2 6zm5 10zm0 7zm4-19zm1-3zm1 15zm0-12zm0 12zm2-19zm1 25zm1 1zm50-4zm1-23zm6 26zm2-10zm1-14zm0 18zm0-21zm1 26zm1-9zm3 6zm2-20zm8-2zm0 27zm1-25zm1-1zm2 0zm4 20zm0-21zm3 8zm1 18zm1-27zm6 4zm1 17zm1-4zm2-2zm2-13zm1 17zm0-3zm5-13zm3 15zm4 0zm3-4zm2-1zm1 10zm4-10zm0 5zm3-4zm2 14zm21-1zm45-23zm9 6zm6-1zm0 17zm-7 4zm-13 10zm-9-5zm-15 2zm-56 1zm-7 1zm-1 18zm-28-5zm-7-20zm-3 23zm-5-12zm-3 4zm-9-3zm-3-14zm-8 25zm-7-3zm-1-7zm-12 14zm-5-1zm-6-9zm-2-19zm-2 11zm-5 8zm-4-3zm2 19zm44 1zm5 6zm10-4zm22-4zm0-3zm22 26zm2-1zm7-3zm2-17zm9-3zm9 16zm9 0zm3-12zm11 24zm-110 9zm-12-4z" stroke="#d63a30" stroke-width="16"/><path d="M612 1675zm-1 0zm-6-3zm-5 0zm-8 5zm6 15zm1-10zm1 1zm8 14zm6 1zm1-5zm1 5zm1 3zm1 5zm0-11zm3-7zm0 1zm1 5zm1-14zm3 25zm1-15zm11 16zm8-13zm6 16zm2-3zm30 0zm2-8zm32 5zm1-11zm-1 36zm-4 7zm-1-15zm-2-7zm-9 20zm0-5zm-1 9zm-9-26zm-22 28zm-5-18zm-5 10zm-1-13zm-2-7zm-2 7zm-7 7zm0-6zm-6 14zm-1-7zm-4-16zm-17 9zm-9 3zm-30 15zm-34-27zm-19 12zm3 26zm27 16zm12-17zm70 13zm1-11zm31 9zm24 0zm2-13zm10 5zm8 11zm8-13zm0-8zm4 7zm4 2zm18 38zm-7 11zm-2-22zm-7 11zm-7-16zm-1 12zm-13 15zm-74-9zm-1-11zm-5 10zm-4 1zm-4 0zm-2 7zm-2-3zm-10-14zm-15 18zm-72-8zm-15 2zm-1-3zm-4 4zm-3-12zm-2 11zm-7 1zm-8-11zm-16 17zm-7 1zm-61-11zm-2 9zm-11 1zm-13 22zm7-1zm26-11zm0-4zm3 16zm6-5zm2-1zm4 5zm7-3zm3-1zm1-1zm1 13zm1-7zm0-4zm6 5zm1 1zm2 3zm2 0zm2-13zm3-8zm3 9zm2 1zm0 6zm14-9zm5-3zm23 18zm4-9zm4-9zm2 11zm7 6zm3-5zm13 9zm46-7zm14-17zm10 4zm7-8zm0 16zm2-14zm3 23zm1 1zm1-16zm4 15zm0-10zm5 11zm1-15zm10-12zm3 8zm1 3zm22-7zm63 16zm5-17zm5 25zm2-5zm2-16zm-24 27zm-91 1zm-28 7zm-8-5zm-7-6zm-8 17zm-1-11zm-1 0zm-1 6zm-17 3zm-25-14zm-54 27zm-8-15zm-13-10zm-10 2zm-17-3zm-15-1zm-26 27zm-13-16zm-1 3zm-12 6zm9 12zm1 12zm7-4zm2 9zm5 5zm16-4zm65-14zm20 21zm0 0zm6-7zm16 5zm3 0zm60-5zm4 6zm8-3zm1 2zm0-27zm0 25zm1-14zm19 5zm1-5zm1 16zm6 2zm5-7zm21-5zm6 12zm6-10zm14 2zm1-3zm1 6zm5 1zm18-14zm1-4zm-18 41zm-2-9zm-1-6zm0 5zm-2-6zm-2 5zm-3-7zm-4 15zm-4-4zm-24 5zm-13-14zm-4 9zm-10 10zm-3 2zm-4-17zm-3 4zm-1 2zm-75-6zm-10 11zm-7 1zm-2-3zm-3-12zm-3 2zm-1 4zm-3 5zm-3-6zm-11-8zm-54 7zm-29-5zm30 46zm16-9zm4 9zm53 11zm5-2zm60-27zm8 9zm2 3zm2-4zm5 11zm1 10zm0-5zm15 0zm7-7zm1-6zm8 4zm1 13zm26 0zm4-21zm9 37zm-2-10zm-2 4zm-3 8zm-6 4zm-2 4zm-1-10zm0 10zm0-17zm0 0zm0 11zm-1-7zm0-4zm-1 0zm-1 12zm-1-12zm0 4zm-1-6zm-1 11zm-4-4zm0 11zm-3-14zm-2 4zm-12 9zm0-3zm-11-2zm-15-13zm-5-2zm-46 12zm-12 4zm0-7zm-4 12zm0-23zm-17 24zm-3-10zm-7 13zm0-7zm-1-16zm-11 16zm-20-4zm-39-16zm-14 12zm-4 2zm-24 14zm-9-26zm-9 26zm0-15zm36 42zm2-11zm2-13zm3 23zm5-7zm1 6zm3 1zm6-15zm4 17zm12 2zm22-2zm8-3zm9 3zm4 2zm12-10zm14-9zm5 0zm1-9zm6 1zm2 20zm8-16zm4 9zm3-12zm5 14zm1-7zm1 13zm12-19zm71 12zm11-9zm8 1zm-49 45zm-39 3zm-13-12zm-8 4zm-56-15zm-3 6zm-10 7zm-11 9zm-5-15zm-7 12zm-4-1zm-4-10zm-1 9zm0-13zm-5 14zm0 6zm-6-7zm-1-7zm-2 17zm-1-8zm0 7zm0 2zm4 21zm6-1zm1-3zm1-14zm1 12zm4-8zm4-2zm14 9zm9-11zm33 5zm24 17zm2 2zm0-16zm2 12zm8-7zm9 9zm3 3zm3-3zm5 1zm-36 5zm-65 3z" stroke="#bd2431" stroke-width="16"/></g>
<text x="117.2" y="140.5" font-size="10.8" text-anchor="middle" letter-spacing="-0.25" fill="#111" stroke="#111">CD8</text>
<rect x="82.5" y="142.7" width="69.3" height="68.5" fill="#fff" stroke="#4a4a4a" stroke-width="1"/>
<g transform="scale(0.1)" fill="none" stroke-linecap="round" stroke-linejoin="round"><path d="M1330 1676zm51 27zm2-15zm9 20zm16-15zm26 16zm37-10zm10-7zm-8 21zm-35 0zm-6 26zm-5-29zm-10 8zm-2 11zm-5-10zm-2 16zm-4-2zm0-4zm-18 0zm-43 6zm-34-25zm-61 48zm26 3zm55 7zm1-27zm44 21zm9-2zm8-11zm0 8zm1 0zm1 10zm1-14zm6-13zm0 11zm1-9zm1 20zm1-17zm1-3zm3 11zm2-5zm3 1zm3-4zm1-2zm1 17zm25-16zm7 4zm0 7zm16 33zm-64 3zm-5-18zm-4 3zm-3 4zm-2 9zm-2 7zm-31-19zm-65-7zm-11 0zm-8 18zm-7-8zm-98-1zm-3 9zm-30 35zm13-8zm2 0zm6-2zm6 1zm3 6zm6-3zm1-9zm3 12zm6-5zm2-1zm0-2zm70 4zm9 12zm29-2zm22-14zm1 16zm1-6zm8-6zm10-14zm5 26zm21-6zm16-19zm5 8zm19 15zm1-26zm64 28zm1-2zm0-15zm11 11zm1-19zm2 14zm0 12zm7-7zm5 10zm-6-1zm-1 3zm-1 24zm-4-20zm0-4zm-1 9zm-2 3zm-8-10zm-3 10zm-2 7zm-75-18zm-45-3zm-6 16zm-1-11zm-2 1zm0 5zm-1-11zm-3 18zm-3-10zm-1-3zm0 22zm-1-23zm-7 16zm-2-2zm-1-9zm-3 18zm0-9zm-4 6zm-4-10zm-2 4zm-2-1zm-2-6zm0 7zm0 8zm-1-6zm-120-19zm-16 5zm-6 17zm-7-24zm-12 12zm-25-9zm29 38zm6-8zm54 22zm28 0zm20 3zm22-2zm3 0zm15-1zm1-25zm3-1zm1 26zm5-9zm0 2zm2-13zm1-6zm1 11zm3-7zm9-1zm1 9zm7-5zm3-3zm81 25zm1-8zm10 1zm7 1zm2-2zm18 6zm5-18zm2 2zm12 5zm4 9zm6-5zm15-18zm-39 37zm-5 13zm-3 3zm-6-25zm-4 3zm-7 6zm-4 6zm-3 9zm-3-20zm-5 0zm-7 9zm-40 10zm-100-5zm-3 4zm-9-8zm-9 14zm-3-2zm-1-23zm-1-3zm-7 0zm0 3zm-2 16zm-3-19zm-4 13zm-6-9zm0 6zm0 4zm-2 1zm-3 14zm-3-18zm-9-7zm-55 22zm-5-21zm3 53zm7-24zm60 24zm10-15zm16 3zm10 9zm0-4zm15 3zm21-7zm14 6zm139-23zm-68 58zm-8-11zm-13 11zm-2-5zm-2-22zm-85 13zm-18 3zm-1 4zm-2-16zm-9 20zm-2-17zm-3 12zm-1 4zm-44-5zm-10-15zm-2 9zm-6 7zm-11-8zm-11 16zm-1 0zm0-7zm12 12zm5 2zm2 6zm4 6zm0-16zm41 22zm15 3zm4-24zm1 19zm1-20zm1 26zm8-13zm0-14zm12 5zm4-2zm1-1zm46 11zm3 12zm1 0zm1-3zm0 6zm2 0zm15-11zm-11 38zm-5-12zm-10-9zm-1 2zm-7 0zm-48 19zm-1-14zm-19-11zm-7 9zm-1 16zm-7-3zm-1-7zm-2 5zm-4-10zm-1 9zm-11 32zm6-1zm1-3zm1-14zm1 12zm4-8zm2-5zm2 3zm11 1zm3 8zm2-2zm64 13zm10-22zm2 13zm7 3zm3-3zm10 10zm-111 18zm-1-8z" stroke="#54509f" stroke-width="16"/><path d="M1366 1675zm-47 11zm41 6zm9 5zm3-14zm0 8zm4 16zm2-9zm3 6zm1-14zm1-1zm2-9zm1 29zm2-4zm1-20zm11 21zm14 3zm57-7zm16 5zm2 9zm-9 12zm-12-18zm-7 6zm-14-3zm-5-2zm-14 15zm-1-1zm-1 0zm-2-7zm-7 0zm-6 20zm-12-7zm-2-13zm0 19zm-4-22zm-6 19zm-7-23zm-26 22zm-26-21zm-6 25zm-33 21zm3-14zm35 5zm8 20zm52-5zm3-12zm13-3zm9 10zm8 10zm2-16zm13-5zm21 16zm24-21zm6-3zm6 24zm2-15zm-87 39zm-7 2zm-2 1zm0-7zm-3 4zm-3 11zm-1-10zm-8 4zm-4 6zm-6-20zm-34 1zm-14 7zm-64 4zm-82-18zm-15 25zm-15 0zm-20 24zm9 1zm5-4zm8 5zm1-22zm7 22zm0-8zm9-7zm1 19zm9-13zm6 4zm86 0zm7 6zm11-6zm22 4zm7 4zm3-2zm50-24zm5 25zm6-10zm6 6zm1-20zm3 10zm4 17zm0-16zm5-5zm0 7zm1 5zm54 3zm8-3zm33 8zm2-17zm-23 21zm-23 7zm-62 0zm-48-8zm-13 11zm-1-2zm-4 18zm-8-18zm0 6zm-1-14zm-1 14zm0-12zm-4 7zm-3 6zm0-3zm-1 2zm-12 13zm-6-26zm0 1zm-2 5zm-39 3zm-71 6zm-4-16zm-2 1zm0 18zm-20-4zm-5-4zm-2 2zm-5-3zm-8-1zm-3 0zm0 14zm-4-6zm-14 39zm8-21zm12-3zm74 20zm2-17zm4 6zm3 14zm4 1zm0 0zm6-21zm16-2zm7 24zm58-18zm2 0zm2 4zm2-2zm4-7zm0 21zm3-27zm4 19zm12-4zm65 2zm12-7zm13 0zm24 7zm8-17zm15 8zm7 24zm-30 16zm-10 6zm-4-10zm-3-8zm-5 1zm0 0zm-2 2zm-1-9zm-5 9zm0 13zm-3-11zm-6 8zm0-6zm-6 2zm-5-10zm-77-2zm-43 3zm-10 11zm-8 11zm-7-23zm0 9zm-1-5zm-6-1zm-8-8zm-8 0zm-3 6zm0 8zm0-10zm-6-4zm-6 1zm-2 11zm-6 1zm-4-8zm-63 22zm-29 1zm8 7zm2 0zm11 8zm17-9zm3 23zm6-2zm44-7zm8 6zm4 2zm3-10zm0 8zm30-2zm100-12zm4 9zm2 5zm70-6zm15-12zm-30 32zm-41 14zm-29-19zm-1 20zm-1 0zm-59-5zm-35-13zm-1 16zm-7-7zm-6 2zm-10-1zm-1-15zm-4 21zm0-9zm-1-6zm-41-1zm-14 9zm-2-5zm-1 15zm-21 3zm-18 1zm42 26zm7-22zm18 20zm10 2zm7-3zm10-19zm10 15zm4 10zm2-10zm1 4zm5 2zm2-20zm8-3zm11 9zm8-5zm12-1zm3 18zm7-7zm7 4zm3-2zm12 2zm52 23zm-69 6zm-6 0zm-6-17zm-36 27zm-15-14zm-3 4zm-3-2zm-6-1zm-17 7zm-14 5zm-5 2zm42 10zm9 3zm66 14zm20-4z" stroke="#3f6fb2" stroke-width="16"/><path d="M1479 1677zm-29 1zm-81-1zm-10 2zm-83 27zm92-18zm11 16zm0-3zm1-2zm36 7zm59-24zm5 16zm0 5zm-5 17zm-1 13zm-6-7zm-3 1zm-1 1zm-1 9zm-11-16zm-17 9zm-25-5zm-6 1zm-1 0zm-20-15zm-6 0zm-7 20zm-6 6zm-18-20zm-3 20zm-7-23zm-38 11zm-5 0zm-7-3zm-2 18zm3 10zm0 18zm22-14zm86 15zm0-7zm7-2zm3-1zm13-1zm3-5zm13 5zm0-11zm8 9zm18-11zm18-1zm3 6zm4-1zm7 21zm-3 1zm-6 18zm-24-7zm-7 1zm-34-9zm-2 12zm-8-6zm-7 9zm-1-11zm-2-3zm-2 0zm-1-5zm-4 20zm-36-8zm-12 13zm-4-13zm-7 10zm-5-9zm-6-5zm-7 5zm-3-6zm-28-6zm-12 20zm-132 19zm1 6zm13 0zm13 11zm3-23zm34 17zm5 4zm46-2zm10-6zm2 3zm1 4zm0-14zm3 17zm10-7zm32 1zm1-4zm3-17zm10 9zm10-6zm3 6zm14-4zm10 4zm7 8zm11 9zm6-14zm12 1zm2-2zm3 11zm7 2zm12-20zm15 16zm7-10zm17-3zm29-4zm7 20zm-43 9zm-16 23zm-29-18zm-10 6zm-11-11zm-50 23zm-5-4zm-9-20zm-2 24zm-9-9zm-7 0zm0 7zm-1 0zm-3-22zm-19 5zm-1-6zm-10 6zm-8-6zm-6 11zm-55-5zm-1 4zm-17-1zm-7 8zm-10 1zm-7 0zm-1 6zm-12-14zm-1 10zm-2 9zm0-8zm-14-5zm-4-2zm-8 8zm-2-4zm-2-10zm-6 5zm72 27zm10 19zm1 0zm13-13zm1-1zm3 10zm3 2zm6-3zm0-9zm5 12zm13-8zm14 3zm43-16zm9-3zm11 5zm21 16zm54-23zm13 25zm7-7zm4-15zm10 19zm1-5zm2-6zm2-6zm5 17zm3-3zm8-10zm5-3zm12 1zm14 16zm-36 20zm-5 4zm-2-8zm-1 8zm-1 6zm-1-15zm-1-2zm0 1zm-2 3zm-2 4zm-1-7zm0-1zm-5 11zm-2-4zm-17 4zm-15-8zm-5 2zm-12-10zm-31 11zm-7 7zm0-8zm-8 9zm-1-4zm-7-10zm-53 3zm-15-2zm-22-6zm-15 3zm-5-5zm-1 9zm-6-2zm-4 1zm-27 12zm-15-18zm-1 26zm-25-2zm-12-11zm-16-2zm9 28zm20 1zm7-11zm5 6zm2 2zm5 15zm9-12zm10 9zm2 7zm13-11zm2 1zm1 6zm15-15zm3-4zm17 21zm0 1zm22-15zm2 6zm15 4zm3 5zm3-14zm1 10zm32 5zm19-7zm23 8zm19-12zm4-6zm35 17zm40-26zm8 8zm-78 42zm0-8zm-3-2zm-11 9zm-5 6zm-6-25zm-2 0zm-4 0zm-3 17zm-32-16zm-3 2zm-18-2zm-5 12zm-13-1zm-5 10zm-2-17zm-3-5zm-5 18zm-2-1zm-5-2zm-4 7zm-3 3zm-18-11zm-2-3zm-2-12zm-32 2zm-15 15zm-5-5zm-1-11zm-26 11zm12 32zm8 10zm38 3zm22-18zm5 14zm9-19zm1-2zm0 25zm1-2zm2 2zm6-4zm6-23zm4 1zm0 10zm17 5zm2-2zm0-15zm2 2zm1 14zm8 2zm9-5zm0 1zm1 10zm0-1zm1 6zm6-15zm1-5zm12 2zm1-8zm10 20zm14-3zm19-6zm4 2zm5-7zm11 1zm8 5zm-51 16zm-18 24zm-36-11zm-37-12zm-7 6zm-4 8zm-2-9zm-15 17zm-26 5zm0-9zm-7 8zm-13-9zm-1 3zm-1-6zm81 15zm17 7zm17 19zm26-8zm14 12z" stroke="#3a8dbb" stroke-width="16"/><path d="M1373 1675zm-10-8zm0-2zm-3-7zm-3 9zm-26 12zm-8-6zm-21 17zm1 15zm28-22zm4 22zm0-5zm4-15zm8 4zm5 14zm9-21zm1 1zm10 19zm4-4zm1-5zm2 6zm1 7zm0-11zm2 6zm3-5zm0-4zm4-2zm43 4zm9 1zm3 4zm9-4zm21 9zm4 8zm-2 23zm-12-2zm-2-23zm-8 1zm-8 18zm-1-17zm0 12zm-1-13zm-11 18zm-5 9zm-1-17zm-3-2zm-2 12zm-1-13zm-2-4zm-2 21zm-18-25zm-17 9zm-5 5zm-9 4zm-11-17zm-1 7zm-5 10zm-43-14zm0 4zm-8 9zm-5-12zm-5 7zm-1 2zm0-2zm-5-12zm-2 22zm-1 4zm-2-21zm-1 26zm1 7zm3 2zm8 19zm2-29zm1 8zm3 8zm1 10zm1-21zm33-5zm1 7zm23-7zm11 5zm10 8zm18 7zm41 2zm1 2zm12-16zm9 8zm10-1zm3-5zm5 1zm3 10zm8-13zm5 10zm12 18zm-28 22zm-1-8zm-64-2zm-4-3zm-2 1zm-6 0zm-40 11zm-16-15zm-9 8zm-4 4zm-1-8zm-7-4zm-11 2zm-6-9zm-10 5zm-20 10zm-6 6zm-2-4zm-4-16zm-8 16zm-58 6zm-36-1zm-24 23zm15-10zm8-7zm32 9zm0 4zm4-2zm2 6zm0-1zm17-4zm1-3zm22-4zm23 18zm8-18zm9 16zm16 5zm15-15zm2 1zm6-2zm12 6zm3 6zm8-3zm6-5zm31 10zm10 0zm8-3zm1-4zm2-19zm4 20zm2-21zm22 21zm9 0zm17-18zm9-3zm9 13zm17 7zm18 8zm-54 13zm-39 4zm-2-14zm-1 1zm-30 18zm-2-14zm-32 13zm-5 1zm-20-20zm-12 9zm-5 14zm-3-4zm-8-12zm-15-5zm-7 22zm-7-20zm-4 7zm-27-9zm-17 2zm-33 3zm-12-3zm-3 22zm-15-1zm-3-8zm-8-11zm-5 5zm-18 0zm-6 11zm19 24zm9 5zm21-11zm16 8zm2 11zm12-7zm2 6zm4-4zm2-2zm2 3zm0 0zm3-17zm9-1zm1 3zm12-2zm88 12zm12 4zm46 5zm31-21zm14 9zm12 11zm3-8zm13-2zm1-12zm18-3zm-24 48zm-13-19zm-16 19zm-13-20zm-8 15zm-7 12zm-20-7zm-1-20zm-9 9zm-17 6zm-1 9zm-10-17zm-65 18zm-2-11zm-57-12zm-3 12zm-18-8zm-36 21zm-1 1zm-21-9zm-6 1zm-8-1zm9 28zm9-16zm0 4zm1 15zm6-7zm1 2zm0-9zm3-7zm0 12zm4-3zm3-6zm1 18zm6-16zm1 0zm6 10zm23 8zm15-6zm2 4zm0-8zm1 1zm4-9zm5 4zm20 9zm20 5zm6 6zm28 0zm36-14zm12 13zm1-20zm1 18zm5-2zm22-7zm9-2zm1 13zm75-24zm-38 29zm0 1zm-2 4zm-12 6zm-1-3zm-7 16zm-2-15zm-14 7zm-3 5zm0-5zm-6 10zm-5-27zm0 15zm-6-14zm-6-1zm-3 2zm-1 3zm-3 6zm-2-8zm-3 3zm-4 1zm-38 5zm-9-3zm-3 0zm-4 12zm-9 5zm-13-22zm-3-4zm-2 25zm-1-18zm0-5zm-2 18zm-13-5zm-9-2zm-4 2zm-4 0zm-4 1zm-8-14zm-33 4zm-2 11zm-5-7zm-5 7zm-17-18zm-22 10zm-2 2zm45 26zm1-3zm1 15zm3 6zm1-16zm7-2zm33-3zm4 16zm0-13zm9 14zm7-1zm1 0zm1-5zm0 9zm4 0zm6-16zm31 18zm1-9zm3 9zm7-23zm2 20zm3-7zm14 8zm7-7zm9 8zm1 0zm15-23zm16 2zm3 6zm10-8zm5 2zm-27 36zm-10-11zm-51 26zm-2-19zm-2 3zm-6 16zm-28-5zm-5-2zm-48-14zm-15 15zm0 7zm-1-9zm-13-3zm14 14zm44 3zm16 4zm15-2zm8 20zm19-19zm1 5zm2 12zm20 5zm3-3zm4-18zm-99 33zm-1-6z" stroke="#4fa6b4" stroke-width="16"/><path d="M1376 1672zm-2 3zm-7-3zm-5 0zm-8 5zm-14 3zm19 9zm1 11zm5-15zm5 12zm5 4zm9-7zm62 12zm2-8zm4-1zm16 3zm6 8zm2-1zm1-20zm-28 24zm-7 9zm-5 18zm-1-18zm-5-1zm-2 5zm-10-13zm0 25zm-44-19zm-2 5zm-5-11zm0 14zm-11 6zm-47-14zm-14-7zm-8 8zm-33 46zm23 2zm6-1zm0-3zm7-3zm1-18zm3 25zm2-23zm2 0zm1 2zm3 7zm0-5zm0-5zm3 11zm1 10zm3 4zm10-3zm28 3zm112-11zm30 6zm0-15zm18 42zm-36-8zm-16-9zm-19 27zm-9-29zm-11 26zm-16-24zm-2 1zm-60 2zm-11 0zm-9 7zm-12 4zm-5-15zm-1 3zm-6 17zm-6 7zm-3-11zm-5 1zm-1-1zm-1-15zm-8 19zm-23-14zm-15 3zm-3 18zm-3-10zm-3 2zm-18 35zm10-12zm0-9zm1 20zm1-10zm9 12zm5-15zm4-9zm25 18zm31-19zm3 17zm2 7zm9-24zm6 0zm19 5zm20 23zm36-4zm20 4zm1-29zm5 26zm3-8zm1-11zm1 21zm22 1zm2-21zm-3 38zm-7-4zm-2-9zm-7 25zm-7-23zm-8 15zm-3-11zm0 3zm-39-5zm-2 19zm-15-19zm-9 11zm-2-15zm-6 4zm-35 7zm-2-4zm-6-8zm-14 1zm-23 3zm-17 23zm-9-7zm-5-8zm-25 1zm-2 13zm-1-1zm-1-2zm-1 4zm-11 0zm-2-12zm-1-7zm-2 15zm-46-20zm-8 17zm31 22zm5-8zm0 4zm27-10zm5 29zm1-3zm3-11zm1-4zm3 0zm1 10zm1-16zm7 7zm19-1zm81-9zm20 6zm3 2zm5 18zm4 1zm5-4zm1-14zm18-9zm6 17zm3-19zm1 28zm1-7zm13-8zm27-2zm12 13zm4-12zm1 13zm0-6zm5 7zm14-3zm-11 15zm-14 19zm-48-25zm-21 4zm-4 14zm-6-13zm-17 1zm0 11zm-6-16zm-4 21zm-119-23zm0 7zm-5-7zm-2 3zm0-3zm-1 13zm0-14zm0 4zm-11 22zm-29-19zm-5 17zm-25 4zm-29-22zm22 24zm14 8zm0-2zm1 0zm0-4zm1 14zm2-8zm1-7zm14-1zm1 14zm2-8zm43 12zm125-18zm1 19zm6-19zm1 4zm1 16zm1-8zm4 10zm55-11zm5-3zm8 4zm3 9zm12-1zm12-14zm10-2zm-30 40zm-7 2zm-6 4zm-1-5zm0-5zm-2 14zm0-17zm-1 0zm-3 4zm-1 8zm0-14zm-2 6zm-3 12zm-17-10zm-2 5zm-14-4zm-6 1zm-7-10zm-2-3zm-1 23zm-1-4zm-2-21zm-63 4zm-3 0zm-15 8zm-16 8zm-21-14zm-4 4zm-14 10zm-3-18zm0 19zm-2 0zm-12 7zm-51-19zm-14-6zm40 41zm3 7zm0 0zm2-3zm0 6zm4-15zm0 12zm2 2zm2 5zm38-18zm31 7zm0-13zm2-1zm2 16zm2 9zm12-18zm1-10zm4 9zm3 6zm6 4zm0-9zm20-8zm50 23zm12-13zm21 10zm5-13zm0 17zm7-26zm14 7zm-41 33zm-9-5zm-23 18zm-62 4zm-16-14zm-4 0zm-3 2zm-6-13zm-1 0zm-5 25zm-51-8zm-1-7zm-2 17zm-1-13zm-3-16zm-2 11zm-7 5zm0 19zm64 7zm17-8zm8 14zm2-10zm0 1zm6 10zm6 8zm2-1zm7-3zm-3 8zm-9 1z" stroke="#74c4a8" stroke-width="16"/><path d="M1369 1670zm-47 22zm37 4zm12-9zm0-4zm9 19zm55 6zm22-16zm3 8zm13 5zm-7 9zm-21-3zm-14 12zm-57-5zm-14 7zm-4-10zm-28 1zm-28-1zm-6 2zm-3 17zm-3-15zm-8 4zm6 36zm11-17zm0 27zm2-6zm5-15zm3-7zm55 17zm91 6zm5-6zm35 9zm19 20zm-7 11zm-17-15zm-40 15zm-1-3zm-8 3zm-15-28zm-105 6zm-8 16zm-4 7zm-1-23zm-7 4zm-4-5zm-2 1zm0 16zm0-16zm-2 11zm-1 10zm-4-8zm-3 5zm-3-8zm-34-5zm-23 18zm-2-2zm-3-19zm-26 40zm4 9zm1-11zm7 6zm6-10zm3-8zm12 24zm5-13zm66 5zm36-19zm73 13zm5 2zm9 6zm0-14zm2-8zm13 14zm1 13zm5-2zm2-4zm2-17zm56 3zm-65 26zm-16-3zm-60 1zm-2 11zm-11 16zm-103-18zm-3 19zm-6-19zm-7-3zm0 7zm0 14zm-27-17zm-3 4zm-7-1zm-3-11zm-28 39zm1 10zm18-13zm1 15zm5 1zm2-12zm2 10zm0-21zm6 21zm3 6zm16-5zm116-12zm8 3zm2-12zm3 22zm22-14zm1 16zm1-22zm6 4zm4 10zm0 3zm46-19zm17 1zm-65 34zm-2 3zm-8-8zm-27 4zm-10 0zm-1 6zm-3 6zm-3-3zm-66-13zm-57-2zm-17 4zm-39 20zm-17-15zm-12 24zm3 4zm1 13zm7 2zm0-12zm1 0zm5-5zm2 0zm43 14zm20 1zm5 1zm40 6zm5-17zm53 9zm18-3zm8 8zm9-7zm3 1zm25 3zm38-15zm39 0zm-32 29zm-13 18zm-1-17zm0 11zm-2-11zm-1 12zm0-14zm0 15zm-1-13zm-2 9zm0 3zm-1-3zm-3 10zm-5-13zm-3 5zm-39-14zm-6 2zm-32 11zm-25-17zm-96 22zm-2-22zm-2 24zm-62-24zm52 47zm0 7zm4 0zm7-11zm3 13zm9-15zm24 15zm20-16zm23 17zm7-11zm2 1zm1-8zm7-8zm2 20zm7-3zm39 7zm34-16zm16 21zm-13 1zm-8 21zm-8-22zm-12 14zm-6 14zm-53-19zm-26-4zm-90-5zm84 30zm2 18zm0-16zm5 0zm5 6zm6 8zm1 8zm13-9zm-12 18z" stroke="#a4d9a4" stroke-width="16"/><path d="M1357 1679zm-69 29zm34-1zm119-17zm16 36zm-78-8zm-39 13zm-24-8zm-3-6zm-19-3zm-1 23zm-6-12zm5 31zm2 13zm2-1zm3-11zm2 12zm0-25zm139 13zm56 30zm-47 7zm-2 0zm-10 0zm-1-15zm-113 7zm-10 2zm-17-9zm-4-8zm-2 3zm-1 1zm-21 15zm-61 27zm11 3zm13-19zm182 27zm14-19zm0 13zm2-18zm2-4zm0 18zm6-5zm4-12zm3 2zm5 8zm3-1zm-25 25zm-36 19zm-145-19zm-28 21zm-25 0zm-87-13zm38 43zm40-18zm5 2zm7-1zm134 13zm4 5zm3-10zm4 12zm2-2zm0-27zm2 15zm18 1zm5-3zm73 37zm-109 6zm-3-11zm0 14zm0-9zm-8-1zm-156-7zm-42 20zm6 9zm1-4zm5 3zm20-2zm30 17zm141-16zm52 30zm-14 13zm-35 6zm-56-13zm-9 6zm-11-17zm-70 8zm-29 46zm17 1zm59-1zm17-6zm0-21zm10 7zm88 2zm18 16zm23-20zm-57 31zm-72 17zm-1-20zm-3 23zm-1-22zm-6 9zm-10 10zm14 23zm2 8zm2 0z" stroke="#d2ec9e" stroke-width="16"/><path d="M1357 1692zm21 16zm-77 14zm-16 46zm9-12zm215 37zm-61 2zm-16-20zm-7 8zm-132 9zm-13 1zm-10-11zm-76 33zm7 2zm20-1zm212 3zm1 0zm3-10zm3-9zm11 7zm-26 24zm-56 16zm-13-3zm-1-1zm-184 28zm2-7zm5 22zm7 3zm2-7zm1-16zm151 18zm39-7zm-47 26zm-7 41zm12-10zm10-2zm45 11zm-139 15zm-130-6zm44 44zm76 2zm17 3zm84 25zm-99 4z" stroke="#f5fab0" stroke-width="16"/><path d="M1297 1725zm143 68zm-127-12zm-28 7zm-295 6zm275 23zm182-14zm-269 59zm1 0zm2 11zm2 5zm10-1zm17-8zm128 7zm13 26zm-88 101z" stroke="#fee999" stroke-width="16"/><path d="M1266 1588zm-287 65zm33 135zm353 70z" stroke="#fdc877" stroke-width="16"/><path d="M1299 1530zm-2 29zm-13-28zm-245 15zm-4 4zm-3 3zm-12-5zm-42 41zm264 0zm24-11zm2-1zm9 20zm-13 2zm-29 11zm-45-16zm-20 10zm-181 12zm-6-10zm-2-4zm-1 12zm-11-2zm-15 7zm-4-28zm-68 57zm15-1zm3 0zm1-8zm1 7zm4 3zm0-3zm35-25zm30 21zm17-20zm49 12zm153 39zm-4-2zm-7-3zm-72 5zm-112-14zm-85-9zm-13 0zm-23 58zm34-13zm31-9zm55-3zm107 14zm2-16zm12 23zm67-7zm16-4zm-14 18zm-270 8zm-37 49zm34-8zm79-10zm16 17zm30-6zm1-6zm11-8zm56 14zm6-5zm5 1zm-91 13zm-40 11zm-1-5zm-14 2zm-2 11zm-87-17zm-20 0zm92 44zm63-5zm-12 19zm-28 9zm-25-4zm-9-2z" stroke="#fba25c" stroke-width="16"/><path d="M1250 1467zm-79 3zm-131 59zm1-2zm173 1zm7-16zm69 28zm-2 9zm-4 3zm-16-8zm-25 2zm-8-7zm-3-2zm-21-2zm-3 11zm-69 7zm-14 0zm-31-14zm-2 4zm-45-6zm-9 15zm-7-9zm-4 6zm-8 4zm-132 33zm79 3zm45-12zm3-9zm21 2zm4 1zm0 15zm10-21zm53 4zm1 9zm41-3zm5-3zm84 13zm13 3zm26-15zm4 2zm38 32zm-18-5zm-1 2zm-6-14zm-2 20zm-4-17zm-1 7zm-1 19zm-7-8zm-1-21zm-16 6zm0-3zm0 20zm-6-20zm-10 22zm-1-12zm-2-10zm-11 18zm-8-7zm-8 4zm-13 0zm-8-11zm-14-5zm-3-1zm-15 1zm-5 0zm-7 12zm-14 3zm-3-16zm-14 14zm-8 6zm-10-5zm-6 2zm-4 11zm-30-23zm-7 19zm-6-10zm-5 0zm-31 14zm-22-13zm0-1zm-1 9zm-8 4zm-4-28zm-1 5zm-1 3zm-1 9zm-12 7zm-3-18zm-8 6zm-10 0zm-1-7zm-28 1zm-19 9zm-7-11zm7 39zm3 16zm0-9zm1 7zm2 1zm1-13zm0 0zm2 6zm1-4zm2 2zm1 3zm0-2zm8 0zm4-13zm0 21zm9-14zm2 3zm1 4zm26 5zm8-26zm9 12zm5 0zm5-8zm1 1zm6 16zm1 7zm6-4zm3-5zm13-17zm3 1zm32-1zm54 3zm2 15zm2-2zm4-14zm1 24zm14-21zm41-6zm8 26zm12-12zm46 14zm2-13zm55-8zm-30 27zm-42 4zm-2 14zm-3-20zm-6 15zm-5 11zm-1-16zm-1-4zm-2-3zm-3 15zm-2-7zm-2-1zm-65 11zm-4 2zm-5-20zm-1 16zm-3-2zm-50 3zm-45-15zm-5 15zm-5-5zm-1 7zm-4-8zm-3 7zm-4-7zm-7 1zm0 4zm-14-3zm-2-2zm-5 7zm0-13zm-1 14zm-37-15zm-2-3zm-10-2zm-3 18zm-4-11zm-2 2zm-3-2zm0 9zm-5-18zm-3 1zm-1 1zm-2-2zm0 5zm-5-4zm-2 0zm4 54zm1-11zm12-1zm2 11zm3-18zm10 14zm17-20zm0 4zm15 7zm90 12zm65-4zm6-15zm0 17zm2-6zm1-11zm2 2zm0 8zm3-13zm0 6zm0 15zm10 0zm28-5zm13-14zm8-4zm4 10zm4-10zm2 13zm0-6zm3 5zm4 7zm21-17zm24 18zm-43 25zm0-13zm-6 4zm-1-8zm-50 6zm-25 22zm-2-8zm-50 1zm-8-11zm-10 8zm-16 7zm-1-23zm-24 9zm-6-3zm-58-1zm-19 6zm-1 12zm-8-16zm-2 10zm-9-12zm-3 12zm-3-2zm-13 0zm22 23zm3 16zm2-9zm17 0zm66 6zm5 1zm3-1zm15-11zm3 2zm6-4zm5 3zm0 14zm6-23zm3 22zm16 3zm31-7zm17-5zm1-3zm4 5zm0-1zm16-8zm43 15zm-58 6zm-4-1zm-8 6zm-20-3zm-7 6zm-1 19zm-26-14zm-17 12zm-6-21zm-6 9zm0-6zm-4 4zm0 10zm-5-3zm0 0zm0-9zm0 14zm-9-12zm-15 17zm-56-18zm-14-5zm32 48zm6 0zm3-12zm2-7zm5 4zm6 13zm26-11zm11-10zm10 17zm1 4zm3-21zm1 10zm23-10zm-26 38zm-28-2zm-11 6zm-23-8zm-6-5zm-2 5zm0 0zm-1-3zm-1 1zm-2 5zm-7-4z" stroke="#f57d49" stroke-width="16"/><path d="M1192 1469zm50 1zm-68 21zm-85 38zm59-4zm5 1zm7-6zm2 4zm3 3zm24 0zm22 0zm24-2zm2-20zm42 7zm0 7zm27 2zm4 5zm3 32zm-4-6zm-14-5zm-1 9zm-5-6zm-1 4zm-9-2zm-4-4zm-13 6zm-9 1zm-1 3zm-8-8zm-1-16zm-8 12zm-10-10zm0 3zm-4 6zm-3-4zm-3 11zm-5-16zm0 2zm-2 0zm-1 5zm-2-6zm-2-6zm-8-1zm-1 22zm-3-15zm-1 6zm-4-10zm-9 11zm-9 8zm-17-10zm-28 13zm-23-6zm-56-8zm-9 5zm-7 11zm-1-6zm-8 5zm-99 28zm3-2zm11-2zm3 4zm7-14zm14 15zm16-22zm5 26zm15-9zm6 7zm19-17zm0 5zm14-5zm0 12zm2-8zm18 13zm47-3zm34-8zm8-2zm0 11zm5-22zm2 23zm2 2zm4 0zm12-8zm5 6zm9-25zm5 8zm16 17zm20 2zm1-20zm2 0zm7 19zm10-6zm3-11zm0-6zm7 7zm6 13zm1 0zm1-15zm2 1zm9 16zm4-15zm21 1zm13 12zm3 29zm-10-14zm0 7zm-4-2zm-14 0zm-3 7zm-6 3zm-2-19zm-2 3zm-1 17zm-1-7zm-6-5zm-1 4zm-4-8zm-3-6zm0 9zm-2-11zm0 11zm-1 7zm-4-15zm-3 14zm-3-16zm-3 26zm-5-19zm0-9zm-7 22zm-2 6zm-3-20zm-7 7zm-2-13zm-3 2zm-3 2zm-7 22zm-17-25zm-2 9zm-2 5zm-1 5zm-1 0zm-2-22zm-4 13zm0 7zm-3-7zm-2-2zm0-1zm-6-4zm-2 18zm-3-18zm-8 7zm-15-6zm-13 3zm-16 9zm-1-12zm-3 11zm-6 8zm-1 0zm-40-4zm-3-15zm-4 5zm-4 5zm-2-10zm-12 7zm0 1zm-2-8zm-1-3zm-3-3zm-5 21zm-7-12zm-8-10zm-1 21zm-4 2zm-2-17zm-2 8zm0-13zm-5 9zm0 19zm-1-19zm-5 9zm-6-12zm-3 13zm-4 0zm-4-12zm-1 8zm-4-8zm-2 4zm-1-10zm-4 6zm0 3zm-3-5zm-1 10zm-8-7zm-1 1zm-1-5zm-9-3zm-4 15zm-7 1zm-1-7zm-6 1zm-1-1zm-6 10zm-3-3zm-2-15zm-16 24zm-2-20zm-1 3zm7 27zm6-6zm1 3zm5 20zm1 5zm5-2zm3-6zm0-3zm3-2zm5 6zm6-5zm11 5zm7 3zm9-15zm10 4zm1 7zm1-10zm4 0zm18 2zm3-7zm1-1zm1-5zm3 20zm1 4zm0-7zm21-12zm0 7zm1-11zm5 5zm7 5zm3-7zm3 3zm8 13zm58-13zm4-1zm2-3zm6 3zm1 10zm7 13zm2-12zm17 4zm16-18zm6 21zm8 2zm2-17zm4 7zm4 6zm11 3zm9-2zm7 1zm4-9zm7 13zm0-10zm1-10zm3 15zm0-14zm0-2zm1-3zm3-4zm1 18zm0 11zm10-28zm0 9zm3 1zm1 8zm3-15zm2 13zm2-3zm12 9zm18 0zm-8 16zm-7 10zm-7 8zm-3-19zm-15 15zm-7-7zm-2-14zm-4 1zm0 2zm-1-2zm-2-3zm-1 3zm-7 3zm-13 21zm0-23zm-5-3zm-8 10zm-2-2zm-10 2zm-1 2zm-3-13zm0 28zm-18-27zm-4 2zm-29 8zm-2 10zm-4 7zm-7-27zm-45 28zm-8-27zm-1 26zm-5-16zm-11-9zm-4 10zm-1-13zm-17 23zm-2-3zm-1 7zm0-11zm-8-7zm-5-9zm0 4zm-2 12zm-2 5zm-2-14zm-22 18zm-9 3zm-7-4zm-28-5zm-1 3zm-3-6zm-2-12zm-5 0zm-2-4zm-5 10zm-3-8zm-4 0zm-2 0zm-7 7zm-1-5zm-12 48zm4 2zm1 5zm14-3zm12-4zm7 1zm2 2zm2 2zm4-3zm2-24zm5 26zm0-20zm1-4zm4 1zm0 9zm3-2zm4 10zm7 3zm23 3zm2-17zm29-2zm1 16zm10-17zm1 4zm9 15zm4-24zm32 5zm23-5zm6 4zm1 2zm13 16zm1-1zm1-10zm0-8zm1 3zm0 0zm4 10zm5-14zm2 6zm0 4zm1-9zm1 14zm0-18zm1 27zm3 2zm0-21zm4 14zm2-1zm1-15zm37 18zm2-19zm6 21zm1-13zm5-2zm12 9zm3 4zm43 4zm2-25zm0 16zm3 1zm1 0zm4 1zm2 2zm12 3zm4-9zm-58 22zm-5 5zm-3-2zm-2-11zm-9-1zm-63 2zm-8-1zm0 18zm-6-7zm0-1zm-10-4zm-14 18zm-12-1zm-3-15zm-3 3zm-2 2zm-2 3zm-1 7zm-8-9zm0-5zm-1 14zm-9-17zm-1 16zm-9-6zm-3-13zm-1 16zm-2 2zm-2-7zm-4-2zm0 9zm-1-14zm0 8zm-1-8zm-1-7zm0 22zm-2-5zm-5-7zm-1 1zm-9 8zm0 6zm-2-7zm0-1zm-26 8zm-11-2zm-4-1zm-29-21zm-7-1zm-3 22zm-1-12zm-2 6zm-4-3zm0 9zm-2-5zm0 11zm0-16zm-1 6zm-1 1zm-5-1zm0 1zm-1-19zm-3 10zm-1-8zm-2 5zm0 0zm-5 6zm-2-8zm-10 6zm-1-3zm-8-8zm22 36zm6 17zm6-24zm8 19zm0 10zm1-4zm11-18zm1 13zm12-3zm16 8zm7-1zm3-15zm3 19zm1-8zm3 9zm13-17zm30 3zm2-13zm5 10zm2 10zm2-16zm8 12zm10-9zm2 14zm21-13zm17 3zm0 1zm0 15zm3-24zm5 5zm5 7zm0-3zm1 8zm0-4zm2 5zm1-23zm10 10zm4-3zm3 19zm8-2zm-39 27zm-10-17zm-23 3zm-6 0zm-3 7zm-2 1zm-3 14zm-3-20zm-1 8zm-1-3zm-4 11zm-2-23zm-3 18zm-1-20zm-1 10zm-3 17zm0-10zm-5 9zm-4-2zm-4-15zm-2 15zm-8 3zm-1 1zm-5-18zm-20-5zm-3 2zm0-6zm-1-1zm-4 2zm-12 6zm-29 11zm-8-3zm-11-11zm-19 13zm-1-16zm-3 25zm-1 0zm-7 2zm0-28zm-7 2zm-2 7zm57 45zm6 2zm7-1zm4-2zm9 1zm31 1zm15-7zm0 1zm5 7zm2-15zm11-2zm8-8zm1 9zm0-10zm0 7zm0-2zm3-3zm2 5zm3-3zm10 18zm9-17zm17-6zm-73 40zm-8-6zm-47 11zm-5-9zm-1-4z" stroke="#e85a3c" stroke-width="16"/><path d="M1246 1461zm12 2zm1 29zm-16 4zm-23-14zm-39-3zm-19 6zm-11 43zm4-4zm4-6zm3 1zm2 7zm6-7zm9 8zm16-8zm7 4zm13-23zm5 25zm5-25zm9 22zm44-14zm11 14zm31 4zm4 22zm-5 5zm-5-10zm-10 14zm-2 1zm-20-3zm-9-3zm-5 1zm-1-2zm-3-19zm-25 0zm-14 5zm-1 14zm-3-16zm-4 18zm-6-11zm0 2zm-1-1zm-9 4zm-3 3zm-4-17zm0 10zm-5 6zm-5-17zm-2 11zm-1 1zm-3-9zm0 20zm-10 1zm-1-25zm-3 17zm-1 7zm-7-2zm-14-12zm-1-10zm-5 8zm-7-9zm0 15zm-8 12zm-23-19zm-1 19zm-55-8zm-129 29zm15 3zm6 0zm3 2zm10-13zm0 19zm6-18zm22 8zm3 7zm2 3zm43-5zm6-15zm1-2zm12 4zm5-7zm1 17zm2 5zm43-22zm19 7zm1 14zm4-23zm1 17zm3 8zm13 0zm3-22zm14 23zm3-23zm16 1zm2 12zm0 10zm4-17zm6 5zm2-14zm3 19zm2-5zm3 1zm0-12zm13-4zm1 27zm11-5zm4 0zm10-12zm2 17zm5 1zm1-28zm3 0zm2 26zm14-24zm12 14zm30 9zm12-17zm11-5zm-3 43zm-8-6zm-3 3zm-6 6zm-3-7zm-10-2zm-14-7zm-10 20zm-5-24zm-2 29zm-7-20zm-2 10zm-2-13zm-1-2zm-5 1zm-5-5zm-6 8zm-1 1zm-5 10zm-6 1zm-1-8zm-2 2zm-1 4zm-4 6zm-16-13zm-4 15zm-20-11zm-7 5zm-7-19zm-4 2zm0 5zm-7 3zm-10-2zm-6-6zm-5-3zm0 1zm0 7zm-8 14zm-3-19zm-18 24zm-6-24zm-13 15zm-25 3zm-8-18zm-1 7zm-3-8zm-2 16zm-1-1zm-4-4zm-2 8zm-10-9zm-7 1zm-3-12zm0 19zm0-3zm-7-4zm-15-13zm0 17zm-1-9zm-2-6zm-4 3zm-4 14zm-2-11zm-8-4zm-23 9zm-16-13zm-14 7zm-1 9zm0-11zm-2 13zm-16-2zm-14-3zm-6 23zm21 9zm3 13zm13-16zm7 16zm27 0zm3-2zm41 1zm12-12zm10-5zm6 8zm1 8zm3-11zm3-13zm0 10zm19 11zm9-7zm7-14zm57 25zm0-13zm2 13zm25 0zm8-13zm19 4zm25 1zm5 1zm7-9zm8-1zm3-3zm2 22zm3-9zm3 5zm0-13zm4 12zm3 3zm0-3zm1-3zm3-20zm1 26zm1-10zm4-6zm3-4zm6 17zm16-11zm7-8zm6 2zm22-7zm-16 40zm-15-9zm0 3zm-32 1zm-6 13zm-5-11zm-1-1zm-6-5zm-2 0zm-10 3zm-4 9zm-13-5zm-20-1zm-8-3zm-1-3zm-4 21zm-8 5zm0-9zm-4 4zm-4-3zm-3-17zm-29 2zm-1 0zm-1 3zm-2 10zm-37-3zm-7-9zm-7-1zm-9 24zm-14-7zm-8-6zm-13 6zm-3 4zm0-7zm-3 3zm0-12zm-3 2zm-1 11zm-1 3zm-4-12zm-1-7zm-2 3zm-8 3zm-31-5zm-2 8zm-4 13zm-1-20zm-7 4zm-3 13zm0 2zm-12-14zm-1 11zm-1-19zm0 10zm-21-5zm-14-10zm-1 2zm0 10zm-25 44zm17-15zm10 2zm13 15zm2-2zm13-1zm17 3zm6-10zm0 9zm3-15zm0-4zm0-1zm23 2zm0 15zm31-24zm3 8zm2-5zm6 13zm1 13zm1-2zm4-6zm1 1zm6-10zm5 17zm3-21zm3-6zm0 18zm18-16zm27 8zm5 16zm19-14zm1-5zm4-2zm0-4zm2 11zm1-2zm1 2zm12 0zm1 9zm4-9zm1 15zm2-5zm7 3zm2-16zm7 18zm7-20zm8 9zm14-3zm1 12zm13-13zm10 6zm3-5zm8 0zm3-11zm5 2zm0 9zm11-3zm4-10zm0 3zm3 13zm3 8zm2-14zm1 17zm3-6zm2 6zm4-9zm1-18zm1 16zm1-13zm1-5zm9 25zm-19 5zm-12 6zm-21 12zm-8-9zm-20-1zm-17-8zm-21 0zm-13 1zm-1 6zm-5 0zm-1 14zm-5-5zm-3 8zm-13-9zm-7-9zm-13 17zm-16-12zm0 9zm-4-9zm0-1zm-21 0zm-8 7zm-2 1zm-1 6zm-3-2zm-1-7zm-3 2zm0-3zm-2-11zm0 26zm-5-16zm-3 4zm-2-5zm-2-2zm-1 1zm0 3zm-1 15zm-14-11zm-1-6zm-2 5zm-1-1zm-4-6zm-4 9zm-4 5zm-3-11zm-1 15zm-4-9zm-1-7zm-2 10zm-18-5zm-1-9zm-8 9zm-5-4zm-5-12zm-2 13zm-11 0zm-6 3zm-1 5zm-1-8zm-4 0zm-6 1zm0 11zm-12-21zm0 13zm-2 2zm-2-7zm0 14zm-5-22zm-9 6zm-3-7zm4 35zm1 8zm10 8zm2-16zm2-8zm12 22zm1-7zm3-16zm6 23zm4-2zm1 6zm6 2zm5-10zm7-18zm1 17zm4 2zm8 9zm10-4zm2 0zm5-2zm10 5zm5-16zm4-3zm5-9zm16 0zm20 10zm0-9zm2 1zm0-2zm35 0zm13 13zm2-4zm1-5zm1-3zm2 14zm7 8zm11-3zm8 4zm0 3zm2-7zm5 0zm8 8zm0-22zm6 15zm1-1zm0-18zm1 17zm4 10zm2-22zm5 20zm3 20zm-1-4zm-12 4zm-4-17zm-26 0zm-1 21zm-5 3zm-3-15zm-2-4zm-6-4zm-36 25zm-9-12zm-8 15zm-2-8zm0 7zm-3-5zm-1 3zm-2 3zm-5-8zm-9-1zm-16-13zm-25-3zm-7 12zm-1-15zm-9 18zm-11-9zm-14 10zm-4-10zm-5 12zm-1-15zm-2-3zm-24 10zm-2 11zm0-23zm-6 9zm-7-10zm-5 16zm-4-2zm18 30zm2-8zm19-2zm2 22zm1 1zm23-1zm0-2zm1-19zm3 12zm1 7zm7-17zm2-3zm8 16zm45-15zm15 9zm4-9zm1-5zm3-1zm6 2zm2 0zm5-1zm13 7zm42-2zm-100 32zm-52-4zm-8-2zm-3-1z" stroke="#d63a30" stroke-width="16"/><path d="M1246 1466zm3 32zm-4-26zm-1 21zm-15-13zm-13-6zm-11 3zm-6-5zm-14 8zm-4 13zm0 4zm-2-17zm-4 6zm-32 42zm1 1zm8-2zm2-18zm5 10zm0 4zm1-1zm0-2zm4-20zm4 29zm0-18zm5 17zm5-7zm0-2zm1-2zm5 6zm1-12zm1-6zm0 16zm1-7zm1 10zm9-6zm70-16zm61 27zm-6 25zm-54-3zm-63-8zm-2 12zm-3-21zm0 18zm0-11zm0-5zm-6 19zm-1-7zm-1-5zm-8 13zm-2-18zm-3-4zm-1-2zm-7 0zm0 5zm-7-7zm-1 13zm-5 12zm-6-25zm-3 1zm-6 8zm-6 9zm0-2zm0 13zm-19-16zm-189 32zm9-5zm5 13zm56 5zm31-2zm19-4zm60 2zm8 2zm11-14zm1 14zm1-16zm1-6zm3 22zm2-19zm0 16zm1 6zm43-7zm4-17zm1 1zm0 19zm21-1zm2 4zm9-10zm28-5zm17 9zm53-17zm-67 53zm-22-2zm-24-23zm-29 5zm-31 14zm-6-17zm-8-4zm-77-1zm-45 9zm-3 1zm-20-10zm-64 2zm-15 7zm-9 25zm134 25zm72-2zm21 2zm20-1zm14-8zm1-1zm3 1zm53-2zm4 7zm6-21zm1-1zm0 8zm4 15zm5-13zm1-1zm7 8zm8-1zm4 3zm3-17zm3 4zm2 15zm2 2zm17-5zm-1 14zm-13 1zm-1-3zm-7 0zm-1-2zm-14 6zm-2-3zm-2 6zm-5-2zm0 5zm-4-11zm-1 9zm-2-11zm-2 15zm-54-6zm-8-8zm-3 1zm-15 16zm-5-18zm-9 16zm-74-10zm-10 18zm-3-11zm-2-5zm-13 9zm-1-13zm-6 24zm-3-13zm-13 11zm-1-6zm-7-19zm-53 20zm-14-15zm0 20zm-1-7zm1 38zm2-6zm7 4zm7-6zm3-19zm55 2zm12 17zm20 7zm23-22zm7-2zm12 20zm9-5zm40 6zm2 3zm5-5zm1-15zm4-2zm1 10zm1-5zm4-8zm11 15zm3 6zm36 4zm20-1zm4 2zm1-7zm1 3zm7-18zm1-2zm3 7zm1 10zm0 8zm2-21zm4 9zm6-1zm7-13zm3 9zm-16 29zm-7-8zm-12 7zm-76 4zm-2-9zm0-1zm-3 2zm-1-2zm-5 10zm-1-10zm-6-2zm-42 14zm-4 13zm-7-1zm-2-8zm0-2zm-7-9zm-1-3zm-3-1zm-7 7zm-25-6zm-3 8zm-1-4zm-1-8zm0 20zm-2-6zm-3 3zm0-15zm-3-2zm-2 20zm-13-6zm-3 1zm-1-6zm-41 13zm-20-17zm-5 23zm-7-6zm-9-9zm-1 11zm-2-10zm-6 9zm-2-19zm-21-3zm-8 1zm5 54zm10-17zm16-7zm2 20zm1-5zm1-14zm2 12zm1 4zm0-4zm2-9zm2 14zm3-21zm5 1zm2 23zm2-17zm5 22zm7 0zm1-8zm11 3zm27-21zm23 5zm23-8zm54 13zm9-4zm15 17zm1 1zm16-16zm10 13zm1 2zm3-6zm9-2zm10 7zm-7 18zm-4 5zm-2-9zm-2 0zm-1 14zm-2-1zm-5-18zm-2 16zm-9-15zm-2 6zm-1 9zm-5-10zm-16 10zm-58-1zm-1 10zm-10-9zm-6 5zm-47-5zm-21-5zm-1 9zm-14-19zm-4 21zm0-9zm-4 6zm-4-4zm-2 1zm-4-16zm0 10zm-7-2zm-1 2zm-1-2zm-5 14zm-1-24zm-4 27zm0-16zm0-9zm-8 17zm-4-15zm-1 15zm13 23zm3 1zm7 14zm3-21zm7 6zm3 2zm0-4zm2-4zm2-1zm3 3zm1 11zm2-15zm88-1zm2 4zm3 5zm5-6zm9 8zm-99 14zm-22 0zm-1 8zm-6-4z" stroke="#bd2431" stroke-width="16"/></g>
<ellipse cx="125.1" cy="152.1" rx="11.6" ry="7.6" transform="rotate(20 125.1 152.1)" fill="none" stroke="#ee22bb" stroke-width="1.35"/>
<text x="193.2" y="140.5" font-size="10.8" text-anchor="middle" letter-spacing="-0.25" fill="#111" stroke="#111">CD39</text>
<rect x="158.5" y="142.7" width="69.3" height="68.5" fill="#fff" stroke="#4a4a4a" stroke-width="1"/>
<g transform="scale(0.1)" fill="none" stroke-linecap="round" stroke-linejoin="round"><path d="M1928 1511zm5 17zm6-1zm6-16zm2 3zm1 10zm9-6zm125 36zm-33-4zm-1 4zm-97-17zm-12-3zm-1-2zm-7 5zm10 65zm-3 10zm-23-16zm-105 19zm-5-13zm-6 3zm-2 2zm-97-8zm-28 9zm-8-9zm0 12zm-8-5zm-4 43zm1-28zm0 26zm1-23zm1 0zm0 24zm1-13zm0 0zm1 0zm1 6zm1 3zm1 5zm0-2zm1-8zm0 0zm1 3zm0-2zm0 6zm3 1zm1 2zm0-3zm2-8zm3-2zm2-4zm1-5zm6 21zm2-11zm1-3zm10 8zm41-10zm52-10zm0 9zm14 9zm4-18zm109 12zm4 5zm2 5zm8 2zm3 1zm2-9zm1-2zm4 6zm8 19zm-2-2zm-10 2zm-1 2zm-5-9zm-101 1zm-141 14zm-6-15zm-7-4zm-2 0zm-10 2zm-2 0zm-2 1zm141 53zm71-2zm2-17zm73-5zm196 19zm-337 27zm-2-1zm-3 7zm-131 23zm132 1zm85 10zm19-1zm5 16zm-4 5zm-4-9zm-3 13zm-18-11zm-22 9zm0 4zm-57-10zm-120 2zm-13 10zm-5 3zm-8-8zm-2-7zm-2 11zm-1-4zm0-19zm-5 9zm2 34zm2-8zm14 7zm3 1zm2-10zm5 24zm3-21zm10 4zm7 15zm1-6zm119-15zm242 23zm3-9zm15 8zm1-7zm1-4zm13-8zm5-3zm0 19zm4 3zm42-17zm-436 22zm-28 1zm572 28zm-154 41zm-11 3zm-44 31zm42-17zm7 0zm56 53zm-3-14zm-5 9zm-6 1zm-2 3zm-1 2zm0-2zm0 0zm0-3zm-2-1zm-1 10zm-11-7zm-2-7zm-19-6zm-31-5zm-66 17zm10 28zm20-3zm3 4zm2 9zm3-7zm3 0zm9-7zm1 9zm1 6zm3-16zm3 3zm2 6zm0 6zm2 0zm8-10zm54-9zm2-5zm5 2zm-84 41zm-9-3zm-5 13zm-8-3zm-4 3zm-7-13zm-7-1zm-2 14zm-1-12zm0 9zm-12 3zm-55 1zm-10-9zm-2-3zm-2 0zm2 19zm12-5zm12 3zm1 12zm39-3zm8-5zm5-7zm2 18zm5-16zm5 16zm2-9zm4 16zm2 0zm1-17zm5 19zm20-24zm-78 37z" stroke="#54509f" stroke-width="16"/><path d="M1800 1529zm103-1zm8 0zm4-4zm4-6zm0 5zm1-3zm2-1zm0 5zm3 3zm3 2zm2-10zm8 2zm0-2zm8-14zm118 52zm-5-27zm-9 10zm-6 12zm-2 3zm-14-11zm-6 10zm-72-11zm-4-10zm-2-1zm-3 12zm-3-9zm-1 9zm-6-12zm-7-2zm0 18zm-8 5zm-4-23zm-3 1zm-6 8zm-2-8zm-12-1zm0 15zm-4 8zm-2 2zm-2 2zm-3-14zm-18 6zm-7 15zm9 5zm7 15zm3-13zm5-9zm17 25zm126-18zm-77 24zm-4 14zm-3-15zm-3 6zm-2 5zm0 2zm0 5zm-1-6zm-4-3zm-8-9zm-106 19zm0 1zm-1-22zm-7 15zm-1-5zm-5 8zm-13-11zm-33 7zm-6-4zm-1 14zm-2-8zm-2 3zm0-7zm-5-4zm-3-8zm-1 5zm-15 7zm-32 5zm-11-1zm-4-5zm-21 4zm-8-8zm-5 29zm6 22zm7-15zm3 7zm5 7zm2-10zm1 11zm8-7zm2-1zm4 8zm2-6zm9-5zm1 4zm33-7zm2-3zm52 1zm10 3zm6-11zm3 3zm13 16zm97 5zm11-25zm3 17zm6-19zm7 8zm6 28zm-4 2zm-2-9zm-3 1zm-3 0zm-3 1zm-6 16zm-14-18zm-32 20zm-72 1zm-67 4zm-7 0zm-31-19zm-1 13zm-2 5zm-22-12zm-2 2zm-3-2zm0 9zm-4-21zm-4 4zm-1 1zm0-5zm-1 2zm-1 6zm30 49zm6-27zm6 3zm0-1zm15 5zm90 19zm44-14zm5 16zm15-11zm3 6zm3-16zm3 11zm1-11zm5-4zm2 6zm13-3zm4 15zm35-16zm5-3zm4 13zm0-3zm198 1zm1 5zm2 1zm1 4zm1-13zm1-2zm0 1zm2 7zm0-4zm0-12zm47 14zm-320 44zm-8-21zm-40-2zm-16 18zm0-13zm-9 7zm-3-13zm-9 18zm-99-21zm-13 18zm-1 6zm-17-11zm-6 6zm-15 19zm11 16zm16-2zm145-16zm2 16zm38 6zm1-20zm10 8zm1 3zm4 6zm0-3zm0-4zm4 8zm2-11zm5 4zm4-13zm2 4zm2-5zm8 18zm23 1zm9 0zm346 28zm-6-17zm-51 7zm-3 11zm-2 1zm-10-1zm-293-11zm-3-4zm-9 8zm-1-13zm-14 16zm-16-20zm0 21zm-8-15zm-28 22zm-18-13zm-3 14zm-11-27zm-1 27zm-5-6zm-11-18zm0 19zm-82 2zm-16-4zm-7-10zm-3-7zm-1 1zm-2-4zm-4 11zm-12-7zm0-4zm-4 25zm-1 0zm-7 2zm-6-12zm-4-2zm41 42zm1 1zm12-14zm3 2zm1 9zm1-17zm2-1zm5-1zm5 20zm6-18zm4 4zm3 13zm3-4zm70-12zm3-6zm63 3zm220 17zm0-8zm0-3zm2 10zm4-9zm4 12zm0-9zm19-7zm6 8zm11 5zm7-13zm71 5zm13-11zm4 0zm0 4zm-118 30zm-2 1zm-6-7zm-3 5zm-3-6zm-7 11zm-374-8zm-11-2zm-8 7zm419 51zm4-4zm22-14zm112 21zm-140 11zm-1 3zm-6-1zm0 5zm0 0zm0-8zm-2-5zm-1 6zm-4-10zm-1 16zm-1-2zm-2 7zm-78 27zm5 1zm36 7zm9-6zm4 5zm3-8zm18-3zm8 8zm3-21zm0 5zm6 13zm4 7zm9-19zm14 1zm8 4zm26 30zm-5 5zm-1-9zm-2 5zm-1 0zm0-5zm-1 16zm-2-15zm0 14zm-5-13zm-12 1zm0-1zm-3-1zm-3 17zm-5-12zm0 0zm-6-14zm-5 12zm-2 13zm-1-26zm-1 21zm0-19zm-2-1zm-1 20zm-1 0zm-1-21zm-2 19zm-67 0zm-13-7zm-18 40zm4-5zm2-19zm8 22zm4 5zm6-19zm1 8zm1 5zm4 2zm1-21zm4 17zm5-1zm5-13zm2 20zm3-1zm0-6zm2-16zm2 16zm3-4zm0 11zm1-16zm0 16zm6 1zm6-15zm64-1zm-69 45zm-5-12zm-8 4zm-3-11zm-7 21zm0-21zm-2-6zm0 8zm-2 3zm-5-2zm-7 18zm-3-23zm-4 1zm-9 8zm-11 7zm-5 5zm-1-14zm0-3zm-4 8zm-12-2zm-5 10zm-16-4zm-10 0zm0 6zm-6-7zm-1 9zm0-16zm-2 17zm-1-13zm-1 3zm-4-8zm9 40zm13-14zm27-4zm23-1zm2 2zm6 1zm2 3zm2 0zm2 9zm3 7zm9 2zm4-11zm5-9zm1 21zm0-16zm2 12zm-20 10z" stroke="#3f6fb2" stroke-width="16"/><path d="M1849 1529zm63-2zm1-1zm1-17zm5 10zm1 3zm0-2zm4-20zm0 26zm15-9zm42-5zm92 46zm-11 0zm-5 1zm-3-3zm-6-7zm-13-1zm-2 4zm-21 6zm-8-8zm-9-11zm-27 7zm-3-9zm-5 4zm-6-8zm0 22zm-1-7zm-11-5zm0-5zm-14 18zm-5-13zm-12-1zm-9-1zm-5 7zm0-2zm-1-7zm-38-1zm-1 19zm-3-18zm-2 4zm-205 43zm26-8zm61-15zm4 26zm0-3zm1 3zm1 0zm50-3zm5-12zm4 12zm10-4zm1 4zm3 1zm47-3zm3-6zm25-6zm27 16zm12-8zm3-14zm2 20zm0 2zm4-17zm4 11zm2-6zm2-11zm0-3zm41 6zm14-7zm6 3zm13-1zm54 6zm3-4zm8-1zm-133 30zm-13 18zm-2-22zm-2 1zm-5 12zm-2-3zm-2 10zm-4-14zm-2 18zm-5-16zm-6 5zm-1-2zm-10-2zm-4-2zm-29 12zm-1-12zm-5 9zm-6 2zm-14 0zm-20-12zm-8 1zm-5-4zm-3 14zm-1-15zm-1 5zm-6 6zm-2 8zm-4-6zm-16-14zm-7 12zm-3-13zm-7 6zm-5-6zm-2 29zm-1-14zm-4-10zm-4 14zm-3-12zm-3 13zm-3 2zm-6-6zm-4-8zm-1 16zm-6-13zm-5 1zm-2 1zm-6-3zm-3-5zm-7-5zm-11 18zm-1-7zm-6 1zm-3-6zm-7 12zm-2-15zm-16 24zm-1-23zm-2 6zm7 27zm54-6zm8 9zm3 16zm8-26zm19 4zm1 1zm8-3zm21 0zm5-1zm5 5zm7 6zm11 2zm17 2zm7-14zm40 25zm36-6zm23-1zm22-5zm297 42zm-105-2zm-5 2zm0-7zm-3 5zm-4-3zm-3 7zm-125-21zm-36 19zm-3-18zm-2-3zm-3 15zm-2-7zm-2-1zm-7 5zm-10 10zm-7-6zm-11-21zm-1 21zm-3-19zm-1 16zm-3-17zm-26 24zm-5 2zm-39-14zm-13 15zm-1-25zm-1 19zm-6-21zm-1 26zm-1 0zm-3-4zm-5-16zm-82 20zm-7-4zm-1 4zm-7-7zm-1-9zm-13 14zm-2-13zm-2 2zm-2-5zm-2-3zm-2 9zm-7-12zm-7 6zm-1 0zm-15-1zm0 3zm-1-8zm0-1zm-5 1zm-2 0zm25 41zm7 8zm1 0zm8 1zm7 2zm0-20zm1 1zm1 14zm7 4zm7-13zm3 11zm20-14zm59-8zm7 19zm18-16zm7 2zm27 11zm14 5zm3 0zm0-8zm1-5zm0 3zm2-5zm3 10zm2-8zm0 8zm0-5zm1 2zm2-4zm0 15zm2-12zm2-13zm1 27zm7-5zm2-1zm4 3zm23-8zm11 8zm9-11zm3 14zm2-10zm0-6zm179-9zm4 3zm3 3zm1 9zm1 0zm1-10zm0-4zm1 19zm0-19zm3 18zm1 6zm0-9zm2 10zm1-4zm0-5zm1 3zm0-7zm1 9zm1-3zm4 8zm3-24zm0 5zm19 3zm33 2zm19 5zm15-18zm5 16zm1-6zm6 15zm2 9zm-103 13zm-3-18zm-6 0zm-2 6zm-1 1zm-6 7zm-70 0zm-1 0zm-6 9zm-152-21zm-2-2zm0 5zm-3 7zm-6-11zm-8-1zm-6 11zm-4 8zm-8-14zm-13 17zm-16-12zm0 9zm-1-8zm-3-1zm0-1zm-2 14zm-2-16zm-4-4zm-2 11zm-1 9zm-4-13zm-2-1zm-3-3zm-11 11zm-5-3zm-3 2zm0-3zm-1-9zm-2 8zm-3 8zm-2-3zm-104-4zm-2 15zm0-16zm-4 2zm-3 4zm0-10zm-4 2zm-7-4zm-5 11zm-1-1zm-7-5zm-10-1zm2 47zm0-11zm3 10zm9-18zm1 1zm8-3zm3 3zm3 6zm0 8zm3-24zm1 23zm1-5zm2 2zm2 0zm0 3zm2-16zm3 12zm72-19zm13 8zm12 6zm6-4zm5 3zm0-3zm0-10zm0 12zm0-11zm2-1zm8 21zm1-6zm43-2zm8 0zm1 10zm11-9zm1 3zm0-3zm1 8zm0-4zm2 3zm1 6zm0-27zm3 24zm7-7zm0-7zm5 0zm2 16zm7-5zm1-1zm0-18zm0 22zm1-5zm1 7zm3 3zm0-9zm9-2zm268 1zm41 5zm4-8zm21-12zm7 5zm1-9zm4 22zm2 2zm2-15zm-29 39zm-9-16zm-9 22zm-7-1zm-1 5zm-294-11zm-7 6zm-9-3zm-1-20zm-8 5zm-8 5zm-7-9zm-3-1zm-9 9zm-2 12zm0-16zm-18-2zm-15 4zm-9 19zm-8-17zm-1 8zm-2 2zm-1 10zm-7-9zm-1-20zm-3 26zm-1-9zm-3 9zm-1-1zm-2-4zm-7-12zm-2 11zm0-6zm0-6zm-14 2zm-23-3zm-20 8zm-1 4zm-18-2zm-4 6zm-3-3zm0-1zm-1 0zm-2 1zm-1-10zm-2 1zm-1-7zm0 10zm-5-10zm-14 0zm-12 14zm-9-16zm-3-1zm-1 0zm-16 1zm71 38zm1 17zm4-9zm1 7zm2-1zm3 0zm3 0zm1-19zm6 11zm45 4zm22-19zm3-1zm0 5zm2-4zm0 7zm3 6zm2-6zm3 0zm9 8zm1 7zm6-15zm20-8zm249 27zm11-8zm2-17zm6 1zm3 19zm14-17zm17 12zm5 9zm1 1zm5-1zm46-17zm10 0zm0 4zm3 12zm1-24zm1 20zm0-13zm3 2zm7 0zm10 16zm11-4zm3-5zm20 11zm2-5zm6 5zm-29 4zm-10 4zm-3 10zm-96-9zm-7-6zm-13 27zm-2-9zm-2-18zm-3 19zm-5-2zm-4-16zm-2 8zm-1 10zm-3-10zm-1-3zm-7 9zm-2-12zm-7 13zm0-1zm-1 7zm-4 0zm-1-7zm-7 6zm0 7zm-299-19zm-47-5zm-6-5zm0 0zm-2 5zm-2-1zm-4-2zm-5 2zm-9-4zm387 45zm4-12zm19 19zm4 5zm1-3zm2-7zm1-1zm3 13zm2-2zm22 0zm3-14zm3 16zm1-1zm1-7zm3-2zm0 3zm65 5zm3-17zm1-4zm19 19zm11-1zm-36 27zm-13-10zm0-9zm-52 6zm-2 3zm-5-9zm-3 1zm-2 18zm-3 2zm-4-17zm-4 14zm0-8zm-17 13zm-2 1zm-3 3zm-1-10zm-4-11zm-1 11zm-2 2zm-2-18zm-6 4zm-58 45zm0 2zm69 0zm3-4zm1-8zm1 16zm1-20zm1 18zm1-8zm4 6zm19-7zm13 11zm25 12zm-2 8zm-1-11zm-1 0zm-2 0zm-1 12zm0-14zm-1 14zm-32-17zm-8 25zm-4-25zm-4 0zm-3 2zm-2 1zm0 20zm-2-6zm-1-19zm-1 6zm-3 3zm-29 8zm-9-3zm-9-3zm-3 7zm0-7zm-2 4zm-2 8zm-8-19zm-1 24zm-9-24zm-1 3zm0 1zm-8 19zm-1-23zm-10 13zm-22-5zm-18 8zm-22 4zm-17 34zm55-2zm12 1zm3-6zm0-7zm6 12zm3-22zm2-1zm1 2zm0 5zm16-10zm4 9zm3 6zm1 2zm1-8zm1-9zm3 16zm0-6zm3-9zm2 2zm1 25zm6-10zm3-4zm24-11zm0 16zm5-2zm4 10zm1-4zm2 2zm13-21zm16 6zm0-4zm3 6zm2-3zm1 7zm17 6zm5-13zm2 6zm-9 15zm-29 0zm-16 23zm-38-19zm-39 16zm-4-15zm-7-3zm-3 0zm-8 11zm-6 2zm-37 14zm-5-1zm-5-7zm-11 1zm-1-6zm22 34zm1-3zm8-15zm16 12zm2-2zm10-4zm9 3zm13-10zm14 15zm2 3zm28-3zm10 0zm5 9zm1-6zm3-12zm-35 24zm-65 3zm-10 10zm-1-8z" stroke="#3a8dbb" stroke-width="16"/><path d="M1801 1527zm103 2zm4-4zm54-2zm9 4zm9-2zm33 30zm-10-21zm-4-2zm-4 14zm-24-11zm0 7zm0 2zm-1-1zm-5 0zm-2 12zm-3-21zm0 18zm-2-2zm-4 2zm0-9zm-5 6zm-11 6zm-10-3zm-1-21zm-4 24zm-5 0zm-19-2zm-2 6zm-99-7zm-7-9zm-4 6zm-107 35zm3-2zm5-1zm1-6zm15-5zm31 9zm24 9zm12-11zm3-9zm5 2zm10-1zm4 13zm9-11zm5-7zm1 17zm70-2zm11 7zm1-16zm1-6zm3 12zm2-9zm0 16zm1-18zm5 9zm2 1zm5-3zm2 16zm3-23zm18 13zm9-17zm4 5zm38 2zm15 21zm4-28zm10 10zm18 6zm5-6zm34 33zm-13-2zm-143-9zm0-1zm-11 20zm-10-5zm-4-16zm-3 0zm-8 21zm-3-19zm-24 0zm-3 26zm-60-15zm-3-10zm-3-3zm-5 21zm-2-9zm-3 7zm0-3zm-3 12zm-8-8zm-4 2zm-4-22zm-3 16zm0 9zm-1-18zm-1 2zm-1 6zm-6 8zm-3 4zm-7-11zm-2 3zm0-16zm-4 4zm-8-6zm-1 4zm-1 23zm-2-21zm-2-7zm-1 5zm-1 10zm-10-11zm-1 7zm-18-10zm-4 5zm-1-2zm-32 8zm78 38zm5-10zm4 1zm17-6zm1-1zm1-5zm3 20zm12-5zm9-12zm1 2zm16 24zm69-24zm0 2zm4 11zm9-2zm7 13zm0-2zm4 2zm23-2zm43-2zm9-2zm27 6zm4-3zm0 3zm7-5zm6-7zm132 38zm-6-3zm-4-5zm0-2zm-6 2zm-102-12zm-12 2zm-4 3zm-4 13zm-4-16zm-2 4zm-1 5zm-3-1zm-3-14zm-1 2zm-2-3zm-1 3zm-5 6zm-2-3zm0 17zm-9-5zm-5 11zm-1-16zm-6 10zm-4-2zm-32 6zm-9-9zm-24 6zm-3-13zm-7 11zm-4 1zm-2-22zm-48 5zm-11 6zm-2 1zm-9-10zm-4 10zm-1-13zm-21 9zm-39 10zm-2-2zm-5-6zm-5-4zm-2 8zm-5-7zm-10 19zm-14-22zm-14 0zm-3 18zm-6-21zm-30 56zm26-12zm2 11zm6-1zm1-4zm12 3zm15-22zm7 17zm1 7zm3-13zm0-6zm3-8zm20 24zm55 1zm5 4zm6-27zm24 2zm7-2zm12 20zm5-21zm6 4zm1 2zm12-6zm4 6zm5 7zm3 10zm1-20zm3 0zm1 14zm4-10zm2 17zm0-11zm2 9zm3-9zm10 0zm1-5zm1 2zm3-10zm19 17zm2-12zm9 20zm37-22zm9 2zm11 6zm4-10zm66 23zm19-13zm13 13zm4-20zm8 4zm12 7zm0-7zm3-6zm10 8zm8 15zm4-12zm8 14zm22 1zm2-3zm18 3zm10-10zm2 7zm2-8zm4-1zm1-2zm15 5zm3-1zm2 6zm1-1zm2 3zm4-4zm0 25zm-4 7zm-11-8zm-37-1zm-1-16zm-6 8zm-2-7zm-20-1zm-6 5zm-11 4zm-3-1zm-6 4zm-5-11zm-40 1zm-20 2zm0 4zm-8-3zm0 12zm-6-10zm-1 20zm0-12zm-4-1zm0-2zm-3 0zm-65-3zm-19 3zm-8 5zm-6-9zm0 0zm-17-8zm-21 0zm-5 13zm-2-10zm-3 2zm-4 2zm-3-4zm-3 18zm-3-20zm-5 23zm-2-5zm-6-8zm-5 4zm-19 10zm-5-10zm-11 12zm-2-8zm0-2zm-2-3zm-2 3zm-8 4zm-1-11zm-24 10zm-1 2zm-1 0zm-5 7zm-2-21zm0 17zm0-9zm-1-8zm0 1zm-1-8zm0 22zm-1-10zm-3 4zm-1 1zm0-15zm-3 7zm-1 1zm-1 10zm0 8zm-7-3zm-9-10zm-74 7zm0-12zm-6 12zm0-10zm-1 12zm0-8zm-1 1zm-1-4zm0 0zm-1-5zm-3 5zm-2 6zm-1-19zm-1 18zm-1 5zm-1-9zm-1-10zm-9 14zm0-13zm-2-1zm-4 22zm-5-18zm-1-7zm8 29zm13 25zm2-23zm4 1zm0-4zm2 16zm1 0zm4 5zm0 0zm1 6zm0 2zm1-4zm1-25zm4 29zm1-28zm2 23zm79-24zm6 12zm7 3zm2-13zm5 25zm4-21zm2-2zm3 22zm16 3zm12-29zm8 10zm11 12zm9-17zm5 5zm8 8zm6 2zm27-13zm152 11zm10-15zm0 14zm1-12zm6 8zm1-12zm110 19zm3 9zm14-11zm2 6zm12-16zm1 0zm9 10zm9-3zm8-4zm3 10zm2-18zm1 7zm5-2zm4-1zm1 11zm2 9zm19 20zm-4 2zm-3 9zm-31-8zm-2-9zm-13 1zm-11 13zm-11 4zm-1-20zm-4-4zm-8-5zm-6 4zm-1 22zm-21-23zm-13 20zm-4 6zm-6-20zm-15 18zm-47-5zm-31 1zm-195-22zm-4 3zm-15 5zm-14-2zm-3 7zm-9 0zm-1 0zm-4 11zm-5-4zm0 7zm-5-1zm-1-27zm0 29zm-12-11zm-2 6zm-8 3zm-1-17zm-9 2zm-2 12zm-13 5zm-4-28zm-4 7zm0-4zm-2 15zm-15 5zm-35-17zm-4 5zm-1 2zm-42-11zm-2 7zm64 45zm2-19zm16-1zm5 4zm6 13zm21 4zm20 1zm2-15zm11-2zm9 1zm0-5zm4-4zm4 3zm280-4zm39 28zm21-26zm15 9zm4 0zm3 12zm2 2zm5-15zm6 18zm12-21zm8 14zm4-4zm3 3zm0-2zm4 1zm2 9zm0-29zm4 3zm0 1zm5 7zm6 12zm5-23zm2 11zm12-8zm12 17zm12-9zm-10 21zm-6-1zm-1 3zm-1 24zm-4-20zm0-4zm-1 9zm-20-11zm-5 9zm-11 5zm0 9zm-14-24zm-2 27zm-4-28zm-19 13zm-9 11zm-22-7zm-4 11zm-1-2zm-7-14zm-1 2zm-1-1zm-6-6zm-9-5zm0 16zm-1 7zm-1-22zm-6 4zm-1 6zm-7 15zm-1 1zm-7-19zm-2 6zm-5 13zm-299-20zm-39 4zm-21-8zm-10 10zm0-10zm-1-3zm-3 6zm-1-2zm-5-4zm376 30zm6 10zm1 8zm3-20zm3 7zm3-3zm4 4zm3 4zm3 3zm2 13zm5-4zm6-9zm17-13zm1 14zm5 3zm3-19zm15 13zm3-12zm32 22zm1-13zm2 8zm4 10zm1-16zm4 11zm13-14zm0 8zm2-6zm6-11zm7 8zm8 0zm-28 42zm-2-6zm-5 4zm-2-8zm-1 8zm-2-9zm0-3zm-1-3zm0 4zm-4 20zm0-20zm-1 1zm0-1zm-5 11zm-2 4zm-6-1zm-11-3zm0-5zm-3-8zm-14 23zm-6-26zm-15-1zm-9 9zm-15-3zm-9 1zm-88 47zm7-2zm6 6zm5-2zm3-14zm1 10zm51-2zm4-6zm2 4zm16 0zm1-5zm10-2zm3 7zm2 5zm9-2zm31 1zm1-15zm2 20zm4-21zm5 14zm24-15zm2-6zm5 2zm3 2zm5 6zm-37 26zm0-2zm-2 4zm-9 12zm-3-6zm0 10zm0-17zm0 0zm-1 4zm-2 8zm0-14zm-52-4zm-1 4zm-1 8zm-1-11zm-4 26zm-34-23zm-18-2zm-5 12zm-1-15zm-5 4zm-7 10zm-5 10zm-5-22zm-3 0zm-2 18zm-3 2zm-2-1zm-7-7zm0 7zm-2 6zm-15-3zm-4-3zm-21 0zm-2 0zm-13 35zm38-24zm1 22zm1-23zm2 22zm0-6zm7-17zm0 28zm1-6zm1-5zm0 9zm1 2zm2-5zm1 5zm3-11zm6-16zm0 27zm1-25zm1-1zm2 0zm0 10zm4-11zm3 8zm1 1zm9 7zm22-4zm32 14zm14-7zm19-6zm0-2zm16 14zm10 0zm7-26zm-36 35zm-15 2zm-3-6zm-2 0zm-5 27zm-13-3zm-69-3zm-8-20zm-9 5zm-1 10zm-20 8zm-7-3zm-1-7zm-25-15zm24 35zm11 1zm51 19zm17-2zm1 2zm19-6zm5 9zm8-2zm-45 6z" stroke="#4fa6b4" stroke-width="16"/><path d="M1994 1522zm9 24zm-11-9zm-11 8zm-4 8zm-2-1zm-5-16zm-2 2zm-1 5zm-6 4zm-9-4zm-8 13zm-137-19zm-3 4zm-2 8zm-7-3zm-3 7zm-5-2zm-93 29zm3 4zm0-1zm1-13zm20 15zm8 4zm28-9zm6 7zm19-12zm14-5zm2 0zm14-5zm64 20zm4 1zm17 0zm3 3zm5-4zm5-22zm2 23zm2 2zm35-19zm6 8zm0-12zm13-4zm1 23zm36 5zm2-2zm14-3zm4-14zm0 12zm6-5zm41 7zm11 23zm-39 4zm-15 3zm-9-18zm0-3zm-2 9zm-3 7zm-12-6zm-13 8zm-25-18zm-7 8zm-4 15zm-34-25zm-11 13zm-10-9zm-7-4zm-4-1zm0 8zm-6 2zm-4 5zm-8 6zm-11 6zm-3-1zm-72-14zm-12-2zm-3-1zm-3 1zm-17-8zm-15 6zm-31 47zm7 3zm3-2zm33-13zm10 11zm3-5zm17-9zm6 8zm1 8zm84-23zm2 1zm1 24zm13-1zm0-10zm77 2zm16-1zm3-10zm1 17zm5 4zm1-29zm5 12zm4 12zm3 3zm2-16zm1 8zm2 8zm9-8zm5 5zm5-15zm2 15zm189 34zm-74-6zm-16-14zm-3 21zm-3-2zm-23 2zm-1-3zm-7-3zm-66-22zm-15 4zm-1-1zm-7 9zm-4-11zm-3-2zm-1 2zm-2-1zm-2 4zm-10-1zm-4-1zm0 10zm-10-9zm-3 4zm-2-7zm-62 15zm-15 5zm-3-17zm-1 2zm-2 11zm-82-13zm-15 4zm-1 17zm-1-5zm-2 1zm-6-3zm-4-12zm-2 3zm-2 7zm0-7zm-2 12zm-9-3zm-21 6zm-39-2zm-58 34zm12-4zm5-11zm0 18zm4-1zm6-15zm4 13zm8-17zm1 19zm12-3zm13 2zm5-15zm2 16zm1-22zm0 4zm5 8zm3 1zm26 7zm2-17zm29-1zm12 2zm3 12zm6-10zm8-4zm73-4zm4-1zm14 26zm3-6zm3 3zm2 3zm4-23zm4-2zm1 23zm9 2zm4-9zm3-11zm3 13zm25-7zm0-6zm3 5zm6 6zm4-7zm8 2zm11-11zm5 19zm7-18zm1-2zm4 17zm2-13zm1-2zm3 11zm0 12zm16-26zm63 4zm3 21zm9-24zm4 17zm17 3zm5-11zm3 8zm0-8zm28 13zm12 1zm35 2zm22-16zm14 10zm6-15zm1 25zm-5 1zm-5 13zm-2-12zm-2 14zm-1 9zm-1-27zm-13 1zm-2 2zm-11 7zm-1 10zm-4-11zm-4 2zm-8-7zm-2 4zm0 17zm-2-6zm-11-3zm-1 0zm-6 11zm-17-26zm-23 0zm-1 4zm0 3zm-20-4zm-20 9zm-3-6zm-3 0zm-1-7zm-8 12zm-6-7zm-1-1zm-4 8zm-2-4zm0 1zm-1 6zm-3-15zm-44 10zm-30-1zm-2 0zm-24-8zm-41 3zm-12 3zm-6 9zm-44 12zm-3-4zm-3-15zm-44 6zm-3-12zm-2 10zm-1-11zm-1-1zm-2 14zm-4-3zm-2-11zm0 11zm-1 2zm-10 4zm-9-2zm-1-8zm-14 5zm-6-1zm-38-5zm-1-1zm-11 17zm-2-9zm-1 3zm-8 3zm-9 6zm-1-23zm-2 5zm0 0zm-13 5zm-5-8zm-5 12zm-4-14zm54 46zm0-12zm2 13zm38-11zm12 3zm8 11zm0-11zm17 15zm22-25zm0 20zm20-13zm28 4zm2-4zm2-8zm2 14zm6-1zm209 12zm4-22zm2 3zm1 1zm70 14zm13 2zm3-12zm1 5zm9-17zm5 19zm11-16zm5 10zm1 0zm12-6zm15 8zm7 9zm4-19zm0 11zm10-6zm26 37zm-4-17zm-3 1zm-1 12zm-5 6zm-8 9zm-27 0zm-23-15zm-9 3zm-16-8zm-2 13zm0-7zm-2-9zm-1 13zm0-18zm-4 20zm-2-10zm-34 2zm-12 13zm-10-5zm-1 2zm-3 2zm-1-8zm-9-10zm-6 12zm-2-11zm-9-6zm-6 8zm-1 12zm-14-3zm-253-8zm-1 10zm-7 6zm-14-14zm0 10zm-5 6zm0-9zm0 0zm0 5zm-7-17zm-10 4zm-1-5zm-7-1zm-2 15zm-2-20zm-4 2zm-6 14zm-1-15zm-5 7zm-15 2zm-3-5zm70 43zm1 4zm3-21zm2 14zm1-4zm3-5zm5-4zm7 0zm5-1zm1 0zm252 18zm4-18zm24-1zm16 1zm38 0zm11 15zm5 11zm9-14zm4 0zm1-5zm1 13zm3 1zm6-6zm1 8zm5-6zm1-11zm2 15zm2-22zm2 4zm6 0zm2-4zm2 19zm28 9zm1-21zm1 13zm6-7zm7 16zm7-7zm8-19zm9 4zm-27 39zm-13 7zm-8-14zm-17-6zm-3 9zm-2-9zm-14 2zm-8 15zm-3-11zm0 3zm-20-7zm-9 1zm-42 15zm-5-9zm-14 10zm-2-2zm-310-20zm-13 8zm-8-1zm-7 2zm320 38zm4-6zm10 2zm5-5zm6 11zm17-4zm2-12zm4 22zm1-14zm22-6zm6 4zm6 8zm19 0zm5 9zm1 3zm1-8zm5-11zm0 9zm4-8zm1 11zm2-5zm7 4zm2 3zm3-18zm2 13zm1 1zm4 6zm4-22zm5 14zm5-11zm11 9zm3-13zm7 17zm-24 28zm0-9zm-5 13zm-3-14zm-2 16zm-4-10zm-4-6zm-4-1zm0 8zm-2-6zm-1 0zm-4 6zm-1-6zm0 5zm-5-10zm-4 9zm-1-9zm-5 11zm-4-14zm-13 9zm-5 2zm-34-5zm13 40zm42-5zm15 8zm6-2zm16-11zm6-3zm-37 34zm-1-5zm-5 13zm-8 8zm-55-17zm-94 2zm-22 16zm-10-8zm-81 4zm-17 7zm52 26zm6 5zm9-7zm4-11zm3 17zm7-5zm3-2zm5-11zm6 12zm0 4zm6-5zm9-4zm1 5zm1 4zm3-16zm3-7zm27 1zm77 21zm51-19zm8 1zm-58 35zm-11 2zm-125-5zm-7 12zm-8-11zm-1 9zm0-13zm107 49zm20-4zm1 10z" stroke="#74c4a8" stroke-width="16"/><path d="M1985 1537zm0-1zm-1 15zm-6-10zm-8-3zm-171 8zm-4 4zm-7 7zm-8-9zm-1 8zm0-3zm-76 30zm4-13zm0 19zm6-18zm77-4zm9 4zm82 16zm64-2zm2-4zm2-5zm28 2zm4 5zm12 5zm12-18zm0 3zm14 11zm7 4zm0-10zm5 8zm1-13zm24-1zm18 35zm-2-6zm-10 5zm-2-3zm-2 1zm-3 0zm-5-3zm-14-7zm-3-4zm-2 8zm-7 1zm-2 8zm-1-17zm-2 29zm-1-20zm-1 14zm-4-11zm-1-3zm-1-6zm-3 3zm0-2zm-6 1zm0-3zm-3 26zm-1-25zm-4-3zm-7 22zm-2-3zm-6-5zm-6-12zm-15 16zm-8-11zm-60-4zm-31 15zm-7 8zm-109-26zm-54 2zm58 56zm4-1zm1-3zm0-7zm108 3zm10-14zm8 8zm3-7zm81 13zm2 4zm4-9zm1-4zm6 17zm0-10zm2-8zm2-1zm1-2zm0-3zm4 14zm0-7zm1 9zm3 5zm2-9zm4-4zm2 9zm5-1zm2-3zm5-10zm5 15zm3-17zm1 18zm13-10zm10 8zm3-14zm-17 29zm-1-3zm-15 5zm-20-2zm-8-3zm-108 1zm-2 3zm-83 10zm-1-2zm-6 13zm-3-13zm-7 3zm-2 9zm-2-4zm-2 3zm0-15zm-1 9zm0 2zm-3-13zm-2 4zm-2-12zm-1-1zm0 4zm-8 8zm-5 10zm-43 3zm-59 29zm6-7zm116-10zm1 16zm0-21zm1 1zm8 24zm4-6zm174 0zm1-7zm10 6zm11-5zm8 0zm11-5zm1 18zm6-10zm2-15zm0 16zm3 1zm1 9zm0-14zm10-4zm46-1zm38-10zm101 10zm33 18zm1 12zm-1 13zm-6-23zm-4 23zm-3-17zm-4 10zm-5-5zm-6 8zm-1-17zm0-1zm-1 0zm-2 9zm0-9zm-4 2zm-5 16zm-1 10zm-1-16zm-3 15zm-1-13zm-1 0zm-2-6zm0-1zm-2 13zm-3 5zm-9-17zm-6 14zm0-4zm-7-11zm-10 16zm-10-10zm-7 7zm-10-6zm-3 6zm-3 2zm-8-16zm-18-1zm-6 21zm-40-5zm-2-9zm-1-8zm-30-5zm-16 2zm-17 16zm-16-17zm-6 3zm-177 7zm-10 9zm-2-1zm-4-8zm0 4zm-1 3zm-1-6zm-2 5zm0-7zm-5 0zm-4 9zm-8 9zm-4-9zm-20 4zm-1-6zm-1-9zm-8 9zm-5-4zm-25 9zm-40-21zm47 46zm7-10zm12 14zm1-4zm18 8zm5-1zm10 4zm4-25zm10 7zm4 14zm3-1zm82-19zm203 6zm5 0zm5 6zm0-12zm0-3zm4 15zm0 12zm2-23zm1 18zm2 6zm2-17zm4 11zm20-14zm49 4zm15-4zm3 11zm1 9zm5-18zm1-9zm1 20zm0-2zm5-7zm2-5zm3 1zm3-4zm3 13zm17-10zm0 14zm5-5zm2-13zm0 12zm-32 32zm-2-8zm-7 9zm-2-16zm-1 2zm-6 24zm0-23zm-1 13zm-6 7zm-43-14zm-3-2zm0 2zm-11-7zm-3 12zm-2-1zm-2-8zm0 4zm-8-1zm-3 3zm-3 15zm0-13zm-3-11zm-3-1zm-2 6zm-6 12zm0-16zm-2 11zm-5 0zm-299 24zm10 8zm1-18zm1 5zm14 5zm275 15zm9-1zm9-24zm2 13zm79 8zm0 3zm1-23zm7 18zm0 9zm5-14zm1 5zm2-20zm2 14zm3-14zm5 28zm0-2zm5 2zm7-7zm10 6zm-8 8zm-16 10zm-1-8zm-1-6zm-1 1zm-18 7zm-1-7zm-11 18zm-55 5zm-8-23zm-1 14zm-11-15zm-4 18zm-8-12zm-2-5zm-1 1zm-4 3zm-297-2zm338 50zm4-14zm14-10zm59 8zm11-4zm9-1zm1 20zm3-11zm4 13zm6-5zm13 3zm-11 32zm-6-25zm-2 24zm-9-24zm-7 24zm-1-13zm-6 8zm-18-3zm-2 25zm49-5zm-29 38zm-276 13zm-18-14zm-2-10zm79 51zm17-22zm1 7zm1 1zm7 17zm138 14zm-1-1zm0-9zm-8 21zm-138-22z" stroke="#a4d9a4" stroke-width="16"/><path d="M1694 1581zm89 3zm179 2zm6 2zm9-5zm5 5zm10-1zm1-2zm9-4zm4 7zm30-13zm24 11zm12 27zm-9-3zm-1-11zm-19-6zm-1 7zm-5-3zm-2 17zm-1-3zm-1-16zm-3 20zm-1-7zm-6-5zm-8-10zm-2-2zm-3 18zm-2 9zm-1-24zm-2 14zm-4 7zm-4-25zm-2 20zm-1-11zm-3-1zm-1 1zm-5 19zm-3-20zm-3 12zm-4-5zm0 3zm-4 0zm-1-14zm-3 2zm-7 22zm-229 24zm15-1zm116-15zm117 17zm0-16zm4-3zm1-1zm9 10zm1-12zm0 9zm5-9zm2 3zm4 7zm0 3zm18 12zm14-21zm8 3zm20-8zm-31 31zm0 3zm-16-1zm-22 15zm-221 3zm-5-5zm-6 9zm-2 0zm-7-1zm-4-7zm0-10zm-12-4zm15 30zm7-3zm11 16zm1 13zm2-23zm2 13zm179 7zm1-2zm19 1zm4 2zm1-7zm16 2zm6 4zm2-14zm5 9zm3-19zm2 18zm2-2zm1-13zm18 21zm12 2zm166 3zm-9 13zm-8 14zm-8-14zm-12-6zm-6 20zm-1-13zm-2 10zm-9-4zm-48-3zm-8 7zm-3-4zm-44-21zm-59 6zm-46-6zm-212 26zm-11-2zm-4-1zm-28-22zm-1 1zm-1 12zm-3 15zm-59-25zm64 27zm1 17zm16 6zm6 1zm7-2zm6 5zm1-8zm12-11zm293-8zm6 24zm1 3zm1-9zm7-11zm2 18zm2-23zm6-1zm6 12zm1 13zm10-3zm9 4zm1-27zm2 6zm16 20zm7-27zm7 18zm4-13zm17 15zm9-3zm2-4zm1 9zm8-17zm1-3zm24 28zm-21 18zm-1-3zm-2 1zm-3-14zm0 19zm-1-1zm-2-4zm-11 3zm-33-12zm-15-2zm-12 8zm-8-1zm-5 1zm-8-7zm-11-1zm-3-4zm-2 3zm0 23zm-1-27zm-9 50zm15-2zm12 21zm-2 17zm-8-7zm-2-6zm-9-4zm-149 109zm7-7zm15 22zm-6-4zm-11 3zm-5-11zm-6 27zm-1 0zm-8-26zm-7 9zm-6-11zm33 33zm62 3z" stroke="#d2ec9e" stroke-width="16"/><path d="M1945 1480zm21 108zm25-17zm58 19zm-2 20zm-3-6zm-3 15zm-63-17zm-7 12zm64 29zm14 17zm-10-5zm-19 14zm-7 8zm-240-4zm-15-6zm251 36zm2 6zm1-6zm7-23zm5 26zm4-1zm100 23zm-4 9zm-21 0zm-62-1zm-76-12zm-18-14zm-203 24zm-11-2zm-39 37zm7 0zm8 0zm10-4zm17 4zm272-11zm31-10zm5-8zm3 28zm4-9zm1-19zm2 29zm0-13zm3-14zm0 27zm34-29zm62 27zm10-18zm-109 31zm-1 12zm0-16zm-4-1zm-3 14zm-3-18zm0 23zm-19 23zm6 2zm127-18zm0-1zm-87 41zm-1 9zm-2 3zm0-9zm-1 2zm-7 4zm-2-6zm-2-4zm0 10zm0 8zm-7-24zm-5-4zm-8 3zm-2 3zm-4 18zm-7-20zm-3 7zm-1 0zm-6-5zm-5 6zm-4-2zm-3 19zm-6-19zm-77 30zm68-2zm13-3zm57 14zm3-19zm4 4zm1 7zm10-5zm0 21zm-179 8zm-11 48zm7-16zm26 18zm24-7zm1 6zm13-3zm-33 27zm0-14zm-2 8zm-4 2zm0-12zm-1 17zm-2 5zm-23-11zm-4-4zm218 67z" stroke="#f5fab0" stroke-width="16"/><path d="M2005 1472zm-64 25zm-6-11zm9 37zm140 25zm-29-1zm-16 5zm-12-1zm-41 65zm-10-12zm51 55zm-21 41zm22-3zm-327 63zm314 4zm19-3zm4 5zm6-4zm6 7zm45 0zm-46 29zm-4-10zm-5-2zm-2-16zm-8 12zm-2 8zm-5-10zm-1-4zm-1 15zm-7 1zm-95 22zm68 12zm27-3zm5 5zm1-2zm7-2zm0-14zm3 17zm7-2zm0-1zm-1 8zm-11-2zm-19 5zm-11 24zm-4-27zm-4 26zm-1-6zm-87 29zm21 1zm34 1zm19 4zm3 1zm0 0zm9-17zm12 8zm48 7zm1-25zm4 25zm4-20zm3 0zm6-3zm2 8zm-67 47zm-3-2zm-2-26zm-8 4zm-45 22zm-31 2zm-3-4zm-50-11zm-4-7zm13 35zm11 7zm10 3zm2-13zm1 3zm3-3zm4 4zm12 2zm2 13zm3-15zm4 3zm39-6zm3 13zm8-13zm7 4zm1 3zm1 11zm22-15zm-30 19zm-32 2zm-5 16zm-2-14zm-13 8zm-3 7zm-12 25zm6-10zm2 6zm0 14zm2-11zm2-13zm5 8zm1-3zm1 15zm1-4zm1-15zm2 26zm2-12z" stroke="#fee999" stroke-width="16"/><path d="M2006 1466zm12-3zm-38 19zm-4-8zm-11 3zm-24 16zm0-14zm-2 1zm7 41zm9-2zm84-7zm10 10zm21 4zm18 3zm-14 14zm-5 9zm-41 1zm0-2zm-73-21zm85 257zm-1-15zm-5 18zm-3 1zm-1-3zm-4 4zm-18-15zm-2 4zm-13-1zm-69 18zm-4-1zm-1 6zm59 17zm7 8zm7-17zm4-9zm1 6zm13 8zm11 4zm4-3zm1 3zm-39 17zm0 7zm-9 12zm-72 3zm-37 29zm35-2zm8-12zm7-2zm17 6zm3 6zm4-6zm10-1zm6-12zm4 19zm0-16zm3 8zm4-7zm2-2zm7 17zm0-9zm3-8zm2 20zm21 2zm6-7zm38-22zm-30 56zm-2-11zm-23-12zm-9 3zm-1 13zm-1-17zm-4-2zm-8 4zm-6 9zm-3-4zm-11-9zm-11 5zm-15 7zm0 8zm-15-18zm-11 24zm-1 1zm-14-17zm0 16zm-3 2zm-9-13zm-3 13zm3 6zm2-4zm1 8zm1 13zm1-16zm2 0zm4 6zm1 0zm1-9zm0 4zm4 0zm0-4zm0 4zm1 10zm0-3zm1-7zm1-5zm0 13zm1 2zm2-6zm2-3zm2 2zm1 0zm4 15zm3-20zm3 1zm0 1zm1-1zm4 3zm8 13zm2 7zm13-11zm2 6zm5 2zm8-7zm4-5zm1 1zm1-9zm3 0zm2 23zm4-4zm4 2zm3-2zm1 2zm23 2zm1-10zm-3 29zm-7-12zm-2 12zm-2-1zm-7-1zm-4 2zm0-17zm-16 4zm-9-2zm-17-2zm-7 8zm-2 11zm-11 28zm1 4zm0 0zm2-3zm4-9zm0 12zm1 3zm1-1zm1 4zm1-16z" stroke="#fdc877" stroke-width="16"/><path d="M1952 1469zm58-2zm-21 13zm-30-8zm-25 19zm-3-21zm-9 15zm53 15zm64 19zm27 2zm14 5zm-1 27zm-35-22zm-20 1zm7 259zm-3 5zm-38 2zm-3-10zm-3 2zm-3 7zm-42-24zm-14 6zm-3 9zm-3 36zm9-15zm1-1zm0 20zm3-8zm31 1zm13-17zm5 12zm9-1zm1-14zm37 7zm-47 36zm-18-4zm-9 18zm-44-11zm-1-7zm-1 7zm-18 29zm48 13zm0-3zm11-16zm7 14zm1-13zm1 11zm0-1zm2 4zm7-10zm3 10zm2 2zm1-3zm0-14zm12 16zm20 3zm25-2zm6 9zm-16 4zm-1 8zm-1 10zm-2-6zm-2-19zm-3 2zm0 9zm-1-5zm-3 5zm-2-6zm-9-8zm-8 0zm-2 0zm0 3zm-1 11zm-4-14zm-4 13zm-6-1zm0-2zm0 4zm-2 1zm-3 14zm-3-29zm0 11zm-2-6zm-1-2zm-6 1zm-2 0zm0-3zm-1 13zm0-10zm-40 3zm-8 21zm-1 1zm-21-9zm-6 1zm-8-1zm16 12zm2 10zm3-6zm5-5zm3-1zm7 3zm1 1zm3-4zm27 20zm21-3zm2 4zm3-3zm27 0zm3-2zm14-5zm4 31zm-6 7zm-2-14zm-7 19zm-17-9zm-5-9zm-1 0zm-3 12zm0-8zm-24 2zm-7 16zm-1-6zm-20 32zm1 0zm16-11z" stroke="#fba25c" stroke-width="16"/><path d="M2006 1461zm13 31zm-17-22zm-53 57zm36-27zm10 25zm43-17zm-53 31zm-22-8zm-3 5zm23 263zm-5-21zm-69 20zm-10 12zm1 6zm3 3zm8-9zm2 3zm0 3zm13 11zm2-10zm10-2zm0 0zm6 4zm7-7zm19 0zm3-8zm2 8zm1 1zm1 11zm-3 10zm-21 22zm-14-9zm-5-14zm-2-1zm-2 1zm0 18zm-1-3zm-7 0zm-1 6zm-3-16zm-6 17zm-6-4zm-3-6zm-16 10zm-11-17zm27 26zm14 2zm3 4zm11 1zm13 14zm1 4zm4 0zm1-7zm2 7zm0-1zm5 1zm0-3zm9-14zm60 35zm-22-9zm-31-7zm-5 4zm-9-4zm0 7zm-2 7zm-1-8zm-4 1zm-13-1zm-38 18zm-8 12zm116 29zm-30 2zm-3 12zm-4-4zm-2-3zm-39 26zm52-4zm1-2zm-74 27z" stroke="#f57d49" stroke-width="16"/><path d="M2009 1498zm-5-5zm-1 3zm-29 32zm53-26zm-46 33zm-25 263zm-67 24zm3 1zm4-3zm9-5zm2 0zm4 9zm1-22zm10 18zm7-16zm11 10zm0-2zm15 2zm12 3zm-26 20zm-3 10zm-1-7zm-8-6zm-18 21zm-3-5zm-3-19zm0 12zm-5-7zm-2 6zm-5 1zm-1 3zm-3-11zm-1 9zm-5 5zm-2 3zm-1 0zm-2-4zm-1-7zm20 31zm41-3zm6-9zm4 23zm2 3zm77 1z" stroke="#e85a3c" stroke-width="16"/><path d="M1997 1505zm-99 318zm21-7zm35-1zm2 12zm1-11zm0 3zm4-2zm5 8zm12-11zm-14 22zm-4 5zm-4 4zm-3 12zm-3-13zm-3-11zm-1 6zm-6 20zm-4-11zm-1 7zm-40-14zm-8 0zm-16 11zm-1-9zm-2-9zm9 33zm12-3zm44 0zm5-2zm1 0zm2 11zm3-5zm4-6zm0 4zm5 9zm7 10zm5-18z" stroke="#d63a30" stroke-width="16"/><path d="M1951 1816zm1 2zm5 2zm7 2zm4 3zm6-10zm-17 30zm-5 10zm-1 4zm-25-3zm-36-15zm-24 2zm76 27zm4 3zm1 9zm6 7zm1-18zm2-2zm13 4zm-12 18zm-3 0z" stroke="#bd2431" stroke-width="16"/></g>
<ellipse cx="201.1" cy="152.1" rx="11.6" ry="7.6" transform="rotate(20 201.1 152.1)" fill="none" stroke="#ee22bb" stroke-width="1.35"/>
<ellipse cx="189.3" cy="186" rx="9.8" ry="6.4" transform="rotate(-38 189.3 186)" fill="none" stroke="#78e826" stroke-width="1.35"/>
<text x="269.1" y="140.5" font-size="10.8" text-anchor="middle" letter-spacing="-0.25" fill="#111" stroke="#111">CD103</text>
<rect x="234.4" y="142.7" width="69.3" height="68.5" fill="#fff" stroke="#4a4a4a" stroke-width="1"/>
<g transform="scale(0.1)" fill="none" stroke-linecap="round" stroke-linejoin="round"><path d="M2497 1586zm38 26zm-7-12zm-1 19zm-4-16zm-4 8zm-4 2zm-2-17zm-5 11zm0 9zm-1-18zm-1 2zm-1 6zm0-6zm0 5zm-3 1zm-2 3zm0-7zm-1 12zm-4-16zm-83 23zm7 27zm5-1zm3-9zm2 2zm1-4zm22 6zm47-17zm3 8zm4-8zm1-3zm8 17zm7-4zm6-13zm3 1zm1 2zm0 7zm0-2zm1-9zm5 17zm0-12zm1 20zm-1 19zm-22-11zm-93 10zm-14-11zm115 50zm0-21zm8 27zm1-2zm463-20zm-9 39zm-448 1zm-1-14zm-1 9zm-2-2zm0 2zm-1-1zm0 3zm-1 15zm-7-9zm0 6zm-2-8zm-4-7zm0 4zm-1 3zm-1-6zm-1 4zm-1 1zm0-7zm-1 6zm-1-8zm-3 2zm-75 15zm-1 4zm-1-10zm0 18zm75-7zm16 0zm442 58zm-50-12zm-9-6zm-2 9zm-91-10zm-362 17zm-19-22zm9 42zm2-8zm8-2zm2 12zm2 8zm1-2zm5-16zm1 16zm1-19zm9 4zm44-3zm3 21zm193-13zm181 13zm5-1zm46 9zm-42 0zm-19 2zm-416-2zm-2 0zm-6-5zm0 0zm-1 3zm-1 12zm0-10zm-1-3zm-1 2zm0-1zm-2 5zm-1-2zm-1-4zm-14-2zm-1 8zm394 42zm58-20zm7 17zm92 3zm6 12zm-158 22zm-37 35zm16-9zm16 1zm2-4zm2-2zm2 4zm5 5zm7 2zm5-12zm9-4zm55 2zm-9 32zm-53-10zm-1 3zm-2-2zm-1-1zm-5-4zm-1 6zm-74 18zm-2-17zm-103 48zm5 3zm2-10zm7 9zm1-16zm1 13zm6 5zm109-15zm10 2zm0 9zm1 0zm25 0zm3 33zm-21-3zm-5-12zm-8 4zm-3-11zm-12 8zm-5 13zm-12 0zm-17-3zm-6-22zm-3 23zm-1-17zm-6-1zm-20 2zm-21 11zm-6-1zm-5 0zm-2-19zm-2 11zm-6 11zm-3-6zm79 14zm7 2z" stroke="#54509f" stroke-width="16"/><path d="M2538 1553zm-91 28zm71 7zm15 15zm-3 7zm0-3zm-19-3zm0-13zm-3-1zm-2 29zm-5-24zm-4 14zm-15-3zm-53-5zm-6 10zm-3-3zm-12-3zm-6 12zm-1-14zm0-9zm-6 32zm6 22zm5-21zm2 6zm3 7zm1 7zm1-23zm1 0zm1 11zm0 0zm1 12zm1-6zm1-4zm0 7zm1 5zm0-2zm1-8zm1 1zm0 6zm4 0zm2-5zm6 7zm2-6zm4 6zm66-22zm5 21zm1-3zm0-7zm1 7zm457 34zm-437-20zm-3 8zm-5 4zm-2-2zm-5-1zm0-16zm-1 8zm-2 15zm-2-3zm-66-16zm-14 0zm-1-5zm-5 10zm-1 2zm-2-10zm-3 19zm-1-19zm-2 0zm-1-2zm-5 5zm-1-3zm-1 2zm-5 0zm-2 0zm-17 52zm49-3zm89-16zm12 3zm416 4zm9 1zm0-5zm12 5zm7 5zm14 8zm1-26zm12 25zm-33 4zm-5 0zm-427 14zm-3 3zm-2-7zm-1-10zm-2 20zm-9-2zm-17 0zm-4 5zm-3-11zm-59 4zm-6-4zm0 9zm-2-13zm-2 6zm-5 4zm-23-14zm-5 12zm30 31zm1-14zm8 23zm6 2zm6-22zm11 22zm49-19zm22 2zm3 2zm6-12zm383 0zm1 17zm12 1zm4-7zm44 35zm-17 7zm-30-21zm-12 11zm-6 5zm-2 1zm0-7zm-2-11zm0 2zm-5 15zm-36-8zm-12 13zm-22-13zm-2-6zm-5 7zm-3 9zm-9-21zm-9 5zm-2 11zm-272 4zm-18-2zm-49 5zm-14-19zm-4 12zm-4 6zm-3-3zm-3 0zm-4-6zm-1 2zm-6-4zm-2 47zm10-15zm4 11zm3-18zm3 20zm0-17zm1 17zm0-6zm0 4zm1-19zm9 18zm6-12zm2-7zm1 20zm31 1zm5-15zm10 8zm0 1zm11-2zm5-7zm156-7zm3 16zm12-1zm8-1zm2-3zm2 12zm1-8zm4-2zm3 5zm4 3zm6-10zm4-1zm99 13zm58-1zm2-15zm9 16zm1-5zm1-20zm3 10zm9-4zm3-8zm10 28zm0-2zm29-18zm18-8zm2 11zm1 9zm10 2zm27-15zm-19 27zm-1 24zm-18-12zm-2 7zm-21-7zm0 9zm-4-22zm-12 25zm-15-26zm-3 7zm-15 0zm-1-7zm-11 18zm-13 8zm-6-27zm-2 11zm-2 1zm-6-6zm-9-5zm0 16zm-1 2zm-6-13zm-2 6zm-1-11zm-5-1zm-9 15zm-3 4zm-109-14zm-8 9zm-186-6zm-7-9zm-13 8zm-3-4zm-5 3zm-52-5zm-1 2zm-2-3zm-14 3zm396 39zm30-10zm27 2zm7 16zm3 1zm10-9zm3-12zm34 20zm5-15zm17 0zm9-6zm6 16zm1-8zm8 0zm6 16zm-93 34zm-56-15zm-4-10zm-1 16zm-1-3zm-205 22zm124 20zm1-3zm5-3zm8 7zm2-5zm3 3zm3-14zm1 10zm14-6zm14 6zm28-23zm5 25zm2-25zm1 4zm0 5zm1 11zm2 8zm3-6zm0-4zm3 1zm1 5zm15 0zm4-7zm4-6zm32 12zm12-2zm3 17zm-1-5zm-2 5zm-10 2zm-1 14zm-3-17zm-2 4zm-1 8zm0-14zm-1 11zm-1-5zm-3 12zm-31-2zm-9-19zm-2 0zm-3 1zm0-2zm-1 22zm-2-21zm-1 3zm0 20zm-7-16zm-30-4zm-17 6zm-12-7zm-4 24zm-3-14zm-8 0zm-2-12zm-3 0zm-2 18zm-1-11zm-72 15zm-24 11zm6 12zm1 4zm0 0zm1 3zm1 0zm3-18zm1 15zm0 0zm1-4zm1 6zm2 5zm2-12zm9 10zm15-2zm34 4zm9-4zm14-2zm4 5zm9-10zm3 6zm2-7zm3-15zm2 2zm1 25zm2-7zm4-3zm1-13zm5 19zm0-6zm0 5zm1 6zm3-11zm3-4zm1-5zm1 13zm0 6zm2 0zm3-2zm7-23zm0 16zm5-2zm4 10zm1-4zm15-19zm6 21zm18 15zm-24-3zm-4 7zm-19 11zm-23-21zm-4 13zm-4-11zm-2-6zm0 8zm-2 3zm-12 16zm-2-3zm-1-20zm-12 16zm-1-7zm-4 0zm-2 14zm-1-12zm-4 5zm-6-9zm-2 16zm-2-11zm0-3zm-3 4zm-3-2zm-9-15zm-2 24zm-12-3zm-1 1zm-1-7zm-7 4zm0-13zm-5 23zm-5-1zm-2 0zm0-16zm-2 17zm-1-8zm0-5zm-10 3zm-2-3zm0 0zm-7-16zm40 35zm46 13zm2-14zm0-3zm8 17zm0-10zm6 17zm14-10zm14-12zm2 13zm9 9zm10-18z" stroke="#3f6fb2" stroke-width="16"/><path d="M2563 1541zm-25 15zm-132 30zm36-4zm11-1zm3 3zm38-5zm3 10zm1 0zm15-9zm6 7zm19-17zm2 32zm-10-11zm-5 8zm-3 1zm-2-10zm-15 2zm-1 22zm-2-24zm-6 28zm-2-21zm-2-7zm-1 20zm0-15zm-2 12zm-2 3zm-12-18zm-7 4zm-30-4zm-1 16zm-1-7zm-2-4zm-1 9zm-2 2zm-4-12zm-4 3zm-8 7zm-15-9zm-1 3zm12 49zm3-1zm2-13zm4 4zm1 3zm4 7zm7-17zm1-5zm8 10zm1-3zm2 3zm1 4zm43-9zm2 10zm8-18zm7 17zm1 7zm1-28zm27 51zm-4-1zm-2 1zm0-12zm-1 14zm-2 3zm0-15zm-1 11zm-1 3zm-2-16zm-3-3zm-2-6zm-2 16zm-54 11zm-11-8zm-1-6zm-4-3zm0 9zm-2-12zm-4-3zm-5 0zm-4-4zm0 23zm-4-13zm-5 2zm-5-9zm-3 1zm-2 5zm-4 49zm13-12zm6 12zm2-2zm8-3zm4 4zm11 0zm0-1zm7 2zm2-3zm4 2zm3-8zm23 5zm3 2zm31-18zm2-5zm6 13zm5 3zm1 2zm1 1zm425-3zm8-2zm5-5zm11 8zm3 2zm0-3zm2 6zm1-1zm2 3zm4-9zm0 5zm1-11zm-8 21zm-7 1zm-2 14zm-1 9zm-1-27zm-1 6zm-15 13zm-1-17zm-3 8zm0-9zm-9 18zm-11 2zm-3-20zm-2 24zm-7-10zm-430 13zm-1-2zm-3-7zm-1-7zm-2 10zm-18-5zm-14-4zm-7 1zm-3 15zm-3-28zm-3 22zm-7-9zm-2 4zm-1-4zm-1 6zm0 5zm-3-11zm-2 5zm0 1zm0-11zm-3 15zm-1-13zm0 15zm-1-21zm-2 3zm0 0zm-4-1zm-3 12zm0-13zm-2 12zm-2 2zm-2 7zm-14-16zm1 28zm15-8zm15 16zm0-14zm2 20zm4-7zm1 4zm0 3zm0-7zm4 5zm1-2zm1 6zm1-25zm3 17zm2-16zm2 23zm2-5zm2 1zm3 9zm2-28zm1 17zm4 2zm1 1zm39-9zm8 0zm14-4zm16 7zm2-5zm386 3zm5 6zm44 5zm2-6zm2-2zm49 37zm-1-4zm-3 9zm-9-11zm-8-4zm-13 15zm-1-8zm-2-9zm-23 13zm-25-24zm-17 18zm-3-2zm-3-14zm0 19zm-1-13zm-1-5zm-1 2zm-7 14zm-8 4zm-10-14zm-40 11zm-4 4zm-2-11zm-4 3zm-2-8zm-8 3zm-2-4zm-5-1zm-2-1zm-3-1zm-2 6zm-6 12zm-97 6zm-32 0zm-4-1zm-11 1zm-128-3zm-9-16zm-2 15zm0-16zm-9 2zm-27 10zm-1-13zm-6 12zm-11-11zm-3 7zm-1 4zm-11-9zm-14 9zm-4-9zm-3-6zm-12 1zm-3-3zm-45 0zm44 43zm4 12zm1 1zm15-16zm13 13zm15-9zm2 5zm7 1zm37-21zm6 11zm5 10zm3-21zm2 14zm1-4zm3-5zm114 17zm4-3zm3-10zm1 6zm3 3zm2-4zm2 0zm4-5zm0 14zm1-22zm1 14zm6-2zm0-11zm9 14zm0-8zm10 6zm2-1zm11-2zm0 4zm6 0zm10 1zm103 6zm0-11zm2 10zm4-22zm4 25zm10-23zm1 4zm4 22zm4-6zm6-5zm8-12zm10 4zm9-6zm9 13zm6 9zm0-13zm7 12zm1-4zm0 9zm2-29zm2 13zm2-2zm0 9zm3 2zm4-22zm8 18zm3-10zm4-4zm10 15zm1 0zm1 8zm3-7zm2 5zm1-24zm3 3zm1 6zm2-7zm4 4zm1 3zm3 13zm14-10zm5-10zm2 14zm0 12zm7-7zm3-2zm12 3zm-10 9zm-12 2zm-1 9zm0-11zm-2 14zm-8-10zm-13 3zm-2 2zm-18 1zm-16-7zm-5 10zm-1-8zm-1-6zm-1 19zm-3-8zm-14 12zm-15-18zm-7 11zm-5 9zm-18 2zm-4-27zm-3 24zm-1-22zm-4 18zm-3-13zm-2 4zm-1-2zm-1 10zm-3-10zm0 18zm-1-21zm-1-1zm-3-6zm-3 10zm-2 6zm0-12zm-2 7zm-3 18zm-8-13zm-6 12zm-1-6zm-67 6zm-27-17zm-3 4zm-5 10zm-18-22zm-2-1zm-2 1zm-12 5zm-9 2zm-4-9zm-2 14zm-3-9zm-13 19zm-132-15zm-20-1zm-35-4zm203 29zm16 8zm1-2zm135 7zm4-6zm8 4zm9-15zm4 19zm2-15zm8 18zm2-7zm5 0zm25-13zm1 14zm1-5zm4 8zm29-2zm5 9zm20-23zm0 7zm1 13zm7 2zm3-2zm2 3zm1-6zm8-10zm0 8zm2-9zm0 8zm2-6zm1-4zm14-4zm22-1zm-39 46zm-7-4zm0 7zm-7-11zm-2 14zm-2-16zm-4 19zm-10-3zm-1-13zm-12 4zm-2 3zm-2-17zm-8 15zm-13-14zm-2 6zm-38 5zm-1 3zm-4-3zm-2 16zm0-9zm0 0zm0-8zm-2-5zm-4 12zm-3-2zm-1-14zm-6 4zm-111 2zm-37 3zm0 8zm-15-18zm-1 26zm-6 0zm-4-2zm5 8zm6 1zm0 22zm0-21zm1-1zm6 10zm17 5zm6 3zm14-2zm4-7zm1-9zm28 13zm11-6zm2 9zm7 2zm8-1zm39 6zm34-16zm8 17zm10-17zm3 7zm9-2zm2 5zm7-7zm1 13zm19-17zm11-4zm23 11zm6-12zm2-6zm13 10zm-35 34zm-2-8zm-11 14zm-1-5zm-2 9zm0-17zm-3 12zm0-14zm0 15zm-7 6zm-3-17zm-2 4zm-11 9zm-1-8zm0-1zm-3-1zm-8-10zm-5 12zm-1-11zm-2 24zm-3-12zm-5-13zm-3 11zm0 10zm-1-21zm-2 19zm-2-13zm-31-5zm-2 14zm-9-3zm-10-11zm-2 8zm-3 4zm-1-15zm-7 21zm-1-17zm-10 0zm-1 4zm-8 19zm-1-23zm-4 17zm-6-4zm-1-3zm-2-9zm0 22zm-4-11zm-11 8zm-4-12zm-47 7zm-9-17zm-2 18zm-16-19zm-7 20zm12 12zm7 8zm2 3zm2-13zm5 8zm2 0zm1 15zm1-22zm18 20zm4-11zm13 10zm11 1zm0 4zm6-5zm2 6zm1-4zm4 4zm3-6zm1 1zm0 4zm1-9zm0 9zm1 2zm1-18zm2 18zm1-25zm2 14zm3-7zm3-9zm0 27zm3-10zm1-6zm8-2zm5-1zm2 7zm1-1zm1 2zm1-8zm1 6zm2-13zm1 17zm0-9zm2 18zm1-9zm2 2zm3-3zm7 7zm2-12zm3-11zm18 9zm11 16zm31-21zm2 6zm4 4zm22-7zm-29 26zm-1 11zm-6-16zm-11 1zm-5 22zm-46 4zm-9-18zm-14-4zm-6 9zm-6-9zm-3 17zm-4-20zm-4 0zm-30 23zm-10-5zm-4-10zm-16 18zm12 5zm5 4zm2-5zm13 4zm3 8zm2-2zm7-9zm3 5zm9 3zm4-4zm7-5zm8 3zm4 3zm0 1zm2 8zm2 8zm1-1zm1-5zm1-11zm15 17zm1-19zm21 10zm5 9zm14-4z" stroke="#3a8dbb" stroke-width="16"/><path d="M2539 1548zm-107 30zm7 6zm9-9zm5 5zm3 3zm1-13zm5 13zm1-13zm3 19zm6-18zm5 14zm22 4zm34-21zm5 7zm-48 23zm-2 14zm-1-18zm-4 4zm-7 4zm-2-6zm-1 23zm-6-13zm-3-3zm-7-8zm-1 7zm-8-12zm0 2zm-4 15zm-11-12zm-3 7zm-12-9zm41 52zm1-24zm8 9zm1 16zm10-26zm5 11zm9 1zm17 8zm32-5zm9-8zm447 50zm-466-4zm-1 2zm-2 2zm-10-14zm-5-4zm-4 8zm0-10zm-7 15zm-5-19zm-10 22zm-38-19zm0 20zm-4-11zm-3 7zm-3-6zm-29-16zm-1 12zm-1-4zm-16 50zm4-6zm5-11zm0 18zm14-3zm5 1zm6-12zm10 10zm8-25zm5 6zm1-3zm0-1zm4 10zm3-2zm8 2zm0 2zm0-7zm23 2zm5 0zm19-6zm7-3zm407 13zm26 16zm12-3zm2-8zm41 18zm-9 12zm-2-16zm-2 23zm-1-15zm-1 13zm-6-23zm-3 17zm-1 6zm-12-12zm-7-10zm0 13zm-1-13zm-6 2zm-1 25zm-1-18zm-1 10zm-4-7zm0-4zm-3 19zm-2-13zm-2-7zm-5-4zm-4 15zm-11-3zm0 7zm0-4zm-1-3zm-378-8zm-1 13zm-56 3zm-4-1zm-10-15zm-17-1zm-1-1zm-1-4zm-11 21zm0-12zm-6 12zm0-10zm-1 4zm-2-3zm-7-13zm-3 14zm-1-12zm-7 11zm-5 3zm-3-4zm-6-11zm-11 2zm5 43zm10 8zm2-16zm1 1zm8-3zm3 3zm2 13zm1-7zm0 8zm3-24zm3 0zm7 21zm1 8zm11-22zm14 10zm6 12zm10-4zm2 0zm5-2zm14-20zm5 6zm4 14zm8 0zm9 4zm125-3zm272-15zm6-1zm3 1zm3-4zm1-2zm4 26zm14-22zm1 1zm5 9zm9-9zm4 16zm4-8zm3-11zm7 10zm8-4zm3 10zm0-17zm3 6zm31 37zm-9-11zm-11-6zm-3 1zm-6 18zm-24-7zm-3-10zm-4 11zm-5 11zm0 1zm-7-2zm-3 6zm0-5zm-1-15zm-8-9zm-3 13zm-8 13zm-1-10zm-6 2zm-9 1zm-9 10zm0-23zm-7 20zm-6 3zm-25-22zm-15 3zm0-5zm0 7zm-14 5zm-6-5zm-9 2zm-3 15zm0-13zm-17-12zm-9 14zm-1 5zm-101-20zm-14 6zm-3 9zm-142 8zm-4-21zm0 19zm-6-4zm-4 2zm-4 5zm-1 1zm0-9zm0 5zm-7-17zm-4 17zm-13 5zm-8-21zm-1-6zm-6 14zm-36 3zm-5-8zm-3 11zm-1-15zm-5 7zm-1-2zm-4-6zm-1 20zm-5 3zm0-16zm0-9zm-12-2zm-12 27zm-6-12zm-1-14zm-2 7zm33 34zm5-9zm8 3zm101 2zm4-9zm110 21zm9 1zm15-10zm6 11zm0-8zm3 4zm4 7zm3-19zm0 20zm9-13zm2-3zm17 8zm9 5zm87 4zm18-1zm1-27zm0 20zm1-4zm7-1zm6-7zm2 10zm4-18zm4 2zm3 6zm12 20zm5-7zm14-21zm0 16zm26 9zm1-25zm4 20zm4-7zm2 15zm10-22zm1 21zm1-6zm2-22zm4 21zm2-12zm0 13zm4-22zm0 18zm3 3zm3-12zm3 20zm0-29zm4 3zm7 0zm10 25zm1-2zm0-19zm29-4zm7 8zm-16 20zm-6 7zm-21-6zm-30-1zm-6-1zm-19 13zm-44 1zm-12 5zm-10-1zm-2-11zm-9 18zm0 4zm-8-7zm-1-6zm-7 1zm0-1zm0 7zm-1 0zm-12 6zm-25-5zm-29 5zm-14-7zm-32 6zm-1-1zm-6-24zm-8 14zm-1 0zm-1-7zm-8 8zm0-14zm-17 21zm-2-8zm-2 3zm0-3zm-2 12zm0-8zm-8-9zm-3-1zm-2 2zm-3-2zm-2 3zm-1-3zm-7 11zm-2-4zm-2-10zm-5 14zm-3-18zm-137 9zm158 21zm1 12zm7-4zm7 14zm8-12zm5-4zm3 12zm18-20zm1 0zm2 11zm1-3zm2 15zm12-16zm11 6zm2-2zm16-5zm13-3zm29 22zm3 0zm15-1zm1-25zm4 25zm5-7zm2-13zm1-6zm5 11zm0-8zm2 8zm6-8zm1 9zm1-6zm0 21zm6-20zm6 17zm1-16zm3 4zm0-2zm5 17zm1-3zm2-7zm1 12zm0-13zm1 8zm2 5zm2-29zm0 25zm1-14zm1 4zm20 12zm3-14zm3 16zm1-1zm4-9zm26-11zm7 2zm0 9zm4-15zm0 7zm1 11zm7 1zm3-5zm1 6zm1-12zm4 7zm1 1zm8-16zm2 23zm8-4zm15 2zm-18 14zm-5 11zm0 2zm-3-14zm-2 16zm-2-6zm-2-4zm-1 4zm-3-15zm-2 8zm-2 4zm-1-7zm-1 1zm-5 6zm-1-6zm0 13zm-5-18zm-1 17zm-3-2zm0-6zm-1-9zm-22 6zm-5 2zm-7-1zm-5-9zm-3 1zm-3-2zm-2 22zm-8-3zm0-8zm-6-5zm-8 0zm-3 18zm-2 1zm-3-11zm-1-7zm0 11zm-4-11zm-3 13zm-83 7zm-2-28zm-10 3zm-1 11zm-12-13zm-2 11zm-5 17zm-1-16zm-8-12zm-6 13zm-11-9zm0 21zm-29-19zm-5 17zm-4 5zm-1-4zm-3 2zm-14-17zm-32-4zm22 24zm2 18zm8-7zm2 10zm2-15zm2 1zm2 1zm0-7zm0 13zm1-13zm3-1zm0 12zm1 16zm2-19zm4-6zm1 18zm3-17zm1 10zm5-2zm2-4zm8 13zm15-4zm17 0zm2-4zm2 9zm3-17zm2 23zm10-15zm1 3zm0 8zm1 3zm14-11zm10 2zm90-10zm62 0zm2 20zm21-8zm19-18zm2 4zm1-2zm6 0zm-38 30zm-14 14zm-1-7zm0-4zm-3 0zm-3 9zm-1 11zm-2-15zm-8 6zm-6 1zm-3 5zm0-2zm0 0zm0-3zm-2-1zm-1 10zm-3 1zm-5-12zm0 0zm-13 11zm-2-5zm-8-4zm-1 9zm-54-10zm-2-3zm-2 8zm-22-17zm-1 6zm-7 10zm-4-5zm-5 3zm0 1zm-21 0zm-3-20zm-1 17zm-14 2zm-3 1zm-29-17zm-2 9zm-4 1zm-1 5zm-1-10zm-11 3zm-11 16zm0-1zm-1 1zm-19-25zm30 42zm30-6zm1 4zm15 15zm7-5zm15 3zm5-2zm9-7zm1-3zm0 8zm5 1zm1 3zm3-22zm2-1zm2 16zm3-16zm1-1zm2 0zm9-2zm6 4zm1 17zm3-21zm20 14zm5-1zm15 5zm26 2zm17-10zm2 4zm3-5zm6 0zm2-5zm5 22zm0-20zm4 4zm1 12zm12-22zm14 7zm-28 23zm-12 11zm-1-10zm-8 21zm-9-10zm-12-11zm-114 13zm-31 12zm-22 9zm12-5zm4 21zm7-4zm41-5zm31 4zm8 11zm2-1zm7-3zm3-12zm2 12zm15-4zm5 9zm4-9zm4 7zm-45 6zm-3 1zm-53 1zm-10 10zm-1-8z" stroke="#4fa6b4" stroke-width="16"/><path d="M2560 1527zm-94 43zm19 19zm8-26zm37 14zm10 14zm-63 23zm-6-16zm0 3zm-2-10zm-3 11zm-7-3zm-1 1zm-3-5zm11 53zm5-2zm7-12zm2-3zm65-9zm0 10zm3-8zm8 10zm3 6zm14-4zm-2 16zm-22-2zm-2 4zm-16 14zm-10 7zm-13-13zm-5 6zm-14 1zm-7 5zm-3 4zm-9-20zm-6 13zm-1-9zm-16 12zm-46 30zm6-7zm5-4zm12-4zm4 13zm12 3zm3-1zm9-3zm3-18zm3 3zm8 2zm3 15zm0-23zm65 6zm399 23zm2-3zm19 2zm22 18zm-10-13zm-15 26zm-3-15zm-1 2zm-1-5zm0-11zm-3 9zm-3-1zm-2 18zm-2-18zm-6 20zm-1-19zm-2 16zm-283-9zm-13 12zm-58-17zm-16 7zm-3 2zm-5-6zm-2 15zm-1-7zm-1-14zm0 17zm0-12zm0 3zm-1-14zm0 7zm-1 14zm-1-10zm-1 5zm-66 5zm-10-6zm-10-16zm-13 13zm-30-9zm-8 7zm-9-11zm-1 2zm29 53zm7-6zm42 4zm6 1zm7-1zm3-15zm4 11zm3 8zm18-4zm32-14zm104-8zm1 17zm217 8zm14-9zm12 4zm9-2zm8-11zm0 8zm2 10zm2-5zm23-4zm17 4zm1 2zm6-20zm0 12zm6-8zm1 7zm21-5zm10-7zm5 6zm1-9zm4 22zm1-4zm1 6zm1 3zm-54 31zm-7-23zm-24 5zm-13 8zm-37 9zm-16-15zm-10 10zm-4-6zm0-11zm-15 13zm-18 3zm-283-3zm-2-4zm-4-2zm-10-2zm-4 2zm-8-1zm-1-5zm-7-1zm-3-4zm-1-1zm-3 4zm-8-3zm-70 13zm-7 13zm-1-16zm-3-9zm-3-1zm-1 0zm-9 14zm161 17zm1 6zm13 15zm250-22zm4 19zm14-5zm6-2zm15 12zm64-12zm5 2zm10 1zm1 8zm18-20zm5 10zm3-1zm5 8zm7-10zm47 17zm8 0zm-74 5zm-125 23zm-3-3zm-67 6zm-17-3zm-25 0zm-3-12zm-9-7zm-1 22zm-4-11zm-10 8zm-4-8zm-1 6zm-10 1zm-6-12zm-13 3zm-3-11zm-8 17zm-4-11zm-7 2zm-4 0zm11 24zm22 14zm18-15zm14 5zm2-7zm3 14zm2-9zm0 20zm5-11zm1-10zm0-8zm4 23zm0-21zm0 4zm2 20zm0-4zm3 7zm1-18zm6 14zm3-17zm2-1zm1 9zm4 9zm3 2zm0-3zm0-14zm3 18zm3-13zm3-8zm2 20zm1-16zm0 15zm12-7zm8 10zm44-29zm5 6zm8-2zm4-2zm28 26zm8-3zm30-16zm31 20zm1-8zm12-4zm13-5zm9 43zm-6-25zm-3 9zm0-3zm-1 1zm-2-5zm-2 5zm0 0zm-3-7zm-3 18zm-2-4zm-17-1zm-3-8zm-41 1zm-3 4zm-86 7zm-7 9zm0-8zm-2-3zm-1 7zm-2-19zm-3 2zm0 9zm-1-5zm-3 5zm-2-6zm-1 0zm-9 18zm-2-26zm-5 0zm-2 0zm-2 19zm-5-19zm-2 13zm-6-9zm0 6zm0 4zm-2 1zm-1-10zm-5-5zm-2 5zm-2 3zm-2 7zm-1-8zm-2-6zm0 3zm-2 0zm-1 0zm-12 3zm-45-2zm-13 23zm0-8zm-9-5zm-3 13zm-13-15zm16 21zm4 17zm1-16zm6-3zm0 9zm2-5zm3 2zm1-2zm0 5zm0-5zm1 10zm0-3zm1-7zm4 4zm5-1zm4 15zm3-24zm9 25zm9 3zm15-10zm1 6zm4 1zm8-7zm3-9zm1 12zm3-3zm7-9zm1 15zm8 2zm28-15zm193-4zm-37 39zm-15 3zm-143 0zm-2-14zm-7 19zm-12 1zm-2-17zm-3 7zm-1 2zm0-17zm-3 16zm-1-10zm-4 4zm-8-6zm-9-2zm-2 19zm-12 7zm0-25zm-1 19zm-9-14zm-5 10zm-2-6zm-3 1zm-4 11zm-23-11zm-4-4zm-12 19zm0-15zm89 27zm2-4zm4 3zm1 1zm4-8zm4 15zm7-17zm12 5zm3-5zm8 1zm3 8zm7-1zm91 4zm25 14zm2-11zm11-9zm-204 69zm72 10zm18 2zm40 4zm-46 0zm-64 9z" stroke="#74c4a8" stroke-width="16"/><path d="M2559 1529zm7 8zm-8 9zm-4 4zm-3 3zm-5-4zm8 21zm12-6zm2 1zm3 46zm-2 4zm-91-17zm1 43zm66-10zm3 18zm345 26zm-301-11zm-27-2zm-11-9zm-4 10zm-3 2zm-60 2zm-5-6zm-1 14zm-4-18zm-2 8zm-3 9zm-1 4zm-11-3zm-9 12zm11 13zm1-2zm81 7zm12 1zm23-22zm56 21zm272 0zm39 20zm-10-7zm-47 13zm-2-3zm-11 3zm-3 2zm-223-16zm-3-5zm-6 22zm-8-12zm-4 8zm-6-13zm-23 21zm-21-7zm-20-4zm-1 0zm-2 7zm-3-2zm-4-5zm-1-12zm-2 8zm-3-12zm0 0zm-147 57zm95 0zm4 1zm52-27zm0-2zm60 14zm11 3zm2 0zm3 9zm1-26zm5 16zm0 4zm5-3zm0 3zm0-10zm8-4zm6 15zm1-1zm0 4zm2 2zm3 3zm2-22zm17 18zm124 1zm19 0zm2-3zm56-23zm21 13zm11 11zm5-7zm2 3zm0-7zm1 16zm5-18zm2 11zm20-9zm12 5zm52-10zm8 1zm-215 23zm-140 7zm-11-9zm-8 5zm-19 16zm-71-1zm-137 1zm-4-3zm0-12zm0 19zm-1-4zm0-19zm-3 25zm0 18zm2-8zm135-2zm2 4zm0-3zm8 2zm9 8zm180 28zm-30 15zm-5-20zm-11 16zm-5-4zm-47-2zm-14 39zm69-2zm1-2zm6 5zm1-16zm1 9zm2 7zm3-1zm1-13zm0 2zm1 6zm2 1zm1 5zm0-3zm0-15zm1 11zm0-1zm1-16zm1 20zm3-1zm3-12zm4-3zm2-2zm4 21zm35-6zm63-14zm29 19zm85 1zm-5 9zm-2 2zm-59 12zm-86-15zm-16 4zm-2 18zm-24-25zm-9 3zm0-2zm-2-2zm-2-2zm-18 11zm-3-8zm-1-2zm-7 0zm0 7zm-1-8zm-67 26zm-9-5zm-8-1zm-2 21zm14-6zm6 7zm0-10zm4 0zm4 14zm0-9zm4 0zm75 19zm179 11zm-172 8zm-3 5zm-5-3zm-1-11zm-27 6zm-10-12zm-2 19zm-2-14zm-47-3zm-7 9zm92 21zm8-1zm8 4zm-44 75z" stroke="#a4d9a4" stroke-width="16"/><path d="M2561 1549zm-7-3zm-4-3zm-4 8zm-4 33zm10-14zm0 12zm2-8zm14 8zm1 4zm3 1zm-8 15zm-4 5zm-3 1zm-5-5zm-2 8zm-4-6zm-3-11zm20 28zm1 21zm331 29zm-9 0zm-4-5zm-1 5zm-200 0zm-96-17zm-6 24zm-1-25zm-8 24zm-7-15zm-2-5zm-20 20zm3 14zm5 17zm7-3zm24-20zm47 18zm7 0zm9 5zm0-21zm4 14zm2-1zm2 8zm170-19zm38-10zm25 5zm20-5zm4 5zm-2 49zm-23 3zm-76-18zm-143 4zm-6-10zm-2 3zm-1 1zm-2 6zm-4 8zm-10-20zm0 18zm-11-4zm-7-9zm-12 19zm-5-10zm-7 9zm-4 3zm-1-7zm-3-6zm-1-3zm-4-3zm-16-1zm-1 16zm0-13zm-6 8zm-6-14zm-3 18zm-2-7zm-147-6zm-4 48zm146-14zm0-13zm0 27zm0-15zm0-11zm4 5zm2-2zm6 14zm10-11zm40 6zm1-4zm2-4zm9 9zm0 6zm4 1zm0-2zm0-1zm1 9zm3-3zm11-17zm1 3zm1 1zm1 15zm1 2zm40-3zm85-7zm7 6zm19-3zm17-2zm3 10zm3 0zm2-12zm2 12zm26-20zm63 3zm11-10zm1 18zm1-15zm87 2zm-95 23zm-102 22zm-45-15zm-15 3zm-6 8zm-3 2zm-1 9zm-5-21zm-71 5zm-2 4zm-1-4zm-1 5zm-2-9zm-9 8zm-1-13zm-13 7zm-13-10zm-3-1zm-11 21zm-42 5zm-21-16zm-4-10zm0 29zm-2-3zm0 4zm1 2zm4 12zm5-9zm16 3zm42-2zm113 15zm15-1zm7 8zm9 12zm-7-3zm0 7zm-13-10zm-25 36zm3 19zm20-2zm7-3zm26 5zm-122 54zm105 24zm-18-4zm-101-13zm115 33z" stroke="#d2ec9e" stroke-width="16"/><path d="M2679 1520zm55 32zm-44-15zm-8 6zm0 12zm-14-24zm-111 21zm-10 5zm1 12zm1 17zm9-15zm3 0zm6 10zm3 9zm-7 15zm0-12zm-1 7zm-6 7zm-10-3zm-2-7zm36 25zm164 18zm11 1zm137 34zm-4 2zm0-7zm-3 5zm-3-10zm-3-7zm-1 21zm-2-12zm0 12zm-3-2zm-24-1zm-7-3zm-266-17zm-7 22zm-3-4zm-11-3zm-7-4zm4 21zm3-6zm31 0zm14 10zm3-11zm2 27zm2-11zm14 5zm2 1zm1-1zm0-8zm2-7zm0 0zm3-4zm0 15zm3-1zm0-5zm5-3zm0 4zm1-9zm1 14zm1 9zm5-13zm2 9zm2 3zm4-2zm7-10zm0 13zm9 2zm4-9zm134 8zm15-3zm16-19zm3 6zm13 13zm25-5zm2-17zm6 5zm1 9zm2-14zm1 19zm0-11zm5 2zm1 15zm0-10zm4-8zm3 6zm0-4zm1 17zm3-19zm3 18zm7 23zm-2-13zm0 19zm-4-22zm-7 14zm-3-18zm-4 7zm-2 6zm-2-7zm-1 1zm-1 4zm-5 3zm-8 0zm-4-10zm-5 13zm-8 9zm-3-6zm-18 6zm-9-20zm-3 0zm-10-2zm-3 10zm-1-15zm-2 4zm-1 23zm-2-3zm-141-24zm-7 4zm0-1zm-3 2zm-7-2zm-6-2zm-38 22zm-17-4zm-3-9zm-2 14zm-3-19zm-5 10zm0-5zm-1 14zm-6-14zm-19 5zm-5-12zm0 49zm7 4zm1-5zm27-21zm8 10zm5 3zm3-9zm1-3zm0 12zm2 2zm6 14zm1-6zm7-13zm5 4zm1 8zm0-4zm2 5zm4 4zm27-7zm7 7zm2-9zm135-10zm5 14zm2-3zm1 9zm2-10zm1 11zm2-13zm1-8zm1 8zm1 10zm1-10zm0 12zm1-26zm6 10zm0-5zm3 6zm1 10zm0-22zm3 26zm10-3zm10-23zm36 4zm34-5zm-105 35zm-2 1zm-4-1zm0-5zm-3 17zm-3-16zm-5-1zm-8 18zm0-6zm-132 11zm-2-1zm-7-2zm-17-10zm-11-10zm-5 24zm-3-15zm0-3zm-2-1zm-6-4zm-12 2zm-8 25zm-7-21zm-6 0zm-20 22zm-2-8zm0 7zm-1-28zm-2 23zm-1 3zm-1 1zm0-10zm-1 24zm0-3zm3-5zm3-1zm5-1zm16 5zm17-6zm145 4zm2 8zm1-8zm1 20zm10 2zm4-25zm5 1zm23 26zm38-3zm18 7zm-5 9zm-1 9zm-2-6zm-31-12zm-17 9zm-7-5zm-5 6zm-16-10z" stroke="#f5fab0" stroke-width="16"/><path d="M2662 1528zm5-3zm3 3zm3-19zm1 15zm4-5zm0-1zm0 5zm3 1zm3 3zm3 2zm11-2zm6-16zm40 25zm-20 1zm-5 4zm-2 9zm-4-7zm-3-6zm-7 19zm-2-13zm-3-9zm-1-2zm0 3zm-1 9zm-10-13zm-3-1zm0 18zm-6 7zm-6-25zm-10 11zm-5 5zm-107 21zm9 19zm131-20zm14-1zm1 1zm1 3zm6-4zm10 21zm69 0zm4-15zm1 4zm33 9zm-9 19zm-10-2zm-1-11zm-7 10zm-225-4zm-5 16zm-12-20zm-1 13zm0-8zm138 45zm27 2zm13 1zm6-21zm7 12zm5 11zm96 32zm-57-25zm-7 5zm-7 10zm-3-18zm-7 7zm-7-1zm-2-3zm-7 4zm0 5zm-12-10zm-1 0zm-13 0zm-54 24zm-37-1zm-1-5zm-4 7zm-1-6zm-4 1zm-49 0zm-29 8zm7 19zm18-16zm25 18zm12-15zm12-6zm3 8zm0 3zm2-5zm3 0zm0 10zm1-3zm1-5zm3-5zm0 6zm0-7zm10 22zm1-2zm4-9zm0-8zm4 15zm1-15zm6 3zm1 2zm14-2zm0 7zm3 6zm5-4zm157 9zm9-24zm4 17zm4-15zm8 4zm5 14zm5-11zm2 4zm0-7zm1 3zm1-10zm9 15zm2-14zm4 24zm0-9zm3 6zm0-5zm0 2zm1 5zm0-11zm0 4zm1 5zm1-3zm1-13zm0 1zm1 5zm16 12zm-1 4zm-19 1zm-24 7zm-10-1zm-3 18zm-7-21zm-8 2zm0-4zm-12 11zm-8-5zm-7 4zm-3 3zm-4-8zm-1 8zm-3-3zm-1 0zm-1-4zm-72 10zm-8-9zm-37-9zm-34 1zm-23 10zm-39-2zm-2 2zm-1 1zm0 5zm-4 0zm-7-13zm-24 41zm11-6zm2 14zm228-22zm4 9zm2 15zm1 3zm2-18zm5-10zm0 4zm0-3zm5 2zm1 2zm2 0zm1-1zm2-2zm1 6zm25 20zm2-28zm4 29zm-41 11zm-2-9zm-2 26zm-1 1zm-3-9zm-1-1zm-2 6zm-12-3zm-5 1zm-3-12zm-9 12zm-24 6zm-9-1zm-104-7zm-21 0zm-15-16zm-34 11zm-3 14zm-3-20zm-1 5zm-1 0zm0 0zm-2 15zm-2-4zm-2-23zm-6 18zm-3 11zm186 11zm6 1zm5 3zm9-1zm2-4zm5-3zm43 12zm19 30zm0-1zm-2 0zm0-5zm-2-1zm-11-7zm-22-2zm-16 1zm-3 5zm-40 0z" stroke="#fee999" stroke-width="16"/><path d="M2663 1529zm8-2zm1-1zm7-4zm0-2zm2-1zm2-19zm0 26zm6-7zm3 9zm5-7zm1-4zm8-3zm1 10zm14-1zm9 4zm102 31zm-19-2zm-10-4zm-22 2zm-10 4zm-9-24zm-26 19zm-16-6zm-1-13zm0 18zm-6-19zm0 22zm-2-12zm-2 0zm-4-10zm-4 5zm-1 6zm-3 11zm-7-23zm-3 20zm0 4zm-17-14zm-10-11zm-2 22zm-2 6zm-37-10zm-2-11zm-4 1zm-1 25zm9 5zm52-4zm28 11zm2-14zm3 19zm19 3zm39-11zm23 4zm4-4zm28 13zm12-17zm-10 30zm-4 5zm-15-11zm-10-3zm-9 9zm-3-9zm-6 12zm-16 16zm-13-2zm-7-6zm0-6zm-4 1zm0 3zm-13-15zm-44 21zm-66 2zm-43-19zm71 50zm37-8zm2 5zm1-4zm7 6zm2-17zm1 18zm3-11zm9-1zm6 10zm21-14zm6 17zm2-18zm2-1zm0-2zm1 0zm0-3zm2 25zm2-11zm0-7zm4 14zm0 1zm0-14zm0 17zm5-16zm1-3zm3 1zm1 8zm5-2zm2-6zm3-4zm1 12zm4 3zm6-13zm2 15zm14-1zm5-2zm9 19zm-10-5zm-5-4zm-8 5zm-1-3zm-7 0zm-3 2zm-2 22zm-11-22zm-12-3zm0 4zm-1 5zm-2-11zm-1 2zm-4 3zm-10-1zm-1 2zm-16 3zm-26 19zm-2-24zm-7-2zm-10 20zm-29 2zm-31 11zm11 12zm5-13zm4 3zm4 7zm6-14zm26 1zm21 5zm1 18zm2-19zm60-2zm7 19zm15 1zm4-21zm20 24zm95-19zm4 14zm5 1zm1 1zm1 16zm-5-8zm-9 0zm-11 0zm-48-1zm-1 4zm-8 13zm-5-12zm-6 9zm-3-2zm-2-12zm-3 26zm-2-21zm-58 4zm-19 3zm-151 47zm27-20zm4 13zm202-22zm15 3zm10 11zm23-7zm-52 40zm-9 4zm-3 5zm0-6zm-6-14zm-16 5zm-180-2zm-17 5zm-9 3zm-2 2zm-2 12zm214 15zm14 1zm1 0zm1 3zm4 7zm18-8zm0 7zm18-25zm2 13zm-1 25zm-1 7zm-3-15zm-8 9zm0 10zm-4-13zm-5 2zm-21-9zm-7 11z" stroke="#fdc877" stroke-width="16"/><path d="M2608 1529zm89-10zm19-1zm23 7zm5-25zm9 22zm88 32zm-18 3zm-2 1zm-5 1zm-7-19zm-1 10zm-7 5zm-7-7zm-2 4zm-20 3zm-9-5zm-9-11zm-3-2zm-8 14zm-6-10zm-7-6zm0 9zm-1-8zm0 2zm0 5zm-2 3zm0-8zm-1 5zm-2 0zm-2 12zm-9-3zm-1-4zm-4 1zm-5-17zm-28 21zm-13-14zm-7 0zm-7-9zm-32 27zm40 32zm7-14zm5 11zm0-14zm18 8zm9-9zm5-10zm4 24zm4-9zm17 12zm2 0zm9-10zm5 10zm1-20zm8 3zm1 16zm10-6zm2 6zm1-17zm1 18zm6-17zm6 13zm2-15zm2 1zm0 12zm4-4zm4-1zm26-5zm19-7zm8-1zm-3 43zm-6 0zm-2-6zm-3 3zm-6 6zm-1-4zm-6-4zm-1 2zm-11 0zm-8-10zm-5 4zm-2 10zm-6-5zm-1 4zm-3 12zm-4-26zm-2 9zm-1-3zm-5-5zm-5 1zm0-3zm-2 11zm-2-10zm-16 5zm-4 4zm-2 2zm-5 10zm-1-20zm-10 24zm-2-10zm-3-7zm-4 15zm-10-14zm-3 10zm-1 0zm-1-20zm-5 13zm-11-9zm-2-4zm-5 0zm-7 12zm0-3zm-43 8zm-6-3zm-6 2zm-4 11zm13 21zm2-2zm2-15zm16 14zm22 11zm11-14zm0-11zm9-2zm10 17zm25 1zm5 1zm6-5zm5 3zm2 0zm8-18zm1 3zm0 26zm10-28zm0 11zm1 12zm4-23zm1 26zm1-23zm0 16zm4-6zm9 10zm2-19zm1 18zm6 3zm7-13zm7-8zm6 2zm2 1zm-46 32zm-4 13zm-4-16zm-3 9zm-4-15zm-2 0zm-4 2zm-5 6zm-2 14zm-3-10zm-10-9zm-2 9zm-1-5zm-2-2zm0-5zm-3 22zm-2-9zm-2 7zm0-8zm-1-2zm-10-4zm-3 6zm-6-12zm-15 0zm-6 17zm-14-2zm-23 4zm32 14zm40 23zm17-3zm6-4zm18 0zm1 3zm0-8zm11-5zm1 10zm0 8zm3-23zm9 24zm4-8zm3-19zm3 9zm3-11zm9 25zm19 20zm-5 7zm-2-9zm-40-3zm-7-8zm-23 7zm-5 5zm-11 3zm-6-9zm0 0zm-1-8zm87 80zm-13 1zm-7 32zm6 3zm1-6zm6 4zm0-14zm1-2zm9 17zm0-1zm18-6zm-6 14zm-1 1zm-5-3zm-8 3zm-2 3z" stroke="#fba25c" stroke-width="16"/><path d="M2765 1466zm4 1zm9 25zm-75 31zm2-18zm0 16zm9-2zm104 11zm-11 24zm0-5zm-20-5zm-25 2zm-8 0zm-10-9zm-4 8zm-10-3zm-74 6zm-14 7zm-31-12zm11 35zm6 6zm22-20zm3 12zm2-9zm0 16zm1-18zm5 20zm9 3zm4 0zm17-2zm0-8zm0 10zm8-6zm25-21zm12 22zm4 0zm4-15zm8 17zm5 4zm1-28zm3 28zm0-28zm16 2zm1 21zm7 4zm46 25zm-25-3zm-6 9zm-7-8zm-1-16zm-3 20zm-4-1zm-9-21zm0 20zm-4-22zm-1 18zm-1-16zm-1 16zm-2-13zm0 22zm0-24zm-3 14zm-4 7zm-4-25zm-2 20zm-1-11zm-3-1zm-1 1zm-3 13zm0-1zm-2 7zm0-9zm-12-17zm-2 16zm-4-12zm-17 1zm-7-4zm-4 14zm-4-17zm-2 8zm0-7zm-2 12zm0 7zm-1-6zm-2-1zm-2-2zm0-1zm-38-9zm-9 9zm-2 12zm-10-1zm-11 6zm-3-1zm-3-23zm-13 15zm21 17zm0 2zm3 20zm1-21zm4-2zm4 2zm1 10zm7 13zm0-15zm3-7zm24 20zm11-7zm41 3zm19-15zm3 15zm13 1zm9-7zm64-17zm-69 48zm-11-3zm-6-15zm-17 18zm-5 11zm-24-18zm-2-2zm-2-9zm-6 1zm-9 17zm-7-15zm-4-1zm-3-2zm-27 4zm-1 2zm-2 11zm65 15zm1 24zm1-13zm2 2zm3 2zm0-6zm16 2zm15-9zm1 11zm2 10zm1-21zm3 23zm2-21zm7-1zm4 7zm3-5zm1-5zm3 16zm0-2zm0 12zm2-25zm0 16zm1 7zm2-14zm0 8zm1-5zm0 5zm3 3zm2 6zm7-24zm10 12zm-31 19zm-43-2zm-3-4zm-7 1zm96 75zm-10 33zm18 15z" stroke="#f57d49" stroke-width="16"/><path d="M2765 1461zm3 37zm-5-5zm-63 0zm0 4zm-19-12zm6 26zm21 16zm25 1zm1-28zm6 12zm14 13zm44-13zm40 41zm-35-22zm-16 20zm-4-19zm-25 0zm-36-1zm-8-1zm-66 15zm-4 8zm-7-10zm-18 41zm12-13zm1 14zm4-23zm1 17zm3 8zm7-15zm1 14zm13-12zm5-11zm4 25zm41-11zm41 11zm12-24zm36 47zm-4-14zm-2 17zm-17-15zm-1-3zm-23-6zm-44 4zm-26 16zm-7-19zm-2 5zm-2-3zm0 5zm-6 5zm-5 9zm-6-17zm-4 12zm-3-16zm-4 0zm-10 14zm-16 3zm8 40zm11-1zm4 2zm15-8zm61 36zm-8-6zm-7-12zm-4 9zm-61-7zm-4-7zm-2 3zm67 35zm4-10zm2 13zm0-6zm3 5zm4 7zm2-1zm2 6zm59-6zm2-2zm7 8zm-15 4zm-49 1z" stroke="#e85a3c" stroke-width="16"/><path d="M2764 1472zm-2 24zm-1-26zm-13 10zm-9 2zm-4-8zm-17-2zm-14 8zm-14-10zm96 32zm39 19zm4 5zm18 3zm-4 19zm-15 4zm-14-5zm-16 5zm-11 1zm-1-2zm-46-16zm-21 1zm-79 21zm-4 29zm17 1zm2 12zm-4-2zm-2-4zm-5-3zm0 8zm-11-5zm-12 4zm44 72zm-41-18zm88 43zm13 1z" stroke="#d63a30" stroke-width="16"/><path d="M2711 1469zm66-6zm-53 14zm-24 2zm-2 1zm-4 6zm-1 5zm63 14zm41 3zm1 11zm10 3zm31 4zm-6 17zm-89-4zm-95 31zm4 16z" stroke="#bd2431" stroke-width="16"/></g>
<ellipse cx="277" cy="152.1" rx="11.6" ry="7.6" transform="rotate(20 277 152.1)" fill="none" stroke="#ee22bb" stroke-width="1.35"/>
<ellipse cx="265.2" cy="186" rx="9.8" ry="6.4" transform="rotate(-38 265.2 186)" fill="none" stroke="#78e826" stroke-width="1.35"/>
<text x="40.9" y="223.4" font-size="10.8" text-anchor="middle" letter-spacing="-0.25" fill="#111" stroke="#111">PD1</text>
<rect x="6.3" y="225.6" width="69.3" height="68.9" fill="#fff" stroke="#4a4a4a" stroke-width="1"/>
<g transform="scale(0.1)" fill="none" stroke-linecap="round" stroke-linejoin="round"><path d="M424 2363zm93-14zm20 11zm24 34zm-8 1zm-157-10zm-11 8zm-29-20zm-144 19zm-34 37zm236-7zm90-14zm11 19zm-50 14zm-3 12zm-8 5zm-38-16zm-14-2zm-57 1zm-197 29zm37 9zm45-12zm21 22zm147-19zm49-9zm151 27zm3 7zm-23 15zm-104-11zm-115 5zm-174 14zm-71 24zm67-11zm32-11zm49 22zm6-3zm90-10zm45-1zm6 12zm14-20zm109 28zm9-12zm72 12zm2-24zm101 51zm-51-20zm-23 18zm-34-12zm-86 10zm-258-17zm-90 18zm-12-21zm-2 7zm-19 36zm5 12zm53-10zm65-15zm106 16zm155 2zm41 7zm120 20zm-40 5zm-25-7zm-25 4zm-39-15zm-82 26zm-1-6zm-9-14zm-197 14zm-3-12zm-9 16zm-93 20zm9 7zm238-1zm32 5zm71-4zm165-7zm-1 20zm-11 20zm-59-19zm-41-6zm-115 30zm125 18zm36 10zm-169 5zm-56 15zm-20 4zm-13 16zm19-8zm13 4zm25 16zm21-9zm49 13zm4-11zm89 10zm0-2zm1 6zm4-5zm43 9zm-20 2zm-35 16zm-58-6zm-3 8zm-4 1zm-49-8zm50 22zm70 10zm21-16zm-110 69z" stroke="#3f6fb2" stroke-width="16"/><path d="M419 2308zm64-7zm1-6zm-31 34zm-51 0zm-21 39zm12-14zm4-6zm0 4zm1 0zm26-2zm2 4zm118-3zm3 31zm-21 2zm-6 1zm-71-11zm-3 2zm-14 6zm-31 3zm-163 32zm109-3zm19-12zm23 16zm0 0zm6 2zm1 2zm2 4zm12-8zm4-17zm55 27zm13-11zm2 1zm18 11zm9-4zm36-11zm-56 18zm-13 1zm-6 18zm-14 3zm-176-19zm-58 21zm-17-14zm-9 8zm-35-13zm-38 20zm2 6zm1 22zm12-15zm4 9zm4 1zm16-8zm45 0zm55-10zm76 6zm55 2zm13 7zm7-4zm31-8zm9 10zm11 0zm0-13zm2 4zm13 1zm7 21zm3-16zm4 2zm23-3zm103 48zm-7-16zm-5 10zm-5-7zm-7 4zm-117 4zm-13-22zm-16-2zm-77 26zm-12 3zm-8-18zm-4 8zm-2-11zm-59 11zm-47 9zm-20-19zm-16-2zm-43-6zm-25 36zm4 19zm5-13zm27-10zm3-3zm15 29zm19-12zm43-16zm13 25zm36 3zm21-11zm20-18zm0 3zm4 5zm14 12zm4-8zm15 12zm36-22zm9 26zm8-11zm2-13zm10 25zm6-24zm23 22zm8-16zm31 5zm12 2zm47-2zm41 2zm4-2zm28-13zm49 0zm16 21zm5-1zm2 31zm0-15zm-12-2zm-33 22zm-19-5zm-12-17zm-61 9zm-43-8zm-3-3zm-4 0zm-4-2zm-2 3zm-71 3zm-11-5zm-60 0zm-11-1zm-4 20zm-70-12zm-21-3zm-12 5zm-1 9zm0-15zm-101 15zm-10 6zm-31-28zm-7 49zm40 9zm2-12zm22 4zm35 6zm0-7zm43-13zm29-6zm67 1zm5 0zm22 17zm106 10zm30-11zm4-16zm7 25zm3-19zm1 20zm3-20zm6 15zm4-18zm111 7zm39 12zm35 31zm-3-20zm-13 15zm-34 3zm-16-18zm-18 5zm-9-2zm-6 13zm-109-5zm-2-5zm-15 3zm-20-11zm-25 16zm-80-18zm-40 12zm-11 15zm-25-8zm-38-5zm-3 6zm0 9zm-3-12zm-37-15zm-60 31zm8 15zm0-5zm10 2zm0 6zm10-14zm72-5zm17 5zm112-3zm19 7zm6-5zm2-3zm38 3zm3 1zm10 16zm39-13zm7 6zm38 7zm48-23zm13 28zm0-9zm11-2zm14-15zm26-1zm0 25zm4-17zm14 49zm-6-11zm-100-5zm-187 4zm-23 9zm-8-11zm-4 15zm-8 21zm80 1zm3 0zm0 5zm1-19zm4-5zm3 15zm3-17zm3 7zm1-1zm3 11zm3 2zm12 9zm0-28zm78 3zm10 16zm42 8zm17-8zm30-1zm9 8zm64-10zm-34 26zm-18-12zm-22 7zm-2-2zm-37 8zm-30 4zm-6-12zm-3 6zm-3-3zm-155 4zm-15 15zm-7-2zm-2-8zm-5 5zm-3 7zm-1-6zm-11-11zm-12 8zm13 34zm3-20zm15-3zm15-1zm2 7zm12 20zm28-22zm15 13zm28-8zm0 18zm87-16zm8 15zm86-17zm-35 31zm-41 8zm-81-6zm-12-13zm-4 4zm-5-3zm-4 13zm-20-7zm-9-2zm-34 16zm-5-5zm-16-10zm25 39zm10 2zm7-4zm10 10zm1-22zm9 8zm7 6zm9 10zm4-13zm14 8zm1 8zm7-20zm2-7zm2 15zm2-13zm17 25zm63-25zm-111 50zm-49-20zm-28 6zm44 48zm15-26zm13-1zm19 0zm6 12zm6 8zm2-1zm4 5zm4-6zm32 1zm9-5z" stroke="#3a8dbb" stroke-width="16"/><path d="M409 2299zm71 1zm2 22zm-85 26zm5 8zm31-7zm8 11zm8 5zm24 4zm4-7zm4 2zm67-9zm-48 29zm-19-8zm-26 7zm-17-12zm-10 2zm-8-1zm-65 20zm-25-20zm-65 7zm-7-1zm-106 47zm1 2zm5-13zm9 6zm9-20zm5 13zm10-13zm5 15zm8 4zm13 0zm15-9zm41-6zm0-4zm15 16zm92-1zm7-13zm38 8zm30-2zm25 17zm6 1zm10-12zm15 5zm27-3zm20 21zm-17 3zm-13-9zm-33 12zm-16 2zm-2 6zm-12-9zm-1 4zm-7 12zm-8-14zm-32-7zm-8-4zm-54 9zm-13 11zm-17-4zm-55 8zm-5-22zm-1 18zm-14 0zm-3-23zm-95 6zm-23 47zm9-5zm22-10zm39-7zm26 17zm4 9zm39-7zm27 6zm54-20zm3 18zm8-4zm50-12zm1-2zm22 22zm16-2zm13-7zm7 9zm4-11zm1-5zm7 15zm6-18zm120 38zm-1 11zm-14-11zm-126-11zm-31 13zm-25-16zm-18 15zm-23 8zm-25-1zm-39-3zm-45-4zm-3-13zm-9 12zm-1-17zm-5 15zm-15-13zm-27 13zm-30 8zm0 0zm-7-13zm-43 35zm38 3zm16 9zm8-10zm6-4zm155-9zm35 22zm45-20zm21-1zm16 0zm138-2zm8 19zm7-10zm1-4zm2 1zm2 3zm91-2zm5 7zm-1 14zm-33 0zm-20 11zm-3 5zm-9-11zm-7 20zm-26-21zm-9 4zm-61 12zm-9-16zm-5 13zm-1 7zm-212-3zm-40-14zm-2 0zm-5-2zm-3 21zm-9-4zm-7-11zm-58 2zm-44-8zm-1-2zm-1 17zm-34 31zm0-22zm4 18zm33-11zm40 8zm23 5zm60-8zm2-3zm44-3zm7 8zm12-6zm1 1zm6 6zm14 2zm13-6zm83 18zm30-20zm26 3zm4 9zm6-8zm9 14zm1-7zm2-1zm13-14zm20 14zm62-19zm3 11zm1 9zm23 5zm14 1zm3-13zm54 9zm20 22zm-37-12zm-25 14zm-3 10zm-2 3zm-23 0zm-34-11zm-6 2zm-51-13zm-5 0zm-49 4zm-20 3zm-115-14zm-22 11zm-21 0zm-47 6zm-14-1zm-3 13zm-10-12zm-60-10zm-16 19zm-16-12zm-47-12zm57 54zm8-23zm6 9zm60-6zm1-4zm114 24zm11 2zm11-27zm0 15zm40-13zm10 6zm7 8zm42-9zm11 4zm16 4zm11 9zm25-17zm36 20zm2-8zm5-6zm49-9zm20 18zm12-23zm25 17zm18 32zm-72-8zm-3-7zm-71 5zm-27-1zm-80 11zm-1-6zm-5-8zm-3 13zm-13 11zm-14-8zm-3 3zm-8-3zm-1 2zm-3-14zm-1 8zm-42-12zm63 41zm7 0zm13 4zm7 4zm22-3zm45-3zm44 1zm30 6zm0-23zm52 7zm7 20zm15 0zm-54 3zm-5 2zm-53 22zm-6-17zm-96 2zm-85 7zm-7 11zm-1-1zm-16 2zm8 15zm10-7zm4 15zm2-22zm39 8zm17 0zm15 19zm30-15zm5 2zm17 0zm1 11zm3 0zm31-14zm20-5zm6 10zm5 11zm4-18zm3 1zm1-5zm31 1zm27 13zm0 39zm-1-22zm-106-1zm-25 15zm-41-4zm-6 6zm-73 2zm-11-5zm-2-15zm21 47zm5-6zm6 0zm5-7zm28 6zm15 4zm15-12zm2 11zm30-17zm1-1zm2 13zm1-4zm22-3zm1 10zm0-1zm1 6zm6-13zm73 10zm-117 19zm-3-2zm-2 20zm-3-2zm-6-11zm-6-11zm-7 8zm-14 7zm-15 12zm16 6zm30 7zm14-2zm2 9zm1-1zm1 9zm0-9zm1-16zm2 24zm9-17zm3 7zm3 5zm0-16zm2 12zm8-7zm9 9zm3 3z" stroke="#4fa6b4" stroke-width="16"/><path d="M379 2361zm27-21zm10 11zm0-3zm1 8zm5 6zm7 4zm4-6zm5 5zm122 19zm-20 4zm-5 0zm-37 11zm-16-20zm-21 19zm-42-24zm-13 12zm-17-14zm-14 4zm-44 18zm-44 1zm-2-2zm-148 30zm5 6zm4-3zm5-18zm43 14zm26 3zm48-9zm3-4zm11 11zm7-3zm6 6zm43-13zm34 3zm2 13zm13-13zm6 10zm0-8zm35 6zm27-11zm16 2zm19-14zm9 19zm10-4zm5 8zm26 5zm10 2zm-14 3zm-32 10zm-11-12zm-10 6zm-4 16zm-22-14zm-3-6zm-46 0zm-4-4zm-123 0zm-4 5zm-31 14zm-16-15zm-3 12zm-77-8zm-8 3zm-12 44zm7-11zm2-5zm3 13zm4-14zm6 10zm2-5zm7-9zm8 22zm9-10zm9-16zm2 29zm40-12zm6 3zm16-18zm24 2zm5 24zm24-3zm46 2zm30-9zm5 5zm28 4zm42-27zm2 20zm3-1zm8 3zm8-13zm2 9zm17 3zm-44 33zm-67-2zm-30 2zm-9 4zm-49-15zm-95 2zm-7-9zm-9 22zm-8-2zm-7 1zm-1-1zm-1-17zm-1-6zm-1 11zm-7-7zm-16 22zm-21 27zm22-8zm2-1zm0 5zm23-5zm2-6zm81 7zm12 11zm23-1zm52-21zm12 1zm0-5zm13 12zm2 7zm3 6zm4-17zm2 11zm2 2zm2-7zm9 2zm7-19zm22 6zm3 1zm9 14zm3 4zm3-10zm3 6zm16-5zm106 1zm30-3zm4 15zm16-16zm0-12zm2 28zm3-7zm3 0zm1-8zm1-13zm1 20zm10 4zm49-3zm10-15zm28 2zm-15 29zm-36-3zm-5-5zm-9 9zm-6 20zm-27-29zm-18 18zm-61 5zm-2-20zm-1 23zm-2 0zm-1-2zm-4 5zm-4-24zm-9-1zm-155 2zm-3 9zm-33-1zm-41 14zm-14-15zm-6 7zm-2-5zm-9-14zm-10 10zm-2-2zm-8-1zm-5-7zm-2 20zm-56-17zm-18 16zm-1-15zm-17 23zm-28 26zm17-9zm18 8zm2 4zm8-2zm5 0zm3-17zm20 0zm16 8zm2 6zm5-8zm19-14zm30 5zm11-1zm9 13zm23 11zm18-24zm45-2zm2 17zm6-7zm133 15zm22-11zm5-7zm1 11zm4-13zm1 10zm2 0zm2-3zm28-14zm56 11zm7-8zm75 36zm-13-5zm-1 24zm-2-12zm-5 8zm-15 2zm-32-4zm-24-22zm-88 9zm-5-2zm-64 19zm-3-1zm-44 4zm-76-28zm-25 20zm-2-21zm-28 11zm-6 9zm-4-19zm-3 17zm-1 5zm-12-1zm-22-7zm-23-5zm-15 0zm-63 6zm-22-10zm62 49zm6 2zm13 0zm49-16zm12 2zm129 1zm58 4zm1-6zm13-8zm36 22zm14-9zm5-9zm8 19zm10-6zm1 6zm4-9zm3 10zm32 0zm22-20zm40 18zm9-10zm2 1zm12 6zm10-3zm16-14zm3-2zm18 20zm30 29zm-63 2zm-76-6zm-15-15zm-25 10zm-4 12zm-1-19zm-4 3zm-39-8zm-15-1zm-5 26zm-4-25zm-7 3zm-43 17zm-35-20zm-22 14zm17 32zm41 3zm13-8zm12-12zm6 18zm3 3zm0-6zm9 6zm9-11zm75-8zm10 22zm8-11zm7-5zm2 7zm47-12zm11 18zm0-13zm6 12zm3 5zm3-15zm15-2zm1 7zm3 3zm5-4zm16 0zm15 2zm-30 37zm-5-3zm0-20zm-1-1zm-4 7zm-7-1zm-1 8zm-9-9zm-55-3zm-1 10zm-22 9zm-8-10zm-65 3zm-9-8zm-41 15zm-85-1zm-6-7zm15 25zm2-2zm18 13zm5 5zm1-7zm84 0zm6 7zm9-10zm0 2zm3 3zm13 3zm5-13zm1 16zm4-4zm9-6zm4 5zm1 7zm3-2zm17-16zm14 13zm2-4zm2 6zm3-8zm1 8zm2 0zm48-21zm4 12zm15 15zm-56 13zm-2-7zm-6 1zm-11 7zm-6-13zm-21 24zm-8-15zm-11 14zm-10-14zm0-7zm-2 4zm-1 0zm-2 19zm-12 0zm-6-3zm-9 1zm-1-13zm-2 14zm-1-3zm-28-12zm-18 2zm-5 1zm-13 2zm-22 8zm10 27zm58-1zm4-5zm2 7zm2 3zm1-5zm9 2zm12-19zm9 7zm2-2zm3 5zm12-2zm5-4zm9 11zm33 7zm5 6zm-44 9zm-5 17zm-1-17zm-4 11zm-2-19zm-2 2zm0 25zm-1-22zm-5 13zm-21-7zm0 15zm-6-1zm-1-6zm-1 5zm-9-7zm-36-11zm55 24zm6 8zm0 9zm37-6zm3-3zm5 9zm1-6zm-96 21z" stroke="#74c4a8" stroke-width="16"/><path d="M278 2358zm272 41zm-23-20zm-16 3zm-142 12zm-1 5zm-33-13zm-55-7zm-3-3zm-1 6zm-7-9zm-150 54zm95 1zm7-8zm9 1zm7-3zm2 2zm41-19zm7 11zm79 9zm2 2zm6-10zm1 6zm5-15zm65 22zm15 2zm30 1zm3-6zm4-9zm3-2zm6-5zm2 0zm5-6zm14 19zm-41 28zm-23-9zm-48 3zm-6-2zm-13 4zm-106-2zm-11-5zm-45 6zm-8 9zm-8 3zm-86-1zm-11-7zm0 37zm8 5zm2-12zm3-12zm1 15zm1-8zm0 10zm1-14zm1 10zm1-9zm1 3zm6 0zm3-5zm1 13zm1-18zm1 23zm6-6zm3 9zm2-21zm2 18zm6-13zm19 5zm6 10zm16-25zm18 12zm4-5zm17-9zm154 17zm308 36zm-92 5zm-10-13zm-6-3zm-4-4zm-272 19zm-98-16zm-23-1zm-7-8zm-3 17zm-7-5zm-1 4zm-7-6zm-1-10zm-3 14zm0 2zm-5 5zm-5-7zm-4-10zm-1 15zm-2-9zm-18-10zm0-2zm-2 4zm43 29zm48 26zm182-26zm7 18zm4 8zm0-25zm6 7zm16 18zm11 0zm16-16zm9 6zm5 1zm1-7zm3-3zm24 16zm5-5zm4 8zm6-5zm2-3zm93-20zm45 19zm7-15zm0-4zm3 9zm2 6zm15 11zm7-7zm3-7zm3 6zm0-5zm6 0zm1-12zm8 25zm-13 19zm-2-3zm-10 1zm0-5zm-1 8zm-172-2zm-51-14zm-38 2zm-8 5zm-57 20zm-14-2zm-18-5zm-46-15zm-27 19zm-4-2zm-2-2zm-2-9zm-2-3zm-3 0zm-3-8zm-1 1zm-1 18zm-7-4zm-2-6zm-2 19zm-2-27zm0 4zm-1 2zm-1-6zm-3 5zm-8 3zm-108 43zm9 0zm12-22zm0 24zm3-10zm7-4zm2 3zm4-2zm1 6zm0-8zm0 10zm16 0zm49 7zm29-24zm12 18zm2-18zm2 10zm1 8zm22-1zm22 4zm8 1zm39 1zm267-11zm73-8zm23 33zm-9 14zm-51 1zm-2-4zm-4-4zm-9-15zm-4 5zm-3 3zm-3-5zm-358 0zm-1 0zm-10 24zm-7-8zm-3-9zm-3 3zm-6-4zm0 4zm-14-14zm-4 2zm-51-2zm-14 10zm-1 0zm-2 0zm-3-9zm-1 3zm-1 2zm-7-2zm-1-2zm-10 1zm409 41zm0-9zm1 13zm5-15zm3 17zm1-4zm2 11zm3-6zm5 2zm1-7zm1 12zm1-1zm2-8zm5 4zm60-17zm11 9zm62-3zm3-5zm0 21zm7-16zm-34 45zm-36-3zm-24-2zm-18-1zm-5 5zm-22-16zm-10 1zm-7 0zm-13-5zm0 1zm-2-5zm31 45zm33-8zm2-1zm18 18zm6-27zm2 13zm5-11zm12 20zm0-7zm1-13zm1 12zm0-1zm1 15zm0 1zm2-5zm2 5zm1-2zm1-10zm0-7zm5 8zm3 29zm-7-7zm-10-9zm-3 9zm-2-9zm0 4zm-2 10zm-1-12zm-3 10zm-3-2zm-15 18zm-3-21zm-245 18zm105 28zm4-3zm8-16zm63 11zm5 4zm3 7zm0-13zm1 10zm1 3zm2-6zm2 5zm7-24zm1 2zm1 22zm2-15zm4 13zm5-15zm57 3zm-70 46zm-5-8zm-2-5zm-3 0zm-1-10zm-2 12zm-2-6zm-1-11zm0 26zm-51-22zm-16 18zm-15 2zm-6 0zm0-10zm-2 9zm-3 4zm-1-2zm-2 1zm-2 0zm-1-7zm-19-15zm-4 20zm-3 4zm-14-15zm18 31zm0 4zm6-2zm9-7zm6 7zm1 8zm3-8zm0-7zm10-5zm7-3zm8 7zm9 12zm1-8zm3 9zm2-10zm0 11zm0-9zm2 16zm5-23zm3 4zm4 1zm3-4zm0 10zm1-16zm11 9zm1-7zm1 8zm12 7zm31-12zm0-2zm4 4zm2 15zm-17 11zm-77 15zm-2-3zm-4 3zm-17-2zm-12 3zm-4-20zm-7 26zm-27 3zm-5-3zm-13-14zm5 32zm6-1zm1-4zm2-1zm8 21zm14-23zm17-1zm4-1zm23-2zm-57 35z" stroke="#a4d9a4" stroke-width="16"/><path d="M430 2298zm7 4zm6 4zm44 22zm-208 28zm6 10zm89 2zm28-8zm7 1zm7 1zm135 26zm-9-1zm-10-2zm-6-7zm-4 4zm-5-1zm-11 0zm-10 12zm-6-5zm-7 6zm-56-15zm-60-4zm-6 9zm-23-5zm-56-9zm-9 9zm0-4zm-2 24zm-5-12zm-9-1zm-5 12zm-132 26zm5-8zm85 9zm6-6zm2 0zm6 3zm2 6zm1-8zm17 9zm5-23zm10 15zm2-7zm16-13zm0 25zm0-10zm1 6zm8-11zm1 16zm4-10zm37 6zm13-15zm9-8zm5 16zm1-8zm3 9zm4 3zm0 1zm0 7zm4-7zm0-5zm5-10zm0 11zm19 6zm0 5zm14-18zm5 5zm1 13zm2-8zm8 3zm2-8zm52 5zm1-1zm4 3zm5 2zm1 0zm3-1zm6 0zm1 6zm4-29zm9 28zm5-23zm20-3zm18 35zm-5-3zm-14 0zm-13-4zm-8 11zm-4 4zm-1-7zm-6-5zm-1 4zm-3 12zm-3 7zm-8 1zm-29 2zm-1-27zm-3 3zm0 3zm-15 10zm-2-10zm-3-7zm-4 15zm-10-14zm-10 3zm-2 24zm-3-28zm-4 20zm-9 2zm-6-20zm-1 1zm0-3zm-4 11zm-10-5zm-30 19zm-9-10zm-43-1zm-6 7zm-7-15zm-16-5zm-5 10zm-2-9zm-3 4zm-2 15zm-5-19zm-1-3zm-3 11zm-12 9zm-1-20zm0 19zm-1-19zm0 5zm-1 9zm-2-8zm-2 3zm0-7zm-4 16zm-5-8zm-4 0zm-27 11zm-23-13zm-4 19zm-3-25zm-10 6zm-5-2zm-3 15zm-4-16zm-7-2zm8 50zm2-4zm0 1zm0-10zm3 8zm1-13zm0 19zm1-19zm0 12zm3 5zm2-5zm3 0zm1 0zm7 8zm6-1zm31-7zm9-13zm1 7zm5-10zm4 2zm10 20zm4-20zm3 8zm5-1zm4 19zm2-4zm1-4zm5-16zm16 3zm4-3zm17 5zm14-4zm64 12zm27-1zm11-6zm3 4zm4 7zm19-17zm6 10zm7 14zm2-20zm7 6zm9-6zm11-1zm10-8zm11 1zm14-1zm191 48zm-61 7zm-4-4zm-13 2zm-1 5zm-6-3zm-3-13zm-3 17zm-2-22zm-104 10zm-55 0zm-8-5zm0 2zm-11-6zm-12 18zm-13-18zm-4 4zm-4-2zm-27 15zm-2-8zm-9-7zm-48 10zm-14-17zm-41 20zm-10-9zm0-7zm-1 17zm-3-16zm-7 5zm-15 2zm-59-2zm-3-13zm-6 3zm0 8zm-10-9zm-19 53zm49-9zm23-7zm3-5zm23-4zm43 19zm5-7zm6 10zm1 7zm36-4zm57-25zm13 4zm37 11zm12 3zm2-17zm5 20zm5-10zm1-7zm10 6zm17 8zm13 5zm1-5zm6-9zm0 10zm2-9zm1 7zm2-15zm1 4zm0 4zm3 10zm0-7zm1-2zm14 6zm4-1zm0-9zm41 14zm19 2zm7-13zm11 17zm34-22zm1 8zm7 2zm12 1zm16 0zm8 13zm11-10zm9 3zm1 0zm3-14zm1 14zm4-17zm7 6zm2 9zm4 5zm2-14zm5 5zm14 2zm-1 41zm0-9zm-1 9zm-25-3zm-3-19zm-117 5zm-24-8zm-12 25zm-5-6zm-9-20zm-2-3zm-2 3zm-5 14zm-161-7zm-1 18zm-46-17zm-1-9zm-9 19zm-15-8zm-6-4zm-9 4zm-3-6zm0-2zm-3-2zm-3 10zm-1-9zm-1 2zm-2 2zm-2-5zm-3 2zm-9 15zm-8-13zm-1-7zm-13 15zm-3-11zm-1 20zm-70 1zm-19-3zm-12-14zm-2 30zm0 14zm11 1zm16-6zm0-10zm2 1zm2 6zm1-6zm8 4zm10 3zm2-5zm2 1zm7 15zm3-15zm8 9zm20 5zm12-22zm8 0zm1-2zm4 27zm3-14zm9 4zm4 11zm6-3zm5-25zm5 17zm24-4zm28-14zm13 26zm2 1zm3-26zm3 7zm3 13zm2-4zm0-3zm0-6zm6-2zm0 5zm20 4zm1 0zm173 11zm6-8zm9 9zm29-9zm44 9zm3-6zm1 5zm2 0zm1-2zm6-15zm7 1zm8 10zm37-13zm10-1zm3-5zm5 1zm3 10zm3-11zm9 12zm1-4zm1 12zm1-3zm10 9zm5 13zm-3 9zm-9-11zm-22 3zm-14 10zm-1-18zm-11 16zm-1 5zm0-9zm-7-1zm0 7zm-3-1zm0-5zm-6 7zm-14 6zm-1-21zm-6 2zm-7 12zm-3 8zm0-18zm-2 1zm-1 9zm-2-12zm-4 1zm-38 16zm-37-5zm-9-14zm-15 15zm-1-14zm-11 6zm-137-5zm-11-1zm-3 3zm-38 1zm-40 15zm-3 2zm-1-23zm-3 14zm-3-20zm-1 8zm-1-3zm-2 16zm-1 1zm-1 0zm-5-10zm0-1zm0 8zm-4-2zm-1-9zm-1 19zm-1-4zm-3-6zm-1 5zm-13-9zm-5 6zm0-18zm-49 14zm-2 11zm-6 3zm-10-12zm0 10zm0-19zm-6 20zm-1-18zm-4-9zm-5 12zm-5-10zm-22 3zm-2 3zm-1 3zm-17-4zm-3-7zm52 50zm1-15zm3 1zm8 10zm4-8zm3 14zm1 3zm1-1zm67-16zm16-9zm3 5zm187 20zm79-5zm3-9zm16 1zm2 14zm3-8zm9-18zm5 29zm7-4zm1-12zm3 9zm17 1zm36-3zm4-16zm2 7zm6 10zm2 1zm1-15zm3 13zm3 6zm9-14zm2 1zm7-1zm4 0zm23 7zm2-7zm6-7zm6 18zm6 2zm1-2zm6 0zm8-4zm2-17zm6 17zm-29 15zm-2 4zm-21-8zm-2 2zm-27 17zm-12-13zm-6-6zm-5 5zm-9 11zm-1-16zm-12 12zm-13 7zm-1-2zm-2 7zm-5-21zm-2 1zm-12 18zm-4 3zm0-9zm-10-12zm-5-3zm0 19zm-1-4zm-7-14zm0 20zm-1-8zm-8-7zm-5 8zm-99-13zm-193-1zm-15 1zm-20-2zm-35 6zm279 31zm115 12zm3 10zm1-22zm4 10zm3 12zm0-23zm16 17zm6 0zm1-13zm4-10zm4 24zm0-11zm37-10zm1 11zm12-10zm2 20zm1-20zm3 18zm4-11zm5 8zm5-10zm24 3zm-29 32zm-4 15zm-1-14zm-4-9zm0-4zm-2 13zm-3 13zm-1-25zm-2 16zm-2-18zm-23 9zm-1 19zm-16-9zm-10-17zm-13 12zm-8-11zm-17 13zm-6-6zm-3 11zm-178 4zm0-4zm-9-3zm-8 10zm-1-1zm-1 1zm-2 14zm10-10zm1 17zm7-4zm9-12zm10 9zm89 16zm1-3zm60-13zm6-2zm7-10zm2 3zm2-4zm21 16zm4-7zm4-6zm1 11zm40-10zm42-2zm-69 38zm-10 18zm-1-18zm-1 11zm-8-12zm-19 6zm-56 12zm-19-21zm-5 10zm-3-10zm-7 13zm0-7zm-11-3zm-1-3zm0 6zm0 1zm-8 10zm-11 1zm-2-11zm-57-2zm-1-10zm13 51zm21-2zm15-18zm7 1zm5 10zm2 6zm1-4zm7-2zm0 7zm1-1zm1-9zm2-8zm2 18zm6-18zm4 26zm2-17zm5 3zm9 13zm14-13zm10 3zm7-12zm5 10zm0 6zm2-1zm3-1zm12-10zm5 6zm0 5zm23 3zm11-19zm2-3zm16 21zm2-7zm5-14zm-19 32zm-1 0zm-8 11zm-39 4zm-8 0zm-5-13zm-27-3zm-27 4zm-2 8zm-1-7zm-10-4zm-4 5zm0-2zm-6 1zm-6 0zm-9 22zm-2-11zm-7-3zm-3-3zm-1 12zm-9-3zm0-9zm0 7zm-5 2zm-1-9zm-1 8zm0-16zm-3 10zm0 6zm-5-17zm-5 9zm-1 2zm143 16zm11 24z" stroke="#d2ec9e" stroke-width="16"/><path d="M454 2303zm34-7zm9 25zm-22 14zm-12-6zm-40-19zm-91 58zm4-1zm31-8zm15-1zm4-3zm3 3zm2-3zm9-1zm8-5zm1 17zm7-2zm1-18zm18 1zm5 6zm8 14zm10-13zm1-12zm4 25zm0-1zm7 0zm2-15zm30 11zm20-2zm40 18zm-29-1zm-5-7zm-15 8zm-7-4zm0 8zm-1-2zm-14 5zm-11 6zm-3-1zm-18-15zm-3-5zm-24 15zm0-13zm-1 6zm-7 21zm-16-3zm-6-18zm-1-5zm-9 22zm-12-24zm-3 11zm-2 13zm0-17zm0 11zm-1 8zm-11-14zm-4 4zm-19 12zm-70-16zm-2 14zm-1 1zm-2-17zm-8 18zm0-16zm-100 39zm15-11zm2 14zm28 3zm4-4zm3 4zm4-19zm0 18zm36-6zm8-16zm5 19zm1 3zm77 0zm11-12zm1 8zm18 4zm4-2zm8-20zm28 3zm1 12zm9-14zm7-1zm1 22zm2-20zm10 16zm0-7zm6 2zm2 6zm3-2zm8-9zm9 16zm1-28zm1 15zm1 1zm1 12zm0-9zm8-9zm0 8zm3-19zm0 3zm8 18zm4 5zm9-8zm6-16zm11 21zm29 20zm-10-7zm-2-3zm-4-1zm-11 26zm-1-24zm-1 23zm-2-16zm-6 3zm-23-5zm-2 0zm-11 9zm-4-8zm-10 8zm-2 6zm0-4zm-3 7zm-9-19zm-43-5zm-47 24zm-2-27zm-4 5zm-9 19zm-3-15zm-4-1zm-2-2zm-20 2zm-16 14zm-16-20zm-7 6zm-5-5zm-2 8zm-2 13zm-2-20zm-8 22zm-5-5zm-1 4zm-2-15zm-22-3zm-2 18zm-1-19zm-6 8zm-1 10zm-1-15zm-8-2zm-7-1zm-5 8zm-4 5zm-2-18zm-4 5zm-3-3zm-6-3zm-2 2zm-20-1zm-22 23zm-15-24zm-4 26zm6 23zm3 5zm5 4zm3-3zm7-6zm93-5zm6 13zm3 2zm33-6zm10-10zm7 9zm7 3zm41-15zm5 12zm7 5zm6-7zm0-16zm19 8zm3 8zm3 2zm8-1zm15 1zm1 2zm2-4zm14 9zm10-2zm0-6zm4-8zm5-2zm6 13zm14-2zm2-1zm0-20zm1 10zm7 3zm2-12zm3-1zm4 6zm0 17zm0-14zm1 15zm3-21zm10 21zm6-11zm9-11zm5 10zm204 34zm-2 10zm-103-12zm-5-5zm-7 13zm-1-1zm-4-3zm-10 10zm-8-4zm-9-9zm-7-3zm-4 14zm-52-27zm-7 9zm-1 11zm-1 6zm-2-4zm-20 6zm-1-14zm-6 12zm-7 1zm-5-3zm-21-21zm-8 2zm-2 6zm0-8zm-1-2zm-2 21zm-8 1zm-2-22zm-3 25zm-1-7zm-7-6zm-17-4zm-3 20zm-2-5zm-9-18zm-11 15zm-4 3zm-3 5zm-2-16zm-1 14zm0-4zm-2 4zm-1-13zm0 14zm-4-6zm-13 4zm-6-5zm-11-17zm-12 22zm-1-2zm-10-5zm-3-5zm-3-10zm-16 2zm-15 7zm-1 3zm0-7zm-2-3zm-1 6zm-1 1zm-2 3zm0 7zm-1-13zm0 2zm-1 17zm-2-13zm-1 5zm-1-18zm-2 5zm-1-8zm-47 21zm-84 25zm8 3zm4-7zm5-11zm0 19zm4-1zm6-15zm9 25zm6-24zm7 8zm3 3zm13 2zm5 4zm1 6zm3-13zm7-5zm23 5zm35-2zm7-6zm4 15zm3 1zm6 0zm3 0zm9-6zm44-14zm7 4zm14 19zm0-13zm2 0zm1-1zm3 3zm3-8zm1-3zm2 1zm2-4zm0 14zm2-11zm3 14zm5-13zm1 16zm0-8zm1 0zm2-1zm0 5zm2 2zm4 8zm1 0zm6-25zm7 18zm4-10zm3-4zm3 6zm16 5zm45-7zm1 4zm11-12zm0-1zm1 9zm6-3zm16-5zm1 6zm38 18zm5 0zm2-26zm6 25zm0 4zm2-1zm3-1zm23-3zm20 1zm1-4zm2-15zm20 4zm0 2zm1-3zm2 3zm2-7zm1 2zm0-5zm7 16zm5 10zm2-7zm15-2zm3 10zm0 0zm2-7zm2 6zm6-8zm5-16zm15 20zm7-3zm36 37zm-38-26zm-6 8zm-1-5zm-9-4zm-1 10zm-2-1zm-1 10zm-1-20zm-3 19zm-2-13zm-11 20zm-7-10zm-5 13zm-4-17zm-45 2zm-11 4zm-11 10zm-1-7zm-1 1zm-27 6zm-2-4zm-4-1zm-5-2zm0 1zm-10-10zm-3 17zm-1-7zm-148-10zm-16-10zm-5 4zm-18 20zm-1-10zm-5-10zm-4 13zm-2 6zm-1-10zm-3-15zm-2 2zm-3 3zm-1-4zm-1 7zm-1 7zm-8-14zm-1 13zm-4-13zm-2 0zm-4-1zm-13 10zm-7 10zm-12-17zm-36 16zm-1-3zm-3-6zm-1-7zm-2 10zm-5 1zm-27-11zm-11 25zm-1 0zm-6-24zm-5 10zm-1 1zm-1-6zm0-5zm-2 12zm-8 8zm-1-23zm0 16zm-8-12zm-5 3zm-3-4zm0 13zm-4-14zm-10-1zm-15 51zm29-23zm0 27zm1-26zm22 6zm1 4zm11 9zm13-11zm5 3zm14 17zm12-6zm21-9zm5 1zm39 8zm4-18zm15 23zm19-27zm9 2zm2 10zm6-9zm0 1zm0 15zm1-20zm11 5zm0 6zm1-6zm3 7zm0-2zm1 12zm0-4zm3 0zm7-10zm0 3zm13 10zm2-10zm1-1zm0 15zm4-5zm9-11zm111 6zm35 10zm9-17zm2 17zm0-5zm2-17zm3 24zm14-12zm1 14zm14-9zm4 6zm53-18zm1 10zm1-14zm1 9zm1 11zm4 5zm1-6zm1-10zm0-2zm26 10zm14-14zm11 8zm3 0zm2-6zm34 6zm2-15zm18 38zm-12 20zm-38 0zm-11-4zm-12-5zm-33-12zm-15 4zm-2-10zm-1 22zm-1-13zm-15 14zm-17-21zm-12 13zm-1-13zm-3-2zm-3 24zm-3-14zm-1 11zm0-9zm-2 10zm-1-8zm-2-11zm-14-2zm-1 21zm-1-10zm-4 7zm-11-20zm-1 12zm-2 1zm-3 6zm-10-11zm-9 4zm-124-8zm-2 4zm-7 6zm-2-1zm-24-12zm-16 14zm-47-10zm-21 18zm-1 1zm-15-15zm0-9zm-2 5zm-4-2zm-4 16zm-1-9zm0 0zm0 6zm-2 12zm-1-6zm-21-2zm-24-14zm-20 21zm-7 2zm-12 0zm-8-12zm0 10zm-5-7zm-8-8zm-8 6zm-1 0zm17 18zm7 12zm19 4zm3 1zm1-5zm0-16zm5 27zm1-13zm1 9zm0-7zm0 7zm7-10zm5 11zm32-9zm0 11zm8 1zm7-18zm5 8zm1 2zm1-18zm9 0zm29 12zm175 0zm10 2zm37-8zm6 9zm19 5zm8-6zm13-13zm2 9zm8-6zm8 4zm11-10zm27 27zm9-11zm2-14zm4 15zm8 5zm2-20zm4 8zm0-7zm6 8zm3 1zm6 15zm3-10zm3-9zm3 13zm0-9zm11 11zm3-14zm1 0zm1 14zm0-6zm5 2zm2-8zm7-9zm3-2zm3 13zm7-12zm3 26zm11-8zm0 5zm10-14zm12 3zm-35 40zm-1-16zm-1 21zm-7-7zm-15 3zm-7-21zm-76 2zm-16 3zm-17 12zm-1 4zm-6-18zm-3 5zm-4 9zm-3 3zm-11-13zm-60 9zm-13 8zm-10 1zm-13-3zm-5-7zm-1-2zm-3-12zm-219-1zm168 38zm11 11zm9-19zm38 17zm3 4zm6-22zm19 23zm8-4zm3 0zm84-12zm5 6zm1-16zm1 29zm1 0zm1-25zm0-2zm3 5zm3 8zm6 6zm3-19zm19 6zm2 11zm3-14zm3 15zm2-7zm58-2zm13-9zm0 7zm2-8zm2 1zm12 5zm9-7zm7 24zm-30 16zm0-10zm-7 6zm-2 20zm-1 2zm-2-18zm-98-5zm-1 3zm-4-3zm-2 2zm0 5zm0-8zm-5-4zm-3 12zm-3 4zm0 6zm-167 5zm-1 1zm-7-8zm-1 1zm-9 2zm-4 5zm-1 0zm-3 0zm-1-10zm-1 6zm-4 3zm-8 28zm12-22zm1 0zm20 10zm17 14zm4-7zm15-5zm1 1zm23 4zm184 7zm1 2zm2 0zm0 0zm12-16zm2 12zm-2 5zm-13 0zm-25 14zm-1 3zm0-2zm0-1zm0-8zm0 5zm-3-7zm-3 22zm0-5zm-5-12zm-129 16zm-9-16zm-8 1zm-41-10zm-2 11zm-5-6zm-7 11zm-10-12zm-17-3zm29 49zm11-3zm6 5zm4-3zm9-15zm0 25zm129-10zm13 5zm2-11zm16 14zm23-24zm6 15zm-30 20zm-18-2zm-4 10zm-121-14zm-7 12zm-9-2zm-14 10zm-1 0zm0-13zm-12 0zm0 18zm-2-19z" stroke="#f5fab0" stroke-width="16"/><path d="M467 2309zm17-19zm21 42zm-24-6zm-23-14zm-34 23zm-5-12zm-6-8zm-13 0zm-8 23zm-65 20zm54-1zm6 3zm3-3zm0 3zm8-11zm0 0zm2 0zm3 7zm2 5zm1-3zm5-1zm6 6zm5-11zm1-11zm2 3zm7 19zm6 1zm8 3zm2-1zm1-9zm24-2zm44-13zm10 9zm39 8zm-9 23zm-84-7zm-10 22zm-1-16zm-9 1zm-4-10zm-1 1zm-3 0zm-2 18zm-2-7zm-2-7zm-1 4zm-15 14zm-1-3zm-3-2zm-3-5zm-22-2zm-227 39zm5-12zm3 4zm1 11zm6-25zm3 19zm2 7zm1-5zm2 7zm7 0zm14-8zm5-4zm16 10zm159-4zm27-10zm26 2zm0 4zm16 0zm16 5zm67 27zm-18-10zm-6 9zm-4 6zm-58-21zm-109 22zm-12-1zm-2-8zm-4-1zm-40-5zm-95-9zm-10 0zm-37-1zm110 45zm6-15zm2 24zm1-6zm72-2zm6 1zm6 6zm7-7zm0-10zm33-3zm7 19zm38 1zm17-6zm0-10zm3 15zm1-10zm2 11zm1-1zm4-1zm2-3zm2 8zm3-24zm1 26zm1-14zm19-1zm4 9zm5-7zm2 7zm1 4zm8-2zm5 0zm52 29zm0-5zm-42-19zm-36 23zm-16 0zm0 3zm-3-23zm-4 20zm-19-9zm-3-11zm-6 5zm-31-8zm-53 1zm-7 26zm-57-2zm-18-13zm-5-8zm-2 4zm-14 18zm-4-16zm-5-8zm-3 6zm-128 45zm8 0zm10 3zm2 0zm2-10zm1 12zm4 0zm0-11zm2 7zm10 5zm2-16zm8 2zm4 7zm7 1zm3-4zm79-9zm2 2zm6-9zm0 26zm0-14zm11 9zm0-14zm28 16zm15-14zm25 15zm11-12zm5 7zm13 2zm1-9zm7-10zm2 19zm185 2zm29-23zm3 8zm9-3zm1 0zm8 11zm1-5zm7 5zm33 6zm19-1zm7-2zm4 37zm-1-1zm-6-3zm-5-6zm-3 9zm-3-24zm-3 3zm-1-5zm-10 14zm-6 3zm-1-19zm-6 14zm-1-7zm-2 15zm-1-2zm-3-2zm-10-3zm-14-12zm-5 2zm-2 21zm-6-20zm-5 15zm-33-4zm-208-14zm-2 16zm-2-9zm-36 8zm-2-8zm0-2zm-3-7zm-32 14zm-6-9zm-67 7zm-9-6zm-9 0zm-15 12zm-6-5zm-1 0zm-4 7zm-2-18zm-1 4zm-2-2zm0 5zm-1 1zm-5-11zm-2 21zm0-12zm-1 6zm-1-9zm-12 3zm-2 2zm75 34zm3-15zm0 29zm3-10zm0 2zm1 7zm0-17zm0 11zm112 0zm16-1zm1-8zm52 3zm9 0zm116 7zm8-22zm4 9zm1 12zm5-2zm10-6zm4 14zm43 0zm8-19zm12 4zm2-9zm15 4zm9-6zm7 2zm5-4zm6 9zm3-5zm1 0zm2 17zm12-6zm4-7zm9-2zm-13 24zm-35 12zm-31 11zm-31-20zm-8 24zm-6-19zm-4-5zm-7 1zm-1 5zm-3-4zm-11-4zm-5 0zm-1 12zm-30-12zm-39 10zm-80-7zm-26-2zm-86 25zm-10-1zm-48-15zm-87 18zm-10-9zm8 16zm19 0zm7 14zm2 5zm26-9zm3 5zm9-5zm4-16zm6 13zm26-10zm0 22zm28-24zm188 12zm4-5zm9-4zm9 15zm2 9zm3-21zm2-5zm27 17zm6 3zm1-10zm1 4zm0-15zm13 11zm8-2zm7-1zm8 13zm67-13zm16 9zm1-5zm0-10zm58-1zm15 42zm-149 11zm-1-22zm-4 5zm-11-4zm0-3zm-1 12zm0 7zm-94-18zm-3 4zm-1 1zm-277-7zm215 57zm17 2zm1-23zm8 8zm18 4zm5-9zm6-8zm1 13zm2 6zm2-5zm2 14zm1-12zm1-3zm1 9zm1-7zm1 10zm2-4zm5 5zm3-2zm2-10zm0 8zm8-1zm3-3zm1-16zm0 15zm9 7zm11 4zm54-27zm8 4zm2-1zm4 24zm1-29zm5 25zm18-19zm6 11zm100 39zm-4-13zm-110-1zm-71 8zm-20 0zm-21-15zm-6-3zm-8 0zm-38 2zm-19 12zm-9 13zm-12-5zm-8 3zm-3-5zm-2-15zm-7 26zm4 19zm7-9zm13-10zm1 2zm44 7zm2 13zm4-15zm5 8zm5 6zm9 2zm0-12zm1-4zm8 7zm8 2zm152 1zm18 7zm1 2zm18-1zm0-2zm2 10zm-16 4zm-1-7zm-2 8zm0 1zm-1-9zm-1 25zm-1-20zm0 4zm-1-4zm-3 7zm-3-14zm-2 4zm-9 6zm-141-3zm-7-8zm-3 7zm0 5zm-4-4zm-29-4zm-12 7zm-12-6zm-3 0zm-3 7zm-23 9zm-15-18zm-2 17zm38 16zm132 21zm92-20zm-56 43z" stroke="#fee999" stroke-width="16"/><path d="M417 2309zm79-17zm20 46zm-97-12zm-7-6zm8 48zm7-11zm16 10zm9-9zm7 6zm4 5zm95-13zm-115 16zm-7 8zm-6 15zm0-22zm-8 22zm0-9zm-7-13zm-9 9zm-245 30zm5-1zm1-6zm8 8zm10-13zm8 26zm143 31zm-7-18zm121 45zm15-3zm47 0zm-35 9zm-14 6zm-192 23zm-145 9zm149 9zm285-14zm57 26zm25 10zm-18 0zm-29 3zm-6-4zm-433-3zm-2 8zm-7-4zm0 2zm-14-1zm64 36zm324 6zm2-3zm1-9zm3 11zm145-12zm-128 43zm-17-3zm-3-9zm0-2zm-15 4zm-1-3zm0-6zm-2 14zm0-6zm-45 10zm-71 2zm-243 27zm278 4zm5-14zm3-5zm2 5zm9 6zm8-9zm1-4zm3 8zm34 17zm2-14zm8 11zm6-25zm8 24zm12 0zm20-19zm73 3zm-62 51zm-10-17zm-2-6zm-8 5zm0 0zm-2-5zm-3 22zm-5-6zm-3 0zm0-22zm-17 15zm-22-12zm-7 17zm-62 4zm-27-7zm-5 4zm-1-17zm-2 3zm-5-3zm-10 1zm-1-2zm-4 7zm-3 4zm10 23zm27-5zm19 8zm2 10zm1-4zm1 11zm4-11zm7 6zm0 3zm1-2zm1-14zm1 14zm2-23zm13 5zm3 13zm14 4zm0 3zm18 4zm1-8zm6 5zm0-12zm3 10zm13-5zm28-10zm18 3zm-47 26zm-7 10zm0-8zm-2-4zm-6 0zm-26 0zm-14-2zm-9-4zm-3 27zm0-27zm-7 0zm-12 18zm-56-16zm-12 24zm-16-21zm97 35zm4 3zm1-7zm10 17zm3 5zm3-23zm1 3zm0 14zm0-6zm34 12zm151 10zm-6 4zm-1-10zm-2 5zm0 9zm-8 3zm-2-15zm0 15zm-1 3zm-143-13zm-4 7zm-5-7zm-21-7zm-45 22zm-1-14zm-2 18zm-28-9zm-1-6zm-17-8zm36 28zm5 11zm6-13zm4 2zm7-2z" stroke="#fdc877" stroke-width="16"/><path d="M552 2373zm-92 112zm6-9zm-192 36zm-7 0zm-14-11zm280 105zm-34 16zm-28-11zm-2 21zm-1-3zm-34 0zm-47 0zm-41 37zm8 3zm16-14zm4-3zm9-6zm0 17zm8-16zm6 8zm0-9zm3 5zm6-3zm0-8zm2 25zm4-1zm4-17zm13 1zm3-2zm3 2zm7 5zm109 45zm-6-28zm0 15zm-2 2zm-2 7zm-5-3zm-1 7zm-2-8zm-36-17zm-66 15zm-1-2zm-4 11zm-2-27zm-8 9zm-1-8zm-4 24zm-3-13zm-1-2zm-3 7zm-5-2zm-11-7zm-2 3zm0-2zm-2 3zm-11-9zm-3 5zm-2-5zm-12 7zm-1-8zm-7 3zm-4-1zm-14 53zm45-24zm23-2zm11 2zm8 25zm3-26zm2-2zm2 5zm1 8zm1 2zm5 6zm1-18zm0 23zm3-3zm73-4zm15-1zm-25 14zm-10-1zm-15 16zm-24-11zm-2 1zm-7 20zm-5-20zm-6-1zm-84 6zm89 19zm11 0zm9 17zm11-8zm3 17zm8-23zm1 16zm5-17zm148 43zm-169 12zm-76-1zm-6 11zm8 9zm4-7zm1 3zm2 3zm2-15zm2 12zm0 0zm2 2zm10-10z" stroke="#fba25c" stroke-width="16"/><path d="M407 2635zm-4-25zm-1 19zm-5 5zm-30 20zm10-13zm1 6zm7-1zm19 12zm3 7zm0-6zm11-14zm1 24zm3-19zm-5 29zm-17 0zm-5 19zm-14-2zm-32-13zm67 17zm3 5zm9 13zm86 9zm29-25zm-75 66zm-69 61zm3 11z" stroke="#f57d49" stroke-width="16"/><path d="M417 2604zm-17 15zm-2 10zm-17 21zm16-3zm-1 23zm137 41zm-139 119z" stroke="#e85a3c" stroke-width="16"/></g>
<ellipse cx="46.1" cy="234.3" rx="11.6" ry="7.6" transform="rotate(20 46.1 234.3)" fill="none" stroke="#ee22bb" stroke-width="1.35"/>
<ellipse cx="38.9" cy="268.9" rx="9.8" ry="6.4" transform="rotate(-38 38.9 268.9)" fill="none" stroke="#78e826" stroke-width="1.35"/>
<text x="117.2" y="223.4" font-size="10.8" text-anchor="middle" letter-spacing="-0.25" fill="#111" stroke="#111">TIM3</text>
<rect x="82.5" y="225.6" width="69.3" height="68.9" fill="#fff" stroke="#4a4a4a" stroke-width="1"/>
<g transform="scale(0.1)" fill="none" stroke-linecap="round" stroke-linejoin="round"><path d="M1047 2393zm-3 30zm231 21zm-223-3zm-154 41zm2-4zm2-8zm158 44zm-10-5zm-17 10zm3 11zm1 7zm2 21zm-6 5zm-18 22zm21 7zm-11 26zm-6 4zm-32 21zm0 22zm10-14zm12 2zm5-7zm10-4zm156 193zm102 13zm8-11zm-46 25zm-1-7zm-5 21zm-1-12zm0 6zm-3 3zm-2-11zm-5 6zm-3 2zm-2-12zm-3 1zm-6 17zm-23 33zm26-28zm5 4zm4-1zm23-2z" stroke="#54509f" stroke-width="16"/><path d="M1040 2358zm-9 15zm-2 25zm-9-20zm-31 42zm10-2zm31-2zm3-4zm2-8zm4 22zm9-15zm2 5zm3 1zm185 6zm4-4zm15 4zm1-9zm3 6zm37 14zm-15 23zm-26-14zm-1 13zm-17-5zm-194-19zm-1 3zm-3 2zm-3 1zm-1-1zm-4-4zm-12-1zm-7 1zm-14 8zm-4 2zm-10-7zm-1 8zm-4-12zm-86 22zm-13 25zm1 5zm7 4zm1-5zm4-5zm1 6zm1-7zm1-5zm1-4zm0 6zm1 4zm4 4zm2-5zm2-9zm2 2zm4 15zm55-22zm23 4zm11-2zm219 17zm14-10zm1-11zm12 8zm5 5zm5-14zm4 16zm-29 17zm-32 5zm-57 1zm-94 10zm-4-5zm-11 8zm-27-10zm-108-1zm-3 47zm118-6zm1-12zm1 2zm1 11zm5-1zm0 0zm1-19zm0 20zm0-8zm4 11zm1-7zm7-2zm76-14zm295 0zm72 11zm-52 35zm-24-12zm-164-6zm-115 5zm-34 20zm-19-18zm-24-8zm-8 8zm-10-3zm-4-1zm-4 5zm-42 10zm-7-6zm-18-6zm-17 49zm3-15zm25 4zm7 7zm16-19zm21 26zm2-26zm16 10zm76 1zm0-4zm374 2zm-42 18zm-105 27zm-24-7zm-53-6zm-224-2zm-3 12zm0-13zm-1 6zm-1 1zm-1 11zm-2-8zm-2-4zm-4-2zm-4-6zm0-9zm-2 5zm0 10zm-4-2zm-5-3zm0 0zm-5-9zm-58 47zm23-5zm21 15zm15-17zm6 10zm1-18zm9 0zm28 4zm1 8zm149-7zm55 18zm47-6zm47 4zm70 4zm-103 8zm-312-4zm-24 2zm228 49zm250-8zm-171 79zm-35-3zm-31 7zm-24 5zm-32-8zm-3 18zm49 9zm5 21zm76 4zm9-12zm0 6zm12-10zm12 7zm8 6zm-51 7zm-32 24zm-2-19zm-1 17zm-2-16zm0 10zm0 8zm-10-22zm-6-3zm-4 7zm-11 9zm-4 13zm-2-11zm-7-3zm-2 13zm-1-16zm-10 9zm-10-7zm35 22zm2-2zm23-4zm7 11zm12-11zm2 9zm7 16z" stroke="#3f6fb2" stroke-width="16"/><path d="M1168 2358zm126 27zm-4-15zm-1 9zm-36 6zm-36-2zm-187 14zm-11 2zm0-16zm-72 36zm12 9zm9-4zm7-15zm0 18zm1 1zm3-9zm3 6zm1-5zm3 2zm2 6zm4-7zm2-11zm6 7zm11 4zm0-15zm8-1zm2 16zm2-7zm16 2zm10 11zm2-7zm6 6zm72-10zm43 2zm50 0zm16 1zm8-1zm1 6zm5 5zm1-8zm5 8zm13-13zm0 12zm1-26zm1 23zm3-20zm7 18zm37 14zm-18-1zm-6-4zm-6-1zm-5 27zm-1-24zm-3 15zm0-8zm-4 14zm-3-14zm-4 4zm-1-7zm-7-1zm-12 2zm-5-1zm-4 7zm-6-5zm-57 2zm-126 0zm-2 3zm-6 7zm-1-22zm-4 5zm-12-1zm-14 21zm-1-2zm-1-16zm-3 12zm-4-16zm-1-3zm-14 7zm0 9zm-1 6zm-1-22zm0 19zm-1-19zm0 5zm0 21zm-3-20zm-2 3zm-1 5zm-1 10zm-1-15zm-1 9zm-63 9zm-2-19zm-18 16zm-7 3zm-4-10zm2 37zm4-21zm1 22zm0-2zm2 2zm0-6zm0-9zm1 15zm0-8zm3-12zm0 0zm1 0zm3 14zm1-10zm1 3zm4 7zm2-7zm2 8zm2 0zm4-7zm4 6zm72-5zm36 11zm9-21zm8 9zm14 12zm111-8zm42 7zm18-2zm0-16zm4-6zm0 2zm7 5zm0 3zm4-9zm12 20zm1 2zm3-9zm14-1zm96 45zm-24 1zm-108-29zm-4 14zm-119 10zm0-13zm-9 17zm-1-3zm-39-3zm-6 4zm-1-6zm-2-7zm-4 12zm-8-22zm-10 9zm-5-8zm-2 18zm-14 4zm-9-3zm-5-2zm-17-8zm-16-6zm-42 14zm-19-21zm-1 2zm0-2zm-2 4zm-21 27zm1 25zm130-8zm2-17zm3 11zm6 17zm0 0zm3-6zm33 2zm3 1zm62-21zm17-3zm37 16zm57 9zm8-16zm1-1zm42 19zm40-6zm89 6zm0 0zm24-24zm19 51zm-15-21zm-13 15zm-28-11zm-4 11zm-14-11zm-4-9zm-92 3zm-2-3zm-151 28zm-64-17zm-21-10zm-10 8zm-4-1zm-1 7zm-3-2zm-2 12zm-2-18zm-2 13zm0 0zm-1-17zm-1 19zm0-15zm-2 5zm0 1zm-1-9zm-5-1zm-1-2zm-1 2zm-1-1zm0 3zm-8 11zm-1 4zm-1-11zm-4-7zm0 4zm-1 2zm-2-1zm-2 0zm-4-6zm-2 20zm-15-18zm-7 11zm-4-1zm-42-5zm-6 1zm-2 7zm-9-10zm-14 5zm-1 20zm18 25zm5-15zm0-4zm5 13zm9-5zm39-1zm24-13zm4 27zm0-13zm3-1zm19 12zm3-20zm5 15zm2-17zm0-3zm0 17zm3 3zm6-4zm3-8zm38-5zm68 5zm148 13zm82-9zm28 0zm90 2zm11 12zm-54 19zm-5 8zm-55-23zm-19 22zm-90-16zm-43 22zm-92-21zm-44 4zm-5 3zm-48 14zm-1-23zm-7-1zm-3 16zm-7 2zm0-12zm0 8zm-2 4zm-1-9zm-3 9zm0-3zm0 7zm-1-4zm-1-6zm-1 0zm-9 5zm-2-11zm-4-8zm-5 16zm0-18zm-2 27zm-7-25zm-30 4zm-10 3zm-6 16zm-2 3zm-18-18zm-5-9zm-53-1zm41 49zm22-2zm6-2zm5 5zm12-9zm28 5zm8 12zm12-10zm13-18zm0 1zm9-2zm114 14zm2-7zm40-4zm35 0zm95 12zm9 6zm1-4zm11 0zm1 12zm6-4zm1-12zm10 15zm2-8zm5-6zm19 3zm38 1zm6 4zm15-12zm52 1zm-130 25zm-17 6zm-11-10zm-22 22zm-9-18zm-57 14zm-6-18zm-56 22zm-43-21zm56 52zm15-22zm4 14zm75 1zm10-7zm4-9zm29 27zm15-12zm35-8zm24 9zm9 8zm15-2zm18-15zm25-9zm6 16zm1 8zm-30 16zm-14-4zm-98 11zm-16-1zm-59 2zm-34-12zm-82 14zm-21 34zm26-18zm82 2zm13 18zm3-2zm1-9zm5 14zm1-8zm9-6zm62 1zm4 12zm5-4zm35-4zm23-5zm14 10zm-12 12zm-1 9zm-25-5zm-63 14zm-29-22zm-2 4zm-1 0zm-18 9zm-10-4zm-1 12zm-30 0zm-2-11zm-46 34zm6 5zm16-2zm7-5zm14 3zm13 1zm3-6zm0 7zm1-1zm1-1zm3 6zm1-5zm0 5zm9-3zm1 7zm11-8zm5 7zm5-26zm4 2zm2 17zm1-8zm5 1zm4-3zm3 7zm3-7zm4-5zm0 6zm3-3zm7 11zm5-9zm7-1zm5 6zm36-14zm13 17zm4-15zm-46 43zm-15 2zm-8 0zm-18 8zm-21-7zm-6 0zm-27-18zm-4 5zm-12 1zm-10-5zm-9 5zm-3 17zm-7 2zm-7-5zm-1-9zm-4 10zm-1-10zm-9 0zm-1 2zm-1-5zm0 18zm22 16zm22 14zm45-16zm0-10zm7 16zm1 9zm0-9zm43 1zm-106 19z" stroke="#3a8dbb" stroke-width="16"/><path d="M1171 2299zm-11 53zm7 9zm19 2zm16-10zm6 14zm2-1zm10-12zm1-12zm83 45zm-16-3zm-4-2zm-2 3zm-7-7zm-2 4zm-5 0zm-43 15zm-10-15zm-10-10zm-5 9zm-6 4zm-4-12zm-59 21zm-31-15zm-7 15zm-44 1zm-7-16zm-3-3zm-4 3zm-2 20zm-1-16zm-4 4zm-1-8zm0 2zm-8 5zm-5 12zm-40-6zm-66 34zm6-1zm20-14zm16 10zm5 5zm9 2zm2-9zm5 9zm1-3zm1-5zm5-4zm2 3zm14 7zm7-6zm5 9zm19-2zm10-27zm4 1zm1 21zm2-21zm7 11zm63-12zm1 15zm44 5zm49-2zm1 8zm10-18zm4 5zm9 16zm1-28zm1 15zm1-1zm9-4zm3-8zm3 23zm0-2zm4-23zm5 25zm5-14zm2 17zm2-21zm7 11zm2-18zm1 23zm1 3zm12-7zm7-18zm6 27zm7-15zm5 23zm-2 6zm-3-9zm-4 16zm-10-16zm-8 6zm-5-10zm-16 14zm-3-11zm-4 16zm-7-10zm-11 15zm-1-21zm-1 15zm-5 3zm-7-9zm0-1zm-1 5zm-1 2zm-2 6zm-7 4zm-46-24zm-8 17zm-69-5zm-2-7zm-30 13zm-29 5zm-3-3zm-2-19zm-1 18zm-15-13zm-2 12zm0-22zm-17 4zm-4 16zm-1 5zm-17-18zm-2 3zm-5-4zm-15 0zm-52 0zm-3 15zm-4-16zm-9-5zm11 59zm1-9zm5 0zm4-11zm1 8zm3 0zm6-10zm2-5zm0 23zm9-17zm3-1zm1 5zm33-8zm1 7zm1-10zm4 0zm9 1zm23 23zm16 4zm0-29zm10 5zm6 14zm6 4zm5-13zm2 18zm24-3zm35-8zm6 1zm5 9zm1-3zm1 0zm4-4zm2-3zm2 3zm25 3zm13-13zm33 17zm0-6zm2 7zm0 1zm2-16zm1 11zm4-13zm6-6zm7 3zm4 5zm3 10zm2-4zm1-8zm7 3zm1-11zm1 26zm9-22zm2-3zm5 24zm3-16zm4 2zm8 9zm5-20zm4 22zm5 0zm1-14zm170 37zm-65 3zm-24 1zm-31-6zm-63-16zm-25 24zm-6 4zm-7-2zm-33-23zm-6 9zm-2-7zm-67 9zm-1 7zm-2-20zm-6 18zm-1-6zm-1-5zm0 15zm-2 4zm0-17zm-1 4zm0 14zm-4-6zm-12 5zm-18-23zm-44 4zm-1-2zm-9-1zm-7 4zm-6 7zm-2-1zm0 13zm-13-20zm-46 4zm-40 17zm-4-26zm-10-1zm-16 51zm1-1zm7 1zm10 3zm11-2zm33 4zm17 1zm19-12zm22 12zm10-16zm7-6zm14 22zm10-5zm29 5zm36-22zm5-7zm0 3zm10-2zm2-1zm0 4zm23 13zm93-7zm0 8zm3-5zm5-3zm7 10zm0-7zm1-2zm1 9zm13-3zm38-17zm55 3zm0 18zm19-3zm69 4zm2 2zm34-22zm-52 33zm-20 24zm-39-18zm-6 7zm-9 3zm-24 0zm-28 2zm-23-19zm-75 0zm-125 18zm-1 3zm-9-20zm-2 3zm-1 7zm-4 6zm-3-10zm-1-5zm0-5zm-5 0zm-6 27zm0-15zm-13-3zm-2-4zm-2 0zm-1 21zm-4-6zm-4-15zm-1 17zm-1-15zm-1 1zm-5 3zm-9-2zm-2 19zm-6-21zm0-8zm-9 10zm-7-6zm-1 20zm-1-8zm-3-6zm-20 4zm-15-11zm-5 19zm-5-3zm-1 9zm-1 0zm-5-14zm-4 7zm-2-7zm-7-10zm-1 21zm-1-16zm-2 12zm0-12zm-2 8zm-7 11zm-1-23zm-2 5zm-2-1zm-2 13zm-7-22zm-24 53zm17-4zm3-1zm7-3zm2-15zm14 14zm1 3zm0-10zm1 16zm1-15zm1 19zm4-16zm6 17zm1-10zm0-8zm1 6zm5 4zm10 0zm7 0zm1-8zm7 8zm7 9zm5-7zm7 1zm1 6zm0-4zm4 3zm0-17zm8-8zm2 24zm6-13zm17 4zm15-17zm5 2zm7 20zm18-3zm1 8zm29-3zm1-19zm3 16zm3-17zm8-4zm33 11zm1-1zm167 6zm65-8zm21 2zm4 4zm3-12zm1 5zm8 16zm6-15zm69 32zm-26 8zm-23-15zm-6 25zm-2-1zm-17 1zm-9-19zm0 1zm-3 12zm-1-13zm-2 8zm-2-4zm-4 6zm-21-2zm-3-15zm-26 12zm-6-8zm-4-4zm-3 18zm-4 2zm-169-14zm-26 2zm-51-11zm-15 27zm-7-7zm-3-20zm-2 5zm0 0zm-4 17zm0-6zm-7-15zm-6 25zm-3-4zm-1 5zm-16-8zm-1-3zm-3 6zm-8-7zm-6-13zm-17 8zm-17 16zm-9-25zm-7 16zm0 10zm0-19zm-1 19zm-10-26zm-4 6zm-1 6zm-4 16zm-31-27zm-6 18zm-6-12zm50 28zm4 11zm5 6zm2-10zm3 14zm3-2zm1-9zm0 7zm1 3zm0 0zm8-23zm3 13zm4-16zm198 7zm108 5zm35-1zm7 11zm9-9zm0-1zm1-4zm3-4zm1 14zm5 10zm1 0zm5-17zm7 9zm10-12zm14 15zm4-23zm3 28zm4-19zm6 10zm1-16zm4 5zm5 10zm1-5zm0 4zm0-14zm2 20zm2-20zm4 17zm0-16zm4 0zm1 3zm1-5zm0 9zm3 2zm1-8zm2 16zm9-12zm0 17zm2-6zm9-7zm0 13zm4-17zm3-3zm6 14zm41 5zm15-6zm-88 22zm-3-11zm-5 5zm-31 3zm-5 9zm-9-13zm-15 5zm-11-5zm-13-2zm-3 10zm-1-9zm-2 0zm-3 5zm-1 6zm-5-7zm-7 6zm-97-7zm-28 4zm-58 3zm-101-12zm-35-1zm241 50zm9 8zm84-23zm23 2zm31 1zm34 14zm12-11zm5 3zm7 1zm2-2zm5 6zm2-9zm2 12zm3-4zm9-16zm16 5zm4 10zm-36 13zm-4 7zm-1-7zm-2 1zm-4 5zm-1-5zm-2 14zm-1-12zm-6 2zm-8 0zm-63 0zm-1 3zm-6 4zm-9-4zm-109-4zm-72 14zm16 12zm61 19zm14 8zm9-7zm1-7zm5 2zm13 4zm5 7zm8-4zm5-13zm1 16zm4-4zm16-9zm22-1zm10 9zm1-20zm1 18zm1 9zm2 0zm2-4zm5 1zm50 5zm16 7zm-4-6zm-17 11zm-2-8zm-4 19zm-7-12zm-10 18zm-1-18zm-9-1zm-8 19zm-11-13zm-5-15zm-33 10zm-25 5zm-3 8zm-4-10zm0 11zm-2-2zm-3-16zm-1 20zm-6-3zm0-23zm-1 6zm-4 18zm-6 0zm-1 1zm-1-2zm0-1zm-3 5zm-1-2zm-3-19zm-1 20zm-1-7zm-15 4zm-4-13zm-4 14zm-3 4zm-11-16zm-3 1zm-15 2zm-11-4zm-17 16zm19 25zm18-18zm6 13zm7-4zm11 1zm6-1zm0 3zm2 3zm1-4zm8-1zm4 2zm1 4zm3-11zm0 16zm14-11zm3-13zm2 27zm5-28zm1 8zm1 0zm1 1zm5-1zm5 6zm1 7zm2 1zm2 7zm7-23zm0 0zm1 10zm0-1zm8-14zm3 19zm9-17zm10 16zm1 1zm31-17zm2 1zm19 18zm2-7zm5 3zm-37 16zm-7-4zm-4 6zm-6 14zm-26-15zm-8 4zm-6 0zm-8-6zm-1 3zm-4-4zm-1 17zm-19-12zm-2 20zm-51-13zm-7 15zm-1-26zm-1 9zm-5 7zm-7 1zm0-16zm-3 16zm0-11zm4 35zm7-5zm72 0zm0 9zm0 0zm2-6zm1-11zm5 19zm2-1zm4-11zm23 4zm12-12z" stroke="#4fa6b4" stroke-width="16"/><path d="M1215 2329zm-174 27zm6 10zm123-17zm8-1zm22 16zm11 1zm0-8zm88 3zm13 39zm-15-11zm-9-10zm-20-4zm-6 10zm-2 15zm-2-6zm-6-5zm-28-7zm-1 17zm-5-28zm-8 3zm-3 0zm-9 7zm-154-10zm-6 12zm-3-7zm-154 52zm1-3zm5-8zm12 7zm5 6zm9-21zm2 19zm14-7zm5-10zm4-10zm9 0zm6 0zm3 22zm2-7zm20 4zm46 5zm97-7zm87 1zm5 4zm4-9zm5 15zm12 1zm3-9zm5 5zm0-3zm2-5zm1-17zm6 23zm4 0zm4-9zm3-14zm4 18zm2-11zm2 0zm30 9zm12 15zm-9 9zm-48-8zm-2 0zm-5 25zm0-9zm-25 2zm-3 7zm0-3zm-1-14zm0 19zm0-1zm0-24zm-1-2zm-2 2zm-1 4zm-49-8zm-135 11zm-12 15zm-3-14zm-2 9zm-34 4zm-8-15zm-3 2zm-9 8zm-3-18zm-3 17zm-9-16zm-20 4zm-7 1zm-1-7zm-7 0zm-6 10zm-3-3zm-19-5zm-6 23zm24 26zm14-4zm5 6zm4-20zm0 24zm4-3zm4 1zm16-7zm2-19zm22 12zm12-9zm3 8zm5-1zm0 17zm0-10zm5-8zm6 20zm11-27zm6 6zm1 8zm6-15zm4 19zm24-14zm3 20zm48-4zm7 5zm8-20zm17 5zm8 5zm21 5zm1-5zm2 3zm3-12zm5 5zm11 2zm16 0zm4 9zm1-23zm2 25zm2-17zm2 9zm3 5zm1-3zm3-1zm0 6zm2-4zm0-13zm0-7zm2 21zm1-1zm1-5zm0 3zm3 9zm4-11zm0-2zm3-6zm2 9zm1 6zm2 3zm12-2zm19-4zm86 7zm14 17zm-1 0zm-4 2zm0-7zm-1 18zm-6-16zm0 11zm-3 6zm-2-22zm-38 20zm-59-18zm-1 11zm-6-3zm-28-11zm-8 18zm-4-24zm0 24zm-2-10zm-25-3zm-14-8zm-41 3zm0 20zm-12-1zm-2-8zm-1 7zm-5 3zm-1 0zm-20-1zm-6-5zm-40-17zm-22 14zm-7-7zm-2 2zm-1 3zm-8 13zm-2-13zm-5-16zm-37 19zm-8-1zm-23-15zm-4-2zm-59 45zm6 9zm2-6zm4-7zm5 8zm5-12zm14 20zm0 1zm6-7zm20 0zm7 1zm1 4zm2-8zm5-8zm1-2zm6 4zm63 6zm36 9zm30-16zm2-9zm7 4zm16 20zm1-15zm0-8zm6 3zm1-3zm28 22zm3-2zm51 1zm9-15zm7 19zm11-19zm19-3zm0 12zm6-13zm10-4zm12 5zm20 11zm6 6zm9-8zm5 9zm0 4zm1-8zm4 6zm9-10zm50-16zm3 11zm5-7zm8 10zm1-14zm3 17zm27 4zm0 3zm13-21zm17 18zm40 5zm-3 23zm-40-10zm-18-3zm-25 19zm0 3zm-6-11zm-31 8zm-23-10zm-62 1zm-65-8zm-104 10zm-22-3zm-1-2zm-4-8zm-4 13zm-6-19zm-1 18zm-1-16zm-1 8zm-3-9zm-41 22zm-1-10zm-1 2zm-10-14zm-2 19zm-7-9zm-8-9zm-15 13zm-38-8zm-12-3zm-9 18zm-7-19zm-2 1zm0 9zm-1 15zm0-23zm-3 1zm-2 15zm-1-10zm0-11zm-3 15zm0 9zm-14-16zm-3-4zm0 13zm-10-9zm-9 46zm6-2zm0-22zm4 23zm8 0zm1 4zm0-4zm12-22zm3 14zm4-1zm1-6zm3-1zm1 7zm2 11zm2-13zm0 0zm3 13zm3-17zm6 2zm2 1zm6-2zm6-1zm10 7zm6 1zm2 0zm11 3zm0 2zm4 5zm0-6zm0-1zm9-19zm52 5zm11-5zm2 14zm8 14zm13-27zm2 23zm7-21zm2 10zm7 1zm10-6zm2 13zm0-13zm0-3zm3 7zm1 10zm0-4zm10-17zm7 16zm10 0zm3 3zm28-4zm119-15zm12 6zm2 0zm0 12zm6 3zm8-4zm10-3zm7-15zm1 26zm7-6zm4 6zm9-8zm6 10zm38-1zm2-23zm2 22zm2 0zm2-24zm2 9zm22 10zm8 5zm38-25zm21 53zm-44-9zm-5 14zm-1-7zm-18 3zm-6-8zm-7-8zm-2 12zm-1-12zm-1-2zm-3 14zm-2-9zm-3 0zm0-5zm-1 15zm0-1zm-2-12zm-3 11zm-19-20zm-1 24zm-19 2zm-10-10zm-1-13zm-6 22zm-4-3zm0-9zm-2 10zm-2-16zm-3 1zm-4-5zm-10 10zm-15-13zm-1 12zm-14-2zm-15 3zm-35 9zm-67-3zm-17-15zm-6-4zm-5 13zm-24-12zm-22 26zm-22-6zm-19-4zm-9-9zm-2 3zm-2 11zm-4 7zm0-9zm0 7zm-3 2zm-52-9zm-3-9zm-21-5zm-1 9zm-24 13zm-1-17zm0-1zm-3 1zm-11-8zm-1 2zm-1-2zm-5 14zm-18-5zm-4 6zm-17-12zm18 30zm16 0zm3 0zm16 15zm4-18zm3 19zm2 3zm2-23zm1 16zm0-1zm2 7zm2-15zm0 20zm2-4zm4-10zm0 6zm6 6zm60-18zm19-4zm116 5zm25-10zm57 19zm2-2zm35 8zm48-19zm1 13zm3 7zm6-19zm6-7zm4 24zm1 5zm2-1zm6-27zm3 21zm39-4zm13-2zm1-5zm1 6zm5-5zm7 11zm1-1zm1-15zm1 9zm2 4zm6-7zm6-1zm0 11zm9-11zm1 6zm2-14zm3 13zm15 7zm7-22zm36 12zm-37 45zm-11-27zm-5 26zm-6-11zm0 8zm-7-21zm-4 23zm-6-2zm-11-19zm-54-3zm-11 16zm-2-8zm-1 11zm-4-6zm-5-7zm0 3zm-3-8zm-7-3zm-1 15zm-1 9zm-7-11zm-1-7zm0 1zm-5 13zm-2-14zm-5 8zm0 11zm-8-6zm-35-17zm-1-1zm-112 19zm-206-15zm219 28zm1-3zm31 21zm104-13zm10-7zm29 17zm27 4zm15 1zm20 3zm1-18zm19 0zm5 13zm1-20zm2 7zm0 19zm1-12zm3 8zm0 5zm1-25zm0 23zm1-10zm1-6zm2 4zm5 14zm3-10zm5-10zm2-7zm22 10zm-27 44zm-2-14zm0 2zm-2-8zm0 7zm-2 16zm-1-14zm-5-5zm-1 5zm-1 6zm0-20zm-3 2zm-4-2zm-6 4zm0 9zm-6-1zm-3-2zm-6-4zm-2 3zm-7 19zm-30-16zm-30 4zm-3-10zm0 14zm-1-10zm-2 15zm-68-6zm-11-14zm-106 11zm-5 5zm-7 2zm-1 5zm0-1zm-3-4zm-1-22zm-3 18zm-4 7zm-5-1zm13 8zm14-3zm55 12zm46 4zm9 7zm4 2zm2-12zm0 2zm6-11zm5 21zm24-11zm4 5zm21-11zm2-2zm9-6zm10 15zm1 13zm2-5zm16-15zm33 18zm17-1zm10-14zm6-2zm-30 27zm0 9zm-3-5zm-2 17zm-3-9zm-19-2zm-6 9zm0-5zm-5-12zm-3 4zm-8-6zm-4 8zm-3 0zm-1-10zm-2 12zm-2-6zm-1 10zm-4-20zm-38 5zm-2 18zm-7 3zm-3-17zm-5 16zm-26-7zm-3-5zm-2 0zm-6-5zm0 17zm-1-14zm-8 11zm-9-7zm-8-14zm-36 14zm-40 4zm-1 1zm-1-16zm25 45zm21-1zm9 10zm24-28zm1 2zm0 16zm8-10zm6 0zm1-2zm0 8zm2-5zm1 11zm6-5zm4-4zm5-1zm1-7zm8-2zm5-1zm3 12zm1-4zm2-2zm1 9zm10-5zm7-5zm4 15zm7-4zm35 7zm2-11zm7 5zm16-10zm5-6zm19 5zm-21 26zm-1 0zm-78 17zm-4 8zm-92-16zm-9 10zm-6-19zm-7 6zm-2-1zm27 30zm84 16zm3-9zm1 3zm2 2zm0-16zm2 12zm8-7zm9 9zm3 3zm4-9zm4 7zm9-5zm1 10z" stroke="#74c4a8" stroke-width="16"/><path d="M1210 2367zm15 0zm0-1zm7 0zm2-15zm9 13zm59 24zm-57 6zm-1-15zm-1-3zm-1 15zm-7-16zm-24-3zm0 2zm-3 2zm-3 15zm-2-7zm-2-7zm-282 45zm1-8zm8-3zm1-6zm0 17zm7 3zm1-11zm0-1zm1 12zm2 4zm3-16zm1-13zm5 26zm3 2zm250-5zm0-7zm4-2zm4 10zm21 4zm2-11zm1 3zm66 13zm-75 6zm-1 14zm-9-18zm-4 3zm-11 10zm-242-4zm-11-12zm-6 19zm-2-21zm-2 2zm-23 4zm-3-4zm40 57zm7-2zm21-4zm8-5zm6-4zm2 15zm2-9zm1 1zm1 6zm27-25zm26 20zm48-12zm18 8zm22 2zm11 1zm5-10zm1-1zm2 5zm4 7zm4 2zm16 5zm14-20zm20-9zm4 24zm7-22zm2 25zm12-2zm24 2zm213 20zm-2 10zm-2-4zm-86 2zm-6 3zm0 1zm-7-16zm-4 10zm-1 0zm-4-11zm-4-4zm0-3zm-74-5zm-31 26zm-5-3zm-17-14zm-7-7zm-21 1zm-10 14zm-8-3zm-4-11zm-1-2zm-2 21zm-10-21zm-2-1zm-17 8zm-4 4zm-4-2zm-10 16zm-12 3zm-11 0zm-102-19zm-1 7zm0-11zm-1-6zm-3 2zm-1 21zm0-13zm0 2zm-5-9zm-2 5zm-5 3zm-24 4zm-22 13zm-6-12zm0 2zm-9 5zm-2-14zm-5 1zm-15 3zm-17 21zm4 12zm3-9zm2 10zm2 9zm2-8zm3-5zm6 0zm5 5zm4-3zm7 3zm0-1zm2-6zm3 11zm0-19zm3-3zm5 17zm3-14zm0 1zm23-4zm0 15zm5-15zm111 18zm16-5zm8-5zm3 0zm1-3zm7 13zm67 11zm10-25zm8 1zm2 24zm6-24zm2 11zm4 2zm1 11zm12-6zm0-21zm0-1zm7 8zm3 8zm2-15zm1 17zm9-9zm2-2zm39 13zm4 5zm10 2zm18-2zm7-10zm1 8zm10 3zm13-21zm9 16zm1-14zm1 0zm5 20zm2-24zm1 5zm1 20zm0-15zm0-4zm0 2zm1 10zm0-13zm1 4zm1-1zm1 9zm1-16zm1 2zm0-5zm1 17zm13 2zm1-5zm41-15zm30 9zm3 4zm6 25zm-12-2zm-33 22zm-48-14zm-27-9zm-9 2zm-11 4zm-18 5zm-6-13zm-15-1zm-3 2zm-5 0zm-2 10zm-2-12zm-217-1zm-3-1zm-11 13zm-133 0zm-1-13zm-6 4zm-1 10zm-1 5zm-1-15zm0 5zm-10-9zm-20 2zm-10-1zm2 36zm0 14zm24 3zm58-9zm10-16zm109 0zm10 4zm0 16zm1-20zm2 26zm2 1zm7-22zm0 6zm2 2zm0-4zm0 12zm2-4zm4 1zm2-7zm21 14zm159 0zm3 2zm6-19zm2 17zm0-5zm3 6zm2 1zm0-23zm1 10zm2-9zm2 23zm8-1zm2 2zm8-10zm47-15zm15-4zm1 8zm1 10zm1-7zm1 9zm0-7zm0 8zm1 3zm4 5zm1-6zm17 2zm4-21zm13 9zm7-6zm48 6zm3 5zm16 26zm-1-4zm-3 9zm-17-15zm-16-2zm-21 22zm-7 2zm-5-7zm-2 1zm0-5zm-6 7zm-2 4zm-8-5zm-17-14zm-3 3zm-3-5zm-59-2zm-6 8zm-20-9zm0 7zm-3-4zm-3 2zm-8-6zm-6 12zm-2-5zm-11 6zm-9-2zm-44-3zm-11 17zm-72-22zm-6 10zm-9-3zm-33 0zm-3-10zm-2 11zm-42-7zm-119 9zm-4 15zm-6-24zm-14 22zm-5-7zm0-16zm-8 8zm-2-6zm-2 3zm0 7zm-2 13zm-2-11zm23 30zm3 2zm2 5zm11-18zm17 18zm4-10zm5 11zm2-19zm258-3zm78 6zm22-6zm5 19zm10-1zm51 6zm9-2zm42-25zm3 23zm3-14zm4-10zm1 12zm4 0zm7-9zm12 16zm2-7zm10 1zm15 10zm10-21zm6 17zm-19 34zm-5-4zm-17 5zm-3-10zm-6 8zm-5 6zm-10-21zm-16 12zm-18-15zm-14 12zm-1-16zm-25 19zm-3 5zm-23 1zm-12-13zm-4 9zm-7 1zm0-15zm-5 18zm-22-3zm-3 0zm-43-21zm-134 49zm30-8zm21 2zm18 6zm0-2zm16-3zm113-9zm5-3zm1 26zm7-19zm9-6zm0-2zm5 17zm3 10zm0-20zm1-2zm3 14zm3-19zm1 27zm10-2zm10-8zm2 4zm4-3zm1-1zm0-19zm4 13zm27 8zm3 5zm3-24zm14 27zm0-15zm1 15zm2-25zm10 7zm10-10zm0 29zm-8 17zm-1 9zm-3-2zm0-14zm-7 18zm-3-9zm-6-9zm-20 19zm-9-21zm-5-6zm-2 18zm-3-16zm-5-4zm-15 15zm-8-3zm-22 0zm0-8zm-3 1zm-1 17zm-4-10zm0-1zm-3 11zm-175 3zm-5-6zm-5 4zm-1 6zm0-6zm-2 6zm-1-1zm0 0zm-4 0zm-4-16zm-2 15zm-4-14zm-1 9zm-2-15zm-3 13zm-2-8zm-2 21zm6 22zm4-25zm8 3zm1 0zm2 10zm3-10zm1 5zm0-3zm10-4zm155 26zm3-2zm25-8zm4-5zm1-8zm4 10zm0-4zm1 14zm2 3zm1-6zm0 4zm0-19zm1 18zm1 2zm8-22zm1 22zm4-10zm35 11zm1 2zm0-26zm2 26zm11-25zm42-2zm-48 40zm0 17zm-1-27zm-5 10zm-1-9zm-2 5zm-4 7zm0 4zm-3-18zm-14 10zm-3-7zm0 17zm-16-2zm-5 1zm-9-6zm-69 7zm-14-17zm-37 0zm-69 0zm-27-1zm113 29zm8 0zm29 10zm25-5zm47 16zm7 4zm3-21zm1-2zm5 19zm20-22zm-28 43zm-2-6zm-86 8zm35 23zm-90 24z" stroke="#a4d9a4" stroke-width="16"/><path d="M1164 2329zm-4 20zm2 0zm43 18zm30 2zm4-7zm84 32zm-1-10zm-7 11zm-2-7zm-74 2zm-39-19zm-8 2zm-56 24zm-213 15zm202 16zm9-22zm3 13zm5-4zm69 29zm-65-10zm-194-3zm-19 41zm7 4zm10 1zm2 0zm190 1zm1 4zm32 5zm42-12zm11 0zm138 31zm-1 9zm-6-5zm-2-1zm-3-2zm-14 3zm-1 5zm-8-1zm0-5zm-8-6zm-86 10zm0 3zm-7-3zm-2-17zm-31 13zm-18-11zm-9 18zm-3 0zm-5-13zm-8 5zm-8 4zm-4 7zm-2-5zm-137-16zm-8 6zm0-7zm-6-5zm-5 7zm-21-7zm-1 13zm-6-9zm-6 15zm-6-19zm-5 24zm-3-3zm-4 0zm0 4zm-1-11zm0 10zm-3-12zm-1-8zm-3 6zm-3-5zm-39 38zm5 4zm8 7zm19 3zm2-16zm2 3zm3 0zm26-6zm157 3zm4 2zm8 0zm11-2zm4-9zm3 11zm1-4zm2 11zm4-17zm38-3zm3 5zm2 14zm4 7zm4-17zm2 0zm28 3zm0-9zm30 8zm16 3zm8 0zm3 10zm15 2zm1-2zm27-23zm13 7zm17 4zm4 15zm4-26zm12 10zm2 16zm2-21zm1 14zm1-3zm2-7zm1 2zm1-13zm11 24zm4 3zm17-9zm2-3zm29 6zm3-14zm4-1zm1-2zm4-2zm3 8zm1 16zm7-7zm0-9zm3 2zm3 6zm4 4zm2-14zm7 9zm-7 36zm-2 1zm-3-24zm-1 12zm-9-5zm-1 6zm-15 15zm-1-1zm-6-3zm-5-6zm-3 9zm-7-26zm-11 22zm-12-1zm0-9zm-1-7zm-4 5zm-22-7zm-9 4zm0-4zm-11 7zm-25 16zm-2-6zm-26 7zm-1-1zm-2-4zm-1 2zm0-18zm-1 15zm-2-18zm-5 17zm-5-16zm-1-3zm-84 0zm-8 5zm-89 13zm-27-6zm-155-11zm-6 3zm-3 4zm190 27zm4 7zm2-9zm5 2zm0 3zm5 15zm0-25zm3 18zm5 2zm3-11zm0 5zm4-4zm7 7zm12-2zm64 13zm60-12zm5 5zm1-6zm0-3zm5-4zm0 12zm5-1zm5-6zm4-11zm104 1zm10 7zm3 9zm1-16zm7 17zm6-12zm6-1zm9-2zm8 1zm1 2zm23-8zm8 21zm2-13zm3-9zm18 38zm-12 20zm-4-20zm-22 16zm-9-15zm-5 12zm-9 7zm-3-12zm-1 8zm0-8zm-7-2zm0 7zm-24-14zm-16 4zm-73-7zm-13 0zm-20-3zm-2 21zm-3-3zm-3-11zm-3 7zm-47 8zm-12-12zm-3 7zm-8 7zm-74-25zm-7 8zm-67 11zm152 26zm1-4zm3-4zm54 17zm9 3zm4-9zm1 5zm2 5zm6-11zm11-12zm127 19zm10-22zm7-1zm10 16zm3 11zm4-23zm6 18zm1-15zm0 21zm7-16zm-10 25zm-11 0zm-10-8zm-39 25zm-35-13zm-7 10zm-5 5zm-42-7zm-5 9zm-13-21zm-3 16zm-4-13zm-2-1zm-2-6zm0 7zm-1 17zm-8-28zm-17 15zm-47 13zm-28-9zm-102 38zm42 0zm10-9zm6 5zm1 6zm6-27zm23 25zm3-18zm1 7zm1 5zm13-7zm0-1zm2 3zm0 9zm1 1zm2-10zm0-16zm3 7zm1-1zm6 13zm12-16zm1 22zm41-6zm47-19zm8 25zm3-9zm1-16zm9 15zm3 5zm4-3zm22 8zm0-23zm4 3zm5 8zm3-3zm26-10zm2 13zm9-10zm19 29zm-60 1zm-20-1zm-1 2zm-20 1zm-7-5zm-1 11zm-3-2zm-111-2zm-10-7zm-7 0zm-42 27zm-1-7zm-3-4zm-4 5zm-9 8zm-2-1zm-7-10zm-1 6zm0 21zm9-9zm4-3zm8 13zm6 3zm5 5zm6 3zm8 0zm7-2zm64-15zm9 18zm64-15zm16 9zm6-11zm10-9zm4 9zm4 13zm5-15zm2 5zm31 15zm3-9zm9-7zm3 17zm-6 8zm-9 2zm-1-10zm-6 8zm-3-4zm-5 1zm-11 9zm-1 1zm0-1zm0-8zm-16 0zm-19 20zm-97-13zm-11 4zm-38-13zm-7 17zm-5-10zm-5-11zm-5 10zm-6-4zm-1 5zm-1 1zm-1 4zm-39 4zm0-15zm42 41zm1-6zm5 6zm2 4zm8-19zm1 4z" stroke="#d2ec9e" stroke-width="16"/><path d="M1242 2300zm-88 38zm-6 17zm3 3zm2-3zm18 11zm7-15zm0 13zm1-8zm42 19zm-27-3zm-13 2zm-18-1zm-7 10zm-17-1zm-21-9zm-18 40zm25 7zm3-18zm2 21zm2 4zm2-11zm0 1zm2 8zm8-20zm5 11zm0-14zm2 16zm0 0zm4 0zm37-11zm6 31zm-19-1zm-62 5zm-18-4zm-2-2zm-10 13zm-10-11zm25 30zm58 15zm22-18zm74 47zm-34 5zm-53-8zm-161-6zm-14 11zm-31-9zm-10-1zm-6 14zm-39 19zm0-12zm32 10zm162 11zm13-11zm5 7zm0-13zm6 6zm2-2zm0-1zm2 0zm1 16zm1-9zm1 5zm3 3zm1 0zm2-3zm11-4zm0-1zm15-11zm3 7zm3 5zm5-3zm3-11zm3-5zm3-1zm6 21zm2-17zm3 13zm1-2zm3 6zm84 0zm72 4zm4-14zm20 5zm44 13zm10-9zm4 4zm4-2zm2 0zm2-6zm20 9zm7-1zm0-8zm3 1zm14 41zm-5 1zm-9-13zm-12-7zm-1 8zm-6-10zm-5-5zm-17 9zm-2-1zm-2-6zm0-4zm-7 0zm-2 12zm-3 5zm-2-1zm-2 10zm0-17zm-5-3zm0-6zm-2 16zm-7 6zm-28-19zm-19 11zm-11 4zm-36 3zm-9 5zm-1-3zm-4-5zm0 11zm-4-24zm-11 17zm-133-18zm-15 19zm0-11zm-7 14zm-1-11zm-8-12zm0-1zm-5 4zm139 33zm38 1zm3 16zm6 0zm0-9zm117-17zm0 10zm6-1zm18 6zm17 0zm3 0zm0 8zm4-16zm7-1zm8-4zm17 19zm-9 19zm-8 9zm-13 9zm-3-25zm-7 1zm-44-2zm-69-1zm-33 21zm-13-9zm-3 6zm-4-9zm-1-1zm-11 2zm-3 1zm-1-9zm-7-2zm-40 20zm-105-19zm85 41zm11 12zm13 3zm3-21zm1 16zm1-21zm20 26zm2-14zm6 3zm7-16zm6 26zm15-3zm0 1zm7-16zm160 5zm21 6zm6 3zm-7 11zm-86 19zm-80-11zm-2-12zm0 15zm-8-4zm-1 10zm-1 7zm-50-25zm-20 2zm-9 13zm-15-16zm-4 24zm-6-9zm-274-17zm233 36zm24 4zm3 18zm0-12zm10-15zm1 13zm2 7zm0-1zm0 6zm0-3zm1-14zm1 17zm2 3zm1-8zm0-4zm0-15zm6 20zm5 5zm2-26zm9 6zm32 7zm19 5zm6 8zm27-24zm10 9zm6 13zm8 4zm3-15zm7-8zm2 10zm4 2zm2-12zm23 4zm18-6zm50 54zm-170-20zm-101-4zm0 8zm-14 15zm-4-1zm0-4zm-3 4zm-7 3zm-28 23zm7-12zm17-2zm2-6zm2 18zm0 3zm7-10zm9-9zm3 13zm1-10zm6 6zm2 7zm8 2zm12-4zm174-15zm8 4zm38 21zm-15 5zm-5 9zm-21-7zm-122 6zm-16-3zm-7-8zm-57 24zm-3-19zm0 0zm-6-4zm-23 12zm26 33zm2-15zm2 12zm0-12zm1 8zm1 6zm2-12zm2 6z" stroke="#f5fab0" stroke-width="16"/><path d="M1245 2301zm1-11zm3 38zm-24 1zm-39 6zm-97 23zm9 9zm31-8zm7 9zm5-7zm2-4zm9 3zm3-6zm4-6zm0 4zm5 8zm1-4zm3-16zm5 17zm6 6zm0-17zm3 22zm5-24zm7 19zm3-16zm87 13zm-5 21zm-11 0zm-1-1zm-73 2zm-1-4zm-1 17zm-6 4zm-1-4zm-1 0zm0-3zm0-6zm-2-14zm-5 1zm-13 5zm-1 7zm-9 10zm-3-23zm-9-1zm-5 24zm0-19zm0 13zm-7 10zm-1-24zm-4 8zm-4 4zm-4 5zm-25-20zm10 55zm15-11zm1-8zm7 13zm3 0zm1 0zm7 8zm0-16zm6-9zm11 19zm0 5zm0-6zm2 4zm5 0zm12-11zm8-3zm5 3zm2-5zm8 21zm-24 2zm0 2zm-24-2zm-1-2zm-4 11zm-10-5zm-13-7zm-4 5zm-5 21zm-4-2zm-3-15zm-1 17zm9 10zm42-2zm20 2zm2 47zm-205-13zm154 40zm3 1zm1 1zm2-5zm13 7zm11-14zm6 2zm17-9zm8 3zm2 15zm1-17zm239 16zm8-1zm9-9zm10 11zm8-1zm24 39zm-50-28zm-9 4zm-1 1zm-15 13zm-114 5zm-5-3zm0 4zm-8-4zm-2-9zm-162-2zm-1 18zm-9-18zm11 22zm9 13zm118 13zm14-1zm16-6zm1 2zm6-4zm2-18zm0 18zm3 1zm1-10zm2 17zm4-7zm-17 18zm-12 9zm0-6zm-7 1zm-15-10zm-16 17zm-79 12zm8 14zm57-11zm34 4zm9 11zm5-10zm1-1zm0 14zm3-22zm2 18zm6 6zm1-8zm0 0zm3-4zm3 9zm193 4zm-163 33zm-8-11zm-10-16zm0 19zm-57 7zm-3-7zm-8-1zm-1-6zm-5-8zm-69 11zm29 19zm8 16zm7-5zm15 9zm2-10zm0-13zm0 21zm3-4zm3-3zm2 6zm2 2zm1-5zm1-19zm8 22zm4-11zm7 18zm1-8zm6 5zm39-8zm-33 18zm-1 8zm-39-9zm-6-3zm0 4zm-6-1zm-2-3zm-6 5zm-6-1zm-11 12zm-30 10zm-54-23zm20 38zm62-4zm2 6zm0-5zm10 14zm5-15zm2-4zm2 21zm8-25zm1 16zm3 11zm1-10zm3-2zm1 2zm22-14zm2 24zm4-25zm-7 36zm-9 0zm-4 16zm-1 3zm-4-21zm-3 0zm-9 3zm-48 18zm-17-3zm-11-6zm-6-18zm16 37zm8-5zm1 19zm1-16zm2 4zm1 4zm6-1zm4 7z" stroke="#fee999" stroke-width="16"/><path d="M1216 2303zm13 6zm17-14zm12-3zm20 46zm-19-17zm-22 14zm-17-23zm-126 56zm49 0zm1-10zm5 2zm3-3zm7-9zm1 1zm2 5zm2 2zm7 5zm7 1zm13 4zm4-6zm5 5zm25 4zm39-7zm15-13zm45 29zm-135 1zm-8 11zm-3-5zm-8 11zm-2-14zm0 4zm-21 7zm-10-15zm-14 6zm-21 15zm-5-13zm-7 37zm13-15zm6 6zm5 9zm44-1zm14-14zm1 20zm0-8zm3-19zm6 5zm1 17zm6-18zm1 19zm0 3zm1 19zm-14-4zm-6-2zm-3-7zm-2-2zm-2 9zm-43 17zm-14-16zm-3 12zm-6 2zm0 2zm-6-11zm26 18zm39 56zm0 6zm264 22zm21 3zm-163 28zm-145-26zm121 42zm19-3zm18-5zm-22 32zm-37-8zm-64 24zm-10-1zm-30 20zm3 1zm4-3zm3-11zm1 27zm126-16zm1 4zm3-6zm-58 49zm-20-13zm-22-4zm-4 5zm-18-8zm-19 16zm-2-9zm55 16zm8 16zm4-15zm18 15zm7 4zm6-4zm3 4zm6 3zm2-3zm9-1zm9 3zm59-5zm-53 13zm-1 8zm-8-4zm-1-5zm-26 10zm-18 10zm-4-21zm0 27zm-3 0zm-25 15zm7 4zm12-6zm4 3zm1-7zm1 8zm1-4zm4 10zm4 3zm2 5zm4-23zm1 17zm12-12zm6 36zm-17-4zm-6-7zm-61 42zm5-4z" stroke="#fdc877" stroke-width="16"/><path d="M1205 2306zm45-10zm-6 26zm-1 4zm-62 0zm3 36zm1-21zm1 9zm2 4zm7-5zm19 9zm7 6zm14-9zm44-13zm10 9zm17 0zm4 4zm10 1zm-1 26zm-5-9zm-19 4zm-137 8zm9 25zm8 10zm1 2zm5 10zm-12 27zm-11-15zm-5 9zm-57-6zm100 182zm-36 0zm-8 4zm-7 13zm0 17zm2-17zm4 10zm2-12zm6 2zm0 1zm3 4zm4 7zm2-10zm16 2zm8 0zm2-4zm3 6zm0-4zm0 2zm21-4zm-39 47zm-3-14zm-3 16zm-12-10zm-10 2zm-1-9zm-1-6zm-1 9zm-2 1zm-1-8zm-2 3zm-5-3zm-5 1zm-3-2zm-2 2zm2 32zm7-4zm34 0zm13-3zm2 5zm1 8zm1 2zm5 6zm0-14zm1 16zm3 0zm3-6zm25 9zm1-4zm19 7zm-10 18zm-39 14zm19 7zm0 31z" stroke="#fba25c" stroke-width="16"/><path d="M1179 2309zm2-1zm86 24zm-86-9zm-6-8zm-1 5zm-12-5zm22 37zm5 5zm14 3zm125-1zm-19 23zm-130 222zm-10 35zm-4-29zm-3 9zm-13 10zm20 30zm1 6zm8-19zm0 1zm9 17zm8-19zm1 13zm5-9zm3 4zm0 15zm2-12zm1-8zm1 9zm6-10zm-9 52zm-5-27zm-7 16zm-2 3zm-3 6zm-2-27zm-6 21zm-2-12zm-3 8zm-13-8zm-4-9zm-15 26zm-16-23zm-6 11zm-1 0zm-2-4zm-1-8zm0 27zm-7-24zm86 25zm13 5zm29 45z" stroke="#f57d49" stroke-width="16"/><path d="M1192 2298zm7 4zm-14 8zm-69 359zm13-3zm40-1zm3-2zm0-12zm2 13zm6-19zm1 24zm10-26zm5 34zm-6-2zm-2 19zm-4-2zm-5-13zm-2-8zm-20 27zm-34-18zm55 20z" stroke="#e85a3c" stroke-width="16"/><path d="M1108 2666zm24 12zm-26-4z" stroke="#d63a30" stroke-width="16"/></g>
<ellipse cx="125.1" cy="234.3" rx="11.6" ry="7.6" transform="rotate(20 125.1 234.3)" fill="none" stroke="#ee22bb" stroke-width="1.35"/>
<ellipse cx="115.1" cy="268.9" rx="9.8" ry="6.4" transform="rotate(-38 115.1 268.9)" fill="none" stroke="#78e826" stroke-width="1.35"/>
<text x="193.2" y="223.4" font-size="10.8" text-anchor="middle" letter-spacing="-0.25" fill="#111" stroke="#111">CCR5</text>
<rect x="158.5" y="225.6" width="69.3" height="68.9" fill="#fff" stroke="#4a4a4a" stroke-width="1"/>
<g transform="scale(0.1)" fill="none" stroke-linecap="round" stroke-linejoin="round"><path d="M1999 2362zm203 180zm22 17zm-36 10zm-138-16zm-180 7zm285 40zm56 38zm-429-7zm-8 15zm420 0zm-288 36zm-206-6zm245 45zm252 35z" stroke="#3f6fb2" stroke-width="16"/><path d="M1980 2312zm89 70zm-108-5zm-320 50zm1-3zm54 1zm7-12zm96-12zm178 12zm4 0zm38 36zm-40-15zm-38-2zm-66 3zm-203 3zm-30-5zm11 44zm4 0zm3 2zm6-2zm20-5zm1 13zm4 1zm104-3zm222-9zm-150 44zm-123-19zm-52 14zm-7-13zm-18-10zm-41 46zm69 7zm95-4zm49-7zm383 8zm-111 18zm-54 16zm-361-2zm102 17zm398 6zm55 39zm-52-5zm-81-1zm-67-10zm-155 5zm-89-7zm-25 20zm20 19zm139 14zm229-22zm52 31zm-317-4zm47 52zm218 17zm-259 14zm-7 16zm41 5zm141-17zm61 2zm-121 141zm31-6z" stroke="#3a8dbb" stroke-width="16"/><path d="M1903 2368zm-1 3zm-11 23zm-232 29zm15 2zm1 2zm19-17zm4 15zm0-25zm204 4zm48 20zm23-2zm-42 13zm-191 9zm-39 7zm-23-13zm-4 19zm-4-26zm-9 7zm-5-2zm-1 18zm-2-3zm-6 6zm-4-10zm-3-17zm9 33zm2 20zm0 6zm1-4zm0-6zm0 1zm3-2zm1-13zm0 19zm1-19zm2 3zm1 10zm0 4zm1-13zm7 3zm3-5zm2 18zm1-7zm2-5zm6-5zm11 4zm14 7zm275 4zm-217 17zm-43 5zm-18-13zm-15 1zm-4-2zm-19-1zm-5 3zm474 55zm-500 4zm226 49zm298 3zm33 2zm59-17zm-19 23zm-490 45zm450 17zm-88 7zm-5 1zm-44-11zm-36 2zm-81 21zm41 28zm24 64zm2-11zm91 8zm2 3zm11-15zm66 1zm-62 27zm-57 1zm-9-4zm-12 4zm0-7zm-5 23zm-11-20zm-7-6zm-41 4zm-18 8zm15 19zm43 19zm19-6zm1 7zm2 1zm9-16zm0 0zm5 5zm3-4zm0 1zm1-7zm62 22zm10-5zm3 4zm-45 24zm-84 4zm-1-13zm-14 1zm-3 1zm-60 3zm153 42z" stroke="#4fa6b4" stroke-width="16"/><path d="M1965 2306zm-318 110zm17 13zm4-3zm5-18zm6 14zm1-8zm9 6zm0-15zm5 6zm3 3zm0-1zm7-13zm338 30zm-43 21zm-13-5zm-55-13zm-232-3zm-2 2zm-12 5zm-8-6zm-3 5zm-3-4zm-7 9zm-10 13zm-5-19zm-13 21zm6 23zm8 6zm0-2zm0 5zm2-18zm1 15zm4-5zm2-6zm1 4zm1-9zm1 1zm0 7zm2 5zm1-5zm1 2zm2-11zm2 12zm0-10zm2 10zm1-18zm1 23zm9 3zm17-12zm52-9zm244 5zm-330 20zm-2 2zm-13-2zm24 41zm113 10zm143-3zm17 8zm52-19zm28 7zm0-9zm64 51zm-258-10zm-43-12zm-32-4zm-23 8zm331 34zm-147 35zm31 19zm63 6zm181 10zm-108 18zm-20-4zm-82 22zm191 9zm-87 33zm-11 4zm-168 11zm90 20zm0-4zm6 11zm3 0zm4-3zm0 5zm2-12zm3 5zm4-4zm9 7zm5-13zm18 11zm34 8zm40-8zm-34 15zm0 10zm-3-1zm-46 10zm-7-20zm0 23zm-7-12zm-7 9zm-2-3zm-11-15zm-7 6zm-3 2zm-2 9zm0-1zm-3 5zm-3-1zm-1-14zm-1 14zm-1-7zm-6 4zm-3-6zm-10-4zm0-3zm-21 3zm-36 37zm11-3zm1 5zm24-5zm24-1zm3-1zm4 4zm4-5zm1 4zm1 3zm3 3zm0-4zm3 5zm6-4zm1 7zm2-17zm5 3zm3-13zm2 27zm7-15zm1-4zm2-2zm3 5zm0-9zm3 9zm5-1zm0 2zm2 16zm2-19zm3 7zm2 11zm1-12zm0-1zm0 12zm1-6zm3-16zm3 12zm2 4zm10-11zm11 9zm31 8zm3-21zm1-2zm25-3zm-19 32zm-11 5zm-14-8zm-4 6zm-6 14zm-26-15zm-14 4zm-4 11zm-2-19zm-3 5zm-4-4zm-7 17zm-6 0zm-9-7zm-1-7zm-2 20zm-3 1zm-2-9zm-10-14zm0-2zm-4 5zm-12 1zm-41 7zm-11 0zm-1-5zm0 0zm-2-1zm51 26zm19 0zm21 7zm2-11zm0 2zm4 16zm0 0zm1-1zm1 9zm-63 11z" stroke="#74c4a8" stroke-width="16"/><path d="M1683 2412zm5-1zm1 11zm11 7zm5 4zm-62 51zm2 0zm11-19zm2 7zm0 10zm4-10zm17 12zm1-5zm5-12zm327 322zm3-13zm8 10zm3 0zm11-1zm4-4zm14 6zm3-2zm26-9zm5 6zm0-2zm3 7zm1-3zm0 0zm1 3zm1-16zm1 10zm0 4zm0-9zm1 13zm0-5zm2 0zm2 0zm6 2zm4-10zm2 8zm33 3zm19-2zm0 3zm1 2zm-6 8zm-9-1zm-7-4zm-20 3zm0-1zm-1 23zm-2-7zm-3 0zm-13-2zm0 9zm-5-8zm-2-5zm-3 0zm-5-4zm-1 15zm-25-1zm-31-18zm-1 0zm-4 16zm-10 3zm-4-10zm-2 7zm-5 1zm-3-5zm-4 6zm-1-11zm-4 11zm-2-16zm-1 4zm-17 3zm0 7zm-8 1zm-3 4zm-16-15zm-13 36zm5-4zm14 0zm8-13zm5 21zm1-9zm8 5zm1-10zm6 0zm1 4zm0-6zm0 13zm1-1zm3-17zm1 22zm1-5zm3-3zm0-7zm4 3zm14-10zm5 25zm1-27zm1 8zm2 1zm3 7zm2-8zm2 12zm13-14zm3 4zm8 7zm3 3zm3-1zm7-8zm20 13zm4-11zm9 10zm10-19zm21 11zm5 3zm-28 26zm-9-10zm-30 14zm-8 0zm-13-9zm-14-6zm-27 24zm-5-21zm-5 17zm-7-5zm-3 2zm-8-13zm-23 7zm-7 15zm-1-26zm-1 9zm-5 9zm0-9zm-5 9zm-1-9zm-3 10zm-1 0zm0-13zm-5-6zm-7 24zm22 16zm1-4zm10 20zm26-28zm5 4zm8-5zm7 11zm14-2zm4 3zm0 5zm1-16zm2 24zm5-6zm10 1zm2-4zm15-4zm3-3zm6 3zm-96 21z" stroke="#a4d9a4" stroke-width="16"/><path d="M2038 2338zm32 17zm4 18zm-293 59zm-98 32zm556 43zm-479-14zm-11-1zm377 84zm-9-14zm-3 2zm-11 2zm-13 6zm-37-4zm-6-12zm-407 47zm8 0zm399-22zm67 27zm8-19zm12 4zm-235 17zm-252 29zm258 7zm35-3zm134 23zm102 65zm-236 44zm19-1zm5 6zm4 3zm3 5zm4-12zm1 2zm22-14zm9 11zm14-10zm29 10zm23-2zm6-2zm4 6zm4-5zm4 6zm1-4zm3 13zm25-13zm27 15zm2 0zm2 0zm0-14zm3 5zm9-7zm4 23zm-4-6zm-13 0zm-2 11zm-1-8zm-1 25zm-2-20zm-3 11zm-3-18zm-2 4zm-3 5zm-8 4zm-1-3zm-3-7zm-3 22zm-8-13zm-18 4zm-3 4zm-4-20zm-61 12zm-2 9zm-19-21zm0 23zm-11-18zm-19 18zm-1-16zm-5-6zm-36 14zm0 36zm26-9zm12-10zm0 16zm15-4zm2-5zm3 6zm7-14zm7 2zm13-3zm3 7zm2-7zm31 14zm11-12zm6 6zm5 6zm0 5zm2-2zm10 6zm9-6zm10-15zm5-2zm1 7zm5-6zm-3 31zm-73 23zm-15-7zm-8-3zm-11-9zm-8 16zm-1-9zm-5-2zm-12-12zm-7 26zm-8-10zm-4 13zm-1-27zm-1 16zm-7-3zm-1-8zm-3 17zm-7 2zm-2-7zm-7 1zm-4-8zm14 26zm19 19zm3-21zm42-5zm6 8zm8 11zm6-12zm3 7zm1 3zm24 3zm7-21zm1 19zm9-5z" stroke="#d2ec9e" stroke-width="16"/><path d="M1952 2298zm53 3zm-45 64zm3-5zm22 9zm39-7zm15-20zm27 9zm18 27zm-29-1zm-11 5zm-99 13zm-138-2zm-79 31zm32-7zm33-5zm7 10zm4 1zm111-5zm17-10zm66 15zm30-16zm28-5zm-263 31zm-6 2zm-13-2zm-5 19zm-5-19zm-4 8zm-9 29zm0 17zm2-13zm4 6zm0 5zm1-4zm1 6zm21-11zm-7 27zm-1-4zm-6 14zm-1-11zm-2-4zm-1 8zm-7-9zm-11 6zm-14-3zm-7 5zm-33-6zm276 26zm73 21zm29-1zm2 3zm3-1zm104 2zm18-10zm45-5zm-56 16zm-20 14zm-36-5zm-28 3zm-9 9zm-15-17zm-9 17zm-4 7zm-2-4zm-1-16zm-2-3zm-6 17zm-1-7zm-2-10zm-5 16zm-3-4zm-2 12zm-253-22zm-102-6zm-15 8zm-3 15zm-8 4zm6 9zm4 19zm7-1zm2-13zm176 15zm17-21zm20 5zm12 7zm136-1zm4-16zm12 6zm12-3zm33 22zm9-8zm28-14zm133 40zm-35-3zm-12 17zm-15-12zm-74-16zm-3 23zm-28-20zm-49 10zm-7-5zm-40-6zm-77 27zm0-4zm-4-25zm-1 19zm-2-10zm-3 15zm-10-5zm-2-15zm-4 5zm-14 2zm-36-10zm-204 15zm-4 20zm251 6zm17-5zm6 8zm0-9zm19 0zm37-3zm35 5zm25 16zm5-12zm8-2zm0 8zm15 4zm30 6zm43 0zm13-5zm6-19zm5 31zm-9 11zm-84-16zm-2 17zm-6-6zm-2 17zm-2-17zm0 9zm-186 30zm25 7zm55-6zm2 1zm21-4zm21 4zm4-11zm8 18zm93-22zm5 10zm12 10zm10-8zm3-14zm5 8zm5-4zm19 0zm5-9zm7 2zm4 1zm57 9zm-29 32zm-42-4zm-37 3zm-11-9zm-104 2zm-23 5zm-13-7zm-5 17zm-7 6zm-34-15zm-18 14zm-4-1zm-2-8zm-8 12zm-4-5zm-1 5zm-4-27zm-1 22zm-8-11zm11 30zm6-7zm33 14zm8 2zm5-13zm2 1zm14 3zm1-4zm1-8zm1 12zm2 13zm1-16zm7-9zm1 16zm2 11zm2-10zm3 4zm1-3zm24-9zm9 18zm48-16zm91 15zm3 2zm14-3zm-11 16zm-1-5zm0-5zm-1 14zm-1 0zm0-6zm-1-7zm-2 9zm-2-1zm-1 1zm-2 7zm-2-15zm-14 7zm-3 6zm0-2zm0-1zm-2-4zm-9-1zm-5-3zm-6 1zm-13-7zm-88 24zm-15-16zm-7-8zm0 7zm-12 3zm-32 5zm-16-10zm-17-1zm-11 15zm-1 2zm-15-18zm34 44zm2-11zm2 4zm31-6zm0 25zm3-9zm21-2zm6-5zm153-10zm8 4zm-104 51zm-35-3zm-46 3zm-1-16zm-17-8zm-3 16zm4 24zm99-10zm10 5zm9 9z" stroke="#f5fab0" stroke-width="16"/><path d="M1959 2302zm17 1zm13 6zm17-19zm0 5zm4 1zm8-4zm9 40zm-8-11zm-10 7zm-5-6zm-1 4zm-6 9zm-12-6zm-185 29zm146-8zm24 16zm11-2zm58-15zm5 11zm5-9zm31 5zm-1 26zm-30-3zm-1 5zm-20-2zm0-1zm-1-1zm-73 5zm-2 10zm-6 4zm-2-4zm-3-21zm-3 11zm-15-12zm-114 22zm-11-13zm-3-3zm-2 20zm-2-26zm-3 14zm-64 41zm9-8zm15 8zm1-8zm10-2zm2 2zm5 9zm5-8zm0-15zm8-1zm2 16zm2-7zm1 10zm1 3zm5-11zm9 0zm10-4zm4 5zm100 11zm0-6zm14-12zm6 18zm0-8zm2 0zm1 2zm0-21zm26 15zm28 13zm1-1zm6-8zm1-1zm8-1zm5 5zm6 3zm4-6zm2 13zm-1 4zm-5 6zm-1 13zm-6-17zm-10-6zm-70 1zm-1 25zm-117-17zm-7-10zm-2-2zm-6 7zm-10-3zm-8 22zm-3-14zm-4 11zm-9-23zm-14 7zm-1 15zm-2-17zm-5 4zm-1 16zm-31 5zm1 17zm1 12zm7-2zm13-15zm3-10zm5 21zm7-12zm5 6zm4 12zm1-20zm6 20zm1-24zm10-3zm6 6zm7-7zm2 24zm14 3zm17-3zm59-5zm45 2zm3 0zm9 5zm66-17zm4-9zm20 22zm95 5zm117 29zm-27-9zm-254-15zm-6 11zm-7 8zm-67-11zm-56 13zm-14-21zm-2 1zm-8 18zm-21-11zm-5 6zm0-11zm-4-4zm-1 21zm-1-8zm-3 6zm-3-13zm-3 6zm-1 10zm-26-17zm-5-5zm-3 17zm-7-5zm-12 4zm-5 5zm-34 36zm12 0zm22-26zm8 6zm0 8zm80 5zm57-19zm25-3zm18 20zm3-7zm1 9zm8 5zm1-5zm4-5zm9 2zm10-7zm24 9zm9-17zm1 21zm9-15zm17 8zm22-8zm34 6zm18 12zm0-4zm1 2zm1-5zm4 5zm3-10zm5 13zm1-8zm19 5zm8-2zm20 5zm27-8zm3-2zm11 9zm22-6zm2 6zm39-17zm14 8zm2-2zm11 1zm-39 40zm-6-3zm-8 3zm-8-22zm-4 6zm-3 5zm-2-1zm-1 8zm-1-15zm-4 10zm-8-12zm-16 8zm-17-4zm-6 7zm-9 3zm-12-3zm-21-1zm-18 12zm-1-6zm-2-20zm-1 23zm-2 0zm-1-21zm0 18zm-4-18zm0 24zm-1-8zm-4-21zm-2 3zm-4 9zm-2-8zm-2 18zm-148 1zm-10-13zm-39 9zm-9-9zm-13-9zm-40 8zm-3-6zm-11 6zm-74 10zm-6-5zm0 8zm-2-18zm-3 17zm-2-16zm0 9zm-1 1zm0-8zm-1 2zm0 11zm0-7zm-1 15zm0-18zm-1 1zm0 5zm-2-10zm-1-2zm-1 21zm0-4zm-3-12zm-2 8zm-14 5zm-31 31zm16-1zm0-22zm1 19zm0-11zm0 14zm10-7zm2 12zm0-4zm12-22zm3 16zm2-9zm6-1zm1 4zm0 3zm0-7zm4 5zm6-4zm14 1zm35 10zm54-15zm0-3zm0 2zm22-3zm30 0zm4 13zm7-13zm2 26zm11-17zm8 2zm11-9zm1 15zm7-5zm1 3zm1-5zm4 10zm0-9zm9-2zm10 7zm94-7zm31 14zm5-7zm1 3zm1-9zm1 9zm2 2zm3-14zm1 20zm1-7zm1 6zm0-9zm1-10zm5 18zm2-22zm1 23zm6-8zm17-18zm8 20zm48-9zm4 4zm3-12zm4 8zm0-7zm4 22zm4-13zm16-4zm2 11zm14-11zm1 4zm54 9zm14 5zm-3 31zm-17-18zm-9 14zm-9-15zm-14 15zm-2-8zm-5 10zm-4-12zm-4-14zm-11 4zm-27 8zm0-5zm-7 3zm-4 0zm-4 4zm-28-11zm-16-2zm0 2zm-18 0zm-8-1zm-1 21zm-6-1zm-10-22zm-1 12zm-5 7zm-1 0zm-3-9zm-3 5zm-3-7zm0-1zm-6 4zm-3 1zm0 0zm-1-3zm0-6zm-2 8zm-5-10zm-2 11zm-24 17zm-4-28zm-2 21zm-7-11zm-1 10zm-79-17zm-6 10zm-6-6zm-14-6zm-22 13zm-5-3zm-1 15zm-22-6zm-138-7zm-24 3zm-5 3zm-8-8zm-2-6zm-7 12zm-1-16zm-12 6zm-3-7zm-1 5zm37 30zm5 14zm18 2zm5-5zm4 12zm68-26zm4 6zm7-7zm124-1zm1 6zm7-1zm4-5zm0 15zm2-12zm6 3zm3 4zm4 7zm2-10zm0-8zm1 25zm0-6zm3-8zm2 13zm4-17zm2-2zm4 5zm7-7zm1 7zm2-4zm2 12zm1-6zm0-4zm6 5zm14 2zm4-8zm6 21zm19-2zm6 2zm10-3zm4-13zm4-2zm3 17zm4-11zm0 0zm7 11zm4-3zm0 1zm5-5zm3-9zm1 6zm11-12zm2 10zm2-3zm3 11zm1-19zm9 18zm1-22zm50 19zm1-16zm4 15zm0-10zm6 5zm23 15zm23-18zm12-8zm51 17zm-11 34zm-72 2zm-5-14zm-3-11zm-15 0zm-1 23zm-18-1zm-2-14zm-3 19zm-2-10zm-8-11zm-33 10zm-7 6zm-1-8zm-1-7zm-1 21zm-1-25zm-5 12zm0-9zm-5 20zm-4-5zm-4-8zm0 15zm-8-6zm-28-20zm-15-1zm-5 26zm-3-7zm-8-1zm-1-6zm-4 15zm-29-10zm-18-1zm-17-17zm-41 2zm0 27zm-25 28zm38-20zm9 5zm13-6zm7-2zm38 17zm9-14zm7 12zm0-4zm0-13zm11 17zm1-16zm1 19zm0 3zm19-4zm0 0zm6 5zm3-2zm31-6zm29-18zm5 25zm6-9zm4-12zm0-2zm1 12zm7-5zm1 11zm1-4zm2 5zm1-4zm1 1zm1-16zm19 6zm1 17zm0-23zm3 21zm1-13zm3 10zm1-1zm0-19zm4 10zm0 14zm0-11zm10-9zm10 23zm1-5zm5-4zm1 3zm8 5zm10-4zm0-7zm3 14zm22 1zm-3 26zm-2-14zm-7 12zm-6-24zm-1 28zm-20-23zm-35-2zm-36 2zm-4 12zm-3 4zm-4 1zm-65-20zm-1 8zm-24 7zm-24-15zm-9-2zm0 27zm-52 1zm-3-6zm-1-6zm-2 10zm-5-8zm-1 1zm-2 3zm-3 1zm-1 6zm-1-1zm-3 0zm-4-10zm-3-6zm-2 15zm-2 0zm-3-5zm-2 4zm0-19zm-3 13zm-2-8zm-11-7zm19 25zm1 10zm14-5zm3 3zm2-6zm2 18zm2-19zm1 0zm4 15zm6 3zm5 5zm1-7zm1-10zm4 20zm2-14zm6 14zm5-15zm2 13zm5-9zm9 8zm3-14zm4-5zm17 0zm1 3zm12 2zm3-2zm0 19zm9-7zm93-10zm13-8zm10 7zm87-7zm-48 57zm-9-21zm-4 7zm-1 7zm-132-18zm-6 7zm-14-2zm-4 16zm-8-18zm0 5zm-1-3zm-5-4zm-27-1zm-12 7zm-5-11zm-2 11zm-2 13zm-3 4zm0-23zm-4 1zm-1 5zm-1 1zm-1 4zm-10 9zm-11-5zm-1-7zm19 20zm5 11zm0-1zm1 3zm1-6zm0 6zm2-15zm2 0zm0 12zm1 3zm1-1zm1 5zm1-17zm0 17zm8-15z" stroke="#fee999" stroke-width="16"/><path d="M1939 2309zm2-1zm34 21zm-30-19zm-4 16zm-7-6zm-20 18zm-65 20zm5 10zm66-16zm4 8zm0-4zm1 0zm3 2zm2-9zm3 8zm5 7zm1-1zm0-17zm5 16zm0-10zm5 5zm6-8zm0 11zm5 4zm5 3zm3 0zm2 0zm1-2zm3-7zm6-4zm1-12zm4 25zm0-1zm7 0zm2-15zm1 18zm0-14zm93 4zm-6 25zm-7 11zm-2-7zm-1 11zm-10-11zm-23-7zm-19 18zm-2-6zm-5-8zm-8 9zm-3-3zm-19 7zm-13-25zm-12 7zm-4 2zm-4-9zm-6 19zm0-6zm-3 4zm-11 6zm-2-14zm0 4zm-12-3zm-2 12zm-57-9zm-4 8zm-54-18zm-7 7zm-3 15zm-2-19zm-7-1zm-1 5zm-72 17zm5 28zm1-28zm2 26zm3-11zm1 13zm7-9zm6 6zm3-16zm3 10zm0-3zm1 3zm1 0zm2 6zm1-5zm3 2zm6-1zm43-17zm0-4zm7 1zm6 10zm1 16zm1-11zm7 10zm33-3zm10-10zm12-13zm2 23zm11-3zm9-3zm10-12zm7 13zm0 0zm6 2zm1 2zm2 4zm12-11zm8-3zm7-2zm2-5zm1 22zm2-20zm10 16zm8 1zm22-8zm1 1zm1 3zm8 2zm2-5zm1-17zm0 3zm3 23zm0-2zm4-23zm0 28zm1-8zm5 8zm0-15zm1 0zm3-14zm0 12zm4 6zm0-10zm4-1zm1 9zm0 12zm1-26zm1 23zm0-6zm2-18zm1 4zm1 22zm6-4zm6-3zm23 11zm-12 2zm-15 25zm-1-24zm-3 15zm0-8zm-11 4zm-4-1zm-11-12zm-3 7zm-4 18zm0-9zm-3-10zm-4 16zm-2-6zm-5 3zm-7-9zm-4 12zm-12-10zm-13-6zm-21 4zm-6-2zm-3-7zm-4 7zm-6 4zm-11-11zm-1-2zm-4 11zm-10-5zm-82 8zm-6-10zm-3 2zm-2-2zm-7 22zm-1-16zm-2 13zm-3-1zm-12-2zm-1 4zm-2-15zm0-3zm-3 12zm-16-15zm-3 12zm-1 4zm-1-1zm-1-13zm0-6zm0 26zm-3-20zm-4 18zm-2-6zm-5-8zm-3 2zm-6-6zm-11-5zm-5 1zm5 45zm7-13zm1 7zm1-10zm26 17zm5-4zm21 15zm0-29zm13 2zm3 17zm1 1zm7-16zm3 6zm12 12zm5 4zm48-4zm2-4zm5 9zm2-3zm4-6zm2-1zm17-5zm14 9zm18-1zm3-12zm21 13zm2 7zm3-4zm4-13zm20 8zm2 0zm4-3zm2 6zm2-8zm1-11zm2 12zm6 9zm9 4zm3-16zm1 2zm1 11zm3-2zm1-23zm2 14zm128 41zm-4-4zm-16-11zm-3 6zm-99-16zm-31 28zm-1-14zm-6-12zm-16-2zm0 24zm-2-10zm-9-6zm-4 9zm-12-6zm0-8zm-13-2zm-1 2zm-2 23zm-24-16zm-10 16zm-12 3zm-5-4zm-1-24zm-1 16zm-1 7zm-5-11zm0 14zm-1 0zm0-4zm-2 4zm-1 1zm-4-6zm-19-1zm-17 1zm-7-2zm-2-7zm-4 12zm-7-11zm-14 15zm-11-11zm-3-13zm-4 21zm-3-10zm-1-6zm-2 2zm0-12zm-1 13zm-2 3zm-2 13zm-7-29zm-4 11zm-2-3zm-22 7zm-17 3zm-5 10zm-6-12zm-2 10zm-7-3zm0 4zm-1-11zm0 10zm-3-12zm-1-8zm-6 1zm-11 6zm-5 16zm-4-18zm-18 20zm10 3zm5 24zm6-2zm2-8zm2-1zm0 5zm0-17zm16 10zm14 4zm2-4zm7-12zm0 7zm23-10zm3 17zm22 12zm17-22zm4 15zm3-10zm6-9zm0 26zm0 0zm1 0zm10-5zm0-14zm13 18zm52-21zm1 19zm0-13zm3-9zm1-1zm2 12zm2-7zm6 7zm4 7zm0-13zm7 12zm1-8zm2-1zm0 5zm3 7zm1-9zm1-4zm2 16zm3-1zm25-18zm3 7zm8 2zm3-15zm3 5zm0-6zm3 5zm2 15zm9-4zm1-2zm3 6zm8 8zm2 0zm4-24zm2 11zm6-11zm11 18zm0-21zm0-1zm1 9zm6 9zm5-8zm1-1zm5 10zm6-12zm27 13zm4 8zm0-11zm34-1zm13-1zm11 11zm10-2zm4-14zm14 18zm5 0zm0-19zm1 12zm2-10zm2-7zm1-3zm3 13zm1-14zm3 17zm1 7zm6-4zm9-18zm8 13zm1 13zm2-4zm5 4zm3-9zm7 0zm4 4zm14-17zm1-2zm13 20zm2-14zm3 2zm9-4zm6 50zm0-9zm-11-19zm-10 7zm-5 18zm-11 3zm-12-10zm-1-18zm-1 28zm-3-9zm-1-16zm0-4zm-16 26zm-5-20zm-2 10zm-4-9zm0 16zm0-14zm-1 17zm-3-6zm-1-8zm-2 6zm-11-9zm-9-4zm-4-2zm-5 2zm-8 1zm-61 17zm-7 2zm-3-22zm-49-2zm-24 8zm-14-6zm-8 5zm-57 20zm-3-25zm-4 9zm-5-6zm-2 20zm-4 2zm-5-25zm-5 3zm-29 16zm-1 3zm-1-10zm-6-7zm-4 0zm-1 7zm-4 6zm-3-10zm-12 17zm0-15zm0-13zm-10 8zm-4 5zm-1-7zm0 7zm-5 7zm0 0zm-2-5zm0 7zm-2-10zm-1-8zm-1 5zm-1 14zm-1-15zm-2-5zm-1-2zm-2 4zm-8 11zm-19-6zm-4 5zm-55 13zm-5-14zm-2-6zm-7-3zm0 0zm-6 6zm0-11zm-2 21zm-1-6zm-13-6zm-2 2zm-2 6zm-19 37zm10-6zm9-18zm1 1zm11 24zm2-11zm1 1zm1 8zm3-9zm1-6zm2 3zm6 17zm1-18zm1 6zm1 9zm7-10zm2-5zm2 1zm3 9zm4 6zm4-14zm1-4zm13 21zm10-14zm3-15zm7 20zm36-17zm14 15zm2-5zm7 4zm2-12zm14 15zm29-17zm2 3zm3 16zm16-14zm0-3zm3 12zm0-3zm0-6zm11 0zm5-7zm3 18zm5 2zm3-6zm0 10zm32-9zm92-1zm7 12zm12-15zm4 9zm5 1zm1-9zm5-4zm0 17zm1-6zm1-10zm1 12zm1 5zm3-8zm1-2zm2-3zm0-6zm2 12zm1 2zm4 5zm3-22zm11 10zm1 14zm7-3zm1-7zm62-19zm0 8zm1 0zm0 19zm1-9zm2-5zm0 8zm5-19zm0 27zm5-20zm7-9zm5 11zm4-7zm1 0zm2 17zm4 0zm12-13zm9-2zm4 9zm3 0zm0 8zm1-16zm3 0zm7-1zm11 6zm3-11zm9 12zm2 8zm0-6zm1 3zm19 20zm-4 2zm-12-2zm-8-4zm-28 17zm-1-18zm-7 1zm-4 12zm0 3zm-1-4zm-5 14zm-1-7zm-1-1zm-3-1zm0-5zm-18 14zm-2-1zm-7-19zm-3 0zm-1-2zm-3 14zm-2-9zm0-2zm-1 1zm-3 11zm-5-2zm-1-9zm-2-10zm-1 22zm-3-5zm-6 2zm-7 4zm-19 2zm-10-10zm-7 9zm-3-14zm-1 2zm-1 14zm-1-4zm-1-8zm-1-8zm-1-3zm-2 4zm-9 13zm-3-12zm-2 4zm-4-6zm-13-6zm-1 12zm-1 9zm-7-13zm-5 5zm-44 9zm-6-4zm-3-10zm-6 9zm-8 7zm-17-6zm-44 4zm-7-15zm-4-8zm-24 11zm-16 1zm-5-1zm-31 8zm-24-19zm-1 8zm-10 15zm-1 6zm-3-12zm-2 12zm-5-7zm-7-22zm-2 11zm-9 8zm-48-13zm-3 20zm-4 0zm-2 3zm-10-12zm0 10zm-1 0zm-7-16zm-5-9zm-1 3zm-1 2zm-6-4zm-1 2zm-1-2zm-5 24zm-17-18zm-1 3zm-3 6zm-8 2zm24 16zm19 15zm1-15zm3-3zm7 15zm1 0zm2 6zm3-8zm1 9zm1-9zm1 10zm0 0zm2-5zm6 6zm34 1zm8 1zm7-18zm0 0zm6 10zm21-19zm114 12zm2 14zm3-18zm2 13zm25 2zm2-2zm23-18zm2 5zm4-1zm3 4zm0 15zm2-12zm1-8zm1 9zm6-10zm4 4zm14-9zm27 17zm1-2zm5-9zm2 8zm0-15zm1-1zm2 18zm6 6zm7-3zm6 2zm2 5zm4-19zm15-3zm2 7zm7 8zm1-4zm0-10zm8 4zm2 13zm1-7zm4 3zm7 2zm9-2zm5-6zm10 14zm4-19zm5 8zm11 1zm1-1zm0-14zm7 13zm1-5zm1 6zm4-10zm1-5zm6 19zm6-1zm3-11zm3 4zm15-3zm6 7zm9-14zm6 11zm7-12zm14 18zm0 9zm10-18zm2 12zm10-21zm6 17zm-24 30zm-5-15zm-12 20zm-3-10zm-6 8zm-2-22zm-13 17zm-11 10zm-17-21zm-6-2zm-27 8zm-13 7zm-3 5zm-5-21zm-2 1zm-9 15zm-7 6zm-5-16zm-3-5zm-7-3zm-1 20zm-7-19zm0 5zm-2 1zm-1 4zm-3-9zm-1 18zm0-9zm-2-5zm-1 7zm0 10zm0-16zm-3 16zm-2-17zm-2 4zm-2-1zm0-4zm-2-2zm-1 16zm-5 2zm-3-22zm-39 3zm-7 17zm-6-18zm-7 3zm-6 0zm-9 24zm-9-27zm-9 17zm-2-3zm-8 6zm-6-13zm-1-8zm-1 8zm-7 1zm-8 5zm-10 2zm-1-9zm-21 17zm-8-11zm-1 0zm-2-4zm-7 3zm-1-8zm-4-1zm-96-3zm-15 1zm-24 2zm-52-4zm218 33zm7 15zm7 11zm6-27zm21 18zm0-2zm1 10zm4-19zm1-9zm0 16zm8 4zm2 3zm0 3zm0-11zm2-15zm0 29zm1-6zm0-6zm1-3zm0-1zm2 12zm1 1zm2-10zm0-16zm0 22zm3-19zm2 24zm1-22zm1-4zm0 16zm1 8zm2-2zm3-4zm0 1zm3-4zm2 6zm2 2zm2 4zm0-10zm0 8zm3-4zm6 3zm2-3zm8 7zm7-15zm19 5zm20-1zm9-16zm8 4zm5-3zm1 9zm0 17zm9-4zm10-18zm2 12zm0 0zm1-4zm2-9zm8 23zm0-23zm16 17zm45 3zm3-15zm5 3zm8-12zm1 27zm0-15zm0-1zm2 3zm1 8zm0-20zm2 20zm0-5zm0 10zm1-25zm0 23zm1-10zm0-7zm1 1zm2 4zm2 3zm1-7zm8-9zm5 13zm11-8zm4 10zm5-17zm6 16zm1 8zm-30 16zm-7-4zm0 7zm-1 4zm-1 12zm-1-1zm0-13zm-4-9zm0-4zm-1 8zm-2 11zm0-20zm-3 2zm-2 4zm-3-6zm-4 5zm-1-1zm0 9zm-2 1zm-1-12zm-6 8zm-6-4zm-2-2zm-1 24zm-6 0zm-13-25zm-5-4zm-23 12zm-17 5zm-3-12zm-2 2zm0 5zm-3-7zm-5 6zm-62 7zm-2-12zm-6 0zm-13 14zm-13-14zm-8-1zm-6 1zm-6-1zm-2-3zm-4-2zm-8 6zm-11 12zm-15-14zm-16 16zm-6 0zm-1 1zm-5 8zm-5-6zm-2 6zm-1-1zm0 0zm-4 0zm-4-8zm-10 35zm5-12zm6 11zm1-9zm0-12zm1 0zm1 1zm4-1zm1 5zm6-5zm12 3zm5-2zm2-4zm43 6zm42 22zm4-25zm71 6zm15-9zm29 3zm41 1zm21 6zm-188 36zm-57 5zm-15-11zm-5-5zm-3-4zm0 22zm-6 4zm-18-22zm-4-4zm-12 4zm28 33zm9 14zm16-13zm5-8z" stroke="#fdc877" stroke-width="16"/><path d="M1931 2299zm71 1zm-61 23zm-6-8zm-134 41zm6 10zm51 1zm31-8zm12 2zm2-4zm1 1zm4-3zm1 5zm4-5zm6-7zm0 4zm1-3zm0 0zm7 12zm4 5zm7-15zm1 5zm3 12zm3-27zm2 3zm1 10zm3 12zm11-13zm9 4zm32 7zm80 30zm-19-7zm-7 1zm-3-3zm-4-15zm-2 8zm-6 7zm-7-7zm-2 4zm-5-8zm-6 10zm-10 4zm-8-9zm-5 11zm-14 7zm-1-16zm-3-6zm-4 8zm-2-1zm-4-8zm-3 2zm-1-3zm-2-1zm-2 12zm-3-3zm0-10zm-7 7zm-1-5zm-3 6zm-7-7zm-5 1zm-14 12zm-26 10zm-1 2zm-36-18zm-8-7zm-50 7zm-7-4zm-5 22zm-11-11zm0 13zm-5-1zm-40-6zm-25 34zm1-5zm6 1zm15 6zm4-1zm19-17zm0 16zm45 0zm12-6zm62-5zm4 1zm4 1zm4 4zm0 7zm4-7zm0-5zm1 7zm2 4zm2-11zm2 9zm1-6zm5-4zm7-13zm4 21zm2 3zm17-8zm10-12zm24 8zm0 4zm1 8zm1-8zm9-10zm5 10zm9-17zm2 14zm9 10zm0-14zm0 8zm5 5zm8-1zm2 0zm19 1zm26 5zm7-15zm3 29zm-3-9zm-4 16zm-7-16zm-2-2zm-1 2zm-8 6zm-10 15zm-2-11zm-1-3zm-5-3zm-16-6zm-12 13zm-6-5zm-8 1zm-4 9zm-3 4zm-2-22zm-2 2zm-1 1zm0 3zm-20-7zm-4 15zm-12-9zm-1 5zm-12-11zm0-1zm-20 4zm-25 23zm-4-15zm-10-1zm-5 15zm-4 1zm-37-5zm-9-11zm-14-3zm-29-8zm-13 13zm-9-13zm0 25zm-2-11zm-4-12zm-3 7zm-8-2zm-2 3zm-8 10zm-3-18zm-3 17zm11 12zm4 2zm14 0zm62 10zm9-7zm47 11zm1-9zm9-2zm1 21zm10-7zm18 0zm2-2zm5 5zm9-12zm4-1zm7 7zm3 0zm3-11zm10 23zm5-14zm7 14zm2-16zm0-4zm14 17zm2-17zm2-1zm2 7zm0-15zm1 23zm1-10zm0 7zm2 4zm3-3zm0-20zm2 21zm1-1zm1-2zm2-13zm4-6zm0 2zm1 15zm6-10zm2 0zm14 14zm6-5zm7-13zm4 18zm0 4zm1-12zm4 12zm1-14zm195 42zm-92 5zm0 1zm-7-16zm-2 2zm-2 8zm-1 0zm-3 5zm-5-20zm0-3zm-1 18zm-1-1zm-4-15zm-3 10zm-7 12zm-7-9zm-9 4zm-1-8zm-7-3zm-65 13zm-16-2zm-3-24zm-2 26zm-1-17zm-2-6zm-4 20zm-1 3zm-1-20zm-6 21zm-5-3zm-9-21zm-11 16zm-7-7zm-2-7zm-3-4zm-6 7zm-4 15zm-4-23zm-2 19zm-15-11zm-8 14zm-4 7zm-2-5zm-9-18zm-10 8zm-1 7zm-7 8zm-1-10zm-5-5zm-1 11zm-15 2zm-18-23zm-12 22zm-10-7zm-1 0zm-14-7zm-5-8zm-2 4zm0 14zm-1-16zm-24 22zm-48-22zm-6 15zm-3 7zm-2-16zm-19 9zm-54 34zm11-5zm12 6zm2-10zm3-9zm2 10zm7-4zm9 3zm2 2zm11 0zm0-1zm2-6zm3 11zm0 5zm1 1zm2-28zm8 4zm28-4zm30 13zm8 6zm1-1zm3-8zm1 2zm7 11zm0-8zm12 2zm0 0zm28 12zm23-22zm16 20zm0-14zm7-6zm2 1zm0-5zm2 12zm1-14zm2-1zm0 4zm8 11zm2-3zm3 16zm1-9zm7 5zm2-19zm2 19zm0 0zm0-22zm7 18zm4-10zm3-4zm23 12zm5-18zm3 29zm0-25zm3 17zm1-10zm2 0zm4-7zm23 25zm0-19zm13 8zm3-5zm0 14zm6-10zm2-15zm1 17zm0-13zm3 14zm1-9zm5-1zm9 7zm38-17zm26 23zm24-9zm5 7zm11 1zm4-9zm0-12zm5 3zm1 15zm0-10zm1 3zm1 4zm1-2zm0-1zm4-6zm15 9zm14 3zm27-18zm3 9zm1 12zm1-6zm3 6zm19-2zm3-10zm2 14zm1-10zm4 9zm3-21zm8 25zm1 31zm-5 1zm-5-5zm0-15zm-2 16zm-10-18zm-5 10zm-6-10zm-5-5zm-10-1zm-7 10zm-6-6zm-1 2zm-1-2zm-17-5zm-1 29zm-6 0zm-2-7zm-196-18zm-60 0zm-23 11zm-8-13zm-2 17zm-7 2zm-14 5zm-1-10zm-1-2zm-14-14zm-2 11zm-1-9zm-2 3zm-1-4zm-10 5zm-1 8zm-4-13zm-2 0zm-10 8zm-2-1zm-1 0zm-2 7zm-2-5zm-3 15zm-2 2zm0-22zm-2 18zm-1-20zm0 10zm-1 8zm0-17zm-4 2zm-7-4zm-1 10zm0 8zm-7-9zm-2-1zm-2 19zm-2-23zm-3 1zm-1 1zm0-8zm-5 1zm-2 20zm-9-17zm-1 15zm-5-16zm-7 11zm-22-7zm-5-4zm-7 1zm-4 24zm-12-25zm-2 1zm-11 2zm0-5zm-8 4zm-2 5zm-3-2zm-13 0zm28 49zm11-9zm0 2zm6 0zm17-9zm0 9zm8 0zm10-4zm0 0zm2 6zm5-8zm2 9zm1 2zm3-4zm1 7zm0-17zm3 8zm5-16zm13 12zm21-10zm6-4zm15 11zm14 2zm2 14zm6 0zm13-27zm10 24zm7-21zm0 1zm0 15zm1-6zm7-13zm4 10zm2 2zm2-1zm1 10zm0-4zm10-7zm0-10zm5 25zm12-9zm47 7zm39 5zm30-1zm42-3zm7-5zm14 8zm8-1zm77-3zm6-13zm5-7zm51 5zm17-7zm19-2zm11 49zm-30 0zm-28 5zm-3 0zm-13-2zm-2 4zm-6-1zm-6-8zm-1-10zm-8-5zm0 19zm-4-14zm-4 22zm-2-24zm-1 16zm-2-12zm-63 13zm-9-15zm-4-4zm-5 1zm-4 1zm-3 15zm-8-19zm-18 9zm-13 7zm-14-3zm-38 12zm-104-25zm-61 26zm-2-10zm-1 12zm-8-24zm-1 0zm0 0zm-2 16zm-1 1zm-1-6zm-3 13zm0-9zm0 7zm-2-15zm-2 11zm-1 1zm0-13zm-2 7zm-1 5zm-1 0zm-1-6zm-1 0zm-1 0zm-1-5zm-3 3zm-4-6zm-2 6zm-4-12zm0 10zm-5-3zm0-9zm-11 14zm-13 5zm-10-10zm-5-3zm-10 8zm-11-14zm-14 10zm-3 0zm-1-10zm-5 12zm-4 16zm-13-25zm7 44zm5 7zm11-18zm6 16zm5 4zm4-4zm2 2zm1-10zm0 6zm3-6zm5 11zm2-19zm9 6zm26-10zm0 22zm15-6zm7-6zm4-10zm2-2zm93 25zm8 3zm13-15zm3 1zm55 9zm27 1zm4-19zm9 11zm4 6zm30-11zm3-3zm1 13zm45-18zm3 4zm4 10zm6 10zm9 1zm6-4zm1-24zm6 7zm4 20zm10-5zm4-23zm22 26zm6-23zm4 17zm4-16zm2 8zm0-1zm3 2zm4 10zm1-1zm2-6zm2 2zm5 2zm1 2zm8-9zm0 13zm8-8zm2-18zm0 4zm1 8zm2 8zm12-19zm9 18zm1-2zm1-5zm13-4zm0 17zm6-2zm16-9zm-25 24zm-12 21zm-12-1zm-4 0zm-6-3zm-16-6zm-1 6zm-79-3zm-3-13zm-1 7zm-11-14zm-4 18zm-2 5zm-3 4zm-50-14zm-51 3zm-18-16zm-4 5zm-3 10zm-3-12zm-4-5zm-13 25zm-7-8zm-4-8zm-10 7zm-3-14zm-1 9zm-2 10zm-3-14zm-5-3zm-3-1zm-2 2zm-1 3zm-2-5zm-2 2zm-1-2zm0 13zm-152-16zm185 44zm16-4zm2-10zm2 27zm1-22zm1-3zm5 11zm1 2zm1-14zm1 17zm0-4zm2 9zm1-2zm0-12zm3 7zm4 1zm0-1zm7-10zm12 1zm48 12zm9 8zm19-18zm0 2zm8-8zm2-1zm4 3zm11 5zm6-10zm1 29zm77-16zm20-4zm0 19zm8-6zm9-3zm3-10zm2-8zm2 1zm-14 38zm-4 5zm-6 4zm-1-19zm-1 1zm-4 9zm-34-8zm-2 18zm-23-5zm-7-13zm-17 6zm-9 18zm-2-26zm-3 12zm-1-4zm-54 0zm-8 12zm-2-6zm-6-13zm-41 6zm-12 0zm-5-7zm-67 24zm-20 9zm4 19zm28 1zm180-16zm11-3zm8 2zm10-2zm12 5zm-121 30zm-14 19zm-110-8zm47 23zm1-4z" stroke="#fba25c" stroke-width="16"/><path d="M1946 2335zm-22-6zm-2-14zm-11 43zm1-1zm3-3zm4-6zm3 1zm0 5zm6-14zm3 21zm7 1zm8 1zm8 0zm105-3zm-56 16zm-8-1zm-17-5zm-7 2zm-6 19zm-11-19zm-30 6zm-6 7zm-7-13zm-4 21zm-10-15zm0-2zm-7 23zm-28 0zm-58-29zm-17 11zm-80 38zm29 9zm126-1zm1-19zm6 6zm9-6zm10 13zm0-19zm6 4zm2 7zm47 10zm2-8zm37 13zm12 1zm30 0zm36-13zm20 21zm-6 0zm-11 3zm-1-4zm-12-5zm-7 26zm-58-18zm-1 14zm-4 4zm-1-17zm0 18zm-3 0zm-5-20zm-11 10zm-38 3zm-9 2zm-34-23zm-9 26zm-4-2zm-2-1zm-1-14zm-4-1zm-1 17zm-6-9zm-48 6zm-86-8zm-10-8zm75 29zm43 20zm34-15zm13 14zm5-20zm2 3zm23 15zm10-18zm6 11zm1 8zm7 1zm10-11zm5-8zm11 22zm11-12zm4-10zm4 19zm3-6zm7 4zm0 3zm2-17zm1 3zm3 4zm0-13zm2 25zm1 1zm3 1zm3-28zm1 8zm2 9zm3 9zm2-23zm4 5zm17 18zm107 18zm-2 13zm-2-11zm-2-5zm-8 8zm0 9zm-2-10zm-18 6zm-8-6zm-71-10zm-1 11zm-6-3zm-16 6zm-12-17zm-58 20zm-5-13zm-8 5zm-4-6zm-5-3zm-14 17zm-15-2zm-6-16zm-2 2zm-18 16zm-166-14zm-50 37zm1 4zm1-1zm6-7zm1 8zm1 3zm3-7zm6 7zm9 2zm2-4zm12-11zm5 3zm7 6zm15-11zm7 2zm20 2zm46-14zm3 22zm10 3zm32-1zm3 1zm22-8zm19-6zm7-8zm2 1zm7 13zm5-13zm31-5zm20 3zm2 3zm43 8zm27-1zm3 0zm4-11zm66 1zm13 7zm22-7zm3 0zm9 5zm1 0zm5 4zm1-4zm1 14zm2-8zm1-2zm0-7zm0 4zm2-8zm59 4zm3 17zm1 0zm2 2zm1-16zm6 13zm3-18zm16 13zm-40 24zm-6-8zm-45-2zm-297 6zm-12-4zm-4-1zm-39 6zm-6 6zm-8-12zm-10 19zm-5-18zm-5 5zm-16 17zm-1-8zm-15-3zm-8 1zm-1-7zm-66-3zm-4-1zm-1-3zm69 45zm8 1zm15 10zm7 1zm6-13zm0-11zm1-2zm4 27zm12-10zm4 11zm6-3zm3-20zm5 15zm5 0zm44 3zm3-20zm24 1zm2 16zm2-11zm4 5zm0 3zm288 8zm5-3zm11-13zm6 15zm24-18zm28-6zm-49 50zm-155-8zm-200-13zm-17 5zm-5 15zm-6-9zm-3 11zm-5-11zm0 8zm-2-18zm-3 7zm-1 12zm0 7zm-6 0zm-6-5zm-10-3zm-1-9zm0 6zm-2 12zm-3-27zm-4 2zm-18 8zm-22-1zm-18-2zm-6 20zm-1-18zm-1 19zm-15 21zm14-3zm4 8zm2-23zm1 11zm4-4zm2 16zm0-7zm10-15zm3 13zm3-4zm1-12zm69 0zm3 5zm14 2zm88 19zm81-22zm6 0zm9 15zm5-12zm81 12zm11 9zm9 1zm8-16zm1 11zm65-19zm20 7zm0 11zm2-22zm3 23zm1-15zm11 3zm13 12zm10 4zm4-23zm4 8zm8 12zm2-12zm-44 24zm-105 5zm-5-8zm-18 21zm-9-10zm-103 11zm-2-20zm-9 18zm-8-3zm-1 2zm0-14zm-9 3zm-13 16zm-9-19zm-5 17zm-20-16zm27 43zm10-22zm11 2zm8 13zm13 5zm1-14zm1-4zm3-1zm2 21zm114-4zm15 10zm9 0zm109-20zm-57 29zm-60-4zm-1 7zm-5 0zm-3-2zm47 28z" stroke="#f57d49" stroke-width="16"/><path d="M1896 2368zm42-20zm19-1zm-58 35zm-2 7zm-14-5zm-2 3zm-3-14zm-1 19zm19 37zm13-13zm76 32zm-6 11zm-123-12zm-3-1zm-16-8zm80 32zm51 14zm1-23zm33 24zm123 30zm-3-13zm-43 15zm-30-27zm-33 22zm-3 1zm-375 19zm10-4zm136 14zm107-18zm109 3zm119-1zm17 12zm56-14zm29 23zm15 19zm-2-3zm-28-3zm-1-5zm-445 3zm-31 51zm4-7zm12-22zm12 14zm36 9zm66-15zm-72 36zm-17-9zm-12 17zm-14-20zm432 54zm18-14zm41 11zm-25 9zm-245 27zm-14-8zm-3 6zm-2 8zm5 20zm247 4zm-120 23z" stroke="#e85a3c" stroke-width="16"/><path d="M1912 2360zm-23 15zm-4 8zm-28 53zm-6 3zm-4 10zm58 28zm-191 72zm510 15zm-491-1z" stroke="#d63a30" stroke-width="16"/></g>
<ellipse cx="201.1" cy="234.3" rx="11.6" ry="7.6" transform="rotate(20 201.1 234.3)" fill="none" stroke="#ee22bb" stroke-width="1.35"/>
<ellipse cx="191.1" cy="268.9" rx="9.8" ry="6.4" transform="rotate(-38 191.1 268.9)" fill="none" stroke="#78e826" stroke-width="1.35"/>
<text x="269.1" y="223.4" font-size="10.8" text-anchor="middle" letter-spacing="-0.25" fill="#111" stroke="#111">CXCR3</text>
<rect x="234.4" y="225.6" width="69.3" height="68.9" fill="#fff" stroke="#4a4a4a" stroke-width="1"/>
<g transform="scale(0.1)" fill="none" stroke-linecap="round" stroke-linejoin="round"><path d="M2671 2686zm-9 10zm-22-12zm39 17zm21 4z" stroke="#54509f" stroke-width="16"/><path d="M2508 2437zm186 76zm-171 5zm297 56zm-412 6zm599 34zm-270 32zm-67 41zm-3-6zm-2 10zm0-9zm-1-8zm-18-1zm0 13zm-4-6zm14 23zm34 0zm7-3zm8 5zm1 8zm6-6zm1-4zm60 21zm180 16zm-292 54zm113 87z" stroke="#3f6fb2" stroke-width="16"/><path d="M2761 2300zm-75 61zm-286 66zm107 1zm-40 8zm23 36zm48-4zm123 10zm91-15zm16 6zm-142 35zm36 40zm243 15zm-362 3zm-19-3zm174 45zm208-9zm-222 15zm-3 9zm-2 10zm-8 4zm-225 29zm239-4zm4 7zm34-12zm0 15zm4-11zm6-10zm187 5zm-45 24zm-156-4zm-7 16zm-5 6zm0 3zm-4-5zm-4-1zm-1 2zm0-14zm-3 0zm-1 8zm-2 8zm-3-13zm-1-2zm-3 7zm-4-8zm-5 19zm-7-20zm-2 1zm-13-6zm-3 5zm-2-5zm-1 22zm-9-11zm-3-12zm65 30zm6 13zm2 3zm3 3zm1 2zm2-23zm4 17zm25 9zm78-23zm101 10zm-75 24zm-186 13zm22 30zm48 34zm122 24z" stroke="#3a8dbb" stroke-width="16"/><path d="M2700 2308zm24-2zm40-5zm13-9zm-14 30zm-66 26zm128 3zm13 31zm-40-1zm-11 0zm-227 56zm-165 19zm293 24zm-19 60zm299 2zm38-4zm-195 37zm-337-18zm467 27zm-226 45zm-37 5zm-10-5zm-113 3zm-108 6zm188 31zm13-15zm3 1zm7-14zm1 6zm0 21zm5-5zm2-17zm4-5zm0 15zm8-10zm0 1zm19-1zm2-1zm1 24zm3-19zm7-7zm0 5zm3-2zm1-1zm2 3zm4 1zm5 7zm1-8zm39 18zm186 8zm-27 0zm-106 7zm-94 18zm-9-22zm-10-7zm-8 24zm-17-9zm-3-15zm-9 2zm-6 5zm-5-3zm-10 1zm-10 5zm-7 3zm-5-9zm24 33zm27-5zm2 2zm25-4zm13 23zm12-18zm152 18zm87-21zm21-2zm-87 50zm-179-18zm12 67zm-27 4zm-39 34zm35-13zm10 11zm160 18zm-74 23zm-79 31zm51-9zm5 7z" stroke="#4fa6b4" stroke-width="16"/><path d="M2765 2290zm0 5zm4 1zm-1 32zm35 32zm26-5zm14 23zm-10-5zm-5 9zm-14-5zm-267 10zm-4 37zm125-8zm151 0zm20 21zm-287-4zm85 45zm99 36zm-97-3zm-136-8zm-76 34zm249-17zm25 1zm298 38zm-501 7zm310 35zm1-1zm202-5zm-212 22zm-111 22zm0-4zm-5-6zm-125-14zm69 51zm21 0zm7-14zm2 2zm7-8zm8-2zm6 11zm9-7zm0-8zm1 25zm0-6zm3 4zm0-12zm2 13zm4-17zm2-4zm7 21zm5-14zm4 8zm1-6zm0-2zm55 18zm7-9zm190-16zm-147 53zm-5 2zm-11-6zm-17-7zm-77 1zm-1 5zm-1-16zm-12 4zm-1-8zm-44 4zm-16 24zm-7-24zm50 39zm18 6zm1 8zm6-7zm6 4zm3-10zm9 7zm87-4zm54-16zm-215 56zm-6 17zm3-2zm11 10zm48-5zm26 10zm1-10zm15-8zm35 5zm-19 39zm-4-10zm-6-5zm-3 10zm-15-3zm0 7zm-3-15zm-1 5zm-4 11zm-14-12zm-22-1zm-40 9zm-6-19zm24 32zm1 19zm4-2zm7-11zm47-8zm0 17zm48-17zm3 48zm-101-5zm-3-6zm35 51zm64-17zm6 8zm6 4zm4-6zm4-2zm24-4z" stroke="#74c4a8" stroke-width="16"/><path d="M2797 2338zm-11-6zm-8-11zm-16 5zm21 36zm15-20zm0 7zm10 2zm31 5zm8 3zm-31 215zm-16-7zm-404 35zm11 1zm360-14zm7 6zm7 12zm12-15zm4 5zm0 4zm5 1zm3-12zm3 16zm3-19zm1 20zm0 16zm-7-3zm-16-1zm-40 10zm-17 6zm-326 4zm256 11zm10-3zm61 18zm1-22zm3 8zm7 8zm40 3zm5-12zm7 6zm6 5zm1 6zm4-3zm0 1zm3 3zm12-6zm10 36zm-3-25zm-7 21zm-6-14zm-2 10zm-6 2zm-30-19zm-1-1zm-11 1zm-4-2zm-3 19zm-5 0zm-1-18zm-7 17zm-1-6zm-29-7zm-3 13zm-60 38zm5-15zm13-6zm24 4zm2 8zm1-2zm1 11zm3-18zm1 7zm5-15zm0 20zm3 5zm1-17zm1 17zm2-10zm0 13zm1-12zm1-3zm1 9zm1 2zm3-25zm4 6zm3-5zm1 24zm2-6zm0-4zm3 5zm3 2zm0-6zm2 6zm3-3zm1-19zm1 22zm19-1zm0 0zm6-7zm16 5zm3 0zm6 8zm9-9zm10-7zm10-9zm8 17zm-53 13zm-1 16zm0-8zm-8-4zm-4 0zm-9 14zm-13-14zm-1 5zm-7-6zm-6-3zm-5 19zm-4-21zm0 27zm-3 0zm0-27zm-34 4zm-53 22zm-3-6zm-4 13zm4 19zm7-12zm9-6zm30-4zm6 27zm33-14zm3-8zm1 1zm1 8zm11 14zm4-23zm1 11zm1 2zm0 1zm14-11zm0 19zm9-7zm1-10zm0 7zm0-4zm9 15zm0-4zm3 5zm1-8zm2-7zm0 2zm16 6zm19-7zm5 12zm3-2zm-2 15zm-44 13zm-1-17zm-3-2zm-4 15zm-2-8zm-1 13zm-4-15zm-2 16zm-3-12zm-4-4zm-4 16zm-3-8zm-2-10zm-3 0zm0 5zm-5-2zm-1-5zm-3-3zm-17 11zm-7-9zm-7 17zm-1-6zm-4 1zm-5-16zm-2 11zm-3-1zm-2 18zm-4-22zm-2 6zm0 11zm-1-7zm-5 11zm-5-2zm-12-12zm-15-10zm-2 17zm38 16zm2 4zm1 3zm2-3zm0 6zm2-15zm2 12zm0 0zm3 7zm2-3zm6-16zm16 19zm10-7zm5-11zm7 1zm19-1zm1 22zm1 0zm3-8zm0 9zm3-23zm1 10zm3 16zm19-20zm3-1zm5 13zm6-7zm31-2zm10 9zm-35 19zm-4 11zm-9-18zm-1 17zm-22-14zm-5 21zm-54-14zm-5 9zm-7-17zm-2 18zm-1-8zm-5-11zm-7 6zm16 35zm6-1zm42-8zm15 6zm10 0zm2-11zm0 2zm4 16zm17-3zm3 5zm0-16zm10 5zm7 3zm2 6zm3 3zm3-3zm4-18zm11 24zm-110 9zm-11 4z" stroke="#a4d9a4" stroke-width="16"/><path d="M2690 2299zm66 36zm31 47zm-1-2zm-371 56zm-5 53zm8-21zm-16 75zm420 30zm-5 3zm-5 3zm-9-8zm-5 8zm-381-1zm-7-6zm-6-19zm-9 49zm1-14zm3 10zm0 5zm9 4zm329 2zm61-6zm3-22zm2 15zm0-3zm1 6zm9 1zm0-13zm3 13zm-8 29zm-3-11zm-3 7zm-3-7zm-9 4zm0 0zm-1-9zm-2 8zm-2 2zm-3-12zm-2 11zm-15-10zm-10 21zm-12-12zm-3 7zm-328-6zm-4 4zm-1-4zm-4 6zm-7 2zm-9-19zm-1 5zm18 30zm277 5zm41 2zm7-9zm7 11zm10 2zm0 11zm3-21zm1 16zm1-21zm18 6zm4 6zm8 11zm4-13zm1 4zm0-15zm6 26zm2-3zm1 0zm1-8zm3-4zm9 11zm19-18zm7 18zm-6 19zm-2 3zm0-9zm-1 2zm-1 9zm-6-6zm-1 10zm-3-17zm0-3zm0 10zm-1 17zm-8-28zm-48 27zm-17-22zm-3 13zm-19 8zm-6-9zm-84 33zm35-2zm6 5zm1 6zm39-15zm2 7zm0-1zm5-18zm3 14zm1 10zm2-10zm3-9zm0-4zm2 24zm4-9zm1-16zm3 17zm7 5zm2 4zm0-25zm0 15zm1 7zm2-3zm5 0zm3 0zm1-11zm14 15zm7 24zm-1-14zm-1 8zm-6-13zm-39 3zm0 2zm-2 1zm-12 0zm-5-7zm-1 6zm-26 6zm-14 15zm-7-1zm-1-1zm-7-3zm-7 2zm-1 5zm-4-27zm-3 18zm-2 7zm-5-5zm-18-17zm15 50zm5-12zm6 11zm2-21zm5 0zm1 2zm3 3zm2-6zm1 1zm1 17zm7-4zm0-3zm9-9zm2 20zm8-11zm6 14zm7-2zm2-16zm2 1zm1 6zm9 8zm5-15zm1-8zm1 12zm2 13zm1-16zm4 10zm3-19zm1 16zm0 6zm7-15zm0 14zm28 4zm1-23zm1 12zm2 0zm11 4zm3-14zm2 21zm3 0zm10-17zm1 16zm4-4zm13-1zm3-8zm7 43zm-17-19zm-9-2zm0 23zm-3-24zm-3 4zm-1 8zm-7-2zm0 11zm-2-2zm-8-6zm-2-16zm-8 12zm-1-11zm-2 13zm-2 9zm0-1zm-3 5zm-3-11zm-1-10zm0 6zm-1 14zm-5-18zm-2 15zm-5-23zm-8 4zm-4 6zm-3 18zm-42-4zm-3-19zm-3 0zm-2 6zm-1-10zm-23 20zm-1-16zm-16 0zm28 33zm13 6zm1 2zm5-15zm1 15zm1-1zm2-12zm0 17zm2-11zm5 13zm1-17zm3 14zm5-4zm28-1zm6-1zm0 3zm3-1zm0-6zm4 10zm2-10zm1-2zm0 8zm0 5zm1-6zm0 5zm1-9zm4 9zm0 1zm3-11zm6 12zm8-7zm3-13zm1 19zm6-20zm3 9zm1-8zm7 11zm14-6zm0 22zm2-7zm6-14zm0 1zm7 11zm16 0zm3-1zm20 16zm-7-4zm-4 6zm-40 3zm-14 19zm-1-22zm-13 10zm-4 3zm-9-7zm-6 11zm-1-3zm-1-13zm0 10zm0 8zm-2-2zm-8-20zm0-2zm-25 28zm-9-14zm-2 13zm-2-4zm-2 5zm-5-3zm-2-14zm-6 0zm-1 8zm-3 2zm0-2zm-1-8zm-11-3zm0 18zm23 12zm24-3zm2-2zm10-3zm9 3zm25 5zm2 0zm1 8zm1 9zm0-9zm12-9zm26 1zm10 10zm9-5z" stroke="#d2ec9e" stroke-width="16"/><path d="M2734 2329zm-34-6zm-7-3zm10 32zm2-2zm9 10zm5 5zm14-7zm-185 40zm-147 26zm5-8zm50-2zm7-14zm9 0zm100 17zm-158 37zm-1 0zm-5-19zm-2 22zm-2 27zm5 1zm0 3zm2-9zm0 1zm1 5zm3-20zm0 19zm1-19zm0 12zm0 3zm1 2zm-23 61zm1-1zm6-7zm1 5zm414 33zm-5-2zm-10-9zm-4 10zm-381-17zm-2 5zm-4 1zm-2 6zm-5-17zm-24 53zm10 1zm6-24zm11 15zm2 8zm26 2zm3-7zm2 7zm153-1zm175 4zm39-27zm0 18zm4-9zm1 12zm3 4zm0-9zm11 35zm-12-21zm-4 18zm-22-2zm-35-16zm-2 21zm-4-13zm-4 12zm-7 5zm-120-15zm-70 6zm-114-12zm-6 12zm-15-11zm-2 3zm-4 9zm331 16zm44 13zm1-5zm4-4zm5 10zm18-8zm7-1zm12 21zm-10 6zm-70-1zm-5 23zm-130 29zm99-5zm1 1zm5-2zm1-8zm12 4zm3 6zm6-16zm15 18zm10 4zm1 0zm21 9zm-31 9zm-30-12zm-25 13zm-30 10zm-1-8zm-2 6zm-1-10zm-7 2zm-6 11zm0-6zm-2 5zm-1 1zm-1-1zm-4-4zm0 4zm-2-4zm-6 3zm-5-20zm-5 5zm8 18zm8 3zm7 5zm2-2zm16 0zm2 13zm23 3zm1-10zm6 3zm13-5zm45-6zm2 24zm6-4zm7 2zm32 28zm-10-14zm-2-3zm-5 16zm-6-2zm-3-15zm-1 20zm-18-1zm-17 3zm-64-23zm-28 14zm35 33zm18 7zm23-6zm2-4zm15-6zm2 5zm3-2zm13-5zm1-7zm8-2zm1 26zm4-1zm2-19zm1 5zm4 3zm7-2zm3-3zm0 11zm2 7zm5-12zm3-1zm0-6zm0 5zm0 12zm4-22zm0 6zm3 6zm1-16zm0 16zm3 3zm8-10zm1-7zm6 6zm5 6zm7 31zm-23 2zm-5-13zm-22-2zm-25 4zm-2 20zm-5-21zm-2 8zm-5-2zm-8 8zm-4-20zm-1 9zm-6 17zm-3-19zm-5 9zm-6 2zm-6-4zm-4-2zm-4-9zm-6 16zm-5 2zm-5-12zm-10 3zm23 26zm47-8zm17 1zm16 18z" stroke="#f5fab0" stroke-width="16"/><path d="M2698 2309zm20-7zm-18 24zm1 42zm7-11zm2 9zm4-17zm8 11zm8 5zm24-10zm87 29zm-119 0zm-10-6zm-1 17zm-7 0zm-1-9zm-2-14zm-12 24zm-2-14zm-4-4zm-25 4zm-109 15zm-16 1zm-115 25zm15 2zm1 2zm19-17zm0 1zm3 2zm12 13zm3 2zm19 0zm4-19zm60-5zm13 7zm3 9zm121-2zm17-13zm-219 32zm-18-6zm-7 2zm-28-2zm-24 20zm-11-18zm-2-3zm3 54zm6-21zm1 20zm1 0zm1 2zm0-15zm1 7zm2 1zm1-13zm2 7zm202-2zm7 8zm5 9zm1-3zm5-4zm139-6zm17 7zm5 4zm97 18zm-226-1zm-26 17zm-6-28zm-5 28zm-22-2zm-219 28zm2-6zm4-7zm15 14zm2 0zm3 2zm252-9zm303-14zm15 6zm-176 41zm-244-9zm-155-4zm-14-1zm-2 41zm13-18zm11 24zm2-11zm1 3zm0-2zm2-7zm1 19zm1-1zm5-15zm0 3zm4-2zm0 16zm6-20zm114-3zm39-1zm432 36zm-223-1zm-11 2zm-20 3zm-17 15zm-188-24zm-9 3zm-8 12zm0 7zm-2-16zm-1 18zm-1-6zm-1-9zm-2 4zm0-10zm-7 19zm-2-12zm-6-10zm-80 9zm-3-4zm-1 19zm-5-27zm-3 11zm-5-10zm-2 0zm-10 1zm-18-2zm-12 6zm30 28zm31 12zm65-7zm224-4zm43 2zm4-9zm20 18zm9-1zm92 6zm-177 36zm-9-27zm-193-1zm-39 3zm179 83zm-3-5zm-5-1zm-1-4zm-3 2zm-1 10zm-5 0zm0-6zm-4 5zm-4-10zm-3-6zm-6 1zm24 18zm1 0zm17 6zm192 4zm35 22zm-11 7zm-103 16zm-23-2zm-14 2zm-43 21zm26 2zm11 2zm33-12zm5 3zm0-4zm0-5zm12 7zm15 5zm0 6zm32 3zm-5 26zm-13-2zm-33-17zm-46 17zm-5-10zm0-2zm-6 1zm-16-5zm-9 5z" stroke="#fee999" stroke-width="16"/><path d="M2711 2298zm24 5zm13 6zm-4 20zm-5-17zm-35-2zm-23 5zm-19 53zm77-14zm1 10zm4 2zm0 3zm90 26zm-2-7zm-23-18zm-72 0zm-1 13zm-6-9zm-1-1zm-3 0zm-2-1zm-4 5zm-1 4zm-2-1zm-4 2zm0 3zm-2-12zm-8 22zm0-3zm-6-7zm-1-12zm-9 13zm-5-1zm-5 0zm-21-7zm0 11zm-1 8zm-89-4zm-5-14zm-4 3zm-3-3zm-2 20zm-1-16zm-13 16zm-115 30zm9-21zm6 14zm1-8zm9 6zm7 5zm2-25zm2 29zm3-16zm4-13zm0 19zm3 2zm5 5zm1-4zm2-7zm8 4zm6 6zm3 2zm1 1zm2-9zm0-3zm33-10zm19 10zm9-15zm1 21zm62 5zm34-2zm8-20zm32-4zm6 5zm1 17zm4-13zm109-8zm7 38zm-3-7zm-19 16zm0-8zm-6 3zm-52 6zm-116-9zm-3 12zm-8-6zm-9 2zm-100 0zm-1-13zm0 20zm-6-12zm-17-8zm-5 8zm-1-12zm-10 0zm-10 0zm-23 25zm-2-19zm-1-6zm-28 15zm-1 32zm17-5zm1 8zm0-4zm1-9zm7 3zm0-4zm5 17zm9-17zm28 9zm42-10zm43 16zm7 5zm59-11zm1-9zm10 19zm2-3zm31-7zm89 12zm0-29zm9 27zm14-6zm1 2zm3-9zm2 2zm7-13zm4 22zm1-12zm5-2zm89 36zm0-7zm-3 6zm-77-16zm-22 0zm-7 9zm-21-9zm-5 3zm-6 3zm-38 6zm-4-9zm-1-2zm-23 12zm-8 5zm-8 4zm-1-13zm-9 17zm-5-20zm0 20zm-14-9zm-1 7zm0-13zm-5 16zm-1-19zm0 19zm-2-17zm-2 15zm-33-21zm-6 18zm-7 2zm-2-11zm-4 12zm-4-6zm-17 10zm-2-25zm-2 18zm-23-6zm-1-6zm-64 8zm-2 8zm-8-10zm-3-2zm-37-12zm-25 44zm18 10zm3-7zm1-11zm5-4zm4 12zm18-3zm21-10zm0 24zm11-24zm117 23zm44-11zm5-12zm13 12zm5-11zm9 22zm1-21zm2 19zm22-16zm11 9zm8 4zm4-17zm9 11zm9-10zm82 13zm14-18zm1 16zm6 5zm13-18zm75 25zm11-25zm11 22zm2 3zm25-12zm15 11zm1-7zm18-11zm-47 31zm-9-10zm-20 7zm-49 14zm-1-7zm-265 0zm-10 11zm-7-23zm-20-1zm-25 12zm-1 2zm-8-12zm-12 17zm-1-10zm-5-2zm-84 12zm-2-9zm-7 10zm-1 3zm-14-16zm-3-4zm-14-2zm26 29zm3 6zm1 16zm3-9zm1-6zm3-1zm1 0zm4 5zm1-2zm0 10zm1-4zm5 4zm3-5zm2-5zm2 1zm25 18zm13-29zm3 21zm22-6zm27-14zm3 20zm2-17zm0-1zm3 18zm19-21zm4 28zm6 0zm22-25zm1 22zm1-12zm3 9zm3-18zm1-4zm4 27zm6-19zm3 1zm0 12zm2-11zm1 12zm3-7zm7-4zm181-4zm187 33zm-83 1zm-28 13zm-306-24zm-17 17zm-1 12zm-1-23zm-6-6zm-1 5zm-1 0zm-2 16zm-2 1zm0-6zm-3 13zm-2-6zm0-11zm0 7zm-2-18zm-1 23zm0-13zm-3 12zm0-3zm0 9zm0-2zm-2-6zm0 5zm0-9zm-1 0zm-1 0zm-1-5zm0 10zm-7-13zm-2 2zm-43-1zm-5-3zm-12 19zm-4 0zm-5-25zm-7 7zm-7 3zm-1 0zm-2 0zm-1-10zm-3 4zm-1 2zm-13 20zm-5-7zm8 30zm15-13zm1 10zm6-15zm1 11zm4-4zm9 6zm7-8zm38 22zm7-18zm17-5zm1-5zm0 1zm9 0zm0-2zm18 15zm314-1zm14-5zm15 17zm2-13zm0-10zm8 1zm6-2zm0 9zm8 11zm1 6zm8-8zm-7 16zm-20 10zm-69 9zm-6-18zm-7 14zm-2-13zm-8 24zm8 4zm13 4zm9-6zm3 3zm5-1zm4 15zm80 1zm2 7zm-61 14zm-10-11zm-1 10zm-20-7zm-2-1zm-8 8zm-165 35zm176 10zm0-13zm4 7zm23-18zm8 4zm1 13zm19 9zm7-9zm-4 13zm-3 0zm-1 8zm-5-7zm-3-3zm-11 10zm-3 3zm0-9zm-11 4zm-82 42zm11-15zm46 7zm-87 42z" stroke="#fdc877" stroke-width="16"/><path d="M2694 2315zm-128 51zm89 2zm8-10zm4-3zm1 5zm2-2zm1-1zm10-8zm0 5zm2 2zm6-7zm8 13zm1 1zm0-17zm7 17zm1-19zm1 10zm6 9zm6 1zm2-11zm3 14zm3 0zm2-1zm0 1zm1-10zm14 10zm9-16zm78 48zm-8-12zm-2 1zm-5 0zm-8-9zm-21-5zm-24 5zm-5 11zm-15-9zm-1 17zm-8-16zm-4-10zm-3 4zm-3 15zm-5-20zm-6 1zm-5 7zm-3 20zm-5-25zm-18-1zm-7 10zm-2 12zm-7-2zm-10 2zm-8-20zm-4 8zm-76 12zm-10-19zm-4-1zm-4-2zm-4 6zm-7-1zm-1 8zm0-3zm-45 9zm-51 20zm5-1zm1-6zm0 17zm9 3zm21 3zm5 0zm4-4zm5-4zm7-1zm2 6zm1-5zm6 0zm5-10zm5 8zm1-1zm1 3zm5 9zm5-8zm8-16zm4 9zm12-14zm4 26zm3-25zm2 22zm5-11zm1 4zm40 7zm10-10zm29 3zm5-10zm8-2zm0 11zm7-13zm4 26zm0-6zm4-2zm1 2zm9-12zm5 5zm0-7zm3 12zm5-8zm5 3zm5 9zm0 3zm2-20zm10 16zm0-7zm4-2zm0 4zm4 6zm7-11zm0-5zm4 5zm21 6zm15 7zm1 3zm15-4zm3-1zm33-10zm5 23zm-2-6zm-7 19zm-3-14zm-4-2zm-15 23zm-6-2zm-7-10zm-8-8zm-3 12zm-2-6zm-2-11zm-2 0zm-5 25zm-3-19zm-6 13zm-5 0zm-9-12zm-5 18zm-1-17zm-4-5zm-44-2zm0 2zm-39 2zm-22 19zm-4-2zm-4 2zm-3-18zm-1 17zm-1-19zm-6 3zm-14-1zm-16 14zm-9-10zm-2 3zm-29-13zm-12-2zm-6 0zm-11 4zm-3 12zm-1 6zm-7-13zm0-7zm-1 23zm-2-16zm-1 9zm-5-8zm-3 2zm-1-2zm-8 10zm-6-1zm-13 2zm-2-21zm-14 7zm-11-1zm-4-5zm-6 10zm-3-3zm-1 41zm0-1zm2-6zm0-2zm4 7zm4 3zm0-10zm2 10zm1-18zm1 16zm0 7zm2-12zm7-9zm2 3zm1 5zm1 13zm4 1zm2-14zm7 4zm12 1zm8-6zm5-10zm4 2zm5-1zm12 9zm5-1zm0 7zm5-8zm1 11zm2 7zm14 2zm7-13zm6-14zm2 23zm1-6zm23 3zm7 3zm46-3zm6-16zm7-2zm2 13zm0-10zm2 13zm15-8zm3 8zm3 2zm8-1zm2-17zm3 7zm1-1zm2 5zm1-5zm7 7zm3 0zm5 10zm13-12zm7 13zm0 1zm2-16zm0-4zm1 15zm10 0zm7-6zm3 5zm1-3zm2 4zm1-2zm0 1zm0 2zm4-3zm2-7zm0-13zm0 17zm2 3zm0 5zm1 1zm4-13zm3-6zm3-2zm0 3zm1 15zm11-13zm2 13zm10-2zm95 5zm90 20zm-61 7zm-4-4zm-2 7zm0 1zm-9-14zm-1 0zm-2 13zm-9-16zm-3 8zm-2-13zm-26 17zm-72-4zm-1 6zm-2-4zm-3 1zm-17-14zm-7-7zm-4 4zm-17-3zm-10 14zm-8-3zm-2-9zm-5 17zm-4-14zm-6-7zm-4 18zm-2 7zm-13-18zm-8 2zm-4 19zm-2-5zm-19-10zm-2 11zm-3-1zm-4-5zm-1-6zm-1 10zm-2 4zm-1 1zm-4-6zm-19-1zm-24-1zm-9-1zm-7-15zm-15 4zm-7 10zm-9-5zm-1 3zm-1-6zm-2 2zm-3-10zm-3 6zm-6-8zm-2 14zm-4-6zm-2-6zm-20 13zm-6 0zm-16 13zm-6-12zm-5 7zm-4 0zm-2-14zm-1-6zm-2 3zm-1 15zm-2-9zm-3-5zm-14-7zm-2 29zm-4-26zm0 8zm-18 20zm19 28zm6-7zm6 7zm7-13zm7 6zm3-4zm2-7zm5 8zm2-4zm3-4zm1-2zm3 1zm3 3zm4 16zm16-29zm0 15zm5-15zm20 29zm10-16zm7-6zm7 5zm0 11zm5-1zm4 1zm1 3zm7-2zm0-14zm1 7zm0 0zm12 11zm52-21zm4-3zm1-4zm0 3zm5 4zm1-3zm1 4zm1-3zm2-4zm2-1zm0 4zm2 5zm4 11zm2-15zm1 8zm1 0zm0 9zm0-10zm2 0zm0 5zm2 2zm1 5zm1-9zm1-4zm1 16zm1-5zm0 5zm2-3zm4-22zm14 4zm11 9zm11-13zm3 5zm3-7zm3 29zm3-8zm2-17zm10 6zm7 19zm6-13zm17 7zm35-16zm8 9zm20 5zm4 5zm8-1zm20 1zm0-3zm7-13zm1 14zm10 3zm22-5zm7 6zm1-10zm2 1zm0-10zm1 1zm0 2zm1 4zm2-4zm1 9zm1-16zm1-3zm1 17zm2-4zm1-14zm10 20zm18 8zm0 0zm2-7zm8-2zm7 0zm1-1zm6-14zm0-4zm1 21zm3 0zm3-14zm4-1zm8 4zm6 14zm2-5zm3-7zm0-3zm3 9zm2-2zm2 6zm2-9zm6 36zm-11-19zm-7 6zm-16-5zm-10-1zm0 24zm-5-6zm-1-18zm-5-1zm-3 7zm-1-5zm0 3zm-16 14zm-1-13zm-1 23zm-5-15zm-1-7zm0 22zm-2-7zm-1-2zm-13-5zm-17-4zm-10-5zm-3 6zm-14 6zm-21-1zm-6-13zm-9 17zm-6-18zm-1 5zm-3-3zm-6 10zm-3-15zm-83 4zm-60 0zm-25 6zm-6-7zm-2 16zm-22-3zm-5-10zm-4 13zm-1 3zm-2-7zm-4 3zm-1-16zm-1 6zm-4 0zm-5 13zm-4-15zm0-5zm-5 0zm-12 8zm-2-1zm-1 0zm-1 0zm-7-2zm-1 21zm-2-7zm-2 1zm0 1zm-2-9zm-1-9zm-1 5zm-6-8zm-1 1zm-1 10zm-7-1zm-6-5zm-3 1zm-1 1zm-7 13zm-10 3zm-4-14zm-12 3zm-30-9zm-9 10zm0 8zm-1-8zm-4 7zm-4-8zm-1 15zm-1-12zm-2-10zm-2 19zm-1-16zm0 2zm0-11zm-2 9zm-1 6zm-1-14zm6 40zm23 9zm3-11zm4 2zm0 9zm1-8zm1-4zm6 12zm12 2zm5-7zm3 14zm4-7zm3-2zm0-1zm9-19zm4 14zm0-11zm8 11zm13 15zm5-24zm1 21zm10-25zm0 17zm2-5zm5 10zm3-11zm2-3zm12 5zm1 6zm27-20zm10 5zm0 15zm1-6zm2 12zm10-5zm0-16zm1 8zm2 4zm0-5zm0-4zm1 10zm3 0zm2-12zm5 2zm0-7zm8 18zm5 2zm2-6zm1 0zm0 10zm1-8zm3 3zm9-11zm19 7zm133 3zm3-11zm40 18zm15 2zm22-24zm15 4zm1 19zm4-1zm11-22zm5-4zm0 10zm5 1zm3 9zm8 1zm4 5zm2-17zm1 4zm1 2zm4-7zm13 7zm3 8zm4-16zm7-1zm26 12zm10 9zm9 11zm-3 6zm-4 5zm-5 9zm-9-4zm-17 0zm0-13zm-2-9zm-13 1zm-11 13zm-1-1zm0 1zm-11-16zm-20 7zm-8-5zm-8 27zm-5-20zm-3 11zm-1-10zm0 1zm-4-1zm-2 8zm-27 0zm-5 8zm-11-23zm-28 1zm-7 16zm-8-19zm-8 7zm-10 2zm-137-6zm-26-2zm-25-1zm-2 11zm-26 7zm-14 8zm-7-7zm-6-9zm-15 12zm-11-23zm-2 15zm-4-12zm0 10zm-4 6zm-1 0zm0-9zm0 0zm0-9zm0 15zm-2 12zm-9-13zm-16-4zm-21-5zm-9 23zm-10-12zm0 10zm-20 2zm-6 19zm3 2zm2 5zm8-19zm3-3zm5 22zm3-8zm2 7zm1 3zm2-11zm1 9zm0 0zm1-9zm0 7zm1 3zm2-11zm0 6zm6-18zm0 24zm6-15zm7 1zm21 4zm5-14zm15 16zm1 2zm5-12zm1 4zm4-10zm14 2zm14 2zm272 1zm38 12zm12-20zm3 28zm9-11zm1 11zm0-9zm1-16zm4 5zm6 9zm4-14zm3 13zm1-5zm1 6zm4-10zm4 6zm1-8zm3 18zm3-7zm16-15zm56 12zm15-11zm6 17zm-65 28zm0 8zm-26 0zm-23-25zm-1 23zm-11-11zm-23-8zm-32 12zm-4 13zm-3-27zm-1 12zm-1-6zm-1 4zm-2 13zm-4-18zm-1 7zm0 10zm-4-9zm-1-8zm-7 6zm0 7zm-299-18zm300 37zm14-4zm3-2zm1 9zm1-12zm8 25zm4-25zm1 29zm3-15zm4 5zm4 1zm1-4zm3 1zm1 1zm2 11zm10-2zm13-17zm29-1zm5-9zm7 2zm2 24zm2-23zm3 6zm6-7zm1 12zm0-1zm1-4zm0 20zm2-5zm0-20zm2 20zm0-5zm2-9zm2 12zm1-7zm5 14zm8-20zm3 6zm21-3zm6 12zm-30 16zm0-10zm-3 26zm-2-12zm-2-8zm0 7zm-1 4zm-1 12zm-1-1zm0-13zm-2 9zm-5-23zm-6-1zm-16 5zm-9 24zm-19-25zm-7-1zm-13 12zm-8-11zm-15 1zm-2 12zm-6-6zm-2-6zm-2-5zm-1 11zm-3-2zm-2 7zm0 6zm11 30zm2-4zm1-8zm2 17zm2-11zm1 13zm4-5zm5-20zm1 22zm4-10zm2 8zm5-15zm2 5zm28 13zm1 2zm2 0zm16 7zm-13 6zm-1-5zm0-5zm-1 14zm-2-16zm-2 12zm-3 0zm-1-4zm-1 11zm-7-14zm-12 12zm0-11zm0 5zm-2-1zm-1-6zm-11 9zm-5 6zm-7-4zm-4-10zm0 10zm-3-1zm-6-13zm-45 35zm68-2zm2-3zm1 7zm16-5z" stroke="#fba25c" stroke-width="16"/><path d="M2705 2335zm-22-6zm-75 29zm5 10zm4-1zm31-8zm12 2zm11-1zm1-5zm2-1zm4-6zm1 4zm0-3zm5 7zm3 2zm3 3zm0 5zm7-15zm0 13zm6-2zm1-21zm12 6zm24-5zm11 24zm7-4zm84 32zm-35-10zm0-6zm-4 4zm-2 3zm-7-7zm-32-2zm-1 15zm-7-16zm-10 22zm-35-24zm-9 17zm-30-18zm-9-1zm-5 5zm-6 18zm-1 5zm-7-15zm-2 3zm-3-14zm-74-3zm-17 11zm-119 45zm71-7zm7 3zm6-1zm2 5zm27-5zm12-9zm16 15zm8-1zm46-18zm6 6zm3-14zm6 8zm7 12zm0 1zm4 0zm3 6zm2-10zm2 12zm1-10zm14-1zm0 0zm4 8zm0-8zm5 8zm13 2zm0-8zm3 2zm31 4zm1-8zm5 4zm9-4zm8 11zm1-28zm1 15zm1 1zm1 3zm4 3zm4-1zm3-19zm2 21zm1 2zm0-2zm4 5zm1-8zm2 2zm11-5zm4-11zm1 21zm18-8zm13 9zm10 14zm-3-9zm-13-2zm-9 8zm-3-6zm-2-4zm-16 14zm-10 12zm-6-17zm-2 9zm-7 6zm-2-6zm-4-8zm-8 1zm-8 17zm-1-26zm-2 26zm-1-20zm-4 6zm-13-6zm-17-6zm-2 5zm-8 3zm-1-6zm-1 25zm-1-26zm-6 18zm-4-7zm-11-11zm-1-2zm-4 11zm-27-7zm-12 4zm-5 18zm-5-11zm-1 0zm-40-5zm-8-6zm-1-5zm-4 5zm-1 3zm-6 19zm-6-4zm-14 0zm-1-13zm-3 9zm-4-16zm-4 8zm-4 2zm-9-13zm0 25zm-1-25zm0 5zm-1 9zm-2-8zm-4 18zm-61-16zm-17 31zm3 13zm1-5zm1 2zm5-12zm8 17zm1-5zm3 9zm26-28zm9 27zm1-23zm24-1zm4 15zm4 9zm1-13zm1 0zm4 11zm6-20zm23-4zm4 19zm7-16zm3 6zm14-4zm3 20zm9-1zm81-2zm13 0zm3-1zm3 0zm1 2zm5-16zm1-2zm4 7zm5-8zm11 22zm0-6zm9-10zm2 4zm8 9zm1-15zm2-1zm2 7zm2-2zm3 6zm2 2zm0-13zm0 11zm3 2zm1-5zm2-10zm2 8zm2-12zm2 10zm1-11zm3 17zm1 6zm2-17zm2-6zm5 27zm4-14zm5-14zm7 27zm213 20zm-108 6zm-3 5zm-1-16zm-2 13zm-2-17zm0-3zm-4 24zm-2-10zm-18 6zm-9-9zm-7-3zm-4 14zm-66-10zm-11 7zm-5 2zm-1 2zm-1-14zm-5 9zm-8 4zm-9-27zm0 24zm-2-10zm-9-6zm-6-5zm-10 8zm-14-8zm-1-3zm-1 26zm-63 2zm-46-2zm-14-12zm-1-11zm-10 19zm0-10zm-8-6zm-9-1zm-4 21zm0-15zm-3-2zm-2 8zm0-11zm-2 7zm-2 10zm-1-11zm-1 17zm-2-13zm-7-9zm-1 17zm-1-13zm-23-1zm-8 5zm-2 4zm-7-5zm-1 4zm-2 3zm-3 7zm-2-16zm-13 11zm0 4zm-1-1zm-6-25zm0 9zm-15 3zm-4-11zm0-2zm-6 37zm2 10zm2 7zm0 2zm12-13zm2 3zm2 2zm4-3zm7 2zm4 6zm1-1zm1 6zm2-28zm5 17zm3-13zm26 13zm40 2zm1-1zm2 4zm1-12zm1 2zm7 11zm0 6zm0 0zm0-14zm1 14zm4-10zm31 6zm4 4zm14-17zm2-9zm7 4zm17 5zm5-4zm5 7zm1 0zm4 7zm1-4zm10 10zm10-11zm13-7zm6 2zm17-9zm3 15zm7 3zm5-10zm2 14zm2-8zm4 4zm8 8zm6-24zm6 13zm1 11zm0-19zm1 4zm12-4zm3 3zm0 14zm3-20zm2 3zm1 7zm2-15zm0 9zm1-5zm0 4zm4 1zm1 9zm6-12zm7 9zm4-1zm11 10zm9 3zm6-1zm0-4zm1 2zm13 3zm2-1zm3-1zm9-10zm13-1zm21 9zm0 4zm4-18zm0-8zm9 5zm1 0zm2 5zm0-12zm4 7zm1-4zm2 25zm0-15zm1 8zm0-10zm0-3zm1 4zm1-12zm3 6zm7 11zm1 7zm7-9zm14 3zm2-3zm8 13zm8-25zm12 6zm1 12zm2 2zm7-3zm3-18zm16 21zm0-8zm1-2zm7-12zm8 25zm-3 32zm-6-5zm-6-11zm-9-5zm-2 9zm-6-10zm-8 22zm-1-1zm-3-23zm-10 6zm0 18zm-3-9zm-1-16zm-3 15zm-9-2zm-3 7zm-1 2zm0-17zm-12 17zm-4-14zm-2 6zm-15-18zm-5 5zm-4-2zm-5 6zm-4 9zm-13-10zm-8 8zm-3-4zm-9 9zm-1 1zm-26 7zm-4-3zm-1-3zm-6-5zm-4-13zm0-2zm-9 1zm-64 5zm-14-6zm-65 25zm-7-16zm-5-6zm-3 9zm-3 13zm-28-2zm-16-26zm-2 11zm-1-1zm-2-5zm-1-4zm0 0zm-2 14zm-7-4zm-2 3zm-10 14zm0-28zm-11 15zm-2-5zm-2-4zm0 7zm-1 12zm-2-18zm0-2zm-2 18zm0-3zm-1-17zm-1 1zm0 3zm-4-1zm-2 2zm-1 1zm-2-8zm-1 2zm-1 2zm-8 11zm-4 13zm-2-27zm-2 0zm-2-2zm-1 7zm-4-6zm-4 9zm-4 5zm-4 4zm-5-16zm-2 10zm-5 1zm-12 0zm-10-7zm-5-4zm-11 25zm-1 0zm-5-27zm-1 3zm-1 4zm-4-3zm0-2zm-1 12zm0-8zm-1 2zm-1-4zm0 0zm0 5zm-4-6zm-1 17zm-5-15zm0 11zm33 39zm21-10zm0 0zm7-2zm2 9zm1 2zm4 3zm0-17zm3 15zm5-23zm13 25zm12-10zm13-12zm16 11zm36-16zm11 5zm19 2zm3 6zm6-3zm10-10zm2 16zm7-5zm6-1zm19 5zm145-2zm2 6zm1 2zm1-19zm3 24zm0-23zm1 10zm2-9zm2 23zm16-28zm8 20zm13-2zm14-9zm12 4zm9-2zm7-8zm2 5zm2 3zm0-7zm1 9zm1 11zm3 0zm1-22zm0 27zm1-6zm4-14zm13 0zm3-5zm3 17zm18-14zm14 8zm2-6zm17-7zm3 10zm11 10zm1-9zm4-13zm2 38zm-34 20zm-10-24zm-1 20zm-7 0zm-4-10zm-1 5zm-2 1zm0-5zm-12-11zm-6 25zm-9-20zm-3 0zm-1-2zm-2 0zm-1 14zm-2-9zm0-2zm-3 2zm0-5zm-10 16zm-5-9zm-4 6zm-9 3zm-15-20zm-16-2zm-7 21zm-9-15zm-2-4zm-10 10zm-15-13zm-4 22zm-147-14zm-4-8zm-5 13zm-4-5zm-3 3zm-17-10zm-11 11zm-5 3zm-28 6zm-56 1zm-14 0zm-2-21zm-4 2zm-8-1zm-7 18zm-25-5zm0-5zm-19 17zm-29 9zm16 15zm10 2zm1-5zm5 11zm2-11zm2 8zm2-5zm8 5zm1-10zm31 12zm5-3zm339-25zm7 28zm2-8zm4-7zm6-5zm4 20zm10-5zm22-5zm5 0zm9 2zm4-16zm11 3zm3 13zm0-2zm3-9zm0 17zm3-4zm0-9zm6-1zm2 1zm0 13zm6-16zm1 2zm35-7zm7 15zm0 5zm12-2zm-25 31zm-2 5zm-7-7zm-5 6zm-21-1zm-5-8zm-1 6zm-14-14zm-3-11zm-5 5zm-29 17zm-2-14zm-5 9zm-7-14zm-11 16zm-3 3zm-3-13zm-1 3zm-5 0zm-5-8zm-2 8zm-3 8zm-1 1zm-7 1zm-2-15zm-2-4zm-372 3zm385 40zm3 13zm1-27zm5 17zm1-4zm2 14zm0-20zm1-2zm5 10zm2-11zm19 19zm0-23zm3 21zm4-3zm2-7zm3-3zm0 14zm2-15zm8-5zm11 18zm6-1zm6-10zm5 3zm7 1zm7 14zm1-25zm2 7zm4 7zm9-16zm2-1zm14 6zm4 10zm11-1zm-34 26zm-9-6zm0-4zm-1 8zm-3-10zm-2 3zm-2 16zm-2-18zm-1 0zm-4 5zm-1-5zm0 4zm0 9zm-2 1zm-4-2zm-18 16zm-8-27zm-49 6zm-6 13zm0-9zm0 0zm-3 14zm-6-18zm3 39zm3-16zm1 11zm1 16zm1-8zm1-20zm3 24zm2 3zm1-2zm0-2zm0-17zm1 18zm1 2zm1-2zm16-15zm31 18zm1-24zm4 26zm0-14zm9-11zm3 9zm2 15zm0-2zm10-14zm-21 47zm-3-13zm0-6zm-3 1zm-2 17zm-1-20zm-4 7zm0 4zm-1 3zm-15-8zm-1 1zm-3 6zm-3 5zm0-5zm-5-12zm-5-3zm-6 1zm-7 8zm-3 2zm-3-17zm0 26zm-3 28zm18 3zm12-25zm12 13zm5-14zm-20 32z" stroke="#f57d49" stroke-width="16"/><path d="M2673 2338zm-114 20zm1-2zm102 1zm16-9zm0 4zm1-3zm4 11zm9-3zm6-1zm56 13zm8-5zm56-4zm-26 22zm-11 2zm-9 1zm-1 3zm-7 6zm-24-19zm-119 24zm-2-20zm-7 15zm-1-22zm-67 55zm14-11zm74-1zm1 8zm3-7zm4 1zm4 11zm3-7zm0-19zm2 21zm6-10zm17 10zm69 5zm9 0zm2-13zm4 5zm1-1zm4 6zm0-14zm2 6zm1-17zm1 18zm5 5zm1-22zm5 22zm1-9zm1 0zm3-2zm2 17zm2-21zm2-1zm3 9zm1-14zm1 17zm2-18zm1 4zm1 22zm6-4zm12 11zm-5-3zm-5 27zm-11-17zm-5-3zm-6-5zm-11 6zm-11 6zm-1-12zm-13 9zm-1 4zm-3 8zm-3 0zm-1 5zm0-25zm-8 4zm-11 10zm-5-17zm-4 15zm-13-4zm-1 0zm-13-2zm-11 13zm-7-19zm-25 23zm-2-27zm-2 12zm-72-10zm-1 20zm-7-15zm-6 4zm-12 15zm-5-5zm-1 4zm-2-18zm-2 15zm-21-2zm-86 27zm45 2zm4 10zm10-28zm18 22zm16 6zm3-8zm4 8zm11-27zm0-2zm10 5zm22 8zm163-8zm1-4zm2 25zm6-26zm7 1zm1 10zm10 6zm10-13zm232 53zm-2-4zm-103 0zm-10 0zm-8-6zm-7 12zm-7-9zm-9-1zm-94 4zm-8 3zm-32-7zm-107 7zm-81-26zm-4 23zm-1-8zm-3 6zm-1-18zm-16 6zm-16-2zm-5-5zm-7 4zm-12-4zm-40 2zm2 44zm2-13zm1 8zm107-12zm8 21zm1-19zm77 23zm0-13zm2 14zm0-14zm23 8zm44-1zm8-14zm6 0zm3 22zm6-17zm4-7zm24 1zm11-3zm0-1zm7 8zm6 10zm3 1zm0-7zm6-3zm1-8zm96 12zm5-11zm0 18zm2-15zm15 23zm1-17zm2 10zm3-17zm1 9zm57 10zm6-2zm46 36zm-5 1zm-7-4zm-2-9zm-12-2zm0-5zm-4 17zm-14-16zm-12 18zm-5-23zm-3 1zm-4 6zm-12-12zm-2 16zm-4 7zm0-14zm-36-4zm-2 21zm-34 2zm-29 0zm-10-23zm-53-4zm-46 7zm-60-5zm-4 20zm-7 3zm-9-24zm-4 8zm-1-4zm-4 15zm-71-8zm-13 10zm-7-3zm-33-16zm-45 18zm-5-3zm-13-5zm-2-10zm37 41zm8 1zm11 3zm11 8zm7-26zm22 2zm84-2zm4 4zm0 6zm21-9zm9 9zm1-1zm11 8zm147-9zm1 16zm3 2zm4-10zm4 8zm3 1zm6-8zm10-3zm1 14zm7-3zm1-7zm62-19zm2 18zm2 2zm0 1zm7-8zm16 12zm31-19zm8 1zm13-6zm11 0zm10 8zm1 12zm-17 28zm-10-10zm-5 12zm-9 7zm-2-12zm-1 3zm-4 7zm-3-4zm-12 4zm-6-1zm-2-4zm-4-4zm-9 4zm-10-16zm-1 17zm0-1zm-8-20zm-16-1zm-30 16zm-7 9zm-3-14zm-1 2zm-1 14zm-1-4zm-2-16zm-1-3zm-8-1zm-3 18zm-4 2zm-2-18zm-3 2zm-12 5zm-2 1zm-13 1zm-133-10zm-4 5zm-4-9zm-1 14zm-21-3zm-176 44zm14-25zm49 3zm289 17zm3-9zm14 4zm0-9zm0-2zm1 15zm1-7zm4-8zm4 13zm2 11zm1 0zm7-4zm1 5zm1 0zm6-4zm1-24zm1 23zm2-2zm65-1zm18 2zm9-13zm1 14zm2-24zm3 20zm2-8zm3-10zm7-1zm9 18zm1-2zm0-15zm1 10zm2 16zm8-15zm2 10zm1-15zm5 17zm5-14zm10 8zm2-5zm-13 39zm-5-4zm-5-15zm-25-2zm-5 26zm-6-21zm-74 12zm-3 5zm-18-13zm-5 14zm0-9zm-8-12zm-7-3zm-349-1zm-56 0zm394 59zm6-4zm49-20zm4 14zm24 8zm6-9zm4 8zm18 2zm1-12zm4 11zm1-10zm6-6zm5 8zm3-10zm-14 36zm-1 6zm-2 7zm-3-21zm-6 3zm-5-7zm-6 8zm-8-1zm-25-10zm-42 17zm-7 5zm-4-11zm-8 32zm2-4zm2-2zm2 4zm5 5zm4-12zm5 20zm2-13zm10-9zm60 23zm16-15zm21-8zm-36 28zm-3 0zm-3 8zm-9-1zm-28 21zm-18 0zm-5-8zm-10-9zm-1 10zm8 32zm8-20zm2 3zm0-2zm16 14zm12-11zm-30 37z" stroke="#e85a3c" stroke-width="16"/><path d="M2687 2340zm126 45zm-34 14zm-2-6zm-141-1zm-20-6zm37 30zm100 13zm27-9zm1-20zm-37 48zm-1 5zm-8-19zm-50-3zm0-1zm-137 24zm-2-20zm0 1zm-11 7zm-2-9zm169 56zm178 23zm-363-14zm-96 50zm184-10zm148 0zm6 1zm12-6zm32 8zm133 25zm-119-11zm-8-2zm-3 3zm-1-3zm-166 53zm199 1zm83-16zm45 43zm-5 5zm-2-8zm-9 1zm-14 6zm-78-25zm-10 12zm-4-7zm-12-6zm0 7zm-223 18zm222 16zm2 13zm3-8zm2 3zm1-14zm8 4zm3 6zm99 7zm1-15zm3-3zm1 12zm2-14zm1 8zm2 5zm15-3zm21 15zm-3 9zm-11 0zm-2 6zm-8-14zm-86 27zm-32-18zm-6-7zm35 36zm2 11zm7-19zm4 13zm61 43zm-36-19zm-2-2zm-10 3zm-36 105zm13-1zm7-4z" stroke="#d63a30" stroke-width="16"/><path d="M2917 2606zm-73 56zm130 2zm27-1zm-139 195z" stroke="#bd2431" stroke-width="16"/></g>
<ellipse cx="277" cy="234.3" rx="11.6" ry="7.6" transform="rotate(20 277 234.3)" fill="none" stroke="#ee22bb" stroke-width="1.35"/>
<ellipse cx="267" cy="268.9" rx="9.8" ry="6.4" transform="rotate(-38 267 268.9)" fill="none" stroke="#78e826" stroke-width="1.35"/>
<text x="352.6" y="224.1" font-size="10.8" text-anchor="middle" letter-spacing="-0.25" fill="#111" stroke="#111">CXCR4</text>
<rect x="310.3" y="226.3" width="69.3" height="68.9" fill="#fff" stroke="#4a4a4a" stroke-width="1"/>
<g transform="scale(0.1)" fill="none" stroke-linecap="round" stroke-linejoin="round"><path d="M3457 2353zm7 4zm45 51zm-192 25zm-82 6zm271 47zm-81 4zm-132 18zm-87 3zm97 19zm351 5zm25 44zm-107-24zm-225 3zm-8-6zm-107 4zm72 32zm97 18zm317-11zm56 30zm-466 11zm-56-8zm-55-4zm8 45zm511-10zm43 13zm-141 14zm-113-4zm-50-4zm-15 8zm-52-4zm-160-9zm260 51zm49 23zm-48-4zm-31 34zm116 30zm-99 33zm26-4zm1-2zm46-11zm13 14zm0 17zm-33 42z" stroke="#3f6fb2" stroke-width="16"/><path d="M3523 2308zm-75 48zm140 6zm-37 27zm-5-8zm-168 5zm55 39zm68-20zm35-5zm12 14zm2-5zm-15 41zm-38-3zm-77 2zm-44 15zm65 25zm71-22zm-59 27zm-255 51zm212 1zm102-1zm106 24zm-40-4zm-18 4zm-224 2zm-10-1zm-8-5zm-6 5zm-37-5zm-1-1zm-65 12zm-22-10zm-7-11zm11 43zm2-13zm75 3zm22 2zm26 6zm66 3zm4 6zm15-22zm7 19zm167-22zm23 22zm71-7zm33 13zm57-20zm-74 38zm-80-5zm-183 0zm-51-7zm-54 8zm-33-2zm-54 12zm-31-13zm17 46zm256-12zm126 1zm96 2zm9 3zm9 0zm64-10zm-90 21zm-3 7zm-83-2zm-34-4zm-54 8zm-37 4zm-10-12zm-42-1zm36 42zm132-7zm30 19zm70-22zm28 24zm29-7zm-57 21zm-168-4zm-108 30zm7 14zm7-16zm79 11zm212-6zm-51 44zm-53-1zm-184 35zm10 0zm53-11zm9 1zm17-16zm93 40zm-93 1z" stroke="#3a8dbb" stroke-width="16"/><path d="M3459 2315zm-140 48zm110 2zm17 0zm129 30zm-3-3zm-50-6zm-108-11zm49 27zm4 10zm17 9zm47 7zm52 29zm-79-4zm-195-5zm-117-16zm-13 44zm85-13zm46 1zm110 21zm88 4zm8-13zm23 5zm79 36zm-101-20zm-21-7zm-22 10zm-190 13zm-61-4zm-32-17zm-5 57zm202-25zm107-3zm85 6zm33 16zm151 34zm-191-24zm-11 25zm-6 1zm-252 0zm-25-16zm-96-5zm-14 10zm-19-16zm17 35zm64 15zm136-1zm19 1zm23-5zm263-6zm18-4zm16 21zm8-6zm21-8zm-9 39zm-7 6zm-44-1zm-74-14zm-10-5zm-222-6zm-18-2zm-51 27zm-38-19zm-57 9zm19 15zm56 23zm30-20zm183 4zm62 13zm95-22zm24 23zm17 3zm21-14zm11-4zm28 36zm-46-12zm-11 0zm-5 10zm-46 13zm-49 3zm-4-19zm-18 10zm-32-18zm-69 23zm-66-15zm-179-6zm212 47zm24 2zm6-2zm6 2zm13-11zm29-8zm159 12zm2 31zm0-5zm-188-1zm-87 14zm-5 9zm74 13zm136 10zm35 25zm-28-22zm-97 29zm-29-17zm-3-3zm-36 50zm96-2zm78-17zm-20 33zm-152 6zm-18-4zm26 18zm48 4z" stroke="#4fa6b4" stroke-width="16"/><path d="M3545 2339zm-18-4zm-33-25zm-43 54zm48-15zm4 24zm-20 6zm-23-4zm-1 6zm-258 38zm207-13zm21 19zm82-1zm9 2zm3-19zm14 14zm9-7zm14 23zm-6-6zm-12 5zm-30 22zm-4-22zm-51 8zm-65-14zm-62 19zm-31-10zm-96 35zm67 0zm227 6zm17 26zm-28-15zm-91 23zm-58-22zm-64 12zm-104-5zm128 40zm92-5zm125-9zm7 19zm116-11zm13 7zm49 15zm-2-3zm-129 8zm-147-9zm-54 20zm-19-9zm-7 16zm-15-21zm-50 7zm-75-3zm-14 7zm-3 13zm28 26zm186-19zm34 15zm143-22zm123 26zm-41 30zm-93-10zm-55 12zm-86-14zm-28 3zm-68 6zm-80-22zm-102 11zm132 22zm29-5zm164 17zm3-5zm30 14zm114-18zm52 2zm58 0zm42-9zm-52 53zm-83-11zm-59 4zm0-4zm-123-12zm-2-1zm-14 7zm-28 3zm41 30zm80 11zm55-20zm61 29zm-15 9zm-25-3zm-71 15zm-6-13zm-12 19zm-96 1zm-4-2zm-17-7zm-29-15zm31 48zm0-12zm10-10zm273 37zm-19-1zm-62 2zm-81 18zm0-7zm-1-16zm-88 50zm5-15zm1 15zm70-20zm71 14zm48-9zm1 7zm-158 36zm-2-7zm-22 7zm-11 0zm76 9zm60 28z" stroke="#74c4a8" stroke-width="16"/><path d="M3477 2309zm47-12zm12 2zm-29 17zm-9 3zm-35-2zm-6-1zm10 48zm75 5zm14-24zm1 4zm5 18zm5-9zm17 0zm-11 26zm-28 3zm-42-11zm-3 59zm-104 52zm78 149zm-18 18zm2-4zm11 5zm-5 22zm-20 17zm-5-2zm23 15zm4-3z" stroke="#a4d9a4" stroke-width="16"/><path d="M3449 2306zm21-1zm54-3zm4 1zm9 25zm-15 1zm-1 4zm-38-20zm-24 17zm0 3zm-6-11zm-1 5zm-12-5zm22 37zm95-3zm40 33zm-5-9zm-5 9zm-19-12zm-11 11zm-11 1zm0-1zm-15 4zm-10-9zm-26 7zm-17-18zm6 53zm4 6zm-74 5zm-29 49zm127 15zm-114 18zm-6-27zm-23 33zm23 8zm2-11zm2 6zm13-4zm6 26zm116-29zm50 23zm19 1zm59-3zm1-13zm-54 22zm-20 6zm-7 4zm-8 15zm0-13zm-4 0zm-1-5zm-152-3zm-142 48zm185 9zm-163 2zm113 48zm9 0zm9-8zm15 5zm6-3zm1 11zm3-8zm6-5zm2-1zm11-2zm6 5zm0 2zm9 6zm1-8zm256 4zm13 8zm-276 12zm-4 5zm-4 9zm-11-17zm-2 10zm-1 0zm-2 0zm-1 8zm-5-22zm0 17zm-1-17zm-18 22zm-2-15zm-28 12zm-13-18zm9 33zm43 2zm13-6zm5-1zm9 19zm-44 37zm-18 14zm3-5zm187 10zm16 9zm59 12zm-43-4zm-108 18z" stroke="#d2ec9e" stroke-width="16"/><path d="M3419 2368zm3-3zm5 2zm10-12zm5 12zm1-4zm30-7zm0 11zm40-5zm64 5zm21-4zm4 22zm-36 0zm-6 7zm-20-1zm-23 6zm-14-23zm-4-3zm-3 6zm-24 12zm-1-4zm-12 12zm-154-9zm-107 33zm99-9zm10-7zm96 23zm4-5zm5 0zm2-19zm13 19zm24 4zm14-10zm21 8zm5 4zm8-9zm13 7zm11-26zm55 22zm15-21zm-97 37zm-3 3zm-8-9zm-5-3zm-12 1zm-12 18zm-7-9zm-7 7zm-47 2zm-180-10zm-22-5zm-1 9zm-2 2zm-13 30zm2 1zm9 1zm4-13zm9 7zm74 16zm48-7zm56 4zm4 5zm13-4zm3-21zm96 18zm7-22zm11 22zm-1 14zm-4-2zm-2 9zm-3 0zm-42 16zm-71-3zm0-22zm0 0zm-5 17zm-4 8zm-37-27zm-20 8zm-18-8zm-19 5zm-10-3zm-68 51zm175-18zm0 3zm2-6zm5 2zm0 4zm3-9zm10 21zm0-10zm1 16zm0-8zm1 0zm2 4zm1-13zm3 11zm1-4zm5-17zm14 16zm14 5zm54-18zm0 8zm11-3zm4-6zm3 13zm5-7zm1 4zm0 4zm3 3zm19-6zm41 14zm22-27zm26 27zm15-20zm6 18zm1-5zm1-5zm5-7zm-17 37zm-14 5zm-8-17zm-18-1zm-12 8zm-3-7zm-3 1zm-2-3zm-1 26zm-7-25zm-3 9zm-3-11zm-5 9zm-2 3zm-1-3zm-5 14zm-1-13zm-1-8zm-136-2zm-9 9zm-25 3zm-34-6zm-6 1zm-39 6zm-27 22zm3 19zm24-21zm7 8zm34-4zm184 14zm27-14zm11-2zm7-3zm3-3zm145 5zm8 17zm29-16zm-11 42zm-9-2zm-44 12zm-4-4zm-1-10zm-8-5zm-13 7zm-162-8zm-15-2zm-177 1zm-22 22zm-7-22zm-11 10zm-3 12zm-2-21zm-13-4zm-49 11zm-4 6zm-10-9zm-2 8zm-6-8zm-11-1zm25 25zm11 17zm11-13zm39 0zm103-6zm50 10zm5-1zm6 10zm2-12zm0 3zm6 8zm0-8zm9-7zm1-1zm0-4zm15 15zm12 8zm1-6zm7 1zm4 4zm52 0zm4-8zm16 3zm101 6zm6-15zm7 13zm43-16zm10-6zm8 20zm14-9zm4 8zm3-5zm20 11zm2-5zm-16 9zm-118 24zm-5-24zm-119 27zm-36-22zm-13 23zm-1-16zm-10 16zm-30-13zm-2 3zm-2 10zm-1-17zm-5-6zm-2 6zm-6 4zm-9 2zm-5 0zm-1-8zm-1-3zm-5 14zm-5-9zm23 21zm49 5zm1-7zm7 12zm2-11zm5 27zm0-14zm1-4zm6 14zm5-18zm8 16zm9-17zm143 21zm7-19zm4 10zm0 3zm10-9zm3-11zm52 49zm-3-13zm-87 5zm-23 7zm-5 0zm-5 11zm-101-17zm-9-8zm-11-4zm-6 13zm-26-2zm-18 18zm-1-6zm-5 1zm-2 1zm-3 4zm-2-25zm-13 23zm-12 0zm8 7zm6-3zm7 14zm0-3zm0-6zm2-6zm4 10zm119 13zm7-1zm32 5zm3-8zm20-5zm6 10zm1-1zm27 0zm7-7zm2 5zm33 18zm-2 8zm-26 4zm-12-5zm-12-15zm-3 2zm-1 3zm-8 22zm0-21zm-113 49zm8-6zm9-17zm18 24zm6-20zm8 3zm64 27zm-93 17zm-12 3zm-3 15zm25-4zm-55 36z" stroke="#f5fab0" stroke-width="16"/><path d="M3520 2307zm-17 29zm-10 0zm-126 29zm40 1zm14-2zm9 3zm3-6zm4-6zm5 8zm7 5zm7 1zm25-2zm8-3zm3 1zm6-4zm14-3zm5 11zm89-3zm-6 25zm-9 4zm-9-1zm-2 1zm-14-4zm-4-2zm-9-4zm-32-14zm-1 27zm-7-16zm0-6zm-11 12zm-13-9zm0 2zm-1-1zm-2-6zm-1 6zm-2-6zm-4 10zm-3 3zm-4 5zm-2-12zm-6-10zm-2 29zm0-6zm-6-22zm0 21zm-10 1zm-5-13zm-7 10zm-5-11zm-8-4zm-1 3zm-3 11zm-2 7zm-8-14zm-32 11zm-5-14zm-61 1zm-4 6zm-7-1zm-1 8zm0-3zm-91 28zm30 4zm53-9zm3-8zm7 23zm2-7zm10-15zm6 17zm10-21zm1 21zm78 5zm6-4zm3 2zm7-14zm3-12zm6 29zm1-27zm18 20zm3 5zm1 2zm0-21zm8-6zm1 20zm1-16zm6 8zm0-12zm10 21zm15-3zm0-5zm8-11zm7 19zm10-5zm0 11zm2-5zm8-16zm23 0zm1 4zm13 15zm7-18zm16 41zm-10-14zm0 7zm-2-3zm-4-1zm-33 1zm-18 5zm-11-9zm-9 10zm-6-5zm-3 0zm-16 14zm-5-17zm-5-4zm-13 15zm-7-8zm-12 10zm-3-18zm-2-3zm-7 11zm0-3zm-10-6zm-4 12zm0-10zm-2-4zm-5 5zm-6 2zm-12 11zm-4-2zm-7 8zm-127-5zm-10-14zm-4-2zm-15 3zm-4-4zm-11 12zm-7 1zm-7-6zm-1-1zm-17 20zm-11 28zm10 1zm4-15zm1 12zm3 2zm2-2zm4 0zm5-10zm2-5zm13 10zm14 4zm9-16zm42 17zm2-3zm27 2zm20-6zm12 12zm46-27zm4 13zm2-15zm6 3zm1 10zm7-2zm2 3zm2 13zm18 0zm5-3zm43-2zm21-14zm8-1zm2 20zm3-1zm2-11zm0 11zm2 3zm1-1zm1-6zm13-21zm2 13zm14 14zm128 30zm-16-4zm-6-9zm-2 14zm-4-15zm0 12zm-26 0zm-72 1zm-16-23zm-8 17zm-6-12zm-7-7zm-9 5zm-2-4zm-13 21zm-3-18zm-2-2zm-5 8zm-9 3zm-10 11zm-7-6zm-12-1zm-19-6zm-13-5zm-2 10zm-3-17zm-2 19zm-1-5zm-2 2zm-24 11zm-42-23zm-7-5zm-4 11zm-9 14zm-9-19zm-2 11zm-1 7zm-1-5zm-7-13zm-1 22zm-1-18zm-2 5zm-1-8zm0-5zm-13 14zm-26-12zm-2 9zm-5-7zm-37-4zm-18-1zm-5 5zm-17 50zm9-18zm25 16zm13-1zm3-1zm4 7zm5-11zm3 11zm0-19zm37 14zm31-19zm2-5zm10 8zm38-6zm25 17zm2-9zm5 15zm4-22zm11 11zm1 6zm2 0zm1-1zm0-8zm1-9zm1 3zm0 0zm1 17zm2-22zm0 15zm1-11zm1 7zm1 4zm3 7zm2-11zm1-9zm1 14zm4 11zm0-21zm4 23zm0-10zm2 0zm6-16zm6 3zm1 3zm7 18zm7-14zm19 11zm6-16zm3-1zm28-6zm1 11zm15-9zm1-3zm7 20zm3 6zm2-25zm0 16zm4 9zm4-8zm5-1zm2-2zm11 8zm16 5zm4-3zm8 3zm23-24zm3 6zm17-8zm13 19zm5-11zm13 5zm5 4zm1 6zm1 4zm0-18zm1 5zm1 1zm1 12zm0-6zm0-11zm1 8zm2 8zm0-22zm1 6zm1 2zm1 12zm2-4zm1-20zm11 21zm8-13zm11 19zm16-3zm9-9zm0 12zm5 0zm26-29zm-1 50zm-6-6zm-2-12zm-44 17zm-45-7zm-2-7zm-1 1zm-6 6zm-11 7zm-1-17zm-13 23zm-7-24zm-5 27zm-33-16zm-6 16zm0 1zm-1-7zm-3-16zm-149-5zm-2 3zm-4-3zm-2 4zm-1 14zm-5-6zm-15 4zm-6-13zm-26 18zm-5-4zm-1-3zm-4 0zm-8 3zm-1-5zm-7-5zm-10 8zm-3-1zm-1 0zm-1 7zm-2-5zm-5-5zm-1-9zm-1 24zm-2-5zm-2-3zm-8-11zm-1 1zm0 3zm-1 7zm-7 4zm-1 4zm-6-12zm-65-15zm-19 16zm0-5zm0 9zm-1-8zm-1-6zm-9 7zm-3-7zm-4-1zm11 40zm4 6zm5 4zm0 2zm54-1zm4 1zm21-6zm24-13zm5 3zm0 14zm2-5zm4-18zm3 22zm13-19zm0 2zm2 14zm38-9zm0 15zm1-20zm12 8zm173 4zm4 9zm1-22zm5 14zm1 6zm1-9zm3-1zm2 1zm1 12zm0-27zm2 12zm3 10zm0 3zm1-24zm1 18zm0-21zm2 27zm0-26zm2 4zm1 1zm5 6zm53 4zm33 11zm26-16zm28-5zm0 7zm9 3zm2-2zm32 8zm2-15zm-46 49zm-1-4zm0 1zm-7 5zm-3-1zm0-5zm-6 7zm-6-18zm-27 1zm0-9zm-1 26zm-6-12zm0 1zm-4-1zm-29 8zm-3-15zm-16-2zm-7 12zm-31-18zm-6 17zm-4-4zm-1 11zm-1 0zm-9-5zm0-6zm0-1zm-9 5zm-1-3zm-2 2zm-7 1zm-7 2zm-6-16zm-21 11zm-62-9zm-1 19zm-2-10zm-13 10zm-11-5zm-42 1zm-44-17zm-3 7zm-9 3zm-3 13zm-4-28zm-5 8zm-6 16zm-6-2zm-6-10zm-9 5zm0-9zm-7-3zm-2 5zm-16-7zm-3 2zm-11 9zm-10 3zm-18 7zm-10-6zm-11-8zm-5-7zm-19 13zm-4 9zm21 9zm15 9zm7-8zm3 4zm1 11zm2-16zm5 19zm3-1zm0 6zm2-22zm1 16zm5-19zm2 11zm2 5zm1-12zm60 1zm33-2zm84 16zm4-3zm7-2zm16-4zm0-12zm7 24zm35-9zm13-2zm2-3zm2 2zm41 13zm6-11zm1 4zm2-12zm15 21zm10-1zm2-11zm15-5zm2 9zm8 4zm11-20zm11 25zm14-8zm14-5zm5 8zm1 2zm1-16zm4 5zm6 5zm1-20zm7 11zm32-3zm2-5zm15-2zm0 2zm7 2zm11 0zm12-4zm9 19zm3-2zm14-13zm4 21zm-16 4zm-8 26zm-4-20zm-1 5zm0-11zm-21 29zm-49-18zm-15-4zm-1-7zm-4 3zm-7 16zm-2-14zm-21 6zm-15-10zm-45 17zm0 9zm-7-25zm-15 2zm-4 18zm-10-12zm-1-1zm-11 1zm-53 16zm-10 3zm-15-12zm-17 6zm-4-7zm-5-2zm-8-4zm-2 2zm-4-9zm-1 9zm-1 11zm-7-2zm-149-10zm-30-9zm-3 0zm-2 4zm-2-5zm-5 1zm180 55zm28-17zm2 9zm4-16zm14 6zm2 2zm23-2zm3 19zm3-6zm1-14zm0 20zm5-6zm2-15zm1 2zm29 20zm19-1zm40-3zm44-14zm33-10zm4 3zm2 13zm4 9zm6-10zm19 13zm5-22zm1 21zm11-7zm19 1zm6-20zm7 14zm15-10zm8 1zm-30 36zm-18-5zm-5 0zm-20-4zm-7 11zm-5-6zm-8-8zm-4 9zm-8-8zm-3-2zm-29 24zm-3 4zm0-9zm-8 0zm0-1zm-1-3zm0 1zm-62 11zm-14-21zm-20 12zm-24-16zm-1 5zm-5-7zm0 3zm-14 1zm-29 2zm-1-6zm-1 27zm-25-18zm-12 5zm-5 5zm-2 21zm7-7zm3 4zm9 3zm1-5zm4 0zm0 0zm2 0zm1 1zm1 9zm7-7zm3-6zm1 21zm3-20zm1 10zm7-6zm19 12zm22-11zm8 19zm36-10zm5 5zm13 4zm18-10zm5 12zm46-9zm1-8zm1 18zm1-22zm2 14zm0-4zm3 1zm1 10zm0-15zm0 10zm23-13zm9 17zm26 0zm6-16zm3 9zm18-3zm-14 26zm-2-8zm-5 10zm-6 4zm-4-9zm-1-4zm-1 12zm-4-3zm-17 3zm-3 6zm0-11zm-2 4zm-9-16zm-13 26zm-3-26zm-3 11zm0 10zm-1-21zm-1 23zm-2-6zm-32-16zm-32 1zm-15 10zm-5-12zm-9 15zm-7-12zm-9 20zm-2-17zm-4 16zm-8-6zm-31-15zm-5 21zm-2-19zm-27 7zm-12 9zm23 10zm3 23zm4-3zm11-12zm19 16zm12-15zm11-8zm1 19zm0 3zm10-21zm5 21zm4 0zm0-7zm2-14zm1 7zm1 10zm2-19zm4 11zm4 10zm0-20zm11 2zm0 12zm25 7zm26-6zm5 6zm0 5zm14-7zm7 5zm32-15zm-23 24zm-7-4zm-11 1zm-2 0zm-3 22zm-50-13zm-12 16zm-3-22zm-12 15zm-11-17zm-6 23zm-5-10zm-3 1zm-14 7zm-16-4zm-15 9zm-2-1zm-4-8zm11 31zm1-4zm2-1zm4-9zm2-5zm18 10zm19 0zm19-7zm4 3zm4 18zm0 0zm1-1zm1 0zm6 3zm10-2zm2 2zm26-8zm-97 15z" stroke="#fee999" stroke-width="16"/><path d="M3442 2336zm-124 29zm108-3zm4 2zm1-2zm1-17zm5 14zm1 0zm0-3zm2 0zm0 5zm5 7zm1-21zm10 11zm0-3zm6 14zm1-21zm1-6zm1 9zm1 10zm9-7zm5 6zm35-18zm52 44zm-37 9zm-20-22zm-11 9zm-6 7zm-5-15zm-2 9zm-3 15zm-5-27zm0 17zm0-10zm-6-8zm0 9zm-3-6zm-1 7zm-1 6zm-7-7zm-3-9zm-2 10zm-6-7zm-3 16zm-10 3zm-21-9zm-12 7zm-2 1zm-5-11zm-20-6zm-4 1zm-55 8zm-1 6zm-3-3zm-3 4zm-4 4zm-99 18zm0 17zm5-12zm0 1zm3 3zm0-1zm6 0zm4-13zm0 19zm6-19zm3 22zm17-2zm21-10zm5 8zm20-19zm11-2zm0 19zm5-12zm5 18zm2-21zm6 10zm1 1zm44-18zm10 14zm15 0zm7 12zm4 1zm7-8zm1-18zm5 20zm7-13zm2 16zm7 4zm12-26zm2 12zm0 10zm8-6zm2-6zm40 12zm11-3zm13 3zm14-19zm2 13zm4 6zm7 1zm36-5zm3-15zm2 38zm-16-3zm-3 0zm-11 0zm-3 15zm-8-24zm-16-2zm-2 9zm-4-9zm-3 25zm-1-24zm-5 1zm-2 8zm-1 18zm-1-28zm-7 5zm-4 14zm-2 6zm-2 2zm-12-12zm0 6zm-20 2zm-8-23zm-10 5zm-2 7zm0 5zm-5-9zm-4 20zm-2-25zm-13 7zm-32 2zm-16 3zm-2-2zm-5 10zm-15-8zm-16 14zm-9-11zm-8-18zm-6 15zm-11-4zm0 1zm-3-11zm-10 9zm-26 17zm-7-11zm-18-3zm-3 14zm-2-6zm-4 5zm-2-21zm0 3zm-4 5zm-1-4zm-2 1zm-4 18zm-2-21zm-1-5zm-21 6zm-9-5zm-4 15zm-5-18zm-3 13zm-4 43zm3-1zm1-13zm1 0zm0 15zm1-8zm0 10zm1-8zm1 4zm0 4zm4 0zm1-5zm1 2zm2-11zm4 12zm4-7zm4 6zm2-11zm11 4zm14 7zm3-2zm9-13zm1 7zm1-10zm8 2zm2 9zm3-10zm12 9zm1 7zm25-25zm1 9zm0-2zm6 8zm4-3zm3-4zm3 18zm0-25zm8 10zm17 2zm46 4zm2-14zm4-2zm14 23zm17-5zm6 10zm8-1zm2-28zm4 17zm9 12zm3-23zm1 18zm7-4zm20 0zm5-2zm2 4zm4-10zm7 13zm0-10zm1-10zm3 0zm1-1zm0-3zm3 0zm1 27zm1-10zm3 5zm0-14zm4 12zm1-11zm4-2zm3 17zm1-11zm0 3zm4-6zm12 10zm2-14zm4 16zm20-19zm93 46zm-2 2zm-1 0zm-4-5zm-2 2zm-4-7zm-1 7zm-2-14zm-6 19zm-24-1zm-7-3zm-58-20zm-7 0zm-2 29zm-3-5zm-3-19zm-9-4zm-10 4zm-9-5zm-10 1zm-1 20zm-3-11zm-6 5zm-5 11zm-2-21zm-5 14zm0 2zm-4-3zm-19-17zm-21 28zm0-12zm-1-1zm-24 5zm-48-10zm-15 9zm-7 6zm-7-15zm-8 8zm-7 10zm-10-17zm-7 11zm0-7zm-2-3zm-4-4zm-1 8zm-1 5zm-1-7zm-8 6zm0-15zm-2 12zm-2-3zm0-11zm-2 5zm-10-9zm-10 22zm-1-8zm-5 8zm0-13zm-10 12zm-1 4zm-21-22zm-2 7zm-2-8zm-2 15zm-15 3zm-6-9zm-13-11zm-1 2zm0 3zm-7-4zm-5 48zm4 3zm1 5zm10-16zm4 12zm3-9zm2 10zm4 1zm2-13zm1 8zm6 0zm1 0zm16-20zm0 4zm6 22zm2-4zm3-4zm1-2zm3-11zm0 12zm58 3zm0-20zm12 17zm7 12zm0 0zm9-23zm55 8zm27 8zm1-14zm5 17zm20-13zm0 12zm9 2zm7-19zm3 12zm10-16zm1 24zm6-17zm2 3zm0-4zm3 5zm6-3zm5 0zm4 11zm9-10zm10 11zm4 2zm1-8zm1 4zm11-13zm1 9zm3-17zm3 14zm5 4zm4 9zm2 0zm1-7zm4-11zm20 14zm59-6zm24-11zm1 12zm0-8zm2-10zm3 2zm3 27zm1-14zm2-10zm1-5zm7 19zm1 0zm2 0zm1-14zm6 3zm3 17zm22 1zm20 1zm14-12zm20 12zm0-9zm12 28zm-2-16zm-40 1zm-1 25zm-1-18zm-1 10zm-4-7zm-2 1zm-1 14zm-2-13zm-2-6zm0-1zm-7 0zm-7 1zm-7 7zm-3 13zm-1-8zm-6-17zm-6 20zm-5-15zm-3-1zm-6 4zm-3 8zm-6 7zm-4-12zm-4-7zm-5 9zm-8 8zm-13 6zm-8-5zm-85-20zm-97-1zm-18 19zm-2-5zm-6-8zm-12-6zm-17 10zm-4 13zm-1 3zm-6-4zm-2-16zm0 8zm-5 5zm-2-16zm-1-3zm-5 5zm-10-3zm-21 22zm-1-17zm-1-4zm0 22zm0-17zm0 3zm-2 6zm-1-9zm-1 2zm-3-13zm-1 10zm-1-2zm-10 10zm-2-1zm0-1zm-13-8zm-11 3zm-1 15zm-1-3zm-42-18zm-13 16zm-2-6zm-5-1zm-3 4zm0 5zm-4 5zm-3 0zm-3-27zm0 2zm-7 9zm-2-9zm-2 0zm-1 12zm-7-5zm-1-7zm0 4zm-1-7zm-8 0zm2 56zm0-11zm3 10zm7-3zm3-14zm8-3zm3 3zm2 13zm3-6zm4-13zm1 16zm1-4zm5 5zm0 0zm2 4zm5 4zm5-10zm12 10zm1-8zm17 4zm2 6zm0-6zm5-1zm0-1zm6 7zm1 1zm8-19zm4-3zm4 14zm26-9zm4 1zm2-13zm3 28zm2-18zm2-10zm1 28zm22-1zm25-16zm2-4zm1-5zm17 6zm8 13zm1 8zm17-5zm20 1zm106-9zm35 13zm1-6zm3-15zm0 18zm2 2zm3-14zm2 13zm1-3zm1-10zm3 1zm7-4zm4 14zm64-5zm13 2zm4-15zm9 2zm2 11zm2-20zm12 1zm18 15zm0-11zm1 15zm7-18zm0 12zm11 8zm7-19zm10 5zm5 1zm3 10zm0-17zm2-1zm6 5zm4 14zm0-15zm1 11zm1 12zm-9 19zm-8 9zm-3-17zm-12 19zm-4-28zm-4 11zm-12 10zm-1 5zm-3-19zm-4-4zm-14-1zm-8 14zm-2 12zm-4-14zm-1 14zm-2-9zm0-2zm-1-11zm-2 13zm0-5zm-2-11zm-7 5zm-4 17zm-2-4zm-10-14zm-19-2zm-11 18zm-4-13zm-6 8zm-4 4zm-4-7zm-4-9zm0 4zm-2-6zm-3 24zm-5-8zm-4 7zm0-13zm-1 15zm-7-21zm-4-5zm-2 17zm0-16zm0 16zm0-16zm-1 25zm-2-27zm-1 1zm-3 12zm-1 1zm-2 6zm-4-22zm-5 18zm-3 1zm-1-9zm-2 14zm-2-4zm-3-12zm-1-4zm-16 5zm-16 17zm-6-8zm-1 10zm-87-8zm-43-12zm-12-6zm-13 26zm-2-21zm-1 19zm-18-13zm-7-1zm-1 0zm-1 6zm-3 11zm0-6zm-3 4zm-2-9zm-3 0zm-1 6zm-1-9zm-5 9zm-1-5zm-7 10zm0-13zm-2 2zm0 4zm-4-2zm-4 6zm-1 0zm0-3zm-11-1zm-21-16zm-1-6zm-1 17zm-11-11zm-3 7zm-12-5zm-15 10zm-3-10zm-8-6zm-4 8zm-4-6zm-1 20zm-5 3zm-8-8zm-4-15zm0 19zm-1-4zm-5-10zm-23-9zm27 36zm14 7zm3 0zm4 12zm3 2zm3-21zm10 4zm1 14zm6 1zm1 0zm1-21zm3 12zm6 12zm9-5zm31 1zm15-6zm18-9zm3-5zm6 5zm0-3zm18 16zm97-14zm13-8zm51 20zm7-9zm3-9zm3 1zm16 6zm4-9zm1 6zm13 9zm11 4zm6 4zm3 2zm0-8zm7 6zm11-6zm0 8zm8-7zm7 11zm9-29zm5 25zm2 3zm7-21zm4-7zm1 24zm5-22zm3 18zm12 7zm2-24zm17-3zm16 25zm9-7zm0 9zm4-16zm1-5zm1 13zm0-1zm3 2zm1-8zm2 16zm4-5zm2 2zm4-20zm2 24zm0-23zm8 14zm4-4zm2 1zm2 8zm2-14zm5 8zm0-13zm10 2zm9 18zm1-2zm14 8zm-11 3zm-3 10zm-2 6zm-5-20zm-5 8zm-11 5zm-31 4zm-8-6zm-9 11zm-20 6zm-2-14zm-3-10zm-22 13zm-10-2zm-1-11zm-2 1zm-1-5zm-1 10zm-1-2zm-4-1zm0 19zm-1-22zm-8 16zm0-21zm-5 10zm-3 5zm0-8zm0 15zm-9 6zm-4-1zm-3-22zm-2-5zm-3 7zm-2-3zm-9-3zm-23 4zm-9 3zm-8 19zm-4-27zm-13 25zm-4-23zm-11 7zm-10 15zm-47-5zm-159-17zm-5 3zm-42 8zm0-10zm0 0zm-1-3zm-4 4zm-5-4zm-17 2zm217 42zm14 11zm8-12zm5-8zm19 12zm2 10zm0-2zm1-2zm4-7zm7 9zm1 4zm2-13zm4 8zm1-4zm1-17zm4 20zm0 6zm3-19zm6-4zm1 3zm3 18zm3 2zm2 0zm3-3zm1-16zm0-3zm3 22zm5 0zm4-11zm8 10zm50-12zm0 2zm2-13zm28 18zm38-8zm1-6zm4 3zm3 15zm2-7zm29 5zm2-5zm5-2zm7-2zm7 4zm2 3zm3 3zm1-15zm6 14zm1-7zm9-13zm3 4zm1-4zm0 17zm14-21zm1 23zm21-24zm-9 31zm-40 21zm-2-5zm-6-11zm0 1zm-2 3zm0-9zm-2 13zm0-8zm-1 1zm-5 10zm-1-4zm-1-1zm0 9zm-5-18zm-1 17zm-3-8zm-6 2zm-19 13zm-3-16zm-17 9zm-3 2zm-8-3zm-17 5zm-3-12zm-2 7zm0-8zm-1-5zm-3 23zm-7-6zm-42-19zm-10 11zm-7 10zm-12-12zm-22-8zm0-2zm-2-2zm-10-1zm-2 2zm-5 26zm-1-16zm-2-3zm-1-2zm-1-4zm-2-3zm-2 14zm-1-8zm-4-3zm0-3zm0 7zm-1-5zm-11 23zm-1-20zm-14 14zm-50 1zm-1 9zm2 18zm0 3zm9-19zm3 4zm1-4zm6 8zm2 18zm2-19zm5-5zm6 1zm0 22zm0-21zm3 6zm4 3zm23 8zm5 3zm9-5zm1-4zm2 4zm2-16zm0 17zm9 3zm6-12zm1 17zm1-3zm11-9zm11-6zm1 16zm14 1zm2-7zm35 1zm23-2zm6-2zm7-10zm19 1zm1 2zm3 7zm6-2zm12-2zm24 8zm1-16zm6 0zm17 13zm19-18zm2 4zm1 1zm0-3zm-32 29zm0 1zm-2 4zm-10 7zm-2-8zm0 0zm-3-2zm-1 6zm-1-6zm-1 11zm0 4zm-1-9zm-1 16zm-2-4zm-3-14zm-2 4zm-3 5zm-9 4zm0-9zm-3-1zm-3 17zm-5-12zm-3 4zm-2-7zm-6 1zm-3-13zm-3 1zm-1 2zm0 18zm-2-21zm-1 3zm-4 1zm-41 8zm-10-11zm-13 18zm-1-17zm-1 26zm-8-6zm-1-20zm-1 3zm0 1zm-3-2zm-6 3zm-1 10zm-9 5zm0-7zm-1 3zm0 1zm-2 6zm-4-11zm-7-1zm-3 0zm-5-3zm-3-11zm-32 28zm-15-11zm-6-4zm0-12zm-3 22zm-15-23zm-6 27zm-2-15zm-7-11zm-9 11zm29 20zm14 15zm3-12zm2 11zm19 6zm4-11zm3 16zm7-5zm10-17zm3-4zm1 20zm0-13zm0 17zm1 1zm6-26zm2 22zm6-17zm1 17zm0-22zm1 21zm0 5zm1-1zm1 3zm3-2zm0 1zm6-23zm3 24zm2-27zm1 17zm8-10zm9 12zm4 3zm2-8zm3 4zm0-19zm3 28zm2 1zm0-9zm7-7zm0 11zm2-11zm2 15zm3-10zm3-4zm1 10zm1 4zm2-1zm10-9zm9 8zm16-23zm16 2zm2 6zm11-8zm28 2zm8 1zm-41 34zm-10 5zm-24 12zm-13-2zm-13-13zm-8 4zm-3-11zm-3 11zm-4 11zm-5-14zm-4-4zm-1 17zm-8-3zm-4 3zm-1-21zm-6 9zm-7-1zm-2 14zm-7-26zm-1 0zm-3 9zm0-2zm-6-1zm-4 7zm-6 0zm-3-14zm-7 9zm-15 1zm-1 9zm0-13zm-5 22zm0-2zm-9 3zm-1 0zm0-2zm-5-17zm-7 6zm0 18zm16 17zm28-15zm3 7zm9-10zm3 5zm20 10zm0-16zm2 1zm0-3zm3 2zm5 16zm6-2zm3-8zm7 18zm4-11zm3 7zm3-11zm2 12zm6-20zm11 22zm1-9zm9-9zm11 24zm-46 0zm-9 1zm-3 1zm-52 7zm-12-4z" stroke="#fdc877" stroke-width="16"/><path d="M3438 2356zm19 7zm32 9zm-1 1zm-7 18zm-39-6zm-1 7zm-26-7zm-16 9zm-4 5zm-70-26zm-3 4zm-2 9zm-7-4zm-61 17zm-61 16zm6 14zm10-2zm9-20zm6 0zm6 21zm16-2zm9-10zm3 10zm2 0zm6 3zm14-5zm1 3zm10 1zm22-9zm2-12zm4 1zm12 19zm2-3zm47-4zm9 1zm12 3zm7-15zm3-8zm3 12zm8-2zm15 16zm10-10zm70 10zm8-17zm16 17zm1-20zm4 8zm5 8zm52-22zm-3 43zm-8-6zm-3 3zm-6 6zm-13-9zm-3 9zm-4-17zm-2 18zm-6 3zm-1-3zm-3-13zm-1 17zm-1-7zm-10 11zm-1-20zm-1-3zm-4 6zm-1-3zm0 10zm-4-15zm-7 21zm-2 3zm-12-7zm-12-3zm-17 0zm-17-6zm-13 1zm-2-3zm-13-2zm-51-1zm-9 19zm-2-7zm-1-16zm-3 26zm-30-23zm-7 19zm-1-18zm-5 25zm-1-22zm-2 7zm-4 0zm-4-4zm-8-6zm-17 22zm-8-8zm-6-15zm-2 8zm-6 2zm0-6zm-3 6zm-2-4zm-4 16zm-1-20zm-5 0zm-1 9zm-2 3zm0-16zm-4 4zm-15-2zm-45 3zm-3 9zm-12-3zm-6 12zm-1-14zm0-9zm-6 32zm11 1zm5 13zm1 7zm1-23zm1 0zm5 24zm2-6zm0-2zm6 2zm2 8zm4-2zm38-1zm13-16zm14-7zm12 16zm1 4zm4-5zm2 12zm21-25zm7 6zm127 2zm3 7zm3 4zm1-5zm9 10zm4-14zm20 15zm4-12zm16 0zm9 13zm2-21zm6 5zm4-4zm1 15zm1-5zm9-11zm3-4zm1 12zm4 3zm1 2zm2-18zm14 7zm4 18zm6-10zm5-13zm165 50zm-84-2zm-7 4zm-85-25zm-7 5zm-1-3zm-6 12zm-39-15zm-23 0zm-12 9zm-3-4zm-10 2zm-1 2zm-1-3zm-11-7zm-6 25zm0-10zm-87 14zm-7-2zm-3-24zm-7 23zm-3-5zm-11 8zm-7-14zm-1-2zm-15 7zm-5 0zm-3-1zm-3 4zm-18-3zm-14-3zm-8 5zm-2 4zm-10 2zm-9-5zm0 2zm-11-9zm-4 12zm-1-20zm-1 11zm-5-18zm-12 6zm-1 2zm0-2zm-5 11zm-8-16zm-1 0zm-2-2zm-5 1zm-19 52zm10 6zm11-3zm18-20zm13 17zm13 1zm0-21zm5-3zm3 7zm5 17zm3-14zm0 1zm23-4zm0 15zm5-15zm19-6zm18 13zm1 12zm1-1zm1-22zm1 26zm14-3zm6-9zm1 7zm23-23zm1 2zm59 26zm45-14zm2-12zm8-3zm5 25zm4 3zm1-15zm2 15zm5-10zm4 6zm2-13zm2 17zm3-11zm55-14zm6 21zm83-18zm21-1zm3-5zm28 28zm17-5zm16-12zm9-3zm1 21zm4-6zm6-9zm1-2zm7 6zm2 9zm9-10zm2 6zm1 3zm0-5zm2 3zm1-20zm3 17zm1-12zm-5 44zm-11-8zm-1 1zm-1 8zm-2-20zm-4 10zm-5-5zm-5-8zm-1 16zm-1-5zm-3-4zm-9 9zm-1 10zm-4-13zm-1-2zm-8 12zm-2-18zm-6 20zm-1-13zm-6 1zm-7-9zm0 20zm-11-9zm-146-8zm-7-8zm-12 6zm-11 0zm-2 0zm-14-4zm-6 3zm-43 6zm-40 17zm-15-5zm-17-14zm-19-1zm-21 5zm0 7zm-2-7zm-3-13zm-1 20zm-2-20zm0 6zm0 0zm-3 10zm-3 0zm-3-6zm-2 17zm-13-18zm-2 0zm-2-2zm-2-1zm-5 22zm-2-11zm-33-3zm-14-4zm-16 11zm-1-13zm-6 4zm0 9zm0-11zm-1 12zm-1 5zm-1-15zm-3 1zm-1-2zm-2-4zm-2 9zm-1 6zm-1 2zm-10-7zm-2-1zm-2 13zm-2-18zm0 13zm-10-9zm-4-6zm1 50zm0-22zm1 22zm27-5zm0-2zm4-1zm5-7zm5 3zm5-2zm6-10zm1 0zm1 13zm6-2zm4 2zm2-3zm6 12zm24-9zm3 8zm13-16zm47 9zm44-9zm2 3zm6-2zm3-8zm8 12zm1 3zm1 10zm0-16zm1 16zm2-11zm1 8zm5-7zm11-9zm7 19zm2-10zm0-18zm1 22zm1 2zm3 3zm2-22zm7 11zm19 7zm115 1zm12 3zm6-1zm6 3zm1-19zm32 17zm13-2zm18-22zm10 8zm7 7zm7-8zm2 5zm1 10zm1-7zm1 2zm0 8zm7-10zm1-15zm0 3zm2 10zm2-5zm2-5zm6-3zm2 15zm1-2zm4-5zm13-5zm32 7zm22 16zm4-4zm16 26zm-1-4zm-3 9zm-2-22zm-15 7zm-29-1zm-10 13zm-43-9zm-5-14zm-1 18zm-4-17zm-4 26zm0-23zm-50 6zm-3-7zm-7 26zm-13-19zm-5 1zm-1 5zm-2-11zm-7-2zm-8 4zm-2 1zm-13 9zm-60 8zm-61 1zm-13-15zm-4 5zm-25-7zm-6-1zm-11 11zm-5-1zm-5 1zm-33-14zm-14 22zm-19-2zm-4-1zm-11-18zm-83 11zm-10-12zm-12-5zm-14 13zm-2-13zm-1 0zm-4 25zm-4-25zm-3 27zm-6-12zm-1-14zm50 57zm4-14zm8 10zm29-4zm36-2zm6 10zm5-12zm1 4zm4-10zm1 3zm8-10zm2-3zm3 1zm3-1zm2 4zm9 10zm10-10zm100 4zm66 14zm1-4zm36 3zm13-13zm30 16zm11-12zm2 10zm0-9zm1 13zm1-7zm1-4zm3-4zm29 4zm18-8zm24 17zm13-10zm1-5zm22-7zm11 15zm17-16zm11 8zm-10 28zm-17-6zm-5 0zm-20 4zm-53 5zm-8-5zm-3 21zm-3 3zm-4-6zm-1-21zm-6 4zm-5 13zm-11-10zm0 5zm-2 0zm0-11zm-1 16zm-6-5zm0-1zm-5 9zm-1-8zm-2 4zm-4-10zm-6 21zm-3 0zm-10-28zm-49 4zm0 21zm-1-6zm-5-8zm-211-4zm-20-2zm-15 1zm-37-5zm260 49zm2 2zm3-16zm3 7zm1-1zm3-5zm2 17zm1 1zm3 0zm3-3zm0-9zm6 11zm11 4zm31-3zm35-23zm1 7zm0-9zm4 12zm2-1zm3-2zm1 9zm0 7zm1-19zm6 10zm9-8zm3 5zm2 12zm0 0zm3-13zm0 3zm1 11zm1-25zm0 21zm2 5zm3-19zm1 4zm64-4zm4 1zm8 19zm0-7zm1-20zm0 7zm1 12zm1-5zm4-12zm2 13zm1 1zm1 11zm12-20zm0 7zm2-8zm14 6zm15 9zm-29 24zm-5 4zm-3 3zm-6-11zm0-4zm-2 13zm-1 6zm0-20zm0-4zm-1-3zm-4 25zm0-21zm-1 1zm-1 2zm-8 14zm-7-4zm-1-15zm-51 1zm-10 2zm-8 0zm-1 6zm-7 2zm-3-2zm-2-5zm-5-5zm-6 4zm-53 3zm-3 4zm-3-12zm-19 23zm-9-22zm-15 7zm-115 3zm33 28zm3 3zm1-7zm23 18zm7-4zm15-4zm3 7zm16-11zm1 1zm2 4zm2-13zm10 21zm3-2zm1 2zm24-5zm4-10zm3 12zm14-10zm10 17zm55-26zm61 7zm40-5zm16-2zm-51 50zm-1-9zm-3 5zm-2-1zm-5-7zm0 15zm-1 3zm-16-11zm-3 10zm-16-2zm-11-22zm-39 0zm-17 7zm-3 6zm0-7zm-2 4zm-1 0zm-1 8zm-9 6zm-3-15zm-10-12zm-8 20zm-9-8zm-4 3zm-13 0zm-3-1zm-1-10zm0 12zm-1-12zm-11-2zm-6 16zm-3 1zm-2 0zm-5-9zm-8 11zm-4-4zm-5-11zm-2 11zm-3-14zm-2 8zm0 0zm-5 6zm-1 1zm0-11zm-22 18zm-1 2zm-15-18zm-2 17zm-2-25zm30 43zm6-11zm3 25zm3-12zm9 5zm1 5zm1-17zm2 6zm6-4zm3 14zm34-16zm12 16zm7-17zm12-7zm11 7zm1-9zm4 8zm3 7zm1 1zm0 0zm1-8zm1 6zm2-13zm1 18zm5 2zm7-4zm1-13zm4 9zm1 10zm2-22zm2 11zm3 3zm0 9zm1-16zm1 14zm12-20zm12 23zm31-12zm1-2zm8-2zm7 16zm3 4zm2-7zm5-14zm-19 32zm-1-10zm-8 21zm-47 4zm-23-19zm-35-1zm-3 16zm-1-7zm-4 5zm-10-6zm-23 12zm-7-3zm-20-11zm-3 5zm21 19zm58 4zm6 10zm17-14zm11 11zm7 3zm8 6zm14-4z" stroke="#fba25c" stroke-width="16"/><path d="M3165 2423zm91 0zm11 4zm3 1zm55-28zm55 6zm10 1zm1 15zm4 1zm121 3zm20-5zm19 13zm-11 17zm-4-7zm-7-14zm-7 3zm-203 6zm-1 3zm-5 0zm-25 16zm-5 1zm0-22zm-6 0zm-14 7zm-1-9zm0 24zm-1-22zm0 19zm-1-14zm-1 9zm-5 0zm-2-5zm-3-12zm-3 13zm0-15zm-91 2zm-1 3zm9 33zm91-8zm3 8zm4-8zm16 10zm10-10zm13-2zm4 27zm137-3zm5-9zm10-3zm37-6zm56 14zm2-18zm202 52zm-190-17zm-10-5zm-24 0zm-13 0zm-57 6zm-241 1zm-13 14zm-4-10zm-4-8zm-2 9zm-20-4zm-13 35zm44-15zm7 3zm8 2zm3 15zm54-14zm14 13zm7 3zm12 2zm154 4zm3-10zm233 9zm14-15zm4 17zm12-19zm14 10zm9-4zm7 9zm2 9zm-14 4zm-2-7zm-9 20zm-33-14zm-4 2zm-10 14zm-2-7zm-11 5zm0-5zm-49 12zm-139-12zm-22-1zm-6-9zm-74 4zm-2 16zm-76-25zm-52 21zm-8-5zm-1-7zm-7 11zm-4-1zm-8 1zm-10-7zm-10 15zm0-25zm-2 7zm-14 17zm-5-11zm-11 27zm23 8zm32 1zm21-22zm102 19zm3 9zm15-17zm4 12zm11-6zm0-10zm4-3zm10 14zm6-1zm172 3zm20-14zm2 19zm3-21zm80 12zm100 28zm-113-14zm-71 13zm0-11zm-18 9zm-4-8zm-165 3zm-2 0zm-7 8zm-1-13zm-2 16zm-9-15zm-84 26zm-6-10zm-3 2zm-3 6zm-47 0zm-39-24zm-18-1zm-19 0zm-33 6zm17 35zm24 14zm95-17zm19-10zm1 7zm0-3zm3 8zm2-6zm192 8zm44 15zm60 0zm3-11zm7 9zm74 2zm1-15zm8 13zm1-7zm21 4zm0 3zm-15 3zm-86 19zm-5 0zm-3-8zm-8 12zm0 5zm-9-13zm-5 13zm0-9zm-3 2zm0-6zm-7 3zm-4-7zm-49-8zm-251 6zm-76-2zm273 51zm0-1zm5 1zm73-2zm20-1zm4-20zm5 4zm6 0zm6-7zm24 20zm3-8zm4 10zm1 1zm83-14zm4 13zm16 13zm-7 13zm-8-3zm-57-10zm-39 8zm-84-12zm0 10zm-17-11zm-9 11zm-16 1zm-100 45zm17-9zm39 7zm8 2zm34-21zm8 7zm116 36zm-83-10zm-8-6zm-24 14zm-5 1zm-21-19zm-34 11zm-31-4zm24 32zm0 14zm2-11zm3 8zm0-1zm4-12zm2 12zm2-19zm3 23zm1 5zm58-2zm49-9zm24 8zm6-16zm60-5zm10 20zm2-11zm-102 24zm-94 11zm-20 0zm-2-3zm145 40z" stroke="#f57d49" stroke-width="16"/><path d="M3257 2426zm4 1zm267 19zm-15 1zm-219 2zm-5-2zm0-3zm-5-8zm-2 4zm-8 10zm449 99zm9-1zm-46 25zm-203-12zm-3-1zm-182 5zm-47 5zm-48 9zm44 8zm133 13zm0-4zm2-1zm6-2zm5 2zm112 69zm3-10zm202 27zm-9 15zm-118-2zm14 12zm3-4zm4 5zm4 14zm-8 11zm-82 52z" stroke="#e85a3c" stroke-width="16"/><path d="M3267 2453zm-7-21z" stroke="#d63a30" stroke-width="16"/></g>
<ellipse cx="352.9" cy="235" rx="11.6" ry="7.6" transform="rotate(20 352.9 235)" fill="none" stroke="#ee22bb" stroke-width="1.35"/>
<ellipse cx="342.9" cy="269.6" rx="9.8" ry="6.4" transform="rotate(-38 342.9 269.6)" fill="none" stroke="#78e826" stroke-width="1.35"/>
<text x="426.3" y="224.1" font-size="10.8" text-anchor="middle" letter-spacing="-0.25" fill="#111" stroke="#111">CXCR5</text>
<rect x="385.8" y="226.3" width="69.3" height="68.9" fill="#fff" stroke="#4a4a4a" stroke-width="1"/>
<g transform="scale(0.1)" fill="none" stroke-linecap="round" stroke-linejoin="round"><path d="M4158 2390zm-28 3zm-210 30zm264 2zm0 0zm2 4zm2-4zm3 4zm12 12zm-4-3zm-13-8zm-257 13zm-13 11zm-1-14zm0-9zm-2 6zm27 60zm-17-2zm7 48zm8-17zm1 19zm2-1zm0 5zm1-9zm6 0zm3 3zm6 28zm-1-10zm586 70zm-4 5zm-9-11zm-13 2zm-572 40zm15-21zm5 19zm1-5zm0 4zm559-23zm-562 31zm505 89z" stroke="#54509f" stroke-width="16"/><path d="M4258 2376zm-31-6zm-38 20zm-19 6zm-20 3zm-24 2zm7 19zm2-14zm7 15zm8 2zm1-8zm7 12zm3 1zm0-19zm2-3zm4 17zm0-10zm0 11zm2-4zm1 6zm5-4zm2-10zm5 11zm0-14zm8 18zm15-2zm59-17zm-60 32zm-13 11zm-3-18zm-9 5zm-10-2zm-4-2zm-218 9zm0-11zm-3 7zm-1-1zm-6-2zm0 12zm-3-3zm-2-15zm-10 12zm-8-8zm19 55zm1-13zm4 8zm9-20zm259 9zm0 25zm-56 16zm-6-4zm-3-3zm-1 4zm-47 6zm-130-11zm-2 5zm-2 7zm-20-21zm-15-1zm0 3zm-1-9zm-7 38zm0 19zm4-1zm13-12zm2 10zm14-4zm4 5zm4-3zm4 7zm3-5zm0-21zm160 1zm341 7zm-508 27zm-2 7zm-8 8zm0-17zm-2 7zm-5 3zm-2-3zm0-5zm-1-7zm-2 4zm0 1zm-18-3zm0 4zm-1-7zm-8 9zm542 39zm58-9zm16 7zm12 18zm-15 7zm-13 15zm-1-8zm-2-9zm-7 7zm-13-5zm-4 12zm-8-2zm-3 6zm-42-11zm-443 1zm-25 1zm0-1zm-3 1zm-20 25zm4 12zm1 2zm11 1zm1-15zm3-3zm1 14zm6-15zm1 16zm248-13zm50 2zm197-6zm59 10zm14-13zm-12 25zm-26 15zm-98 9zm-164-15zm-34 15zm-236-24zm256 42zm65 9zm125-4zm56 12zm-4 8zm-4-1zm-57-6zm-111 21zm-76 26zm169 1zm-121 28zm-17 1zm139 21zm25 6zm-151 43z" stroke="#3f6fb2" stroke-width="16"/><path d="M4232 2309zm-110 56zm40 1zm23-2zm0 3zm7-12zm5 8zm4 2zm10-10zm24 5zm-34 33zm-5-13zm-5 12zm-58-6zm-2-12zm-4 1zm-55 48zm64-8zm18 9zm4 4zm4 0zm0-5zm18-23zm7 2zm13 15zm5 5zm1 5zm2 0zm1 2zm41-9zm45-13zm-5 43zm-74-20zm-2 9zm-2 5zm-2 5zm-4-14zm-2 7zm-3-2zm-4 7zm-2 11zm-2-25zm-7 2zm-6 5zm-11-8zm-6-2zm-5 5zm-11-5zm-7 18zm-5-14zm-150 4zm-34 7zm-1-7zm-2-4zm-3 11zm-4-12zm-32 30zm6 23zm5-22zm5 23zm0-10zm3 8zm1-13zm1 0zm0 12zm1 5zm1-14zm1 10zm0 0zm1-9zm1 3zm0-2zm0 7zm2 5zm2-5zm2-9zm2 12zm1-13zm2-5zm13 10zm77-7zm97 5zm5 12zm2-4zm46-25zm4 17zm9 12zm11-9zm5-8zm46 14zm135 16zm-242 9zm-3-13zm-4-7zm-1 0zm-3 14zm-115-9zm-68-4zm-2 15zm-1 2zm-3-5zm-11 6zm-4-11zm-2 2zm-3 7zm-8-16zm-8-1zm-11 55zm4-7zm4 3zm6-7zm5-4zm28 12zm10 2zm1-25zm0 0zm0 4zm1 14zm301-1zm15 10zm143-2zm35 2zm7 0zm7-15zm8 17zm8-19zm21 20zm-33 12zm-12 5zm-4-5zm-1 14zm-2-13zm-2-7zm-427 9zm-5-7zm-61 18zm-13-14zm0 9zm0-11zm-1 12zm-1-6zm0 11zm0-16zm0 9zm-1-8zm0 0zm0 5zm-4-6zm-2 7zm0-11zm-14-4zm-10 7zm-6 5zm-7-13zm4 57zm0-22zm4 18zm26-24zm3 14zm8 4zm10 3zm45 4zm22-4zm3-1zm459 1zm22-3zm3-11zm8 21zm3-1zm1-3zm19 20zm-4 2zm-48 11zm-1-18zm-3-10zm-8 26zm-1-3zm-6 6zm-1-1zm-1-2zm-2-4zm-1-15zm-4-4zm-1 26zm-6-18zm-305-8zm-110 3zm-37-1zm-20 8zm-23 8zm-4-3zm-6-6zm-19 15zm0-16zm-10 2zm-2-13zm-4 25zm-1 0zm-4-25zm-3 27zm-7-26zm-2 7zm-8-8zm25 43zm21-9zm18 10zm3 15zm1-24zm453 20zm44-6zm4-16zm5 16zm0-2zm11-8zm2-8zm2 9zm2-9zm0 4zm10 21zm1-17zm7 3zm4 8zm1-19zm24 20zm0-12zm-16 21zm-27 1zm-89 4zm-194-5zm-37 10zm-153-5zm-63 2zm-6-5zm239 41zm55 0zm78 12zm129-4zm7 1zm14 3zm1-7zm5 8zm5 21zm-5 2zm-2-6zm-1-7zm-2 16zm-2-5zm-2-8zm-2 13zm-1 6zm-5-2zm-40-17zm-190-6zm243 33zm-112 32zm-82 0zm-24-1zm-12 2zm-41-2zm-5 46zm102 0zm27-8zm-108 60z" stroke="#3a8dbb" stroke-width="16"/><path d="M4282 2335zm-108 33zm7-6zm3 3zm9-6zm2-3zm0 5zm3 2zm5-7zm1 12zm2-4zm5 5zm33 10zm-11 9zm-19-7zm0 16zm-17-12zm-1 7zm-12-13zm-8-4zm-14 7zm-6 9zm-2 3zm-29-15zm-48-2zm-131 38zm6 14zm4-10zm5-1zm1 9zm0-15zm15-5zm169 15zm18-21zm5 3zm1-2zm5 9zm28-8zm2 12zm4-7zm4 11zm57 8zm34-4zm-23 8zm-70 18zm-7-2zm-29 2zm-23-12zm-2 12zm-14-3zm-13-16zm-13 15zm-40-1zm-33-4zm-79 4zm-36 26zm3 16zm1-2zm1-23zm1 0zm1 11zm1 15zm1-8zm1 2zm1 5zm6 0zm2-7zm2-2zm2 10zm2-2zm2-5zm6-5zm3-1zm173-12zm0 2zm3 20zm1-9zm0-12zm4-2zm12 10zm2 13zm1-20zm19 23zm13-16zm14 13zm2-18zm3 9zm41 1zm11-1zm17-14zm238 53zm-29 1zm-74-5zm-191-12zm-14-1zm-25 22zm-15-16zm-15 5zm-4-14zm0 0zm-54 16zm-127 3zm-2-13zm-4-2zm-2-3zm-22 5zm-9-8zm-1-2zm-1 2zm-7-1zm-17 52zm10 6zm274-2zm87-24zm3 13zm119-3zm76 13zm6-18zm1 21zm2-12zm0 12zm2-6zm2-8zm4-1zm1-2zm1 16zm6-10zm11-1zm4-17zm2 4zm-39 27zm-1 25zm-1-18zm-5 3zm-3 3zm-1-2zm-3-5zm-21 7zm-389 13zm-7-4zm-12-17zm-70 23zm-5-1zm-3-14zm-7 14zm-1-12zm-2 12zm-1-6zm-1 2zm-1-21zm-7 9zm-4-9zm0 13zm-2 13zm-2-18zm-14-11zm2 56zm0-11zm0 14zm10-7zm2-15zm1 1zm8-3zm5 16zm1-7zm0 8zm8-8zm3-9zm2 14zm1-2zm0 10zm1-4zm10-6zm0-12zm1 0zm91 3zm58-6zm345 26zm4 0zm6-23zm1 1zm1 16zm4-7zm9-2zm4 9zm4-8zm1 2zm2-2zm25-8zm1 0zm4 14zm2 2zm-43 31zm-2-1zm-49-3zm-174-1zm-255-16zm-46 6zm-2 1zm-1-7zm-1 12zm-1 6zm-1-15zm-2-3zm-3 10zm-7-12zm-4 2zm-8 17zm-4-3zm0 7zm-1-4zm0-19zm-5 9zm-12 6zm-4-2zm34 30zm13-7zm23 17zm2 0zm3 5zm0 0zm55-10zm27-18zm5 6zm283 14zm27 0zm88 0zm4-4zm2 1zm1-4zm3-6zm0 4zm1 8zm2 5zm2-5zm0-13zm2-5zm0 2zm8 5zm3 13zm7-16zm1 14zm13-4zm0 12zm7-7zm13 6zm8 0zm-28 10zm-11-1zm-76-5zm-45 18zm-11-13zm-385-1zm-8-1zm242 36zm243 14zm3-19zm0 22zm1-15zm1 13zm0-7zm1 1zm2 4zm16 0zm36-22zm-39 37zm-5 14zm-2-1zm-1 4zm-6-11zm-1 4zm-2-13zm-1-3zm0 5zm-2 4zm-2-5zm0 9zm-45-3zm-7-1zm-222-10zm43 47zm138 8zm105-20zm6 4zm1-6zm-50 41zm-20 3zm-158-1zm49 15z" stroke="#4fa6b4" stroke-width="16"/><path d="M4073 2365zm1-2zm102 1zm1 1zm5 2zm4-5zm1-17zm1 16zm4-6zm0 4zm1-3zm0 0zm4 11zm3 1zm1-21zm10 11zm1 5zm5 6zm48 4zm-48 26zm0-6zm-5-23zm-1 1zm-1 9zm-6-7zm-29 5zm-3 11zm-2-4zm0-2zm-1-8zm-98 14zm-6 1zm-12-5zm-1 5zm-45 9zm-54 22zm9 8zm18-22zm33 19zm50-22zm19-2zm63 5zm70 6zm2-11zm60 22zm24-10zm-41 35zm-61-12zm-20 4zm-14 3zm-17-2zm-16 3zm-2-2zm-4 10zm-1 0zm-5 3zm-194 2zm27 28zm3-15zm188 2zm7 14zm0-2zm2-11zm2 13zm15-8zm5 6zm1 4zm2-5zm11-6zm4-1zm9 10zm1-3zm18-2zm152 35zm-122-27zm-35 6zm-4 9zm-7-5zm-10 10zm-8-5zm-4 4zm-3-19zm-1 17zm-87-15zm-128 1zm-4 10zm-8-12zm-5 1zm-1 0zm-17-1zm12 41zm467 7zm1 6zm4-6zm0 4zm65 6zm0 0zm17-2zm6 0zm0-9zm5 5zm1-2zm7-12zm6 16zm-7 21zm-6 4zm-8-18zm-1 13zm-1 1zm-3-12zm-4 10zm-5-5zm-5-8zm-1 16zm-4-9zm-10 19zm-1-20zm-4 2zm-23 12zm-22-14zm-8-1zm-86 1zm-263-1zm-100 15zm-11-3zm-16-13zm-3 12zm-3-2zm-1 3zm-2 6zm12 14zm5 7zm2 6zm2-19zm1 16zm2 0zm0 3zm0-7zm5 11zm5-10zm1 12zm65-6zm1-13zm58-1zm251-7zm93 15zm15-4zm27 5zm1 4zm7-18zm0 12zm7-8zm18 7zm3-5zm8-6zm2-1zm10 4zm-257 33zm-15-2zm-53 1zm-16 19zm-2-15zm-108 1zm-18 12zm-38-20zm-70 6zm-2 0zm-3-7zm-1 1zm-1 20zm-17-20zm-2 32zm51 19zm13-2zm1-9zm2 5zm7 1zm61-17zm2 3zm8-2zm127-3zm13 17zm94 1zm46-19zm128 27zm22-3zm19 8zm-1 24zm-4-24zm-1 9zm0-11zm-15 21zm-6 8zm-19-28zm-3 10zm-5-8zm-231 11zm-22-13zm-203 10zm-21-8zm-9-1zm-1 1zm-1-3zm-3 6zm-1-2zm202 36zm44 2zm184 14zm59-10zm39-15zm-34 37zm-3-7zm-106 14zm16 43zm91-23zm-36 31zm-51 21zm-88-20zm-80 35zm18 12zm25-24zm2 22zm65 13zm-90 17zm-20-11zm7 39zm25-7zm17-1zm29 4zm10 11zm9-5z" stroke="#74c4a8" stroke-width="16"/><path d="M4197 2336zm15 17zm6-5zm54 21zm29 12zm-25 2zm0-12zm-1 27zm-7-16zm-14 0zm-39-3zm0-4zm-4 17zm-10-3zm-50-9zm-71-7zm-5 13zm-3-3zm-4 3zm-4-6zm-4 6zm0 2zm-8 5zm-27 35zm27-16zm14-6zm2 5zm7-3zm5-8zm1 18zm2 5zm273-22zm-132 52zm-95 1zm-5-8zm-60 2zm-4-7zm-2-7zm-92 45zm7 4zm7 3zm12-15zm28-9zm42-1zm75-1zm6 3zm41 25zm8-6zm4 7zm34-9zm5-2zm2 4zm11 3zm13-3zm29 6zm-14 6zm-21-4zm-47 4zm-8-3zm-7-1zm-15 16zm-33 10zm-111 2zm-10-13zm-7 5zm-22 2zm-6-9zm-18 43zm1-19zm4 11zm4-1zm23 5zm5-15zm19-6zm67 2zm18 16zm9-5zm20-10zm2 0zm1 10zm2-4zm1 2zm2-11zm8 5zm233 22zm8-26zm3 27zm4-9zm5 9zm2-8zm0-2zm1 10zm1-9zm1-1zm4 7zm14-3zm71-3zm3 6zm2-2zm4-3zm-4 32zm-1-15zm-7 6zm-4 7zm-1 3zm-28-6zm-31-4zm-17 8zm-8-16zm-4-1zm-2 5zm-5 6zm-17-1zm-21 14zm-23-1zm-10-16zm-3-11zm-4 9zm-185 18zm-32-19zm-67 18zm-71-27zm-31 54zm27-6zm75 7zm83-18zm46 11zm9-2zm19 7zm220-5zm8-11zm9 2zm2 9zm2-18zm44 5zm12-2zm34 4zm-86 51zm-5 0zm-2-11zm-1 1zm-15 7zm-74-20zm-132-4zm-15 25zm-2-10zm-2 10zm-16-15zm-1 5zm-113 3zm-2-11zm-1 10zm-1 6zm-1 1zm0-10zm-91 9zm2 22zm6 6zm2-16zm1 16zm1-19zm2 7zm66 3zm1-5zm9 1zm0-5zm3 8zm0-11zm1-1zm111 8zm169 4zm2 10zm1 4zm6-1zm8 4zm3-11zm7 9zm56-17zm10-1zm15 7zm19 9zm38 20zm-23-6zm-11 5zm0 10zm-9-23zm-5-1zm-40 3zm-45-2zm-82 8zm-23 18zm-245-21zm-50 7zm-2-11zm-4-1zm195 31zm1 12zm13-11zm66 9zm217-1zm13-9zm5 7zm0 7zm1-11zm1 3zm0 8zm2-7zm12 5zm1-8zm3 18zm6-5zm6 12zm-158 28zm5 25zm4-5zm8-1zm1 5zm15 0zm7-7zm2 5zm8 6zm69-24zm-51 45zm-33-17zm-21 3zm-3 24zm-164 26zm1-8zm5 13zm4-3zm12 1zm13 12zm-1 16zm-6-4zm-4-2zm-4-9zm-1-4zm-5 13zm-7 8zm9 6zm5 3zm15 0zm5 5zm10-3zm30 0zm6 8zm0 9zm2-1zm8 2zm4-11zm8 8zm-8 8zm-12 2zm-52 7z" stroke="#a4d9a4" stroke-width="16"/><path d="M4253 2361zm79 6zm3 28zm-18-6zm-22 2zm-9 1zm-1 3zm-8-9zm-5 11zm-4-21zm-10-2zm-14 7zm-11-10zm-165 11zm-7 12zm-91 26zm1-13zm12 21zm3-21zm36 20zm5-10zm5 8zm1-1zm1 3zm10 1zm0-15zm3-8zm5 1zm2 22zm2-7zm6-16zm1 18zm3-4zm2-12zm4 1zm1 21zm9-10zm196-12zm0-6zm7 7zm6-8zm62 44zm-6 0zm-12-1zm-4-2zm-100 4zm-146 4zm-3-15zm-6 3zm-4 5zm0-9zm-1 12zm-5-5zm-9-9zm-3 8zm-7 1zm0 18zm-5-21zm-1 19zm-5-19zm-7 13zm-8 7zm-1-20zm-2 14zm-3-19zm-2 19zm-3 4zm-2-21zm-17 17zm-3-18zm-1 23zm-5-23zm-2 6zm-2 1zm-6-3zm13 47zm8-6zm11 1zm21-5zm4 2zm30-16zm6 4zm161 24zm16-20zm8 14zm2 5zm3 2zm2-1zm0-2zm1-8zm1 11zm2-20zm8 10zm5-5zm0 3zm4-9zm4 8zm112 43zm-96-29zm-10 2zm-13 0zm-17 11zm-4-12zm-19 14zm-82 13zm-17 1zm-30-18zm-6 18zm-1-27zm-16 24zm-8-21zm-6 14zm-26 5zm-5-5zm-1 3zm-5-18zm-1 11zm-3 6zm0-7zm-2 4zm-2-14zm-7 12zm-14 1zm-1 5zm-1-8zm-5 8zm-3 4zm-2-22zm-5 17zm-3 7zm-9-3zm-5 5zm0 10zm3-7zm1 19zm4-6zm3-6zm3 10zm20-13zm3 17zm31-18zm12 2zm38-6zm6-1zm21 9zm9-7zm11 11zm3 6zm1-1zm1-12zm0 3zm1-5zm0 0zm3-5zm0 15zm1-11zm1 7zm1-5zm3-5zm0 7zm2-1zm1-5zm1 14zm8 4zm3-17zm3 19zm168-15zm33 16zm17-2zm25-10zm1 15zm0-10zm1 1zm1-5zm1 9zm2 7zm2-14zm0-5zm29 17zm2-3zm64-7zm9 18zm-3 23zm-13-26zm-51 18zm-5-13zm0 0zm-9 17zm-4-7zm-4 11zm-3-22zm-4-3zm-7 14zm-16 2zm-2-6zm-8 1zm-3 6zm-1-17zm0 4zm-1 22zm-1-7zm-11 2zm-3-4zm-4-18zm-14 23zm-6-13zm-3-7zm-3 1zm-2-3zm-7 8zm-1 5zm-2-3zm-4-7zm-5 7zm-2 1zm-1-3zm-84 0zm-80 12zm-2-5zm-6-8zm-10-5zm-15 17zm-4-8zm-4 13zm-22-13zm-11-6zm-22-1zm0 8zm-2 6zm-2-7zm-21-4zm-1 6zm-4-1zm-12 8zm-3-11zm-5 6zm-1-7zm-7 11zm-4-1zm-10-14zm-13 4zm-4-5zm-1-1zm-2 7zm3 35zm4 2zm40-8zm22-4zm9 4zm12 18zm65-7zm11-3zm2-2zm3 13zm25-7zm12 3zm12-2zm138 6zm3-5zm2-24zm2 15zm1-12zm1-2zm1 28zm1-19zm0-10zm3 11zm3 1zm1 13zm22-20zm34-2zm24 7zm1 5zm3-4zm8 9zm14-19zm2 15zm3 42zm-5-14zm-6 2zm-2-7zm-2 5zm-2 0zm-3 5zm-2-18zm-1 2zm-1 26zm-1-26zm-4 1zm-60 16zm-9-6zm-7 14zm-3-19zm0 7zm-2 4zm-1-8zm-4-8zm-2-1zm-9 16zm-3 10zm-12-8zm-135-6zm-4-8zm-2 0zm-1 14zm-6-6zm-1-13zm-14 16zm-24-10zm-12-6zm-41 10zm-5 17zm-2-29zm-11 28zm-3-9zm0 10zm-3-26zm-4 26zm-2-11zm0-6zm0 10zm-8 4zm-1 0zm0-9zm-3 12zm-14-20zm-50 6zm16 18zm5 4zm27 17zm31-14zm2-1zm3-5zm6 3zm8-1zm10 16zm6-16zm92 8zm3 3zm4-4zm5-13zm1 11zm6 3zm9 1zm0-8zm1-1zm0-4zm9 11zm2-3zm11 0zm0 5zm1 2zm2-4zm10 7zm4 4zm88-6zm14-5zm0-2zm2 8zm4-8zm4 3zm6-7zm5-3zm0 20zm8-16zm3 21zm9-2zm36-3zm8-13zm4 0zm2 8zm4-7zm5 2zm7-9zm2 1zm4-4zm29 35zm-93-7zm-2 10zm-2 1zm-17-9zm-7 4zm-1-5zm-2 8zm-14-6zm-20 17zm-54 7zm-13-15zm-1 8zm-8 5zm-21-12zm-4 12zm0-1zm-6-23zm-1 6zm-6 21zm-10-26zm-37 10zm-1 3zm-11 6zm-1 0zm-9-1zm-5-9zm-131-4zm-37-5zm171 55zm8-21zm22 13zm5 6zm75-11zm6-7zm13-3zm105 21zm80-5zm26-15zm26 18zm-59 15zm-9 4zm-11-8zm-37 18zm-7-13zm-1 10zm-15-7zm-7 16zm0-9zm-4 10zm-4-10zm-3 4zm-188 13zm14-3zm86 12zm10 5zm73 0zm4-6zm2 4zm7-10zm3 19zm1-20zm2 10zm4-4zm19 3zm4-6zm8 4zm25 39zm-1 0zm-1-16zm-2 11zm-1-12zm0 4zm-1-6zm-5 7zm0 15zm-1 3zm-13-11zm-2 3zm-18-18zm-9 0zm-1-2zm-1 1zm0-2zm-1 4zm-1 0zm-1-3zm0 0zm-4 6zm-33 10zm-1-13zm-23 10zm-19-11zm-4-2zm-3 0zm-2 25zm-1-23zm-10 13zm-1 4zm-44 0zm-17 3zm-10-6zm-9 6zm-1 20zm2 4zm3 6zm2-15zm1-3zm5 22zm2 2zm14-7zm4-11zm47-8zm52 20zm8 1zm23-2zm21 3zm13-14zm38-6zm8 1zm-65 31zm-3-6zm-51 26zm-10-1zm-8-3zm-25-4zm-41-5zm-12 12zm-6-7zm-3 10zm-1-8zm0-5zm-1 3zm-4-9zm-6 11zm15 30zm7-5zm8-15zm2 4zm23-2zm16 4zm5-7zm2 18zm2-15zm0-3zm3 2zm5 16zm2-9zm4 16zm1-1zm1-5zm1-11zm15 17zm1-20zm1 22zm10-11zm12 12zm-37 4zm-56 2zm-10 10z" stroke="#d2ec9e" stroke-width="16"/><path d="M4244 2364zm53 5zm15-20zm5 18zm5-9zm17 0zm4 4zm12 29zm-18 3zm-16-3zm0-6zm-6 7zm-7-7zm-7 4zm-43-16zm-1 15zm-6-11zm-3 12zm-5-16zm0 7zm-2-6zm-3 0zm-5 4zm-6 1zm-2 1zm-3 6zm-255 31zm9 3zm4 6zm9 3zm2-7zm8 4zm7 1zm2-11zm3 10zm0-3zm1 3zm72 1zm2-3zm132-2zm1-16zm59 4zm13 11zm2-15zm1 21zm1-8zm4 6zm4-11zm5-6zm37-2zm0 44zm0-12zm-3 3zm-4 16zm-2-10zm-3-7zm-19 16zm-6-5zm-5 1zm-6-16zm-11 3zm-1-3zm-4 19zm-6-23zm-3 26zm-12-10zm-37-14zm-129 25zm-4-26zm-12 6zm-1 3zm-28 7zm-5-2zm-2 12zm-3-23zm-6 12zm-6-15zm-2 8zm-3 3zm-1-9zm-2 7zm-3 1zm-2 3zm-9 1zm0-15zm-1 3zm-1 9zm-2 3zm0-16zm-8 26zm-12-14zm-8-7zm-3 3zm-1-7zm13 35zm12 1zm8 2zm5-1zm5-8zm1 1zm3 8zm3-7zm0 15zm1 7zm4-8zm0 7zm1-3zm1 0zm4 6zm1 1zm14-28zm1 7zm13 1zm26 21zm145-13zm11-4zm7 3zm1-10zm1 2zm2 13zm0-15zm1-1zm2 22zm2-26zm3 28zm1-5zm4-2zm1-11zm1-3zm1 17zm0-2zm2-14zm1 8zm2 9zm5-14zm3-7zm5 15zm1 2zm3 0zm6 2zm7-13zm4 18zm100 24zm-1 0zm-6-3zm-7-14zm-1 22zm-2-1zm-68-19zm-10-5zm-13 2zm-6 12zm-2-16zm-2 29zm-6-24zm-9-4zm-10 4zm-2 4zm-16-2zm-1-6zm-1 2zm-3-2zm-10 0zm-2 9zm-1-5zm0 1zm-2-2zm-5 8zm-5 17zm-99-1zm-27-25zm-6 23zm-4-5zm-1-11zm-15 1zm-2 18zm-1-27zm0 11zm-9-1zm-7 11zm-4-3zm-3-3zm-3-11zm0 17zm-2-13zm-3-8zm-8 7zm-10-9zm-16 9zm-12-3zm-6 13zm-4 4zm-5 36zm8-5zm3-13zm0-6zm57 0zm1 15zm0-20zm1 0zm7 26zm1-1zm2 4zm3-10zm5 10zm1-19zm0 12zm12 2zm65-4zm3-9zm1-9zm7 13zm2 7zm1 0zm5 3zm3 2zm2-5zm0-10zm1 16zm0-8zm1-1zm2 0zm5-1zm2 11zm4-17zm30 15zm29 1zm88-3zm8 3zm7-5zm6 5zm13-4zm13-7zm12-11zm10 4zm2-4zm9-1zm1 10zm2-10zm1-5zm0 8zm4 7zm4 1zm3-11zm0 1zm1 6zm4 10zm1-20zm0 6zm10 20zm9-18zm11 19zm0 3zm0 22zm-2-1zm-2-7zm-4 10zm-1-13zm-9 16zm-2-10zm-2 6zm-51-21zm-3 21zm-12 3zm-3-25zm0-3zm-28 3zm-5 0zm-2 22zm0-13zm-1 16zm-1-6zm-2-12zm-1-4zm-8 5zm-64 5zm-8-10zm-3 5zm-11 4zm0-13zm-49 9zm-2-10zm0 0zm-4 0zm-5 9zm-9 3zm-11-3zm-39-3zm-1 18zm-1-7zm-1-9zm-3-1zm0 0zm-1 7zm-3-9zm-4-4zm-9 6zm-3-3zm-13-4zm-2 19zm-5-17zm-1-3zm0 27zm-1-17zm0 10zm-1 9zm-1-29zm-3 16zm-2-1zm-1 1zm0-16zm-2 8zm-1 2zm-1-1zm-10 8zm0-1zm-4-3zm-2-4zm-1 5zm-1-7zm-7 21zm-2-11zm-9 6zm-6-3zm-27-6zm-10 15zm-2 28zm8-8zm1-4zm16 8zm2 0zm8-16zm3 21zm1-10zm3 9zm4-26zm39 12zm2-13zm5 11zm2 9zm7 4zm1-5zm15 8zm25-16zm2-4zm2 3zm2 10zm0-7zm3 16zm3-17zm0 15zm8-19zm3 7zm1-3zm1 16zm0-13zm1 5zm0 8zm2-9zm0 2zm0-6zm1 10zm3-3zm0 3zm2-12zm0 5zm5 0zm4-13zm1 3zm1 1zm1 15zm1 2zm0-23zm5 25zm1-9zm2-2zm4 10zm113-11zm34-8zm7 8zm0 12zm1-1zm1-10zm1-3zm0-12zm2 12zm2 12zm1-2zm1-21zm3 24zm2-22zm1 1zm3 15zm20-14zm49 4zm11 11zm6 3zm1-7zm1 9zm0-7zm0 8zm8-25zm0 3zm2 10zm4-10zm3 1zm8 20zm1-16zm-3 21zm-1 22zm-10-8zm-6-16zm-1 6zm-2 6zm0 2zm-1 14zm-1-27zm-4 26zm-1-10zm0 1zm-2-10zm-6 13zm-4 6zm-36-4zm-4-13zm-7 19zm-3-7zm-4-7zm-4-9zm0 4zm-2 0zm-12 17zm0-13zm-1 15zm-5-27zm-2 6zm-3-1zm-3-3zm0 0zm-3-2zm0 24zm-1 0zm-8-9zm-11-1zm-74 10zm-60-6zm-7-2zm-11-9zm-6-1zm-19-4zm-2-1zm-25 4zm-17 17zm-2-11zm-11 16zm-1-6zm-3 4zm-2-9zm0 8zm-3-5zm-3 6zm-2-3zm-2 0zm-4-2zm-4-6zm0-9zm-6 3zm0 10zm-5-3zm0-9zm0 15zm-5-15zm-2-3zm-2 5zm-2 12zm-38 0zm-11-14zm-3-5zm-5 31zm1 0zm53 6zm12-5zm3 21zm2-16zm4 6zm1 4zm14-20zm7 0zm11 14zm10-10zm78 17zm3 1zm6-1zm7-8zm6-5zm0 15zm2-9zm6 8zm0-9zm3 5zm4 7zm3 1zm9-12zm6 3zm11-5zm1 13zm1-6zm0-2zm6 3zm3 3zm1-8zm11-2zm7 13zm45-1zm13 3zm10-1zm2-11zm18-1zm6 13zm26-13zm8-12zm17 13zm2-15zm4 25zm1-16zm10 0zm1-10zm7 18zm1 6zm4-18zm0 8zm7 14zm2 1zm4-2zm0-2zm6 4zm-3 4zm-8 15zm0-18zm-3 7zm-5 5zm-44 1zm-7-8zm-6 24zm-3-13zm-1 3zm-5-3zm0 3zm-2-13zm-1 5zm-2 0zm-2 8zm-3-11zm-1-3zm-1 0zm-6 4zm-1 12zm-2-2zm-1-9zm-3 18zm-2-21zm-6 7zm-12 15zm-20-7zm-7-20zm-3 8zm-16-2zm-9 1zm-3-9zm-4 5zm0 21zm-24-17zm-12 19zm-1-16zm-9-6zm-3 10zm-3 8zm-13-8zm-11 8zm-5-5zm-3-5zm-3-9zm-11-2zm-1 9zm-1-2zm0 13zm-4-6zm-5 0zm-1-8zm-1-3zm-6 6zm-100-4zm150 30zm27 12zm1-19zm0 3zm5 10zm1-4zm5-7zm13 3zm10-1zm15 13zm8 10zm25-2zm62-12zm7-12zm2 26zm4-15zm17-12zm6 16zm3 10zm1-20zm4 13zm21 9zm24 0zm48-22zm-46 29zm-1 2zm-4 9zm-1-4zm-1-1zm0 9zm-2 1zm-3-19zm-10 11zm-2-2zm-23-11zm-2 6zm-10-5zm-2 18zm-11-9zm-14-5zm-2 9zm-1 9zm-2 0zm-3-10zm0 5zm0-8zm-1 7zm-2-6zm-3 6zm-2 0zm-70-15zm-16 21zm-9-22zm-15 0zm-46 9zm0 8zm-19 4zm-5 1zm-3 2zm-2 3zm-2-25zm-10 5zm-3 10zm-4 15zm15 9zm21-2zm2-4zm26 16zm16-3zm11 4zm7-9zm0 14zm1-3zm22-15zm2 13zm5-2zm2 0zm6 6zm2-7zm0 2zm39 4zm21-11zm9 7zm2-20zm2 8zm1 18zm3-8zm13-12zm1 2zm41-1zm4 12zm1-16zm2 21zm4-21zm2 5zm3 9zm4 23zm-7 2zm-6 4zm-1-10zm-2 5zm0 3zm-1-7zm-1-4zm-1 13zm-4-4zm0-5zm-1 16zm-2-4zm-3-14zm-2 4zm-12 12zm0-2zm0-1zm0-3zm0-6zm-2 5zm-1-6zm-8 5zm0 0zm-3 4zm-2-7zm-3 13zm-3-12zm-1-13zm-2 0zm-1 21zm-1-16zm-2 16zm-1-10zm-3 9zm-1-3zm-2-13zm-30-3zm-20 9zm-3 6zm-4 5zm-7-2zm-1-17zm-4 10zm-7-7zm-1 7zm-10 8zm-1-16zm-1 24zm-7-16zm0 6zm-2-15zm-4 11zm-11 8zm-4-3zm0-9zm-1-6zm-3 12zm-14 2zm-10-8zm-7 17zm-1-6zm-4-4zm-12-6zm0 0zm-6 7zm0-11zm-22 19zm10 18zm1-13zm7 8zm0 14zm4-24zm1 20zm0 7zm1-4zm1-6zm4 3zm0 0zm1-4zm1 6zm0-21zm1 26zm1-17zm7-2zm23 14zm3-2zm5-11zm11-8zm3 25zm8-6zm0 7zm9-24zm6-3zm4 1zm18 7zm4 2zm2 17zm1-27zm5 29zm7-16zm0 11zm3-2zm2-21zm2 11zm5 16zm2-1zm8-10zm2-15zm0 16zm5-2zm4 10zm1 1zm2-2zm12-5zm17-10zm0-5zm2 6zm4 4zm5-6zm2-6zm5 2zm4 5zm6-2zm0 17zm-19 15zm-9 11zm-1-17zm-7-4zm-1 11zm-11 2zm-1-12zm-45 15zm-8-6zm-12 16zm-6 0zm-16-5zm0 6zm-1-3zm-6-23zm-3 24zm-1-15zm-4 5zm0-2zm-6 1zm-6 0zm-5 9zm-21-4zm-5 9zm-5 0zm-5 1zm0-2zm-10-8zm-2-3zm-2-1zm2 19zm68 7zm11-9zm8 2zm4 3zm24 4zm8-8zm9 16zm-99 17z" stroke="#f5fab0" stroke-width="16"/><path d="M4279 2302zm21 37zm-51-29zm-30 32zm2 19zm1 3zm6 3zm2-13zm6 13zm11-2zm7-16zm13 9zm1 4zm43-17zm50 21zm-4 19zm-5 4zm-6 6zm-4-6zm-12 6zm-3-3zm-4-15zm-1 9zm-10 2zm-6 1zm-6-2zm-46-16zm-4 19zm-6-18zm-1 2zm-3 6zm-2-1zm-2 12zm-3-19zm-6 20zm-1-7zm-2-12zm-257 45zm3 3zm49 8zm201-12zm15 6zm30 0zm10-5zm0 8zm4-1zm7 3zm6-7zm7-6zm6-6zm1 17zm3-14zm13 15zm20-6zm6-19zm-13 34zm-7 5zm-5-3zm-7-8zm-1 7zm-1 11zm-4-14zm-1-3zm-2 17zm-1-16zm-2 3zm-2 10zm-3 6zm-3-11zm-4 16zm-1-20zm-7-6zm-1 16zm-2-13zm-14 25zm-19-16zm0 3zm-15 10zm-5-17zm-143 10zm-2 4zm-6 7zm0-29zm-3 14zm-14-2zm-16 2zm-23 15zm-1-3zm-1-13zm0-6zm-5 2zm-3 7zm-2-11zm-7 14zm-5-14zm-5 0zm-2 4zm-5-4zm-11 23zm-3-26zm12 52zm15-16zm48-6zm0 7zm6 6zm0-12zm1 20zm3-11zm3-3zm11 2zm3 6zm5 3zm9-7zm170-5zm6 5zm4-4zm9 5zm13-11zm3 4zm2 14zm14-1zm5-2zm3-14zm102 54zm-16-4zm0-7zm-3 6zm-3-8zm-9 9zm-24-1zm-56-21zm-7 5zm-8 20zm-6-3zm-14-17zm-3 9zm-2-10zm0 4zm-4-6zm-2 9zm-6-11zm-11 19zm-13 3zm-1 2zm-7-7zm0 2zm-21 5zm-125-15zm-8 18zm-7-14zm-7 10zm-7-7zm-2 2zm0-14zm-1 10zm-1 1zm-1-4zm-1 6zm0-12zm-3 16zm0-14zm-3 6zm-6-8zm-45 18zm-8-16zm3 26zm65 9zm3-11zm2 14zm7 12zm9-23zm4 18zm49 1zm22-3zm10-11zm2 18zm8 0zm2-5zm1-13zm1 15zm4-23zm4-2zm1 23zm1-18zm1 3zm11 8zm13-14zm3 0zm5-3zm5 25zm2-17zm3 5zm2 15zm1-17zm5 0zm3 13zm26-20zm0 8zm11-4zm4-8zm3 14zm36 9zm8 5zm38-18zm17-8zm21 16zm0-8zm2-10zm8 15zm1-15zm11 8zm39 27zm-11 2zm-33 5zm-13 13zm-56-19zm-16 23zm-8-1zm-2-9zm-42-11zm-7-8zm-23 6zm-22-1zm0 1zm-48-3zm-3 1zm-1 0zm-3-3zm-2 4zm-1 14zm-18 7zm-2-9zm-8-14zm-12 20zm-10 6zm-8-12zm0-2zm-2-3zm-6-9zm-4 15zm-6-10zm-6 12zm-6-4zm-2-1zm-1 0zm-1 0zm-1 7zm-2-5zm-2 3zm-2-7zm-1 1zm0-2zm-2 15zm-2-5zm0 6zm0-17zm-1-5zm-1 13zm-1-8zm-5-1zm-2-2zm-1 4zm-1 7zm-7-1zm-27 8zm-24-5zm-1-7zm-14 43zm8 0zm4-5zm6 1zm7-1zm0-1zm7 8zm12-22zm4 3zm26 2zm11-4zm0 17zm2-25zm1 28zm3-26zm5 10zm11-7zm2 16zm21-13zm17 3zm3-8zm10 9zm3 12zm0-7zm11-2zm0-7zm15 10zm0-18zm1 22zm1 2zm5-19zm118 17zm19-3zm4 5zm1-18zm5 17zm2-6zm1 9zm6-20zm1 21zm2-13zm1 13zm0-26zm2 20zm21 1zm42-6zm50 1zm3-14zm7 8zm-35 36zm-54 1zm-5-4zm0-11zm-9 1zm-5 7zm-19-8zm-1 5zm-1 12zm-2-5zm-6 1zm-6-16zm-8 19zm-9-15zm-32 22zm-3-10zm-126 3zm-5-1zm0 4zm-5-3zm-23 9zm-3-2zm-16-14zm-8-5zm-1 8zm-1-3zm-2 16zm-60-1zm-1-24zm-2 15zm-5-12zm-1-6zm-1 17zm-5-3zm35 34zm6 10zm87-24zm46 15zm61-4zm4 1zm9-5zm4 3zm4 4zm36 3zm5 5zm1-2zm1-5zm3-3zm1-1zm0 14zm2-6zm3-6zm7 6zm0 0zm3-4zm8-2zm0 8zm9-1zm23 0zm10-24zm6 2zm20 19zm7-14zm7-7zm5 24zm6-9zm5 10zm1-5zm8 7zm6-9zm3 2zm7 3zm7 4zm1-7zm-8 23zm-1-8zm-5 6zm-14 12zm-1-16zm-12 12zm-2-14zm-5 24zm-6-3zm-19 0zm-7-3zm-15 4zm-1 1zm-7-14zm-1-14zm-1 15zm-4-5zm-3 5zm0 7zm-1-1zm0-6zm-4 7zm-3-4zm-4-10zm0 10zm-4-13zm-2-5zm-1 2zm-2 27zm0-22zm-11-6zm-2 3zm-26 6zm-1-7zm-25 9zm-17-7zm-12 18zm-8 6zm-7-21zm-7 11zm-1-2zm0-15zm-8 20zm-3-15zm-6 16zm-2-8zm-1-6zm-1 9zm0-2zm-2 12zm-1-28zm0 11zm-7 0zm-8-1zm-22-7zm-121-1zm170 33zm3 16zm11-11zm2-8zm3 15zm2-10zm0-6zm1-1zm5 7zm4 15zm2 3zm3 3zm1-6zm2-15zm0 16zm1 5zm0-19zm1 12zm2 3zm3-1zm2-17zm1 4zm4-2zm0 16zm3 2zm0-17zm6 20zm6-19zm1 19zm2 0zm17-1zm22-2zm35-23zm9-1zm1 8zm10-8zm3 21zm9 3zm0 0zm3-13zm1 1zm6-5zm19 6zm1-6zm2-5zm2 8zm4 14zm1-6zm5-4zm19 0zm5-9zm0 18zm1 3zm1-8zm5-11zm0 9zm4-16zm0 8zm3 6zm6-14zm1 19zm0 16zm-2 1zm-8 2zm-3 10zm-3-2zm-1-15zm-7 14zm-10-2zm-7 12zm-21-27zm-6 4zm-10 2zm-14 6zm-7-5zm-4 9zm-7-10zm-62 7zm-27 5zm-11-18zm-5 4zm-2 24zm-7-28zm-2 0zm-3 0zm-2 3zm-41 3zm-2 21zm-2 2zm-4-2zm-1 1zm-3-3zm-15 0zm-3 2zm-6-7zm-3-6zm-3 13zm-17-23zm31 27zm0 9zm2 1zm0-10zm0 4zm3 0zm1-4zm0 9zm0-5zm1 7zm1-7zm1 1zm1 9zm0-9zm0-6zm6 8zm4-6zm1 21zm0-3zm3-17zm3 1zm0 1zm6 19zm1-10zm6 6zm2 7zm20-2zm9-5zm2-12zm2 5zm1-9zm0 17zm1-4zm4 10zm3-19zm5 17zm15-8zm12 10zm1-10zm4-7zm14 16zm3-14zm1 10zm9 7zm5-13zm5 12zm9-6zm7-3zm118 0zm6-2zm-15 20zm-1-5zm0 3zm0-2zm-2 4zm-12-1zm-3-2zm-3 11zm0 4zm-21-6zm-3 15zm-3 0zm-24-6zm-2 2zm-45-11zm-10-11zm-2 8zm-2 4zm-7-11zm-4 25zm-8-5zm-5-18zm-1 6zm-4 8zm-2-1zm-5-2zm-16 8zm-2-10zm-11-14zm-9 3zm-9 17zm-21-16zm-5 14zm-9-5zm0-12zm-1 17zm-7 16zm3 25zm4-8zm6-13zm44-3zm3-4zm1 20zm0-13zm0 17zm1-15zm15 4zm0-14zm4 9zm2 17zm3-10zm3-7zm4-7zm1-1zm6 0zm4 26zm0-18zm1-9zm5 7zm1-4zm1 17zm1-4zm5 3zm0-4zm3 4zm2 2zm1 7zm2-10zm4-1zm1-13zm4 9zm0 0zm1 4zm4 1zm3-4zm0 10zm1-16zm1 14zm11-12zm26-7zm18 10zm16 12zm3 4zm2-7zm-15 18zm0-10zm-10 15zm-37 10zm-8 0zm-5-13zm-18-6zm-2 2zm-3 5zm-4-4zm-10-5zm-4 1zm-8 14zm-1-7zm-3-7zm-1 8zm-3 1zm-10-6zm-6-1zm-1 9zm-12-16zm84 55zm1-9zm5 9zm5 1zm10 5z" stroke="#fee999" stroke-width="16"/><path d="M4225 2305zm50 2zm3 1zm5-5zm8-4zm1 29zm-15 1zm-1 4zm-14-17zm-4 20zm-5-17zm-5 17zm-10-23zm-30 9zm-1 5zm10 32zm2-2zm1-6zm50-9zm42 14zm35 24zm-46 8zm-60-5zm-10 4zm-4 2zm-4-9zm-4-10zm-203 57zm202-25zm4 10zm3 2zm0-12zm14 19zm7 8zm4-14zm5 10zm1-20zm2-1zm8 18zm1 5zm4-1zm4 3zm54-20zm4 14zm-4 16zm-9 8zm-3-6zm-22 3zm-5-14zm-2 0zm0 9zm-3 7zm-5-15zm-6 21zm-1-12zm-1 15zm-1-25zm-3 17zm-1-11zm-3-1zm-5 18zm-1-7zm-2 11zm-4-10zm0-6zm-1-2zm-2 2zm-5 4zm0 6zm-4-18zm-17-2zm-201 22zm-26-10zm66 43zm1 1zm189-21zm4-5zm7 28zm47-27zm8 3zm77 44zm-5-5zm-34 6zm-88 1zm-27-11zm-22 8zm0-8zm-32 15zm-119-25zm-17 49zm12 7zm6-9zm114 9zm7-13zm3 6zm5-4zm3 7zm8 2zm1-14zm2-1zm3 5zm2 14zm1-21zm6 21zm3-10zm4-7zm5 6zm10-16zm1 11zm3-11zm3 24zm2-4zm8-21zm3 9zm1 16zm3-5zm5-19zm0 16zm4 9zm0-13zm5 14zm2-27zm2 17zm1-8zm2-6zm6 21zm4-1zm0-9zm63-13zm-50 53zm-2-21zm-42 1zm-16 2zm-112 7zm-31 9zm-11 0zm-4 6zm-4-20zm-1 13zm-25-8zm-72 46zm15-3zm50-16zm4-6zm8 12zm240 12zm5 1zm1-9zm1 6zm2-18zm42 18zm6 1zm13-2zm26-5zm-1 17zm-15 18zm-4-20zm-12 5zm-15 1zm-38-8zm-3 14zm0-2zm-3 7zm-3-7zm-6 3zm-3 1zm-3 5zm0-6zm-2 2zm-3-12zm-2 11zm-7 2zm-6-16zm-2 4zm-15 20zm-8-1zm-150-27zm-21 4zm-8 22zm-6-9zm-82-12zm257 26zm3 1zm1 19zm10 2zm10-18zm13 9zm17-7zm1-1zm35 22zm91-6zm29 33zm-54-11zm-46 8zm-7 6zm-2-15zm-7-1zm-2 11zm-6-6zm-1 10zm-1-11zm-2-6zm0 16zm-7-26zm-4 3zm-8-3zm-24 4zm-38-3zm-20 24zm-15-10zm-3 0zm-181-7zm162 30zm21 18zm5-11zm2 12zm4-20zm2 21zm1-1zm1-12zm4 8zm6-17zm3 7zm6 11zm4 1zm0 1zm3-4zm2 6zm3-3zm1-1zm8 4zm3 0zm58-24zm1 11zm2-11zm2 4zm4 1zm3-9zm1 12zm6-8zm1 2zm5-1zm7 1zm3 2zm1 12zm5 1zm2-6zm1 11zm1-4zm3 1zm1 0zm43-13zm3-11zm33 9zm-94 27zm-1 0zm-5-4zm-3 0zm-43 2zm-16 5zm-1 16zm0-8zm-5-16zm-4 7zm-5-2zm-1 0zm-6 21zm-4-25zm-9 11zm0-10zm-2-2zm-6 11zm-6-1zm0-2zm-2 5zm-6-5zm-1-2zm-1-4zm-1-1zm-1 5zm-2 7zm-1-8zm-5 7zm0-11zm-11 2zm-1 1zm-65 24zm-7-10zm-11-7zm9 28zm4 19zm17-9zm2-14zm1-1zm3-5zm3 9zm1 1zm1-4zm0 21zm3-19zm8 5zm2 13zm1-22zm22 25zm1-10zm21-3zm2-4zm5-8zm12 8zm1 11zm1 2zm46 34zm-23-8zm-6 2zm-3 3zm-14-12zm0 5zm-4-4zm-1-10zm-1 7zm-20-11zm-14 1zm-15 2zm-5 8zm-14-1zm-5-11zm-6 26zm-1 2zm0-8zm-1-8zm-7-11zm-9 26zm-2-25zm98 54zm5-3zm3-7zm6-11zm0 11zm1 6zm1-1zm0 5zm1-1zm4 2zm3-4zm2-21zm1 2zm1 15zm2 9zm4-17zm4 10zm3-13zm6 0zm2 7zm1 0zm3-1zm8-11zm3 17zm24 6zm22 31zm-34-11zm-2-12zm-37 10zm-13-12zm-4-1zm-72 15zm141 33zm3-12zm10 14z" stroke="#fdc877" stroke-width="16"/><path d="M4204 2306zm75-9zm-61 20zm-4 13zm0 3zm0-18zm-19 7zm33 34zm125 7zm-25 21zm-90 14zm-4-14zm5 41zm2 0zm13-5zm36 13zm-12 12zm-15-9zm-5 19zm-3-20zm-12-4zm-8-1zm18 31zm111 55zm-174 11zm22 6zm13 5zm5 4zm9-10zm10 11zm5-6zm8-14zm7 2zm7 19zm2-15zm0 9zm7 2zm5-5zm62-11zm-41 55zm77 41zm-16-2zm0-5zm-46 17zm-13-6zm-10-4zm-49 15zm-163-20zm157 35zm1 1zm16-2zm77 40zm-2-5zm-10-1zm-3 14zm-135 14zm19 14zm1-2zm5 0zm5 5zm1-7zm2 6zm6-7zm2 3zm3 6zm10-7zm77 3zm5-7zm8-17zm2 8zm4 3zm4 14zm16-15zm-63 34zm-8 12zm-1-14zm-10 0zm-22-8zm-14 8zm-6-1zm-13-12zm0 7zm-12 18zm-68 8zm3 4zm1 10zm3-13zm4 18zm1-12zm6 5zm48 1zm2 6zm-55 16zm-10 2zm99 40zm7 6zm3-24zm2 15zm1 11zm2-5zm13-5zm18-2zm24 12zm37 25z" stroke="#fba25c" stroke-width="16"/><path d="M4212 2316zm54 108zm7 122zm6-9zm3 3zm1-2zm-29 116zm15-14zm77 79zm7-2zm-204 63zm-3 22z" stroke="#f57d49" stroke-width="16"/></g>
<ellipse cx="428.4" cy="235" rx="11.6" ry="7.6" transform="rotate(20 428.4 235)" fill="none" stroke="#ee22bb" stroke-width="1.35"/>
<ellipse cx="418.4" cy="269.6" rx="9.8" ry="6.4" transform="rotate(-38 418.4 269.6)" fill="none" stroke="#78e826" stroke-width="1.35"/>
<defs><linearGradient id="cb" x1="0" y1="0" x2="0" y2="1"><stop offset="0" stop-color="#a5114a"/><stop offset="0.12" stop-color="#d8404d"/><stop offset="0.27" stop-color="#f67a49"/><stop offset="0.4" stop-color="#fdbb6c"/><stop offset="0.52" stop-color="#fffcb5"/><stop offset="0.64" stop-color="#d3ed9b"/><stop offset="0.76" stop-color="#86cfa5"/><stop offset="0.88" stop-color="#3d92ba"/><stop offset="1" stop-color="#5e4fa2"/></linearGradient></defs>
<rect x="320.5" y="151.5" width="9.1" height="43.5" fill="url(#cb)"/>
<text x="324.8" y="146.8" font-size="9" text-anchor="middle" letter-spacing="-0.2" fill="#111" stroke="#111">Max</text>
<text x="326" y="205.3" font-size="9" text-anchor="middle" letter-spacing="-0.2" fill="#111" stroke="#111">Min</text>
<text x="332.6" y="155.2" font-size="3" fill="#777">4</text>
<text x="332.6" y="165.8" font-size="3" fill="#777">3</text>
<text x="332.6" y="176.6" font-size="3" fill="#777">2</text>
<text x="332.6" y="187.4" font-size="3" fill="#777">1</text>
<text x="0.2" y="313" font-size="16" font-weight="bold" fill="#000" stroke="#000">D</text>
<text x="46.4" y="314.8" font-size="10.6" text-anchor="middle" letter-spacing="-0.2" fill="#4350ad" stroke="#4350ad">CT</text>
<text x="91.6" y="314.8" font-size="10.6" text-anchor="middle" letter-spacing="-0.2" fill="#b56cc4" stroke="#b56cc4">PT</text>
<text x="136" y="314.8" font-size="10.6" text-anchor="middle" letter-spacing="-0.2" fill="#a8393b" stroke="#a8393b">NTT</text>
<text x="180.8" y="314.8" font-size="10.6" text-anchor="middle" letter-spacing="-0.2" fill="#111" stroke="#111">Blood</text>
<text x="0.6" y="346.2" font-size="10.3" font-weight="bold" letter-spacing="-0.2" fill="#000" stroke="#000">CD4</text>
<text x="0.6" y="393.6" font-size="10.3" font-weight="bold" letter-spacing="-0.2" fill="#000" stroke="#000">CD8</text>
<circle cx="46.9" cy="343.8" r="19.4" fill="#dcdcdc"/>
<path d="M46.9 343.8L46.90 324.40A19.4 19.4 0 0 1 63.87 353.21Z" fill="#0b3f8c"/>
<path d="M46.9 343.8L63.87 353.21A19.4 19.4 0 0 1 58.17 359.59Z" fill="#17847f"/>
<path d="M46.9 343.8L58.17 359.59A19.4 19.4 0 0 1 49.77 362.99Z" fill="#7a0000"/>
<circle cx="46.9" cy="343.8" r="19.4" fill="none" stroke="#2a2a2a" stroke-width="0.7"/>
<circle cx="92.5" cy="343.8" r="19.4" fill="#dcdcdc"/>
<path d="M92.5 343.8L92.50 324.40A19.4 19.4 0 0 1 111.85 345.15Z" fill="#0b3f8c"/>
<path d="M92.5 343.8L111.85 345.15A19.4 19.4 0 0 1 110.49 351.07Z" fill="#17847f"/>
<path d="M92.5 343.8L110.49 351.07A19.4 19.4 0 0 1 108.58 354.65Z" fill="#7a0000"/>
<circle cx="92.5" cy="343.8" r="19.4" fill="none" stroke="#2a2a2a" stroke-width="0.7"/>
<circle cx="137.5" cy="343.8" r="19.4" fill="#dcdcdc"/>
<path d="M137.5 343.8L137.50 324.40A19.4 19.4 0 0 1 149.97 328.94Z" fill="#0b3f8c"/>
<path d="M137.5 343.8L149.97 328.94A19.4 19.4 0 0 1 155.42 336.38Z" fill="#17847f"/>
<path d="M137.5 343.8L155.42 336.38A19.4 19.4 0 0 1 156.15 338.45Z" fill="#7a0000"/>
<circle cx="137.5" cy="343.8" r="19.4" fill="none" stroke="#2a2a2a" stroke-width="0.7"/>
<circle cx="182.7" cy="343.8" r="19.4" fill="#dcdcdc"/>
<path d="M182.7 343.8L182.70 324.40A19.4 19.4 0 0 1 190.59 326.08Z" fill="#0b3f8c"/>
<circle cx="182.7" cy="343.8" r="19.4" fill="none" stroke="#2a2a2a" stroke-width="0.7"/>
<circle cx="46.9" cy="390.8" r="19.4" fill="#dcdcdc"/>
<path d="M46.9 390.8L46.90 371.40A19.4 19.4 0 0 1 49.77 371.61Z" fill="#0b3f8c"/>
<path d="M46.9 390.8L49.77 371.61A19.4 19.4 0 0 1 60.86 404.28Z" fill="#17847f"/>
<path d="M46.9 390.8L60.86 404.28A19.4 19.4 0 0 1 36.91 407.43Z" fill="#7a0000"/>
<circle cx="46.9" cy="390.8" r="19.4" fill="none" stroke="#2a2a2a" stroke-width="0.7"/>
<circle cx="92.5" cy="390.8" r="19.4" fill="#dcdcdc"/>
<path d="M92.5 390.8L92.50 371.40A19.4 19.4 0 0 1 94.19 371.47Z" fill="#0b3f8c"/>
<path d="M92.5 390.8L94.19 371.47A19.4 19.4 0 0 1 99.77 408.79Z" fill="#17847f"/>
<path d="M92.5 390.8L99.77 408.79A19.4 19.4 0 0 1 89.47 409.96Z" fill="#7a0000"/>
<circle cx="92.5" cy="390.8" r="19.4" fill="none" stroke="#2a2a2a" stroke-width="0.7"/>
<circle cx="137.5" cy="390.8" r="19.4" fill="#dcdcdc"/>
<path d="M137.5 390.8L137.50 371.40A19.4 19.4 0 0 1 138.52 371.43Z" fill="#0b3f8c"/>
<path d="M137.5 390.8L138.52 371.43A19.4 19.4 0 1 1 132.15 409.45Z" fill="#17847f"/>
<path d="M137.5 390.8L132.15 409.45A19.4 19.4 0 0 1 129.00 408.24Z" fill="#7a0000"/>
<circle cx="137.5" cy="390.8" r="19.4" fill="none" stroke="#2a2a2a" stroke-width="0.7"/>
<circle cx="182.7" cy="390.8" r="19.4" fill="#dcdcdc"/>
<path d="M182.7 390.8L182.70 371.40A19.4 19.4 0 0 1 184.05 371.45Z" fill="#0b3f8c"/>
<path d="M182.7 390.8L184.05 371.45A19.4 19.4 0 0 1 186.07 371.69Z" fill="#17847f"/>
<circle cx="182.7" cy="390.8" r="19.4" fill="none" stroke="#2a2a2a" stroke-width="0.7"/>
<rect x="212.5" y="333" width="124.4" height="70.6" fill="#fff" stroke="#333" stroke-width="1"/>
<circle cx="219.8" cy="342.5" r="3.4" fill="#0b3f8c" stroke="#222" stroke-width="0.7"/>
<text x="226.3" y="345.7" font-size="9" letter-spacing="-0.23" fill="#111" stroke="#111">CD39<tspan dy="-3.2" font-size="6.2" font-weight="bold">+</tspan><tspan dy="3.2"> </tspan>CD103<tspan dy="-3.2" font-size="6.2" font-weight="bold">-</tspan><tspan dy="3.2"> </tspan>(SP CD39)</text>
<circle cx="219.8" cy="360" r="3.4" fill="#17847f" stroke="#222" stroke-width="0.7"/>
<text x="226.3" y="363.2" font-size="9" letter-spacing="-0.23" fill="#111" stroke="#111">CD39<tspan dy="-3.2" font-size="6.2" font-weight="bold">-</tspan><tspan dy="3.2"> </tspan>CD103<tspan dy="-3.2" font-size="6.2" font-weight="bold">+</tspan><tspan dy="3.2"> </tspan>(SP CD103)</text>
<circle cx="219.8" cy="376.6" r="3.4" fill="#7a0000" stroke="#222" stroke-width="0.7"/>
<text x="226.3" y="379.8" font-size="9" letter-spacing="-0.23" fill="#111" stroke="#111">CD39<tspan dy="-3.2" font-size="6.2" font-weight="bold">+</tspan><tspan dy="3.2"> </tspan>CD103<tspan dy="-3.2" font-size="6.2" font-weight="bold">+</tspan><tspan dy="3.2"> </tspan>(DP)</text>
<circle cx="219.8" cy="395.5" r="3.4" fill="#c4c4c4" stroke="#222" stroke-width="0.7"/>
<text x="226.3" y="398.7" font-size="9" letter-spacing="-0.23" fill="#111" stroke="#111">CD39<tspan dy="-3.2" font-size="6.2" font-weight="bold">-</tspan><tspan dy="3.2"> </tspan>CD103<tspan dy="-3.2" font-size="6.2" font-weight="bold">-</tspan><tspan dy="3.2"> </tspan>(DN)</text>
<text x="394.8" y="321" font-size="10.4" text-anchor="middle" letter-spacing="-0.15" fill="#6670c4" stroke="#6670c4">Central Tissue</text>
<text x="470.6" y="322.4" font-size="9.9" text-anchor="middle" letter-spacing="-0.2" fill="#111" stroke="#111">Blood</text>
<rect x="361.2" y="327" width="65.8" height="65.2" fill="#fff" stroke="#8a8a8a" stroke-width="0.8"/>
<rect x="432.3" y="327" width="66.7" height="65.2" fill="#fff" stroke="#8a8a8a" stroke-width="0.8"/>
<g transform="scale(0.1)" fill="none" stroke-linecap="round" stroke-linejoin="round"><path d="M4060 3313zm37 31zm-33 1zm-2 11zm-128 17zm48-4zm63-7zm6 15zm0-13zm1 12zm11 9zm8-18zm2 8zm20-3zm5 6zm21 2zm-26 27zm-4-8zm-1 8zm0-13zm-11 25zm0-9zm-6-1zm-5-12zm-1-7zm0 2zm0 6zm-4 5zm-5-5zm-2 21zm0-9zm-3-8zm-1 4zm0-15zm-17 15zm-3 6zm-1-22zm-15 8zm-23 21zm-11-25zm-263 37zm76 6zm191-14zm21-1zm13 7zm6 10zm4-19zm5 16zm3-5zm4-10zm2 19zm0-11zm1-8zm0 7zm3-4zm2 24zm1-28zm6 9zm1-1zm1 16zm1-3zm7 5zm0-18zm1-1zm16-1zm19 9zm-4 18zm-14 13zm-1-3zm-5-4zm-19-8zm-4 11zm-8-11zm-3 5zm-6 18zm0 4zm-2-25zm-4 21zm-1-12zm0 10zm-2-4zm-3-3zm-4-13zm-5 23zm-6 2zm-13 2zm0 0zm-4-29zm-15 14zm-1 11zm0-1zm-41-17zm-68-1zm-53 2zm-19-4zm-133 24zm-21 28zm26-8zm0 1zm84 10zm7-16zm185 3zm9 2zm2 7zm6-2zm17-5zm12-4zm3-4zm11 19zm2-8zm2 4zm2-24zm1 22zm3-2zm5-19zm4 0zm0 13zm16-11zm44 6zm47 18zm4-16zm-69 31zm-3-4zm-12-5zm-5-1zm-7 5zm-28 11zm-11-8zm-33-2zm-3-7zm0 18zm-19-7zm-23 12zm0-23zm-84 12zm-71-1zm-8 13zm-49 14zm6 1zm1 1zm39 4zm6 3zm37-1zm57 3zm16-21zm42 23zm6-14zm1 4zm10 13zm22-10zm3-4zm33-12zm52 24zm69 27zm-44-21zm-67 23zm-19-12zm-27 13zm-38-21zm-1 9zm-33-4zm-9 9zm-11 3zm0-17zm-13 13zm-8 1zm-14 12zm-11-27zm-40 3zm-2 13zm-3-17zm-35 16zm0-6zm-6 15zm-9-15zm-80 4zm30 30zm5-8zm14 21zm59-28zm1 21zm12-9zm22 15zm1-5zm38-7zm32-8zm29-4zm24 8zm12 6zm39 6zm13-21zm5 2zm1 20zm67-24zm35 22zm-50 18zm-108-5zm-53 12zm-31 1zm-24 5zm-35 6zm-1-28zm-22 17zm-18-6zm-34-11zm-10 26zm-21-3zm-26-23zm14 40zm18 2zm31 2zm3 13zm4-8zm8 9zm18-1zm12-3zm23-25zm7 12zm7 12zm166-20zm32 7zm-160 23zm-2 25zm-21-14zm-2 7zm-3-18zm-7 22zm-4-5zm-2-14zm-4 21zm-1-2zm-3-7zm-4 3zm-1-14zm-1 10zm-1 10zm-2-8zm-2 0zm-1 6zm-4-9zm-1 6zm0-6zm-1-6zm0 14zm-1 4zm-1 0zm-7 0zm-1-9zm0 7zm0-26zm-4 15zm-5 12zm-1-2zm-2-15zm-3 4zm0 12zm-2-4zm0 0zm-4-3zm-1 9zm-1-16zm0 14zm-2 0zm-2-13zm0-7zm-2-5zm0-1zm-2 26zm-6 0zm0-3zm-6 5zm-1-14zm0-3zm-1 3zm0 4zm0 1zm-2-5zm-1 14zm-4-7zm0 4zm-1-9zm-6 5zm0-6zm-6 1zm-2-10zm-3 7zm0 11zm-1-9zm-11-4zm-5 13zm-12 30zm8-23zm11 15zm3-13zm7 0zm7-4zm6 7zm6-2zm2 4zm0 1zm0 2zm1-6zm0 1zm5 13zm1-17zm4 7zm2-8zm0 19zm1-14zm1-1zm2 18zm1-6zm3 5zm2-17zm0 0zm1 15zm0-11zm1-4zm0 5zm0-3zm0 21zm2-11zm0-5zm3-10zm1 12zm0-5zm4-4zm1-4zm2 0zm3-1zm0 7zm0 11zm2-18zm0 9zm2-5zm1-1zm1-1zm0 5zm1 0zm1-6zm1 23zm0-20zm2 3zm1-7zm0 6zm2 10zm0-12zm0 4zm2-8zm1 6zm2 9zm2 11zm1-27zm3 9zm1 19zm0-4zm0-7zm2-14zm0 3zm2 23zm2-11zm2-17zm0 26zm0-23zm1-3zm1 0zm0 12zm10 13zm8-18zm12-4zm23 19zm32-22zm32 9zm30 16zm-44 6zm-83 2zm-40 13zm-10-16zm-4 4zm-21 6zm-24-10zm-13-1zm-16 5zm17 75zm61 31zm42-7z" stroke="#9c9cec" stroke-width="7.5"/></g>
<g transform="scale(0.1)" fill="none" stroke-linecap="round" stroke-linejoin="round"><path d="M3778 3714zm-12-11zm-5 12zm0-8zm-22 12zm0-10zm-4 10zm-36-4zm11 6zm4-1zm0 4zm5 0zm3 2zm12 0zm1-6zm1 3zm1 10zm1-7zm5-4zm3 1zm0 11zm1-8zm2 0zm9-5zm2 15z" stroke="#d46a9a" stroke-width="8"/></g>
<g transform="scale(0.1)" fill="none" stroke-linecap="round" stroke-linejoin="round"><path d="M4572 3338zm-17-4zm106 47zm-153 32zm-163 36zm94-4zm36-15zm224 9zm-21 35zm-182 4zm-18-5zm-16-23zm-18 24zm-33 3zm-29 11zm8 14zm1-5zm6 7zm7 1zm1 3zm4-19zm7 1zm8-2zm12-8zm23 17zm17-14zm6 26zm30-3zm6-25zm10 3zm34 23zm147-26zm-56 50zm-46-20zm-7 25zm-5 3zm-23-9zm-20-9zm-18 17zm-42-20zm-3 12zm-25-18zm-10 17zm-3 3zm0-8zm-9-13zm-5 26zm-5-22zm-4 18zm-4-10zm-1 15zm-5-4zm-2-9zm-10 10zm-8-23zm-13 24zm-1 1zm-42 8zm4 16zm23-9zm3 17zm1-1zm9-2zm6-16zm2 5zm5 14zm7-12zm1-12zm8 1zm8 14zm1-10zm2 12zm2-8zm5 13zm6-2zm0-13zm0 13zm10-11zm1-2zm1 7zm0-9zm7 15zm0 0zm7-21zm1 13zm1 9zm5-26zm1 3zm2 9zm12-2zm0 1zm1 14zm1-23zm13 20zm3-19zm15-3zm5 20zm1 8zm10-20zm40-7zm0 28zm40-16zm30 18zm-98 3zm-10 3zm-4 1zm-5 13zm-14-8zm0 15zm-11-23zm-2 14zm-4-13zm-7 0zm-1 8zm-3-12zm-7 16zm0 3zm-3-5zm-2 3zm-3-19zm-2 20zm0-18zm-1 24zm0-13zm-1 15zm-1 1zm-3-9zm0 7zm-2-13zm-3-13zm0 13zm-1 0zm-6-10zm-1 24zm-2-8zm-1-2zm-1 11zm0-27zm-1-1zm-1 13zm-1-6zm0 7zm-1 6zm-1 8zm0-28zm-5 0zm-2 10zm-2-8zm-3 17zm-2 2zm-9 6zm-2-11zm-3 6zm-4-7zm0-13zm-1-1zm-3 14zm-1-12zm-4 21zm-7-13zm-4 7zm-2-11zm-2 16zm-1-2zm-1 3zm-4-7zm-4 6zm-9-5zm-1-15zm-22 13zm3 20zm2 22zm9-2zm1-25zm4 26zm10-4zm3-19zm5 0zm2 18zm1-22zm7 7zm3 14zm0-15zm1 14zm3-19zm1-2zm1 19zm5 7zm2 1zm4-22zm1 20zm1 2zm0-22zm2 16zm1-2zm0-15zm2 22zm2-24zm2 14zm2-13zm1 2zm1 7zm0 10zm3-22zm2 27zm1-4zm3-19zm0 10zm4 12zm1-4zm0-7zm1-3zm2 11zm1 3zm2-26zm0 20zm3-10zm1-2zm0 5zm2-2zm2 16zm0-17zm7-8zm2 17zm0 4zm1-12zm5-2zm3 0zm0-2zm6 10zm2 7zm0-14zm4-9zm6 23zm1-23zm1 9zm0 1zm1 14zm1-25zm2 26zm6-22zm2 5zm2 10zm0-13zm0-6zm7 4zm17 21zm1-21zm2 4zm1 0zm5 5zm3-3zm2 6zm13 11zm2-20zm25 16zm19-16zm132-5zm25 46zm-58 9zm-14-10zm-41 12zm-26-3zm-8 3zm-4 0zm-31-11zm-4-1zm-2 10zm-25-11zm-2-6zm-41-10zm-17 0zm-2 2zm-2-2zm-1 4zm-25-2zm-2-2zm-2 3zm-3-2zm-21 3zm-3-2zm-7 3zm-69-3zm185 55zm5-4zm2-18zm5 12zm2 9zm5-24zm1 3zm7 19zm2-4zm5 8zm8-8zm0-14zm0 20zm6-7zm0-6zm1 9zm2-1zm1 6zm9 0zm2-21zm1 2zm2 10zm2-1zm1 12zm3-14zm2 10zm1-12zm2 8zm0 2zm3-10zm2-2zm0 2zm0 4zm10-13zm3 21zm1-5zm2-8zm3-5zm9 5zm0 12zm5 1zm3-23zm1 21zm3 2zm3-1zm0-23zm1 1zm3 18zm6 0zm3 1zm1 2zm1 6zm2-2zm4 1zm6-5zm1-22zm9 20zm13 1zm3-3zm6-10zm4 4zm12 3zm19 12zm1-27zm18 5zm-33 28zm-31 13zm-15-8zm-12-5zm-3 8zm-19-8zm-4-3zm-11 16zm0-16zm-1 0zm-5 0zm-1 9zm-2 10zm-5-9zm-3-9zm-5-1zm0 9zm-10-2zm-13 12zm-16-8zm-13-12zm-19 13zm-4-10zm-12 5zm-1 3z" stroke="#8080f2" stroke-width="7.5"/></g>
<defs><radialGradient id="fb"><stop offset="0" stop-color="#f03a1a"/><stop offset="0.18" stop-color="#f6a21a"/><stop offset="0.32" stop-color="#e6e832"/><stop offset="0.48" stop-color="#3fd65a"/><stop offset="0.64" stop-color="#22c6d8"/><stop offset="0.82" stop-color="#2a52ee"/><stop offset="1" stop-color="#3a3aee" stop-opacity="0.25"/></radialGradient></defs>
<ellipse cx="444.6" cy="368.8" rx="10.6" ry="5.3" fill="url(#fb)"/>
<line x1="384.3" y1="327" x2="384.3" y2="392.2" stroke="#555" stroke-width="0.9"/>
<line x1="361.2" y1="363.8" x2="427" y2="363.8" stroke="#555" stroke-width="0.9"/>
<line x1="359.9" y1="333.5" x2="361.2" y2="333.5" stroke="#444" stroke-width="0.5"/>
<line x1="367.8" y1="392.2" x2="367.8" y2="393.5" stroke="#444" stroke-width="0.5"/>
<line x1="359.9" y1="349.8" x2="361.2" y2="349.8" stroke="#444" stroke-width="0.5"/>
<line x1="384.2" y1="392.2" x2="384.2" y2="393.5" stroke="#444" stroke-width="0.5"/>
<line x1="359.9" y1="367.3" x2="361.2" y2="367.3" stroke="#444" stroke-width="0.5"/>
<line x1="402" y1="392.2" x2="402" y2="393.5" stroke="#444" stroke-width="0.5"/>
<line x1="359.9" y1="384.2" x2="361.2" y2="384.2" stroke="#444" stroke-width="0.5"/>
<line x1="419.1" y1="392.2" x2="419.1" y2="393.5" stroke="#444" stroke-width="0.5"/>
<line x1="455.6" y1="327" x2="455.6" y2="392.2" stroke="#555" stroke-width="0.9"/>
<line x1="432.3" y1="363.5" x2="499" y2="363.5" stroke="#555" stroke-width="0.9"/>
<line x1="431.0" y1="333.5" x2="432.3" y2="333.5" stroke="#444" stroke-width="0.5"/>
<line x1="439" y1="392.2" x2="439" y2="393.5" stroke="#444" stroke-width="0.5"/>
<line x1="431.0" y1="349.8" x2="432.3" y2="349.8" stroke="#444" stroke-width="0.5"/>
<line x1="455.6" y1="392.2" x2="455.6" y2="393.5" stroke="#444" stroke-width="0.5"/>
<line x1="431.0" y1="367.3" x2="432.3" y2="367.3" stroke="#444" stroke-width="0.5"/>
<line x1="473.7" y1="392.2" x2="473.7" y2="393.5" stroke="#444" stroke-width="0.5"/>
<line x1="431.0" y1="384.2" x2="432.3" y2="384.2" stroke="#444" stroke-width="0.5"/>
<line x1="491" y1="392.2" x2="491" y2="393.5" stroke="#444" stroke-width="0.5"/>
<text x="436.8" y="338.6" font-size="10" letter-spacing="-0.2" fill="#111" stroke="#111">SP</text>
<text x="480.2" y="338.6" font-size="10" letter-spacing="-0.2" fill="#111" stroke="#111">DP</text>
<text x="435.4" y="389.6" font-size="10" letter-spacing="-0.2" fill="#111" stroke="#111">DN</text>
<text x="480.6" y="389.6" font-size="10" letter-spacing="-0.2" fill="#111" stroke="#111">SP</text>
<text x="357" y="375" font-size="10" text-anchor="middle" transform="rotate(-90 357 375)" letter-spacing="-0.2" fill="#111" stroke="#111">CD39</text>
<text x="364.8" y="407" font-size="10" letter-spacing="-0.2" fill="#111" stroke="#111">CD103</text>
<text x="0.2" y="431" font-size="16.5" font-weight="bold" fill="#000" stroke="#000">E</text>
<text x="114.8" y="431" font-size="16.5" font-weight="bold" fill="#000" stroke="#000">F</text>
<rect x="46.7" y="505.1" width="13.8" height="28.8" fill="#b5b9e6" stroke="#333" stroke-width="1"/>
<rect x="69" y="512.1" width="14.2" height="21.8" fill="#ddb3e3" stroke="#333" stroke-width="1"/>
<rect x="91.4" y="525.2" width="14.2" height="8.7" fill="#dfa9a9" stroke="#333" stroke-width="1"/>
<circle cx="53.6" cy="528.7" r="1.4" fill="#4b5bc9"/><circle cx="55.9" cy="526.9" r="1.4" fill="#4b5bc9"/><circle cx="53.6" cy="525.2" r="1.4" fill="#4b5bc9"/><circle cx="55.9" cy="523.4" r="1.4" fill="#4b5bc9"/><circle cx="53.6" cy="522.6" r="1.4" fill="#4b5bc9"/><circle cx="55.9" cy="520.8" r="1.4" fill="#4b5bc9"/><circle cx="53.6" cy="518.2" r="1.4" fill="#4b5bc9"/><circle cx="55.9" cy="516.4" r="1.4" fill="#4b5bc9"/><circle cx="53.6" cy="514.7" r="1.4" fill="#4b5bc9"/><circle cx="55.9" cy="513.8" r="1.4" fill="#4b5bc9"/><circle cx="51.3" cy="512.9" r="1.4" fill="#4b5bc9"/><circle cx="53.6" cy="512.1" r="1.4" fill="#4b5bc9"/><circle cx="55.9" cy="511.2" r="1.4" fill="#4b5bc9"/><circle cx="51.3" cy="510.3" r="1.4" fill="#4b5bc9"/><circle cx="53.6" cy="509.5" r="1.4" fill="#4b5bc9"/><circle cx="55.9" cy="508.6" r="1.4" fill="#4b5bc9"/><circle cx="51.3" cy="507.7" r="1.4" fill="#4b5bc9"/><circle cx="58.2" cy="507.7" r="1.4" fill="#4b5bc9"/><circle cx="53.6" cy="506.8" r="1.4" fill="#4b5bc9"/><circle cx="55.9" cy="506" r="1.4" fill="#4b5bc9"/><circle cx="49" cy="506" r="1.4" fill="#4b5bc9"/><circle cx="51.3" cy="505.1" r="1.4" fill="#4b5bc9"/><circle cx="58.2" cy="505.1" r="1.4" fill="#4b5bc9"/><circle cx="53.6" cy="504.2" r="1.4" fill="#4b5bc9"/><circle cx="60.5" cy="504.2" r="1.4" fill="#4b5bc9"/><circle cx="55.9" cy="503.3" r="1.4" fill="#4b5bc9"/><circle cx="49" cy="503.3" r="1.4" fill="#4b5bc9"/><circle cx="51.3" cy="502.5" r="1.4" fill="#4b5bc9"/><circle cx="58.2" cy="502.5" r="1.4" fill="#4b5bc9"/><circle cx="53.6" cy="501.6" r="1.4" fill="#4b5bc9"/><circle cx="60.5" cy="501.6" r="1.4" fill="#4b5bc9"/><circle cx="55.9" cy="500.7" r="1.4" fill="#4b5bc9"/><circle cx="49" cy="500.7" r="1.4" fill="#4b5bc9"/><circle cx="51.3" cy="499.9" r="1.4" fill="#4b5bc9"/><circle cx="53.6" cy="499" r="1.4" fill="#4b5bc9"/><circle cx="55.9" cy="498.1" r="1.4" fill="#4b5bc9"/><circle cx="51.3" cy="497.2" r="1.4" fill="#4b5bc9"/><circle cx="53.6" cy="496.4" r="1.4" fill="#4b5bc9"/><circle cx="55.9" cy="494.6" r="1.4" fill="#4b5bc9"/><circle cx="53.6" cy="492" r="1.4" fill="#4b5bc9"/><circle cx="53.6" cy="487.6" r="1.4" fill="#4b5bc9"/><circle cx="55.9" cy="486.8" r="1.4" fill="#4b5bc9"/>
<circle cx="76.1" cy="530.4" r="1.4" fill="#bb56cc"/><circle cx="78.4" cy="530.4" r="1.4" fill="#bb56cc"/><circle cx="73.8" cy="529.5" r="1.4" fill="#bb56cc"/><circle cx="80.7" cy="529.5" r="1.4" fill="#bb56cc"/><circle cx="71.5" cy="529.5" r="1.4" fill="#bb56cc"/><circle cx="83" cy="529.5" r="1.4" fill="#bb56cc"/><circle cx="76.1" cy="526.9" r="1.4" fill="#bb56cc"/><circle cx="78.4" cy="526.9" r="1.4" fill="#bb56cc"/><circle cx="73.8" cy="525.2" r="1.4" fill="#bb56cc"/><circle cx="80.7" cy="525.2" r="1.4" fill="#bb56cc"/><circle cx="76.1" cy="523.4" r="1.4" fill="#bb56cc"/><circle cx="78.4" cy="521.7" r="1.4" fill="#bb56cc"/><circle cx="76.1" cy="520.8" r="1.4" fill="#bb56cc"/><circle cx="78.4" cy="519.1" r="1.4" fill="#bb56cc"/><circle cx="76.1" cy="518.2" r="1.4" fill="#bb56cc"/><circle cx="73.8" cy="517.3" r="1.4" fill="#bb56cc"/><circle cx="78.4" cy="516.4" r="1.4" fill="#bb56cc"/><circle cx="76.1" cy="514.7" r="1.4" fill="#bb56cc"/><circle cx="78.4" cy="513.8" r="1.4" fill="#bb56cc"/><circle cx="73.8" cy="512.9" r="1.4" fill="#bb56cc"/><circle cx="76.1" cy="512.1" r="1.4" fill="#bb56cc"/><circle cx="78.4" cy="511.2" r="1.4" fill="#bb56cc"/><circle cx="80.7" cy="511.2" r="1.4" fill="#bb56cc"/><circle cx="73.8" cy="510.3" r="1.4" fill="#bb56cc"/><circle cx="76.1" cy="509.5" r="1.4" fill="#bb56cc"/><circle cx="78.4" cy="508.6" r="1.4" fill="#bb56cc"/><circle cx="73.8" cy="507.7" r="1.4" fill="#bb56cc"/><circle cx="80.7" cy="507.7" r="1.4" fill="#bb56cc"/><circle cx="76.1" cy="506.8" r="1.4" fill="#bb56cc"/><circle cx="78.4" cy="506" r="1.4" fill="#bb56cc"/><circle cx="73.8" cy="505.1" r="1.4" fill="#bb56cc"/><circle cx="76.1" cy="504.2" r="1.4" fill="#bb56cc"/><circle cx="78.4" cy="503.3" r="1.4" fill="#bb56cc"/><circle cx="76.1" cy="501.6" r="1.4" fill="#bb56cc"/><circle cx="78.4" cy="500.7" r="1.4" fill="#bb56cc"/><circle cx="76.1" cy="499" r="1.4" fill="#bb56cc"/><circle cx="78.4" cy="497.2" r="1.4" fill="#bb56cc"/><circle cx="76.1" cy="496.4" r="1.4" fill="#bb56cc"/><circle cx="73.8" cy="495.5" r="1.4" fill="#bb56cc"/><circle cx="76.1" cy="493.7" r="1.4" fill="#bb56cc"/>
<circle cx="98.5" cy="533.5" r="1.4" fill="#bd4a4a"/><circle cx="100.8" cy="533.5" r="1.4" fill="#bd4a4a"/><circle cx="96.2" cy="533" r="1.4" fill="#bd4a4a"/><circle cx="103.1" cy="533" r="1.4" fill="#bd4a4a"/><circle cx="93.9" cy="533" r="1.4" fill="#bd4a4a"/><circle cx="105.4" cy="532.2" r="1.4" fill="#bd4a4a"/><circle cx="91.6" cy="532.2" r="1.4" fill="#bd4a4a"/><circle cx="105.4" cy="532.2" r="1.4" fill="#bd4a4a"/><circle cx="105.4" cy="531.3" r="1.4" fill="#bd4a4a"/><circle cx="105.4" cy="531.3" r="1.4" fill="#bd4a4a"/><circle cx="105.4" cy="531.3" r="1.4" fill="#bd4a4a"/><circle cx="98.5" cy="530.4" r="1.4" fill="#bd4a4a"/><circle cx="100.8" cy="530.4" r="1.4" fill="#bd4a4a"/><circle cx="96.2" cy="529.5" r="1.4" fill="#bd4a4a"/><circle cx="103.1" cy="529.5" r="1.4" fill="#bd4a4a"/><circle cx="93.9" cy="528.7" r="1.4" fill="#bd4a4a"/><circle cx="105.4" cy="528.7" r="1.4" fill="#bd4a4a"/><circle cx="98.5" cy="527.8" r="1.4" fill="#bd4a4a"/><circle cx="100.8" cy="527.8" r="1.4" fill="#bd4a4a"/><circle cx="96.2" cy="526.9" r="1.4" fill="#bd4a4a"/><circle cx="103.1" cy="526.9" r="1.4" fill="#bd4a4a"/><circle cx="93.9" cy="526" r="1.4" fill="#bd4a4a"/><circle cx="105.4" cy="526" r="1.4" fill="#bd4a4a"/><circle cx="98.5" cy="525.2" r="1.4" fill="#bd4a4a"/><circle cx="100.8" cy="525.2" r="1.4" fill="#bd4a4a"/><circle cx="96.2" cy="524.3" r="1.4" fill="#bd4a4a"/><circle cx="103.1" cy="523.4" r="1.4" fill="#bd4a4a"/><circle cx="98.5" cy="522.6" r="1.4" fill="#bd4a4a"/><circle cx="100.8" cy="521.7" r="1.4" fill="#bd4a4a"/><circle cx="96.2" cy="520.8" r="1.4" fill="#bd4a4a"/><circle cx="98.5" cy="519.9" r="1.4" fill="#bd4a4a"/><circle cx="100.8" cy="519.1" r="1.4" fill="#bd4a4a"/><circle cx="96.2" cy="518.2" r="1.4" fill="#bd4a4a"/><circle cx="98.5" cy="517.3" r="1.4" fill="#bd4a4a"/><circle cx="100.8" cy="516.4" r="1.4" fill="#bd4a4a"/><circle cx="98.5" cy="514.7" r="1.4" fill="#bd4a4a"/><circle cx="100.8" cy="513.8" r="1.4" fill="#bd4a4a"/><circle cx="98.5" cy="512.1" r="1.4" fill="#bd4a4a"/><circle cx="100.8" cy="510.3" r="1.4" fill="#bd4a4a"/><circle cx="98.5" cy="507.7" r="1.4" fill="#bd4a4a"/><circle cx="98.5" cy="504.2" r="1.4" fill="#bd4a4a"/><circle cx="98.5" cy="493.7" r="1.4" fill="#bd4a4a"/>
<line x1="43" y1="446.3" x2="43" y2="534.4" stroke="#222" stroke-width="1"/>
<line x1="42.5" y1="533.9" x2="109.2" y2="533.9" stroke="#222" stroke-width="1"/>
<line x1="41.2" y1="533.9" x2="43" y2="533.9" stroke="#222" stroke-width="0.9"/>
<text x="39.4" y="537.7" font-size="11" text-anchor="end" fill="#111" stroke="#111">0</text>
<line x1="41.2" y1="516.4" x2="43" y2="516.4" stroke="#222" stroke-width="0.9"/>
<text x="39.4" y="520.2" font-size="11" text-anchor="end" fill="#111" stroke="#111">20</text>
<line x1="41.2" y1="499" x2="43" y2="499" stroke="#222" stroke-width="0.9"/>
<text x="39.4" y="502.8" font-size="11" text-anchor="end" fill="#111" stroke="#111">40</text>
<line x1="41.2" y1="481.5" x2="43" y2="481.5" stroke="#222" stroke-width="0.9"/>
<text x="39.4" y="485.3" font-size="11" text-anchor="end" fill="#111" stroke="#111">60</text>
<line x1="41.2" y1="464.1" x2="43" y2="464.1" stroke="#222" stroke-width="0.9"/>
<text x="39.4" y="467.9" font-size="11" text-anchor="end" fill="#111" stroke="#111">80</text>
<line x1="41.2" y1="446.6" x2="43" y2="446.6" stroke="#222" stroke-width="0.9"/>
<text x="39.4" y="450.4" font-size="11" text-anchor="end" fill="#111" stroke="#111">100</text>
<line x1="53.6" y1="533.9" x2="53.6" y2="536.3" stroke="#222" stroke-width="0.9"/>
<line x1="76.1" y1="533.9" x2="76.1" y2="536.3" stroke="#222" stroke-width="0.9"/>
<line x1="98.5" y1="533.9" x2="98.5" y2="536.3" stroke="#222" stroke-width="0.9"/>
<path d="M53.2 454.3V448.9H98.3V454.3" fill="none" stroke="#333" stroke-width="0.9"/>
<path d="M53.2 481.3V459.4H74.4V472.8" fill="none" stroke="#333" stroke-width="0.9"/>
<path d="M77.8 470.5V459.4H98.3V486" fill="none" stroke="#333" stroke-width="0.9"/>
<text x="75.6" y="448.7" font-size="10" text-anchor="middle" font-weight="bold" fill="#111" stroke="#111">***</text>
<text x="63.6" y="455.8" font-size="5" text-anchor="middle" fill="#777" stroke="#777">ns</text>
<text x="87.8" y="460.8" font-size="10" text-anchor="middle" font-weight="bold" fill="#111" stroke="#111">***</text>
<text x="15" y="491.2" font-size="11.3" text-anchor="middle" transform="rotate(-90 15 491.2)" letter-spacing="-0.15" fill="#111" stroke="#111">CD39<tspan dy="-3.4" font-size="7.6" font-weight="bold">+</tspan><tspan dy="3.4"> </tspan>CD103<tspan dy="-3.4" font-size="7.6" font-weight="bold">-</tspan><tspan dy="3.4"> </tspan>(%)</text>
<text x="76.2" y="547" font-size="10.4" text-anchor="middle" letter-spacing="-0.2" fill="#111" stroke="#111">CD4</text>
<rect x="170.8" y="518.2" width="13.9" height="15.7" fill="#b5b9e6" stroke="#333" stroke-width="1"/>
<rect x="193.2" y="528.2" width="14.3" height="5.7" fill="#ddb3e3" stroke="#333" stroke-width="1"/>
<rect x="215.6" y="531.1" width="14" height="2.8" fill="#dfa9a9" stroke="#333" stroke-width="1"/>
<circle cx="177.7" cy="533" r="1.4" fill="#4b5bc9"/><circle cx="180" cy="533" r="1.4" fill="#4b5bc9"/><circle cx="175.4" cy="532.2" r="1.4" fill="#4b5bc9"/><circle cx="182.3" cy="532.2" r="1.4" fill="#4b5bc9"/><circle cx="173.1" cy="531.3" r="1.4" fill="#4b5bc9"/><circle cx="177.7" cy="530.4" r="1.4" fill="#4b5bc9"/><circle cx="180" cy="529.5" r="1.4" fill="#4b5bc9"/><circle cx="175.4" cy="529.5" r="1.4" fill="#4b5bc9"/><circle cx="182.3" cy="528.7" r="1.4" fill="#4b5bc9"/><circle cx="177.7" cy="527.8" r="1.4" fill="#4b5bc9"/><circle cx="180" cy="526.9" r="1.4" fill="#4b5bc9"/><circle cx="175.4" cy="526.9" r="1.4" fill="#4b5bc9"/><circle cx="182.3" cy="526" r="1.4" fill="#4b5bc9"/><circle cx="177.7" cy="525.2" r="1.4" fill="#4b5bc9"/><circle cx="180" cy="524.3" r="1.4" fill="#4b5bc9"/><circle cx="175.4" cy="523.4" r="1.4" fill="#4b5bc9"/><circle cx="182.3" cy="523.4" r="1.4" fill="#4b5bc9"/><circle cx="177.7" cy="522.6" r="1.4" fill="#4b5bc9"/><circle cx="180" cy="521.7" r="1.4" fill="#4b5bc9"/><circle cx="175.4" cy="520.8" r="1.4" fill="#4b5bc9"/><circle cx="177.7" cy="519.9" r="1.4" fill="#4b5bc9"/><circle cx="180" cy="519.1" r="1.4" fill="#4b5bc9"/><circle cx="175.4" cy="518.2" r="1.4" fill="#4b5bc9"/><circle cx="182.3" cy="518.2" r="1.4" fill="#4b5bc9"/><circle cx="177.7" cy="517.3" r="1.4" fill="#4b5bc9"/><circle cx="180" cy="516.4" r="1.4" fill="#4b5bc9"/><circle cx="175.4" cy="515.6" r="1.4" fill="#4b5bc9"/><circle cx="177.7" cy="514.7" r="1.4" fill="#4b5bc9"/><circle cx="182.3" cy="514.7" r="1.4" fill="#4b5bc9"/><circle cx="180" cy="513.8" r="1.4" fill="#4b5bc9"/><circle cx="175.4" cy="512.9" r="1.4" fill="#4b5bc9"/><circle cx="177.7" cy="512.1" r="1.4" fill="#4b5bc9"/><circle cx="180" cy="511.2" r="1.4" fill="#4b5bc9"/><circle cx="175.4" cy="510.3" r="1.4" fill="#4b5bc9"/><circle cx="177.7" cy="509.5" r="1.4" fill="#4b5bc9"/><circle cx="182.3" cy="509.5" r="1.4" fill="#4b5bc9"/><circle cx="180" cy="507.7" r="1.4" fill="#4b5bc9"/><circle cx="177.7" cy="506" r="1.4" fill="#4b5bc9"/><circle cx="180" cy="504.2" r="1.4" fill="#4b5bc9"/><circle cx="177.7" cy="500.7" r="1.4" fill="#4b5bc9"/><circle cx="177.7" cy="495.5" r="1.4" fill="#4b5bc9"/><circle cx="177.7" cy="485.9" r="1.4" fill="#4b5bc9"/><circle cx="180" cy="485" r="1.4" fill="#4b5bc9"/><circle cx="175.4" cy="484.1" r="1.4" fill="#4b5bc9"/><circle cx="177.7" cy="479.8" r="1.4" fill="#4b5bc9"/>
<circle cx="200.3" cy="533.5" r="1.4" fill="#bb56cc"/><circle cx="202.6" cy="533.5" r="1.4" fill="#bb56cc"/><circle cx="198" cy="533.5" r="1.4" fill="#bb56cc"/><circle cx="204.9" cy="533" r="1.4" fill="#bb56cc"/><circle cx="195.7" cy="533" r="1.4" fill="#bb56cc"/><circle cx="207.2" cy="533" r="1.4" fill="#bb56cc"/><circle cx="193.4" cy="532.2" r="1.4" fill="#bb56cc"/><circle cx="207.2" cy="532.2" r="1.4" fill="#bb56cc"/><circle cx="207.2" cy="532.2" r="1.4" fill="#bb56cc"/><circle cx="207.2" cy="531.3" r="1.4" fill="#bb56cc"/><circle cx="207.2" cy="531.3" r="1.4" fill="#bb56cc"/><circle cx="200.3" cy="530.4" r="1.4" fill="#bb56cc"/><circle cx="202.6" cy="530.4" r="1.4" fill="#bb56cc"/><circle cx="198" cy="529.5" r="1.4" fill="#bb56cc"/><circle cx="204.9" cy="529.5" r="1.4" fill="#bb56cc"/><circle cx="195.7" cy="528.7" r="1.4" fill="#bb56cc"/><circle cx="200.3" cy="527.8" r="1.4" fill="#bb56cc"/><circle cx="202.6" cy="526.9" r="1.4" fill="#bb56cc"/><circle cx="198" cy="526" r="1.4" fill="#bb56cc"/><circle cx="200.3" cy="521.7" r="1.4" fill="#bb56cc"/><circle cx="202.6" cy="520.8" r="1.4" fill="#bb56cc"/><circle cx="198" cy="519.9" r="1.4" fill="#bb56cc"/><circle cx="200.3" cy="519.1" r="1.4" fill="#bb56cc"/><circle cx="202.6" cy="518.2" r="1.4" fill="#bb56cc"/><circle cx="198" cy="517.3" r="1.4" fill="#bb56cc"/><circle cx="200.3" cy="516.4" r="1.4" fill="#bb56cc"/><circle cx="200.3" cy="506" r="1.4" fill="#bb56cc"/><circle cx="200.3" cy="503.3" r="1.4" fill="#bb56cc"/><circle cx="200.3" cy="500.7" r="1.4" fill="#bb56cc"/><circle cx="200.3" cy="493.7" r="1.4" fill="#bb56cc"/><circle cx="200.3" cy="490.2" r="1.4" fill="#bb56cc"/><circle cx="200.3" cy="477.2" r="1.4" fill="#bb56cc"/>
<circle cx="222.6" cy="533.5" r="1.4" fill="#bd4a4a"/><circle cx="224.9" cy="533.5" r="1.4" fill="#bd4a4a"/><circle cx="220.3" cy="533.5" r="1.4" fill="#bd4a4a"/><circle cx="227.2" cy="533.5" r="1.4" fill="#bd4a4a"/><circle cx="218" cy="533.5" r="1.4" fill="#bd4a4a"/><circle cx="229.5" cy="533.5" r="1.4" fill="#bd4a4a"/><circle cx="215.7" cy="533" r="1.4" fill="#bd4a4a"/><circle cx="229.5" cy="533" r="1.4" fill="#bd4a4a"/><circle cx="229.5" cy="533" r="1.4" fill="#bd4a4a"/><circle cx="229.5" cy="533" r="1.4" fill="#bd4a4a"/><circle cx="229.5" cy="533" r="1.4" fill="#bd4a4a"/><circle cx="229.5" cy="532.2" r="1.4" fill="#bd4a4a"/><circle cx="229.5" cy="532.2" r="1.4" fill="#bd4a4a"/><circle cx="229.5" cy="532.2" r="1.4" fill="#bd4a4a"/><circle cx="229.5" cy="532.2" r="1.4" fill="#bd4a4a"/><circle cx="229.5" cy="531.3" r="1.4" fill="#bd4a4a"/><circle cx="229.5" cy="531.3" r="1.4" fill="#bd4a4a"/><circle cx="229.5" cy="531.3" r="1.4" fill="#bd4a4a"/><circle cx="222.6" cy="530.4" r="1.4" fill="#bd4a4a"/><circle cx="224.9" cy="530.4" r="1.4" fill="#bd4a4a"/><circle cx="220.3" cy="529.5" r="1.4" fill="#bd4a4a"/><circle cx="227.2" cy="529.5" r="1.4" fill="#bd4a4a"/><circle cx="218" cy="528.7" r="1.4" fill="#bd4a4a"/><circle cx="222.6" cy="527.8" r="1.4" fill="#bd4a4a"/><circle cx="224.9" cy="526.9" r="1.4" fill="#bd4a4a"/><circle cx="220.3" cy="526" r="1.4" fill="#bd4a4a"/><circle cx="222.6" cy="519.9" r="1.4" fill="#bd4a4a"/><circle cx="222.6" cy="514.7" r="1.4" fill="#bd4a4a"/><circle cx="224.9" cy="512.9" r="1.4" fill="#bd4a4a"/><circle cx="222.6" cy="511.2" r="1.4" fill="#bd4a4a"/><circle cx="222.6" cy="507.7" r="1.4" fill="#bd4a4a"/>
<line x1="166.7" y1="446.3" x2="166.7" y2="534.4" stroke="#222" stroke-width="1"/>
<line x1="166.2" y1="533.9" x2="232.6" y2="533.9" stroke="#222" stroke-width="1"/>
<line x1="164.89999999999998" y1="533.9" x2="166.7" y2="533.9" stroke="#222" stroke-width="0.9"/>
<text x="163.1" y="537.7" font-size="11" text-anchor="end" fill="#111" stroke="#111">0</text>
<line x1="164.89999999999998" y1="516.4" x2="166.7" y2="516.4" stroke="#222" stroke-width="0.9"/>
<text x="163.1" y="520.2" font-size="11" text-anchor="end" fill="#111" stroke="#111">20</text>
<line x1="164.89999999999998" y1="499" x2="166.7" y2="499" stroke="#222" stroke-width="0.9"/>
<text x="163.1" y="502.8" font-size="11" text-anchor="end" fill="#111" stroke="#111">40</text>
<line x1="164.89999999999998" y1="481.5" x2="166.7" y2="481.5" stroke="#222" stroke-width="0.9"/>
<text x="163.1" y="485.3" font-size="11" text-anchor="end" fill="#111" stroke="#111">60</text>
<line x1="164.89999999999998" y1="464.1" x2="166.7" y2="464.1" stroke="#222" stroke-width="0.9"/>
<text x="163.1" y="467.9" font-size="11" text-anchor="end" fill="#111" stroke="#111">80</text>
<line x1="164.89999999999998" y1="446.6" x2="166.7" y2="446.6" stroke="#222" stroke-width="0.9"/>
<text x="163.1" y="450.4" font-size="11" text-anchor="end" fill="#111" stroke="#111">100</text>
<line x1="177.8" y1="533.9" x2="177.8" y2="536.3" stroke="#222" stroke-width="0.9"/>
<line x1="200.3" y1="533.9" x2="200.3" y2="536.3" stroke="#222" stroke-width="0.9"/>
<line x1="222.6" y1="533.9" x2="222.6" y2="536.3" stroke="#222" stroke-width="0.9"/>
<path d="M177 456.6V448.6H221.8V458.2" fill="none" stroke="#333" stroke-width="0.9"/>
<path d="M177.8 475.9V458.9H199.4V472" fill="none" stroke="#333" stroke-width="0.9"/>
<path d="M203.3 475.9V458.9H221.8V499.9" fill="none" stroke="#333" stroke-width="0.9"/>
<text x="199.4" y="448" font-size="10" text-anchor="middle" font-weight="bold" fill="#111" stroke="#111">***</text>
<text x="188.6" y="459.5" font-size="10" text-anchor="middle" font-weight="bold" fill="#111" stroke="#111">**</text>
<text x="212.5" y="456" font-size="5" text-anchor="middle" fill="#777" stroke="#777">ns</text>
<text x="141.4" y="486.6" font-size="11.3" text-anchor="middle" transform="rotate(-90 141.4 486.6)" letter-spacing="-0.15" fill="#111" stroke="#111">CD39<tspan dy="-3.4" font-size="7.6" font-weight="bold">+</tspan><tspan dy="3.4"> </tspan>CD103<tspan dy="-3.4" font-size="7.6" font-weight="bold">+</tspan><tspan dy="3.4"> </tspan>(%)</text>
<text x="200.4" y="547" font-size="10.4" text-anchor="middle" letter-spacing="-0.2" fill="#111" stroke="#111">CD8</text>
<rect x="3" y="552.6" width="306.8" height="14.4" fill="#fff" stroke="#333" stroke-width="1"/>
<circle cx="13" cy="560" r="3.4" fill="#5a67c8" stroke="#222" stroke-width="0.7"/>
<text x="21" y="563.2" font-size="9" letter-spacing="-0.2" fill="#111" stroke="#111">Central Tissue (CT)</text>
<circle cx="104" cy="560" r="3.4" fill="#bf62cf" stroke="#222" stroke-width="0.7"/>
<text x="111.2" y="563.2" font-size="9" letter-spacing="-0.2" fill="#111" stroke="#111">Peripheral Tissue (PT)</text>
<circle cx="206.6" cy="560" r="3.4" fill="#c45a5a" stroke="#222" stroke-width="0.7"/>
<text x="213" y="563.2" font-size="9" letter-spacing="-0.2" fill="#111" stroke="#111">Non-Tumor Tissue (NTT)</text>
<text x="270.8" y="422.2" font-size="14.8" font-weight="bold" fill="#000" stroke="#000">H</text>
<line x1="401.3" y1="423" x2="401.3" y2="539.5" stroke="#555" stroke-width="0.7" stroke-dasharray="0.8 0.9"/>
<text x="353.6" y="432" font-size="9.3" text-anchor="end" letter-spacing="-0.1" fill="#111" stroke="#111">Age (continous)</text>
<line x1="355.2" y1="428.8" x2="359" y2="428.8" stroke="#222" stroke-width="0.9"/>
<circle cx="401.6" cy="428.8" r="2.35" fill="#000"/>
<text x="353.6" y="443.4" font-size="9.3" text-anchor="end" letter-spacing="-0.1" fill="#111" stroke="#111">Male x Female</text>
<line x1="355.2" y1="440.2" x2="359" y2="440.2" stroke="#222" stroke-width="0.9"/>
<line x1="384.3" y1="440.2" x2="402.3" y2="440.2" stroke="#111" stroke-width="1"/>
<line x1="384.3" y1="437.59999999999997" x2="384.3" y2="442.8" stroke="#111" stroke-width="0.9"/>
<line x1="402.3" y1="437.59999999999997" x2="402.3" y2="442.8" stroke="#111" stroke-width="0.9"/>
<circle cx="394.1" cy="440.2" r="2.35" fill="#000"/>
<text x="353.6" y="454.9" font-size="9.3" text-anchor="end" letter-spacing="-0.1" fill="#111" stroke="#111">T3 x T2</text>
<line x1="355.2" y1="451.7" x2="359" y2="451.7" stroke="#222" stroke-width="0.9"/>
<line x1="388.6" y1="451.7" x2="410.5" y2="451.7" stroke="#111" stroke-width="1"/>
<line x1="388.6" y1="449.09999999999997" x2="388.6" y2="454.3" stroke="#111" stroke-width="0.9"/>
<line x1="410.5" y1="449.09999999999997" x2="410.5" y2="454.3" stroke="#111" stroke-width="0.9"/>
<circle cx="398.4" cy="451.7" r="2.35" fill="#000"/>
<text x="353.6" y="466.5" font-size="9.3" text-anchor="end" letter-spacing="-0.1" fill="#111" stroke="#111">T4 xT2</text>
<line x1="355.2" y1="463.3" x2="359" y2="463.3" stroke="#222" stroke-width="0.9"/>
<line x1="385" y1="463.3" x2="427.8" y2="463.3" stroke="#111" stroke-width="1"/>
<line x1="385" y1="460.7" x2="385" y2="465.90000000000003" stroke="#111" stroke-width="0.9"/>
<line x1="427.8" y1="460.7" x2="427.8" y2="465.90000000000003" stroke="#111" stroke-width="0.9"/>
<circle cx="407.2" cy="463.3" r="2.35" fill="#000"/>
<text x="353.6" y="477.8" font-size="9.3" text-anchor="end" letter-spacing="-0.1" fill="#111" stroke="#111">N1 x N0</text>
<line x1="355.2" y1="474.6" x2="359" y2="474.6" stroke="#222" stroke-width="0.9"/>
<line x1="388.6" y1="474.6" x2="414.7" y2="474.6" stroke="#111" stroke-width="1"/>
<line x1="388.6" y1="472.0" x2="388.6" y2="477.20000000000005" stroke="#111" stroke-width="0.9"/>
<line x1="414.7" y1="472.0" x2="414.7" y2="477.20000000000005" stroke="#111" stroke-width="0.9"/>
<circle cx="400.7" cy="474.6" r="2.35" fill="#000"/>
<text x="353.6" y="489.4" font-size="9.3" text-anchor="end" letter-spacing="-0.1" fill="#111" stroke="#111">N2 x N0</text>
<line x1="355.2" y1="486.2" x2="359" y2="486.2" stroke="#222" stroke-width="0.9"/>
<line x1="366.3" y1="486.2" x2="407.2" y2="486.2" stroke="#111" stroke-width="1"/>
<line x1="366.3" y1="483.59999999999997" x2="366.3" y2="488.8" stroke="#111" stroke-width="0.9"/>
<line x1="407.2" y1="483.59999999999997" x2="407.2" y2="488.8" stroke="#111" stroke-width="0.9"/>
<circle cx="389.2" cy="486.2" r="2.35" fill="#000"/>
<text x="353.6" y="500.7" font-size="9.4" text-anchor="end" font-weight="bold" letter-spacing="-0.1" fill="#111" stroke="#111">M1 x M0</text>
<line x1="355.2" y1="497.5" x2="359" y2="497.5" stroke="#222" stroke-width="0.9"/>
<line x1="418.6" y1="497.5" x2="462.1" y2="497.5" stroke="#aaa" stroke-width="1"/>
<line x1="418.6" y1="494.9" x2="418.6" y2="500.1" stroke="#aaa" stroke-width="0.9"/>
<line x1="462.1" y1="494.9" x2="462.1" y2="500.1" stroke="#aaa" stroke-width="0.9"/>
<circle cx="436" cy="497.5" r="2.35" fill="#000"/>
<text x="353.6" y="512.2" font-size="9.3" text-anchor="end" letter-spacing="-0.1" fill="#111" stroke="#111">CA19-9 (low x high)</text>
<line x1="355.2" y1="509" x2="359" y2="509" stroke="#222" stroke-width="0.9"/>
<line x1="394.1" y1="509" x2="411.1" y2="509" stroke="#111" stroke-width="1"/>
<line x1="394.1" y1="506.4" x2="394.1" y2="511.6" stroke="#111" stroke-width="0.9"/>
<line x1="411.1" y1="506.4" x2="411.1" y2="511.6" stroke="#111" stroke-width="0.9"/>
<circle cx="402.3" cy="509" r="2.35" fill="#000"/>
<text x="353.6" y="523.6" font-size="9.3" text-anchor="end" letter-spacing="-0.1" fill="#111" stroke="#111">Neoadjuvant (yes x no)</text>
<line x1="355.2" y1="520.4" x2="359" y2="520.4" stroke="#222" stroke-width="0.9"/>
<line x1="385.3" y1="520.4" x2="405.6" y2="520.4" stroke="#111" stroke-width="1"/>
<line x1="385.3" y1="517.8" x2="385.3" y2="523.0" stroke="#111" stroke-width="0.9"/>
<line x1="405.6" y1="517.8" x2="405.6" y2="523.0" stroke="#111" stroke-width="0.9"/>
<circle cx="395.8" cy="520.4" r="2.35" fill="#000"/>
<text x="353.6" y="535.2" font-size="9.4" text-anchor="end" font-weight="bold" letter-spacing="-0.1" fill="#111" stroke="#111">CD39 CD103 (low x high)</text>
<line x1="355.2" y1="532" x2="359" y2="532" stroke="#222" stroke-width="0.9"/>
<line x1="404.6" y1="532" x2="426.8" y2="532" stroke="#111" stroke-width="1"/>
<line x1="404.6" y1="529.4" x2="404.6" y2="534.6" stroke="#111" stroke-width="0.9"/>
<line x1="426.8" y1="529.4" x2="426.8" y2="534.6" stroke="#111" stroke-width="0.9"/>
<circle cx="414.4" cy="532" r="2.35" fill="#000"/>
<line x1="359" y1="422" x2="359" y2="540.0" stroke="#222" stroke-width="1"/>
<line x1="358.5" y1="539.5" x2="474.4" y2="539.5" stroke="#222" stroke-width="1"/>
<line x1="358.8" y1="539.5" x2="358.8" y2="541.7" stroke="#222" stroke-width="0.8"/>
<line x1="363.1" y1="539.5" x2="363.1" y2="540.6" stroke="#222" stroke-width="0.5"/>
<line x1="365.6" y1="539.5" x2="365.6" y2="540.6" stroke="#222" stroke-width="0.5"/>
<line x1="368.7" y1="539.5" x2="368.7" y2="540.6" stroke="#222" stroke-width="0.5"/>
<line x1="370.8" y1="539.5" x2="370.8" y2="540.6" stroke="#222" stroke-width="0.5"/>
<text x="361.8" y="548.7" font-size="9.2" text-anchor="end" transform="rotate(-45 361.8 548.7)" letter-spacing="-0.1" fill="#111" stroke="#111">0.001</text>
<line x1="373" y1="539.5" x2="373" y2="541.7" stroke="#222" stroke-width="0.8"/>
<line x1="377.2" y1="539.5" x2="377.2" y2="540.6" stroke="#222" stroke-width="0.5"/>
<line x1="379.7" y1="539.5" x2="379.7" y2="540.6" stroke="#222" stroke-width="0.5"/>
<line x1="382.9" y1="539.5" x2="382.9" y2="540.6" stroke="#222" stroke-width="0.5"/>
<line x1="384.9" y1="539.5" x2="384.9" y2="540.6" stroke="#222" stroke-width="0.5"/>
<text x="376" y="548.7" font-size="9.2" text-anchor="end" transform="rotate(-45 376 548.7)" letter-spacing="-0.1" fill="#111" stroke="#111">0.01</text>
<line x1="387.1" y1="539.5" x2="387.1" y2="541.7" stroke="#222" stroke-width="0.8"/>
<line x1="391.4" y1="539.5" x2="391.4" y2="540.6" stroke="#222" stroke-width="0.5"/>
<line x1="393.9" y1="539.5" x2="393.9" y2="540.6" stroke="#222" stroke-width="0.5"/>
<line x1="397" y1="539.5" x2="397" y2="540.6" stroke="#222" stroke-width="0.5"/>
<line x1="399.1" y1="539.5" x2="399.1" y2="540.6" stroke="#222" stroke-width="0.5"/>
<text x="390.1" y="548.7" font-size="9.2" text-anchor="end" transform="rotate(-45 390.1 548.7)" letter-spacing="-0.1" fill="#111" stroke="#111">0.1</text>
<line x1="401.3" y1="539.5" x2="401.3" y2="541.7" stroke="#222" stroke-width="0.8"/>
<line x1="405.6" y1="539.5" x2="405.6" y2="540.6" stroke="#222" stroke-width="0.5"/>
<line x1="408.1" y1="539.5" x2="408.1" y2="540.6" stroke="#222" stroke-width="0.5"/>
<line x1="411.2" y1="539.5" x2="411.2" y2="540.6" stroke="#222" stroke-width="0.5"/>
<line x1="413.3" y1="539.5" x2="413.3" y2="540.6" stroke="#222" stroke-width="0.5"/>
<text x="404.3" y="548.7" font-size="9.2" text-anchor="end" transform="rotate(-45 404.3 548.7)" letter-spacing="-0.1" fill="#111" stroke="#111">1</text>
<line x1="415.5" y1="539.5" x2="415.5" y2="541.7" stroke="#222" stroke-width="0.8"/>
<line x1="419.7" y1="539.5" x2="419.7" y2="540.6" stroke="#222" stroke-width="0.5"/>
<line x1="422.2" y1="539.5" x2="422.2" y2="540.6" stroke="#222" stroke-width="0.5"/>
<line x1="425.4" y1="539.5" x2="425.4" y2="540.6" stroke="#222" stroke-width="0.5"/>
<line x1="427.5" y1="539.5" x2="427.5" y2="540.6" stroke="#222" stroke-width="0.5"/>
<text x="418.5" y="548.7" font-size="9.2" text-anchor="end" transform="rotate(-45 418.5 548.7)" letter-spacing="-0.1" fill="#111" stroke="#111">10</text>
<line x1="429.6" y1="539.5" x2="429.6" y2="541.7" stroke="#222" stroke-width="0.8"/>
<line x1="433.9" y1="539.5" x2="433.9" y2="540.6" stroke="#222" stroke-width="0.5"/>
<line x1="436.4" y1="539.5" x2="436.4" y2="540.6" stroke="#222" stroke-width="0.5"/>
<line x1="439.6" y1="539.5" x2="439.6" y2="540.6" stroke="#222" stroke-width="0.5"/>
<line x1="441.6" y1="539.5" x2="441.6" y2="540.6" stroke="#222" stroke-width="0.5"/>
<text x="432.6" y="548.7" font-size="9.2" text-anchor="end" transform="rotate(-45 432.6 548.7)" letter-spacing="-0.1" fill="#111" stroke="#111">100</text>
<line x1="443.8" y1="539.5" x2="443.8" y2="541.7" stroke="#222" stroke-width="0.8"/>
<line x1="448.1" y1="539.5" x2="448.1" y2="540.6" stroke="#222" stroke-width="0.5"/>
<line x1="450.6" y1="539.5" x2="450.6" y2="540.6" stroke="#222" stroke-width="0.5"/>
<line x1="453.7" y1="539.5" x2="453.7" y2="540.6" stroke="#222" stroke-width="0.5"/>
<line x1="455.8" y1="539.5" x2="455.8" y2="540.6" stroke="#222" stroke-width="0.5"/>
<text x="446.8" y="548.7" font-size="9.2" text-anchor="end" transform="rotate(-45 446.8 548.7)" letter-spacing="-0.1" fill="#111" stroke="#111">1,000</text>
<line x1="458" y1="539.5" x2="458" y2="541.7" stroke="#222" stroke-width="0.8"/>
<line x1="462.3" y1="539.5" x2="462.3" y2="540.6" stroke="#222" stroke-width="0.5"/>
<line x1="464.8" y1="539.5" x2="464.8" y2="540.6" stroke="#222" stroke-width="0.5"/>
<line x1="467.9" y1="539.5" x2="467.9" y2="540.6" stroke="#222" stroke-width="0.5"/>
<line x1="470" y1="539.5" x2="470" y2="540.6" stroke="#222" stroke-width="0.5"/>
<text x="461" y="548.7" font-size="9.2" text-anchor="end" transform="rotate(-45 461 548.7)" letter-spacing="-0.1" fill="#111" stroke="#111">10,000</text>
<line x1="472.2" y1="539.5" x2="472.2" y2="541.7" stroke="#222" stroke-width="0.8"/>
<text x="475.2" y="548.7" font-size="9.2" text-anchor="end" transform="rotate(-45 475.2 548.7)" letter-spacing="-0.1" fill="#111" stroke="#111">100,000</text>
<text x="255.2" y="480.2" font-size="8.7" text-anchor="middle" font-weight="bold" transform="rotate(-90 255.2 480.2)" letter-spacing="0.05" fill="#111" stroke="#111" stroke-width="0.25">Parameters</text>
<text x="416" y="583.4" font-size="9" text-anchor="middle" font-weight="bold" letter-spacing="-0.05" fill="#111" stroke="#111">Hazard Ratio</text>
<text x="470.3" y="500.2" font-size="8" letter-spacing="-0.1" fill="#111" stroke="#111"><tspan font-style="italic">P</tspan>=0.0013**</text>
<text x="444.8" y="534.8" font-size="8" letter-spacing="-0.1" fill="#111" stroke="#111"><tspan font-style="italic">P</tspan>=0.0199*</text>
<text x="4.4" y="591" font-size="15.8" font-weight="bold" fill="#000" stroke="#000">G</text>
<path d="M33.8 607.9H39.6V611.8H43.0V615.6H47.2V619.4H48.8V623.3H50.5V627.1H53.0V631.0H59.7V634.9H61.4V641.8H68.9V646.8H76.4V654.1H78.1V659.5H79.7V665.8H112.3" fill="none" stroke="#8c8c8c" stroke-width="1"/>
<path d="M33.8 607.9H40.5V611.8H62.2V616.8H84.7V625.6H88.1V633.7H112.3" fill="none" stroke="#f66a6a" stroke-width="1"/>
<rect x="67.4" y="640.5" width="1.2" height="1.5" fill="#222"/>
<rect x="97.5" y="664.5" width="1.2" height="1.5" fill="#222"/>
<rect x="107.5" y="664.5" width="1.2" height="1.5" fill="#222"/>
<rect x="110.0" y="664.5" width="1.2" height="1.5" fill="#222"/>
<rect x="51.6" y="610.5" width="1.2" height="1.5" fill="#222"/>
<rect x="58.2" y="610.5" width="1.2" height="1.5" fill="#222"/>
<rect x="60.8" y="610.5" width="1.2" height="1.5" fill="#222"/>
<rect x="65.8" y="615.5" width="1.2" height="1.5" fill="#222"/>
<rect x="71.6" y="615.5" width="1.2" height="1.5" fill="#222"/>
<rect x="76.6" y="615.5" width="1.2" height="1.5" fill="#222"/>
<rect x="89.1" y="632.4" width="1.2" height="1.5" fill="#222"/>
<rect x="90.8" y="632.4" width="1.2" height="1.5" fill="#222"/>
<rect x="105.0" y="632.4" width="1.2" height="1.5" fill="#222"/>
<rect x="110.9" y="632.4" width="1.2" height="1.5" fill="#222"/>
<line x1="33.8" y1="607.5" x2="33.8" y2="685.4" stroke="#222" stroke-width="1"/>
<line x1="33.3" y1="684.9" x2="117.7" y2="684.9" stroke="#222" stroke-width="1"/>
<line x1="31.4" y1="684.9" x2="33.8" y2="684.9" stroke="#222" stroke-width="0.9"/>
<text x="30.6" y="688.3" font-size="9.7" text-anchor="end" letter-spacing="-0.1" fill="#111" stroke="#111">0</text>
<line x1="31.4" y1="669.5" x2="33.8" y2="669.5" stroke="#222" stroke-width="0.9"/>
<text x="30.6" y="672.9" font-size="9.7" text-anchor="end" letter-spacing="-0.1" fill="#111" stroke="#111">20</text>
<line x1="31.4" y1="654.1" x2="33.8" y2="654.1" stroke="#222" stroke-width="0.9"/>
<text x="30.6" y="657.5" font-size="9.7" text-anchor="end" letter-spacing="-0.1" fill="#111" stroke="#111">40</text>
<line x1="31.4" y1="638.7" x2="33.8" y2="638.7" stroke="#222" stroke-width="0.9"/>
<text x="30.6" y="642.1" font-size="9.7" text-anchor="end" letter-spacing="-0.1" fill="#111" stroke="#111">60</text>
<line x1="31.4" y1="623.3" x2="33.8" y2="623.3" stroke="#222" stroke-width="0.9"/>
<text x="30.6" y="626.7" font-size="9.7" text-anchor="end" letter-spacing="-0.1" fill="#111" stroke="#111">80</text>
<line x1="31.4" y1="607.9" x2="33.8" y2="607.9" stroke="#222" stroke-width="0.9"/>
<text x="30.6" y="611.3" font-size="9.7" text-anchor="end" letter-spacing="-0.1" fill="#111" stroke="#111">100</text>
<line x1="33.8" y1="684.9" x2="33.8" y2="687.3" stroke="#222" stroke-width="0.9"/>
<text x="33.8" y="698.2" font-size="10" text-anchor="middle" fill="#111" stroke="#111">0</text>
<line x1="50.5" y1="684.9" x2="50.5" y2="687.3" stroke="#222" stroke-width="0.9"/>
<text x="50.5" y="698.2" font-size="10" text-anchor="middle" fill="#111" stroke="#111">1</text>
<line x1="67.2" y1="684.9" x2="67.2" y2="687.3" stroke="#222" stroke-width="0.9"/>
<text x="67.2" y="698.2" font-size="10" text-anchor="middle" fill="#111" stroke="#111">2</text>
<line x1="83.9" y1="684.9" x2="83.9" y2="687.3" stroke="#222" stroke-width="0.9"/>
<text x="83.9" y="698.2" font-size="10" text-anchor="middle" fill="#111" stroke="#111">3</text>
<line x1="100.6" y1="684.9" x2="100.6" y2="687.3" stroke="#222" stroke-width="0.9"/>
<text x="100.6" y="698.2" font-size="10" text-anchor="middle" fill="#111" stroke="#111">4</text>
<line x1="117.3" y1="684.9" x2="117.3" y2="687.3" stroke="#222" stroke-width="0.9"/>
<text x="117.3" y="698.2" font-size="10" text-anchor="middle" fill="#111" stroke="#111">5</text>
<text x="75" y="591" font-size="10.4" text-anchor="middle" letter-spacing="-0.1" fill="#111" stroke="#111">Central tissue</text>
<text transform="translate(67 607.4) scale(0.9 1)" font-size="9.4" fill="#111" stroke="#111"><tspan font-style="italic">P</tspan>=<tspan dx="1.6">0.0063</tspan></text>
<text x="37" y="681.9" font-size="7.5" letter-spacing="-0.15" fill="#111" stroke="#111">median 18% (1-62%)</text>
<text x="10.2" y="643.4" font-size="8.7" text-anchor="middle" transform="rotate(-90 10.2 643.4)" letter-spacing="-0.1" fill="#111" stroke="#111">Probability of survival</text>
<text x="75.8" y="709.4" font-size="8.5" text-anchor="middle" letter-spacing="-0.12" fill="#111" stroke="#111">Years after surgery</text>
<line x1="97.2" y1="646.4" x2="104.60000000000001" y2="646.4" stroke="#8c8c8c" stroke-width="1"/>
<rect x="100.3" y="645.0" width="1.2" height="1.5" fill="#222"/>
<text x="109.8" y="649.2" font-size="7.8" letter-spacing="-0.12" fill="#111" stroke="#111">low &lt;18 <tspan font-style="italic">n</tspan>=20</text>
<line x1="97.2" y1="655.3" x2="104.60000000000001" y2="655.3" stroke="#f66a6a" stroke-width="1"/>
<rect x="100.3" y="653.9" width="1.2" height="1.5" fill="#222"/>
<text x="109.8" y="658.1" font-size="7.8" letter-spacing="-0.12" fill="#111" stroke="#111">high &gt;18 <tspan font-style="italic">n</tspan>=19</text>
<path d="M198.8 607.9H204.6V611.8H211.3V615.6H213.0V619.4H214.7V623.3H217.2V627.1H224.7V631.0H225.5V635.6H226.4V639.9H233.9V645.6H241.4V650.2H243.1V657.2H244.7V662.2H273.9" fill="none" stroke="#8c8c8c" stroke-width="1"/>
<path d="M198.8 607.9H204.6V611.8H227.2V616.8H249.7V625.6H253.1V633.7H277.3" fill="none" stroke="#f66a6a" stroke-width="1"/>
<rect x="232.4" y="638.6" width="1.2" height="1.5" fill="#222"/>
<rect x="255.0" y="660.9" width="1.2" height="1.5" fill="#222"/>
<rect x="262.5" y="660.9" width="1.2" height="1.5" fill="#222"/>
<rect x="270.0" y="660.9" width="1.2" height="1.5" fill="#222"/>
<rect x="272.5" y="660.9" width="1.2" height="1.5" fill="#222"/>
<rect x="215.7" y="610.5" width="1.2" height="1.5" fill="#222"/>
<rect x="223.3" y="610.5" width="1.2" height="1.5" fill="#222"/>
<rect x="225.8" y="610.5" width="1.2" height="1.5" fill="#222"/>
<rect x="230.8" y="615.5" width="1.2" height="1.5" fill="#222"/>
<rect x="236.6" y="615.5" width="1.2" height="1.5" fill="#222"/>
<rect x="241.6" y="615.5" width="1.2" height="1.5" fill="#222"/>
<rect x="254.1" y="632.4" width="1.2" height="1.5" fill="#222"/>
<rect x="256.6" y="632.4" width="1.2" height="1.5" fill="#222"/>
<rect x="264.2" y="632.4" width="1.2" height="1.5" fill="#222"/>
<rect x="270.8" y="632.4" width="1.2" height="1.5" fill="#222"/>
<rect x="275.9" y="632.4" width="1.2" height="1.5" fill="#222"/>
<line x1="198.8" y1="607.5" x2="198.8" y2="685.4" stroke="#222" stroke-width="1"/>
<line x1="198.3" y1="684.9" x2="282.7" y2="684.9" stroke="#222" stroke-width="1"/>
<line x1="196.4" y1="684.9" x2="198.8" y2="684.9" stroke="#222" stroke-width="0.9"/>
<text x="195.6" y="688.3" font-size="9.7" text-anchor="end" letter-spacing="-0.1" fill="#111" stroke="#111">0</text>
<line x1="196.4" y1="669.5" x2="198.8" y2="669.5" stroke="#222" stroke-width="0.9"/>
<text x="195.6" y="672.9" font-size="9.7" text-anchor="end" letter-spacing="-0.1" fill="#111" stroke="#111">20</text>
<line x1="196.4" y1="654.1" x2="198.8" y2="654.1" stroke="#222" stroke-width="0.9"/>
<text x="195.6" y="657.5" font-size="9.7" text-anchor="end" letter-spacing="-0.1" fill="#111" stroke="#111">40</text>
<line x1="196.4" y1="638.7" x2="198.8" y2="638.7" stroke="#222" stroke-width="0.9"/>
<text x="195.6" y="642.1" font-size="9.7" text-anchor="end" letter-spacing="-0.1" fill="#111" stroke="#111">60</text>
<line x1="196.4" y1="623.3" x2="198.8" y2="623.3" stroke="#222" stroke-width="0.9"/>
<text x="195.6" y="626.7" font-size="9.7" text-anchor="end" letter-spacing="-0.1" fill="#111" stroke="#111">80</text>
<line x1="196.4" y1="607.9" x2="198.8" y2="607.9" stroke="#222" stroke-width="0.9"/>
<text x="195.6" y="611.3" font-size="9.7" text-anchor="end" letter-spacing="-0.1" fill="#111" stroke="#111">100</text>
<line x1="198.8" y1="684.9" x2="198.8" y2="687.3" stroke="#222" stroke-width="0.9"/>
<text x="198.8" y="698.2" font-size="10" text-anchor="middle" fill="#111" stroke="#111">0</text>
<line x1="215.5" y1="684.9" x2="215.5" y2="687.3" stroke="#222" stroke-width="0.9"/>
<text x="215.5" y="698.2" font-size="10" text-anchor="middle" fill="#111" stroke="#111">1</text>
<line x1="232.2" y1="684.9" x2="232.2" y2="687.3" stroke="#222" stroke-width="0.9"/>
<text x="232.2" y="698.2" font-size="10" text-anchor="middle" fill="#111" stroke="#111">2</text>
<line x1="248.9" y1="684.9" x2="248.9" y2="687.3" stroke="#222" stroke-width="0.9"/>
<text x="248.9" y="698.2" font-size="10" text-anchor="middle" fill="#111" stroke="#111">3</text>
<line x1="265.6" y1="684.9" x2="265.6" y2="687.3" stroke="#222" stroke-width="0.9"/>
<text x="265.6" y="698.2" font-size="10" text-anchor="middle" fill="#111" stroke="#111">4</text>
<line x1="282.3" y1="684.9" x2="282.3" y2="687.3" stroke="#222" stroke-width="0.9"/>
<text x="282.3" y="698.2" font-size="10" text-anchor="middle" fill="#111" stroke="#111">5</text>
<text x="240.1" y="591" font-size="10.5" text-anchor="middle" letter-spacing="-0.1" fill="#111" stroke="#111">Peripheral tissue</text>
<text transform="translate(231.5 606.8) scale(0.9 1)" font-size="9.4" fill="#111" stroke="#111"><tspan font-style="italic">P</tspan>=0.0123</text>
<text x="202" y="681.9" font-size="7.5" letter-spacing="-0.15" fill="#111" stroke="#111">median 8% (1-65%)</text>
<text x="176.4" y="643.4" font-size="8.7" text-anchor="middle" transform="rotate(-90 176.4 643.4)" letter-spacing="-0.1" fill="#111" stroke="#111">Probability of survival</text>
<text x="240.6" y="709.4" font-size="8.5" text-anchor="middle" letter-spacing="-0.12" fill="#111" stroke="#111">Years after surgery</text>
<line x1="248.5" y1="645.1" x2="255.9" y2="645.1" stroke="#8c8c8c" stroke-width="1"/>
<rect x="251.6" y="643.7" width="1.2" height="1.5" fill="#222"/>
<text x="261.1" y="647.9" font-size="7.8" letter-spacing="-0.12" fill="#111" stroke="#111">Low &lt;8 <tspan font-style="italic">n</tspan>=19</text>
<line x1="248.5" y1="651.9" x2="255.9" y2="651.9" stroke="#f66a6a" stroke-width="1"/>
<rect x="251.6" y="650.5" width="1.2" height="1.5" fill="#222"/>
<text x="261.1" y="654.7" font-size="7.8" letter-spacing="-0.12" fill="#111" stroke="#111">High &gt;8 <tspan font-style="italic">n</tspan>=19</text>
<path d="M346.9 607.9H361.1V612.5H363.6V617.1H366.1V621.8H372.8V626.0H382.0V634.9H390.3V644.1H391.2V651.4H425.4" fill="none" stroke="#8c8c8c" stroke-width="1"/>
<path d="M346.9 607.9H352.7V617.1H355.2V621.8H359.4V626.0H373.6V631.0H375.3V635.6H390.3V644.1H402.0V654.5H425.4" fill="none" stroke="#f66a6a" stroke-width="1"/>
<rect x="364.7" y="615.8" width="1.2" height="1.5" fill="#222"/>
<rect x="373.0" y="624.7" width="1.2" height="1.5" fill="#222"/>
<rect x="380.5" y="624.7" width="1.2" height="1.5" fill="#222"/>
<rect x="383.9" y="633.6" width="1.2" height="1.5" fill="#222"/>
<rect x="388.0" y="633.6" width="1.2" height="1.5" fill="#222"/>
<rect x="404.7" y="650.1" width="1.2" height="1.5" fill="#222"/>
<rect x="411.4" y="650.1" width="1.2" height="1.5" fill="#222"/>
<rect x="424.0" y="650.1" width="1.2" height="1.5" fill="#222"/>
<rect x="377.2" y="634.3" width="1.2" height="1.5" fill="#222"/>
<rect x="379.7" y="634.3" width="1.2" height="1.5" fill="#222"/>
<rect x="389.7" y="642.8" width="1.2" height="1.5" fill="#222"/>
<rect x="402.2" y="653.2" width="1.2" height="1.5" fill="#222"/>
<rect x="412.3" y="653.2" width="1.2" height="1.5" fill="#222"/>
<rect x="424.0" y="653.2" width="1.2" height="1.5" fill="#222"/>
<line x1="346.9" y1="607.5" x2="346.9" y2="685.4" stroke="#222" stroke-width="1"/>
<line x1="346.4" y1="684.9" x2="430.79999999999995" y2="684.9" stroke="#222" stroke-width="1"/>
<line x1="344.5" y1="684.9" x2="346.9" y2="684.9" stroke="#222" stroke-width="0.9"/>
<text x="343.7" y="688.3" font-size="9.7" text-anchor="end" letter-spacing="-0.1" fill="#111" stroke="#111">0</text>
<line x1="344.5" y1="669.5" x2="346.9" y2="669.5" stroke="#222" stroke-width="0.9"/>
<text x="343.7" y="672.9" font-size="9.7" text-anchor="end" letter-spacing="-0.1" fill="#111" stroke="#111">20</text>
<line x1="344.5" y1="654.1" x2="346.9" y2="654.1" stroke="#222" stroke-width="0.9"/>
<text x="343.7" y="657.5" font-size="9.7" text-anchor="end" letter-spacing="-0.1" fill="#111" stroke="#111">40</text>
<line x1="344.5" y1="638.7" x2="346.9" y2="638.7" stroke="#222" stroke-width="0.9"/>
<text x="343.7" y="642.1" font-size="9.7" text-anchor="end" letter-spacing="-0.1" fill="#111" stroke="#111">60</text>
<line x1="344.5" y1="623.3" x2="346.9" y2="623.3" stroke="#222" stroke-width="0.9"/>
<text x="343.7" y="626.7" font-size="9.7" text-anchor="end" letter-spacing="-0.1" fill="#111" stroke="#111">80</text>
<line x1="344.5" y1="607.9" x2="346.9" y2="607.9" stroke="#222" stroke-width="0.9"/>
<text x="343.7" y="611.3" font-size="9.7" text-anchor="end" letter-spacing="-0.1" fill="#111" stroke="#111">100</text>
<line x1="346.9" y1="684.9" x2="346.9" y2="687.3" stroke="#222" stroke-width="0.9"/>
<text x="346.9" y="698.2" font-size="10" text-anchor="middle" fill="#111" stroke="#111">0</text>
<line x1="363.6" y1="684.9" x2="363.6" y2="687.3" stroke="#222" stroke-width="0.9"/>
<text x="363.6" y="698.2" font-size="10" text-anchor="middle" fill="#111" stroke="#111">1</text>
<line x1="380.3" y1="684.9" x2="380.3" y2="687.3" stroke="#222" stroke-width="0.9"/>
<text x="380.3" y="698.2" font-size="10" text-anchor="middle" fill="#111" stroke="#111">2</text>
<line x1="397" y1="684.9" x2="397" y2="687.3" stroke="#222" stroke-width="0.9"/>
<text x="397" y="698.2" font-size="10" text-anchor="middle" fill="#111" stroke="#111">3</text>
<line x1="413.7" y1="684.9" x2="413.7" y2="687.3" stroke="#222" stroke-width="0.9"/>
<text x="413.7" y="698.2" font-size="10" text-anchor="middle" fill="#111" stroke="#111">4</text>
<line x1="430.4" y1="684.9" x2="430.4" y2="687.3" stroke="#222" stroke-width="0.9"/>
<text x="430.4" y="698.2" font-size="10" text-anchor="middle" fill="#111" stroke="#111">5</text>
<text x="385.2" y="591" font-size="10.5" text-anchor="middle" letter-spacing="-0.1" fill="#111" stroke="#111">Non-tumor tissue</text>
<text transform="translate(378.2 608.8) scale(0.9 1)" font-size="9.4" fill="#111" stroke="#111"><tspan font-style="italic">P</tspan>=0.6743</text>
<text x="350.1" y="681.9" font-size="7.5" letter-spacing="-0.15" fill="#111" stroke="#111">median 3% (1-30%)</text>
<text x="322" y="643.4" font-size="8.7" text-anchor="middle" transform="rotate(-90 322 643.4)" letter-spacing="-0.1" fill="#111" stroke="#111">Probability of survival</text>
<text x="388.4" y="709.4" font-size="8.5" text-anchor="middle" letter-spacing="-0.12" fill="#111" stroke="#111">Years after surgery</text>
<line x1="378.7" y1="659.5" x2="386.09999999999997" y2="659.5" stroke="#8c8c8c" stroke-width="1"/>
<rect x="381.8" y="658.1" width="1.2" height="1.5" fill="#222"/>
<text x="391.3" y="662.3" font-size="7.8" letter-spacing="-0.12" fill="#111" stroke="#111">Low &lt;3 <tspan font-style="italic">n</tspan>=17</text>
<line x1="378.7" y1="667.6" x2="386.09999999999997" y2="667.6" stroke="#f66a6a" stroke-width="1"/>
<rect x="381.8" y="666.2" width="1.2" height="1.5" fill="#222"/>
<text x="391.3" y="670.4" font-size="7.8" letter-spacing="-0.12" fill="#111" stroke="#111">High &gt;3 <tspan font-style="italic">n</tspan>=17</text>
</svg></body></html>
